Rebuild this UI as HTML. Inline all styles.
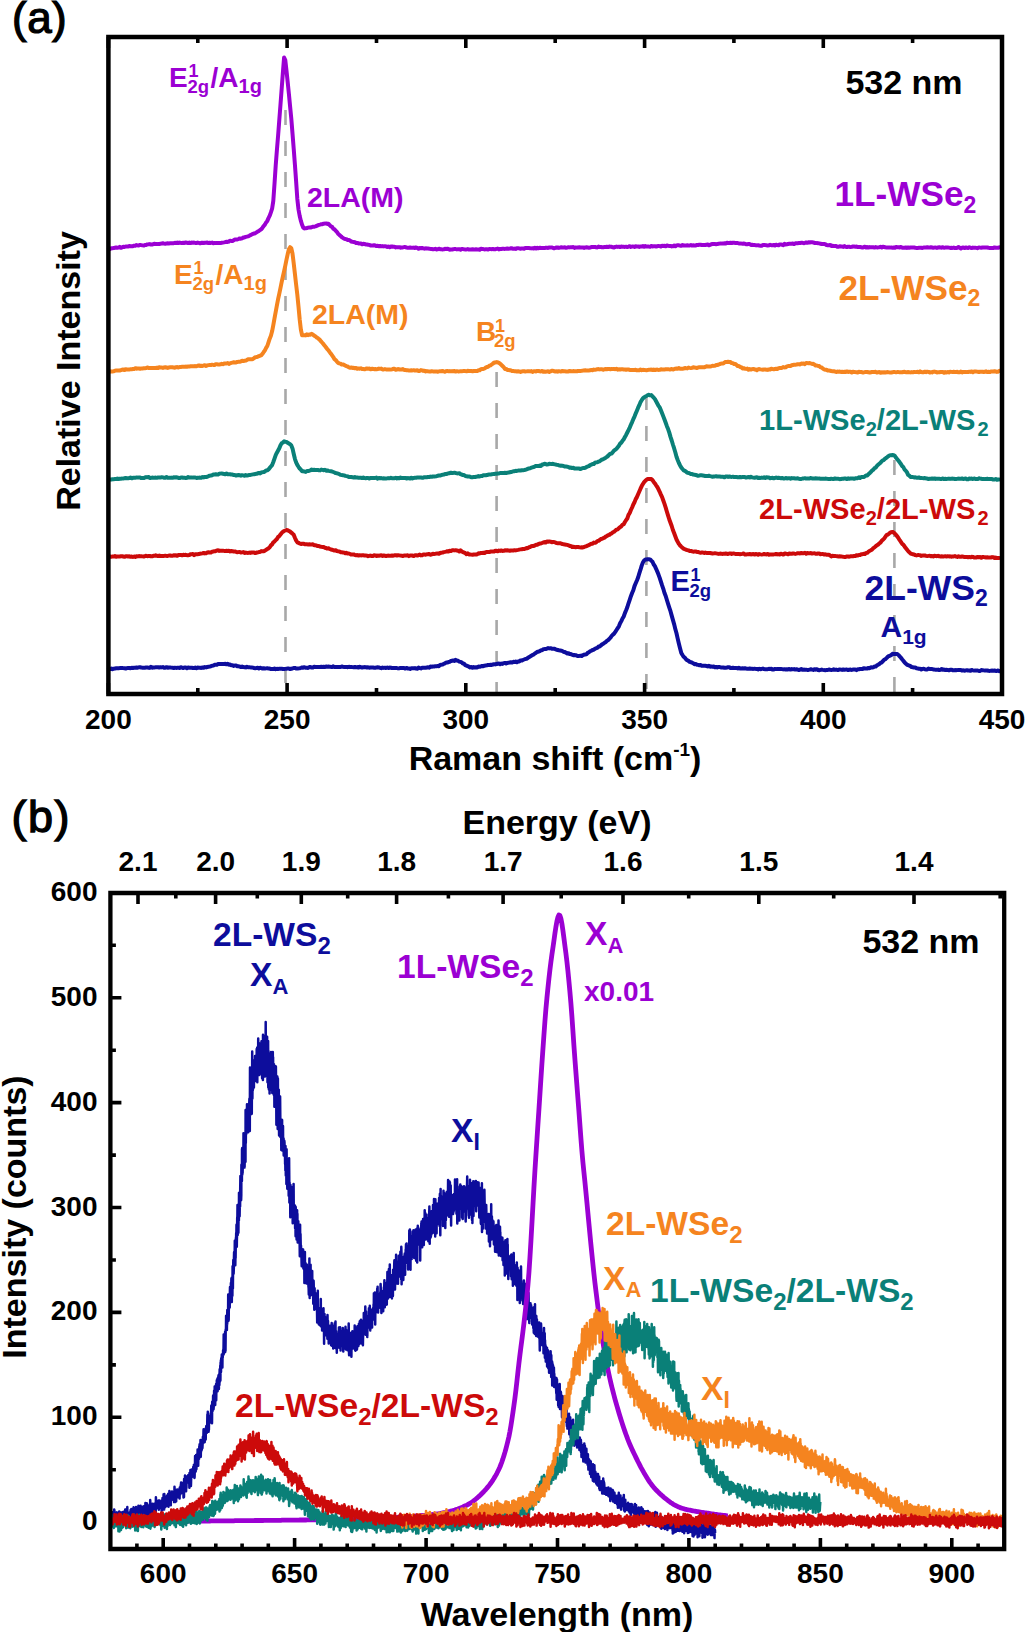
<!DOCTYPE html><html><head><meta charset="utf-8"><style>html,body{margin:0;padding:0;background:#fff;overflow:hidden}svg{display:block}</style></head><body><svg width="1025" height="1632" viewBox="0 0 1025 1632" font-family='"Liberation Sans", sans-serif'>
<rect width="100%" height="100%" fill="#fff"/>
<path d="M285.5,110.1 V692" stroke="#a8a8a8" stroke-width="2.6" stroke-dasharray="15 16" fill="none"/>
<path d="M496.6,372 V692" stroke="#a8a8a8" stroke-width="2.6" stroke-dasharray="15 16" fill="none"/>
<path d="M646.4,395 V692" stroke="#a8a8a8" stroke-width="2.6" stroke-dasharray="15 16" fill="none"/>
<path d="M894.4,460 V692" stroke="#a8a8a8" stroke-width="2.6" stroke-dasharray="15 16" fill="none"/>
<path d="M108.9,248.4 110.1,248.9 111.3,248.3 112.5,248.2 113.7,248.1 114.9,247.8 116.1,247.5 117.3,247.8 118.5,247.6 119.7,246.9 120.9,247.8 122.1,247.3 123.3,246.7 124.5,247 125.7,246.5 126.9,246.5 128.1,246.6 129.3,245.9 130.5,246.2 131.7,246.3 132.9,246.2 134.1,245.7 135.3,245.8 136.5,245.1 137.7,245.4 138.9,245.4 140.1,244.9 141.3,245.1 142.5,245.4 143.7,245.6 144.9,245 146.1,245 147.3,244.4 148.5,244.3 149.7,244.1 150.9,244.5 152.1,244.5 153.3,244.1 154.5,243.8 155.7,244.1 156.9,244.1 158.1,243.9 159.3,244.1 160.5,243.7 161.7,243.6 162.9,243.3 164.1,243.6 165.3,243.8 166.5,243.4 167.7,243.3 168.9,243.4 170.1,243.3 171.3,243.3 172.5,243.2 173.7,243.2 174.9,242.8 176.1,243.1 177.3,242.6 178.5,243 179.7,242.6 180.9,242.9 182.1,243 183.3,242.8 184.5,242.9 185.7,242.5 186.9,242.7 188.1,243.1 189.3,242.6 190.5,243.1 191.7,242.6 192.9,242.7 194.1,242.6 195.3,242.9 196.5,243 197.7,242.6 198.9,242.9 200.1,243.3 201.3,242.8 202.5,242.7 203.7,243 204.9,242.8 206.1,242.7 207.3,242.5 208.5,243.1 209.7,242.8 210.9,242.9 212.1,242.6 213.3,243.2 214.5,243.1 215.7,243.1 216.9,242.9 218.1,243 219.3,243.1 220.5,243.1 221.7,242.8 222.9,242.6 224.1,242.4 225.3,242.1 226.5,241.8 227.7,241.9 228.9,241.5 230.1,240.7 231.3,240.9 232.5,240.9 233.7,240.2 234.9,239.5 236.1,239.6 237.3,239.5 238.5,239 239.7,238.4 240.9,238.7 242.1,238.3 243.3,237.5 244.5,237.4 245.7,236.9 246.9,236.6 248.1,236.4 249.3,235.8 250.5,235.1 251.7,234.5 252.9,233.9 254.1,233.5 255.3,233.2 256.5,232.4 257.7,231.6 258.9,230.9 260.1,230 261.3,229.3 262.5,227.7 263.7,226 264.9,224.6 266.1,222.4 267.3,220.9 268.5,218.1 269.7,215.7 270.9,212.4 272.1,208.7 273.3,200.9 274.5,183.9 275.7,165.7 276.9,150.2 278.1,135.7 279.3,119.9 280.5,104.3 281.7,88.3 282.9,72.3 284.1,57.5 285.3,60.1 286.5,70.8 287.7,82.2 288.9,93.9 290.1,106.5 291.3,118.6 292.5,133.5 293.7,148.7 294.9,164.4 296.1,181.2 297.3,198.7 298.5,209.5 299.7,216 300.9,220.9 302.1,224.8 303.3,227.8 304.5,228.4 305.7,228.2 306.9,228 308.1,227.6 309.3,227.4 310.5,227.6 311.7,227.1 312.9,226.8 314.1,226.7 315.3,226.4 316.5,226 317.7,225.4 318.9,224.9 320.1,224.6 321.3,224.2 322.5,224.2 323.7,223.7 324.9,223.6 326.1,223.4 327.3,223.9 328.5,223.7 329.7,225.2 330.9,226.4 332.1,226.9 333.3,228.8 334.5,229.4 335.7,230.8 336.9,231.9 338.1,233.8 339.3,234.9 340.5,235.8 341.7,237 342.9,237.8 344.1,238.6 345.3,239 346.5,239.2 347.7,239.9 348.9,239.9 350.1,240.7 351.3,241.5 352.5,241.8 353.7,242 354.9,242.2 356.1,243 357.3,242.9 358.5,243.4 359.7,243.5 360.9,243.5 362.1,244.3 363.3,243.8 364.5,244 365.7,244.4 366.9,244.5 368.1,244.7 369.3,244.9 370.5,245.5 371.7,245.4 372.9,245.6 374.1,245.2 375.3,245.5 376.5,246.1 377.7,245.7 378.9,246.3 380.1,245.9 381.3,246.3 382.5,246.1 383.7,246.4 384.9,246.2 386.1,246.4 387.3,247 388.5,246.5 389.7,247.2 390.9,246.6 392.1,246.5 393.3,246.8 394.5,246.8 395.7,247.4 396.9,247.2 398.1,247.3 399.3,247.2 400.5,247.7 401.7,247.4 402.9,247.4 404.1,247.1 405.3,247.1 406.5,247.5 407.7,247.7 408.9,247.8 410.1,247.4 411.3,247.8 412.5,247.8 413.7,247.6 414.9,248 416.1,247.4 417.3,248.1 418.5,248.8 419.7,248 420.9,248.3 422.1,247.9 423.3,248.3 424.5,248.7 425.7,248.3 426.9,248.6 428.1,248.6 429.3,248.7 430.5,248.9 431.7,249 432.9,249.2 434.1,249.2 435.3,248.8 436.5,249.4 437.7,249.3 438.9,248.7 440.1,249.2 441.3,249.3 442.5,249.4 443.7,249.3 444.9,248.8 446.1,249.1 447.3,248.7 448.5,249.2 449.7,249.7 450.9,249.4 452.1,249.5 453.3,249.2 454.5,249.1 455.7,249.1 456.9,249.4 458.1,249.2 459.3,249.2 460.5,249.7 461.7,249 462.9,249.1 464.1,249.3 465.3,249.4 466.5,249.4 467.7,249.1 468.9,249.5 470.1,249.4 471.3,249.6 472.5,249.2 473.7,249.5 474.9,249.5 476.1,249.3 477.3,249.4 478.5,249.4 479.7,249.8 480.9,248.7 482.1,249.1 483.3,249.1 484.5,249.4 485.7,249.3 486.9,249.3 488.1,249.6 489.3,248.9 490.5,249.1 491.7,249.2 492.9,248.9 494.1,249.3 495.3,249.2 496.5,248.9 497.7,248.6 498.9,249.4 500.1,249 501.3,249 502.5,248.8 503.7,248.8 504.9,248.9 506.1,248.7 507.3,248.5 508.5,248.8 509.7,248.6 510.9,248.3 512.1,248.3 513.3,248.8 514.5,248.6 515.7,248.9 516.9,248.3 518.1,248.2 519.3,248.4 520.5,248.7 521.7,248.4 522.9,248.4 524.1,248.7 525.3,248 526.5,247.9 527.7,248 528.9,248.1 530.1,248.2 531.3,248.4 532.5,248.2 533.7,248.5 534.9,247.8 536.1,248.5 537.3,247.8 538.5,248.3 539.7,247.7 540.9,248 542.1,247.9 543.3,248 544.5,248.1 545.7,247.8 546.9,247.8 548.1,247.9 549.3,247.5 550.5,247.6 551.7,247.4 552.9,247.8 554.1,248.3 555.3,247.9 556.5,247.5 557.7,247.5 558.9,247.9 560.1,247.6 561.3,247.3 562.5,247.4 563.7,247.4 564.9,247.3 566.1,247.8 567.3,247.6 568.5,247.2 569.7,247.4 570.9,247.2 572.1,247.2 573.3,247.1 574.5,247.9 575.7,247.4 576.9,247.6 578.1,247.6 579.3,247.3 580.5,247.5 581.7,247.5 582.9,247.4 584.1,247.9 585.3,247.4 586.5,247.3 587.7,247.5 588.9,247.7 590.1,247.5 591.3,247.1 592.5,247 593.7,247 594.9,247 596.1,247.3 597.3,247.4 598.5,246.6 599.7,247.1 600.9,246.9 602.1,247.3 603.3,247.3 604.5,246.9 605.7,247 606.9,246.8 608.1,247.1 609.3,246.6 610.5,246.7 611.7,246.8 612.9,247.3 614.1,247.5 615.3,246.9 616.5,246.6 617.7,246.9 618.9,246.7 620.1,247 621.3,246.6 622.5,246.7 623.7,246.8 624.9,246.9 626.1,246.7 627.3,247.1 628.5,246.7 629.7,246.2 630.9,246.9 632.1,246.6 633.3,246.5 634.5,247 635.7,246.3 636.9,246.6 638.1,246.4 639.3,246.9 640.5,246.4 641.7,246.5 642.9,246.1 644.1,246.8 645.3,246.1 646.5,246.6 647.7,246.6 648.9,246.6 650.1,246.8 651.3,246 652.5,246.4 653.7,246.3 654.9,246.3 656.1,246.5 657.3,246.2 658.5,245.9 659.7,246.1 660.9,246.5 662.1,245.8 663.3,246 664.5,245.8 665.7,246.3 666.9,245.5 668.1,245.8 669.3,245.9 670.5,245.9 671.7,246.4 672.9,246.2 674.1,245.5 675.3,246.3 676.5,245.4 677.7,245.2 678.9,245.3 680.1,245.7 681.3,245.7 682.5,245 683.7,245.6 684.9,245.4 686.1,245.6 687.3,245.3 688.5,245.6 689.7,245.5 690.9,245 692.1,245.6 693.3,245.3 694.5,245.4 695.7,245.5 696.9,244.9 698.1,245 699.3,244.8 700.5,244.7 701.7,245 702.9,245 704.1,245.1 705.3,245.1 706.5,244.6 707.7,244.4 708.9,245.3 710.1,244.9 711.3,244.3 712.5,244 713.7,244 714.9,244.1 716.1,244.2 717.3,244.1 718.5,243.8 719.7,243.6 720.9,243.6 722.1,243.4 723.3,243.4 724.5,243.3 725.7,243.4 726.9,242.7 728.1,243 729.3,243 730.5,242.8 731.7,243 732.9,242.7 734.1,242.8 735.3,242.9 736.5,243 737.7,243 738.9,243.5 740.1,243.4 741.3,243.6 742.5,243.7 743.7,243.6 744.9,243.7 746.1,244.3 747.3,244.2 748.5,244 749.7,244.1 750.9,244.9 752.1,244.8 753.3,245.1 754.5,245.1 755.7,245.2 756.9,245.4 758.1,245.2 759.3,245.5 760.5,245.7 761.7,245.7 762.9,245 764.1,245.1 765.3,245.1 766.5,245.3 767.7,245.6 768.9,245.4 770.1,244.8 771.3,245.2 772.5,245.3 773.7,244.9 774.9,245.5 776.1,244.7 777.3,245.1 778.5,245.3 779.7,244.4 780.9,244.5 782.1,244.7 783.3,245.2 784.5,243.9 785.7,244.4 786.9,244.3 788.1,244 789.3,243.8 790.5,243.8 791.7,243.8 792.9,243.5 794.1,244.1 795.3,243.3 796.5,243.3 797.7,243.2 798.9,243.1 800.1,243.1 801.3,242.8 802.5,242.8 803.7,243.2 804.9,242.9 806.1,242.5 807.3,242.8 808.5,242.3 809.7,242.6 810.9,242.2 812.1,242.3 813.3,242.4 814.5,243 815.7,242.9 816.9,243.1 818.1,243.2 819.3,243.4 820.5,243.7 821.7,244 822.9,244 824.1,244 825.3,244.2 826.5,245 827.7,245.2 828.9,245.3 830.1,244.9 831.3,245.9 832.5,245.8 833.7,245.9 834.9,246.1 836.1,246.1 837.3,246.8 838.5,246.8 839.7,246.2 840.9,246.5 842.1,246.6 843.3,246.9 844.5,246 845.7,246.9 846.9,247.1 848.1,246.7 849.3,246.8 850.5,247.1 851.7,246.9 852.9,246.5 854.1,246.6 855.3,246.7 856.5,246.6 857.7,247 858.9,246.9 860.1,247 861.3,247.2 862.5,247.5 863.7,247.2 864.9,246.7 866.1,247.5 867.3,247.1 868.5,247.5 869.7,247.1 870.9,247.3 872.1,247.2 873.3,247.3 874.5,247.6 875.7,247.1 876.9,247.4 878.1,247.4 879.3,247.2 880.5,246.8 881.7,247.5 882.9,246.7 884.1,247 885.3,247.3 886.5,247.5 887.7,247.6 888.9,247.6 890.1,247.6 891.3,247.4 892.5,247.8 893.7,247.4 894.9,247.8 896.1,246.9 897.3,247.2 898.5,247.3 899.7,247.5 900.9,246.9 902.1,247.7 903.3,247.8 904.5,247.7 905.7,247.4 906.9,247.9 908.1,247.4 909.3,247.8 910.5,247.5 911.7,247.5 912.9,247.5 914.1,247.5 915.3,247.8 916.5,247.9 917.7,247.9 918.9,247.8 920.1,247.7 921.3,247.7 922.5,248 923.7,247.5 924.9,247.4 926.1,247.6 927.3,247.2 928.5,247.5 929.7,247.6 930.9,247.3 932.1,247.5 933.3,247.8 934.5,247.6 935.7,247.6 936.9,247.9 938.1,247.5 939.3,247.3 940.5,247.6 941.7,247.7 942.9,247.2 944.1,247.8 945.3,247.6 946.5,247.5 947.7,247.4 948.9,247.6 950.1,247.9 951.3,247.8 952.5,247.9 953.7,247.6 954.9,248.1 956.1,248 957.3,247.7 958.5,247 959.7,247.7 960.9,248.4 962.1,247.7 963.3,247.4 964.5,248.1 965.7,247.5 966.9,247.8 968.1,247.9 969.3,247.3 970.5,247.7 971.7,248 972.9,247.6 974.1,247.8 975.3,247.7 976.5,247.9 977.7,248.2 978.9,247.4 980.1,247.6 981.3,247.8 982.5,247.5 983.7,247.5 984.9,247.6 986.1,247.6 987.3,247.5 988.5,247.8 989.7,247.9 990.9,247.9 992.1,247.9 993.3,248 994.5,247.4 995.7,247.7 996.9,247.7 998.1,247.8 999.3,247.3" fill="none" stroke="#9b00d3" stroke-width="4" stroke-linejoin="round" stroke-linecap="round"/>
<path d="M108.9,372.2 110.1,371.3 111.3,371.4 112.5,371.4 113.7,371.3 114.9,370.7 116.1,370.6 117.3,370.6 118.5,370.5 119.7,370.5 120.9,370.1 122.1,369.8 123.3,369.5 124.5,370.1 125.7,369.2 126.9,369.6 128.1,369.4 129.3,369.4 130.5,369.3 131.7,369.3 132.9,368.9 134.1,368.9 135.3,368.2 136.5,368.7 137.7,368.4 138.9,368.5 140.1,368.8 141.3,368.4 142.5,368.6 143.7,368.2 144.9,368.3 146.1,368.1 147.3,367.5 148.5,367.9 149.7,368 150.9,368 152.1,368 153.3,367.9 154.5,368.1 155.7,368 156.9,367.7 158.1,368 159.3,367.2 160.5,367.6 161.7,367.6 162.9,367.9 164.1,367.4 165.3,367.2 166.5,367.5 167.7,367.9 168.9,367.4 170.1,367.3 171.3,367.3 172.5,367.3 173.7,367.6 174.9,367.7 176.1,367.2 177.3,367.1 178.5,367.5 179.7,367 180.9,366.9 182.1,366.8 183.3,366.7 184.5,366.8 185.7,366.6 186.9,366.7 188.1,366.5 189.3,366.6 190.5,366.3 191.7,366.3 192.9,366.3 194.1,366.2 195.3,366.1 196.5,366.3 197.7,365.7 198.9,365.4 200.1,366 201.3,365.7 202.5,366 203.7,365.5 204.9,365.2 206.1,365.9 207.3,365.4 208.5,365.1 209.7,364.9 210.9,365.1 212.1,364.7 213.3,364.9 214.5,365 215.7,364.2 216.9,364.3 218.1,364.4 219.3,364.6 220.5,364.3 221.7,363.8 222.9,364.2 224.1,363.6 225.3,363.5 226.5,363.5 227.7,363 228.9,363.9 230.1,363.3 231.3,362.9 232.5,362.6 233.7,362.3 234.9,362.5 236.1,362.4 237.3,361.9 238.5,361.8 239.7,361.8 240.9,361.4 242.1,360.7 243.3,361.1 244.5,360.8 245.7,360.6 246.9,360 248.1,359.3 249.3,359.2 250.5,359.2 251.7,359.3 252.9,359 254.1,358.1 255.3,357.2 256.5,357 257.7,356.7 258.9,356.2 260.1,355.6 261.3,355.3 262.5,353.8 263.7,352 264.9,350.3 266.1,347.9 267.3,346 268.5,342.3 269.7,338.7 270.9,335.8 272.1,331.3 273.3,325.1 274.5,318.4 275.7,311.8 276.9,305.4 278.1,299.2 279.3,293.6 280.5,287.8 281.7,281.9 282.9,276.5 284.1,271.1 285.3,265.6 286.5,259.7 287.7,254.1 288.9,249.2 290.1,247.2 291.3,248.3 292.5,253.5 293.7,263.2 294.9,273.8 296.1,284.4 297.3,294.4 298.5,306.6 299.7,319.5 300.9,329.8 302.1,335.2 303.3,335.2 304.5,335.2 305.7,335.4 306.9,334.3 308.1,335.1 309.3,334.4 310.5,334.7 311.7,333.8 312.9,334.7 314.1,335.6 315.3,336.2 316.5,337.4 317.7,338 318.9,339.1 320.1,340.1 321.3,341.7 322.5,343 323.7,344.4 324.9,345.9 326.1,347.5 327.3,349.2 328.5,350.4 329.7,352.1 330.9,353.7 332.1,355.4 333.3,357.1 334.5,359.2 335.7,360.1 336.9,361.6 338.1,362.8 339.3,363.3 340.5,363.7 341.7,364.5 342.9,364.4 344.1,364.9 345.3,365.6 346.5,366.1 347.7,366.5 348.9,367.4 350.1,367.7 351.3,367.5 352.5,367.9 353.7,367.8 354.9,368.3 356.1,368 357.3,368.8 358.5,368.4 359.7,368.7 360.9,368.3 362.1,369 363.3,368.9 364.5,369.3 365.7,368.8 366.9,368.5 368.1,368.7 369.3,368.6 370.5,369.3 371.7,368.8 372.9,368.8 374.1,369.2 375.3,369.1 376.5,369.2 377.7,369 378.9,368.6 380.1,368.8 381.3,368.6 382.5,369.5 383.7,369.4 384.9,369.1 386.1,369.4 387.3,369.4 388.5,369.4 389.7,369.4 390.9,369.6 392.1,369.4 393.3,368.8 394.5,368.7 395.7,369.8 396.9,369.6 398.1,368.9 399.3,369.6 400.5,369.4 401.7,369.6 402.9,369.1 404.1,370 405.3,369.9 406.5,370.2 407.7,370.3 408.9,370.4 410.1,370.6 411.3,370.3 412.5,370.4 413.7,370.2 414.9,370.6 416.1,370.5 417.3,370.3 418.5,371 419.7,370.9 420.9,370.1 422.1,370.4 423.3,370.9 424.5,370.7 425.7,371.4 426.9,371.1 428.1,371.3 429.3,371.4 430.5,371.6 431.7,371.2 432.9,371.4 434.1,371.4 435.3,371.5 436.5,371.4 437.7,371.7 438.9,371.4 440.1,371.2 441.3,371.3 442.5,371 443.7,371.4 444.9,371.7 446.1,371.1 447.3,370.9 448.5,371.3 449.7,371.1 450.9,371.3 452.1,371.1 453.3,371.3 454.5,371 455.7,371.6 456.9,371.2 458.1,371.4 459.3,371.4 460.5,371.2 461.7,371.3 462.9,371.1 464.1,371.1 465.3,371.1 466.5,371.3 467.7,370.8 468.9,370.9 470.1,370.9 471.3,370.9 472.5,371.3 473.7,371 474.9,370.9 476.1,371 477.3,371 478.5,370.3 479.7,370.3 480.9,369.1 482.1,368.9 483.3,369 484.5,368.5 485.7,367.6 486.9,367 488.1,366.7 489.3,365.7 490.5,365.4 491.7,364.5 492.9,363.6 494.1,362.6 495.3,362.6 496.5,362.1 497.7,362.3 498.9,362.8 500.1,363.7 501.3,364.8 502.5,366 503.7,367.2 504.9,368.9 506.1,368.9 507.3,369.9 508.5,369.9 509.7,370.3 510.9,370.3 512.1,371.1 513.3,371.1 514.5,371.2 515.7,371.3 516.9,371.6 518.1,371.3 519.3,371.5 520.5,372 521.7,371.4 522.9,371.3 524.1,371.2 525.3,371.6 526.5,371.4 527.7,371.2 528.9,371.2 530.1,371.4 531.3,371.1 532.5,371.9 533.7,371.3 534.9,371.3 536.1,371.4 537.3,370.9 538.5,371 539.7,371.3 540.9,371.4 542.1,371 543.3,371.8 544.5,371.5 545.7,371.7 546.9,371.6 548.1,371.3 549.3,371.9 550.5,371.3 551.7,370.8 552.9,370.7 554.1,371.3 555.3,371.5 556.5,371.3 557.7,371.7 558.9,371.2 560.1,371.4 561.3,371.4 562.5,370.9 563.7,371.3 564.9,371.3 566.1,371.4 567.3,371.4 568.5,371.4 569.7,370.9 570.9,371.3 572.1,371.3 573.3,371.1 574.5,371.2 575.7,371.2 576.9,371.3 578.1,371 579.3,371.1 580.5,370.9 581.7,370.8 582.9,370.6 584.1,370.6 585.3,370.3 586.5,370.4 587.7,370.5 588.9,370.4 590.1,370.3 591.3,369.9 592.5,370.2 593.7,369.6 594.9,369.8 596.1,369.6 597.3,369.2 598.5,369.1 599.7,369.4 600.9,369.2 602.1,369.2 603.3,369.8 604.5,369.2 605.7,369 606.9,369.2 608.1,368.9 609.3,369 610.5,369.2 611.7,368.9 612.9,369.1 614.1,369.1 615.3,369.2 616.5,368.8 617.7,369.7 618.9,369.3 620.1,369.5 621.3,369.2 622.5,369.2 623.7,369.6 624.9,369.5 626.1,369.8 627.3,369.5 628.5,369.5 629.7,369.9 630.9,370 632.1,370.1 633.3,369.9 634.5,370 635.7,369.8 636.9,370.3 638.1,370.3 639.3,370.3 640.5,369.6 641.7,370.2 642.9,369.8 644.1,370.1 645.3,370.1 646.5,370.3 647.7,369.9 648.9,369.8 650.1,369.7 651.3,369.6 652.5,370 653.7,369.6 654.9,370 656.1,369.7 657.3,369.6 658.5,369.9 659.7,369.8 660.9,369.3 662.1,369.5 663.3,369.5 664.5,369.6 665.7,369.2 666.9,369.2 668.1,369.2 669.3,369.4 670.5,369.4 671.7,369 672.9,369.5 674.1,369.1 675.3,368.7 676.5,368.5 677.7,368.7 678.9,368.1 680.1,368.7 681.3,368.7 682.5,368.8 683.7,368.6 684.9,367.9 686.1,368.2 687.3,368.4 688.5,367.6 689.7,367.9 690.9,368.1 692.1,367.9 693.3,367.3 694.5,367.6 695.7,367.7 696.9,368.1 698.1,367.4 699.3,367.2 700.5,367.3 701.7,367.3 702.9,367.2 704.1,367.3 705.3,366.8 706.5,366.3 707.7,366.5 708.9,366.4 710.1,366.4 711.3,366.3 712.5,365.7 713.7,365.9 714.9,365.7 716.1,365.1 717.3,365.1 718.5,364.5 719.7,364.1 720.9,363.6 722.1,363.4 723.3,363.5 724.5,362.5 725.7,361.9 726.9,362 728.1,361.8 729.3,362 730.5,362.1 731.7,363.1 732.9,363.2 734.1,364 735.3,364 736.5,364.8 737.7,366.1 738.9,365.9 740.1,367 741.3,367.2 742.5,368.5 743.7,368.2 744.9,368.7 746.1,368.9 747.3,368.6 748.5,369.7 749.7,369.1 750.9,369.6 752.1,369.1 753.3,368.9 754.5,369.4 755.7,369.5 756.9,370.2 758.1,369.2 759.3,369.1 760.5,369.4 761.7,369.6 762.9,369.7 764.1,369.4 765.3,369.5 766.5,369.7 767.7,369.9 768.9,369.4 770.1,369.6 771.3,368.7 772.5,369.1 773.7,369.3 774.9,369 776.1,368.8 777.3,369 778.5,368.3 779.7,367.9 780.9,368 782.1,367.7 783.3,367.1 784.5,367.4 785.7,367.3 786.9,366.4 788.1,366.1 789.3,366 790.5,366 791.7,365.3 792.9,365 794.1,364.8 795.3,364.7 796.5,364.5 797.7,364.2 798.9,364.3 800.1,364.4 801.3,363.5 802.5,363.8 803.7,363.5 804.9,364.1 806.1,363 807.3,363.1 808.5,363.3 809.7,363 810.9,363.5 812.1,364 813.3,363.8 814.5,364.7 815.7,365.6 816.9,365.5 818.1,366 819.3,366.1 820.5,367.3 821.7,367.5 822.9,368.6 824.1,369.4 825.3,369.7 826.5,369.8 827.7,370.5 828.9,370.6 830.1,370.7 831.3,371 832.5,371.2 833.7,371.2 834.9,371.5 836.1,372 837.3,371.6 838.5,371.7 839.7,371.5 840.9,372 842.1,371.8 843.3,372.1 844.5,371.7 845.7,372 846.9,371.4 848.1,371.9 849.3,371.8 850.5,371.8 851.7,372.5 852.9,371.7 854.1,372.1 855.3,372.1 856.5,372.3 857.7,372.5 858.9,371.8 860.1,372.1 861.3,372 862.5,372.4 863.7,372.4 864.9,372.1 866.1,372.1 867.3,372 868.5,372.3 869.7,372.6 870.9,372.3 872.1,372 873.3,372 874.5,372 875.7,371.8 876.9,372.6 878.1,372.2 879.3,372.1 880.5,372.8 881.7,372.3 882.9,372.6 884.1,372.3 885.3,372.5 886.5,372.2 887.7,372.1 888.9,372.3 890.1,372.4 891.3,372.5 892.5,372.2 893.7,372.1 894.9,372.1 896.1,372.3 897.3,372.1 898.5,372.1 899.7,372.3 900.9,372.3 902.1,372.3 903.3,372 904.5,371.8 905.7,372.2 906.9,372.2 908.1,372.1 909.3,372.2 910.5,372.4 911.7,372.1 912.9,372.3 914.1,371.9 915.3,372.1 916.5,371.9 917.7,371.8 918.9,372.3 920.1,371.4 921.3,372.1 922.5,372.3 923.7,372.2 924.9,371.7 926.1,372.2 927.3,371.7 928.5,371.9 929.7,372.5 930.9,372.2 932.1,372.4 933.3,371.8 934.5,371.6 935.7,371.9 936.9,372.4 938.1,372.3 939.3,372.3 940.5,372 941.7,372 942.9,372 944.1,372.8 945.3,372.1 946.5,372.5 947.7,372 948.9,372.4 950.1,371.7 951.3,371.9 952.5,372.1 953.7,371.8 954.9,371.9 956.1,371.9 957.3,371.8 958.5,372.3 959.7,372.2 960.9,371.6 962.1,372.4 963.3,371.9 964.5,371.9 965.7,371.9 966.9,372.1 968.1,372.1 969.3,371.7 970.5,371.9 971.7,371.5 972.9,372.3 974.1,371.6 975.3,371.6 976.5,371.6 977.7,371.8 978.9,372 980.1,371.7 981.3,371.8 982.5,371.7 983.7,372 984.9,371.8 986.1,371.3 987.3,372.1 988.5,371.8 989.7,372.1 990.9,371.5 992.1,371.5 993.3,371.6 994.5,371.2 995.7,371.5 996.9,371.9 998.1,371.7 999.3,370.9" fill="none" stroke="#f5841f" stroke-width="4" stroke-linejoin="round" stroke-linecap="round"/>
<path d="M108.9,479.8 110.1,479.5 111.3,479.5 112.5,479.2 113.7,479.2 114.9,479.1 116.1,479 117.3,478.6 118.5,479 119.7,478.7 120.9,478.7 122.1,478.6 123.3,478.4 124.5,478.3 125.7,477.9 126.9,478.3 128.1,478.2 129.3,478 130.5,477.6 131.7,478.3 132.9,477.8 134.1,477.8 135.3,477.7 136.5,477.6 137.7,477.6 138.9,477.4 140.1,477.5 141.3,478.1 142.5,477.9 143.7,478.1 144.9,477.5 146.1,477.1 147.3,477.3 148.5,476.9 149.7,477.9 150.9,477.9 152.1,477.6 153.3,477.7 154.5,477.7 155.7,477.6 156.9,477.8 158.1,477.4 159.3,477.5 160.5,477.6 161.7,477.2 162.9,477.4 164.1,477.7 165.3,477.7 166.5,477 167.7,477.8 168.9,477.7 170.1,477.8 171.3,477.6 172.5,477.8 173.7,477.3 174.9,477.6 176.1,477.3 177.3,477.5 178.5,477.9 179.7,478 180.9,477.6 182.1,477.5 183.3,477.8 184.5,477.7 185.7,478.1 186.9,477.8 188.1,477 189.3,477.6 190.5,477.5 191.7,477.4 192.9,477.6 194.1,477.6 195.3,477.5 196.5,478 197.7,477.7 198.9,477.7 200.1,477.6 201.3,477.8 202.5,477.1 203.7,477.4 204.9,476.9 206.1,477.1 207.3,476.8 208.5,476.2 209.7,475.7 210.9,475.6 212.1,475.3 213.3,474.6 214.5,474.6 215.7,474.2 216.9,474.5 218.1,474.4 219.3,473.7 220.5,473.6 221.7,473.4 222.9,473.8 224.1,474 225.3,474.3 226.5,473.6 227.7,474.3 228.9,474.2 230.1,474.2 231.3,474.5 232.5,474.6 233.7,475 234.9,475.1 236.1,475.5 237.3,475.2 238.5,475 239.7,475.3 240.9,475.7 242.1,475.2 243.3,475.4 244.5,475.7 245.7,475.1 246.9,475.6 248.1,475.3 249.3,474.9 250.5,474.9 251.7,474.6 252.9,474.4 254.1,474.2 255.3,474 256.5,473.8 257.7,473.3 258.9,473 260.1,473.4 261.3,472.4 262.5,472.2 263.7,472.1 264.9,471.5 266.1,470.4 267.3,470.3 268.5,469.4 269.7,467.9 270.9,466.5 272.1,465.1 273.3,462 274.5,458.6 275.7,455.2 276.9,452.7 278.1,450.5 279.3,448.3 280.5,445.2 281.7,443.2 282.9,442.5 284.1,441.3 285.3,441.7 286.5,441.9 287.7,442.8 288.9,443.5 290.1,444.2 291.3,445.4 292.5,448.4 293.7,453.7 294.9,458.8 296.1,462.4 297.3,464.9 298.5,466.8 299.7,468.5 300.9,469.7 302.1,471.2 303.3,471.2 304.5,471.6 305.7,471.9 306.9,471 308.1,471 309.3,470.7 310.5,470.3 311.7,469.6 312.9,470.1 314.1,469.8 315.3,469.9 316.5,469.9 317.7,469.9 318.9,470.2 320.1,470.4 321.3,469.6 322.5,469.9 323.7,470.2 324.9,469.8 326.1,470.8 327.3,470.4 328.5,470.9 329.7,471.1 330.9,471.3 332.1,471.5 333.3,472 334.5,472.5 335.7,473.1 336.9,473.3 338.1,473.7 339.3,474.1 340.5,474.9 341.7,475.1 342.9,475.2 344.1,475.4 345.3,475.9 346.5,476.1 347.7,476.4 348.9,477 350.1,477 351.3,477 352.5,477.2 353.7,477.6 354.9,477 356.1,477.6 357.3,477.5 358.5,477.7 359.7,477.8 360.9,477.8 362.1,478.1 363.3,477.5 364.5,478.1 365.7,478.2 366.9,477.9 368.1,477.9 369.3,478.6 370.5,477.9 371.7,478 372.9,477.9 374.1,478 375.3,477.9 376.5,477.6 377.7,478.7 378.9,477.9 380.1,478.2 381.3,478.1 382.5,478.4 383.7,478.3 384.9,478.4 386.1,478.4 387.3,478.3 388.5,478.1 389.7,478.3 390.9,477.7 392.1,478.3 393.3,478.3 394.5,478.2 395.7,477.8 396.9,478.4 398.1,477.9 399.3,478.3 400.5,477.6 401.7,478.1 402.9,477.9 404.1,477.9 405.3,477.9 406.5,478.5 407.7,478.1 408.9,478.2 410.1,478.6 411.3,477.7 412.5,478.4 413.7,477.9 414.9,477.8 416.1,477.8 417.3,477.4 418.5,477.4 419.7,477.4 420.9,477.4 422.1,477.7 423.3,477.7 424.5,477.2 425.7,477.3 426.9,477.2 428.1,476.9 429.3,477 430.5,476.6 431.7,476.8 432.9,476.5 434.1,476.4 435.3,476.4 436.5,476.2 437.7,475.8 438.9,475.5 440.1,475.5 441.3,475.1 442.5,474.8 443.7,474.6 444.9,474.1 446.1,474.1 447.3,473.8 448.5,473.2 449.7,473.2 450.9,472.7 452.1,473 453.3,472.9 454.5,472.7 455.7,473.1 456.9,473.3 458.1,473.4 459.3,473.2 460.5,474.1 461.7,474.5 462.9,475.1 464.1,475.1 465.3,476 466.5,476.2 467.7,476.6 468.9,476.4 470.1,476.7 471.3,477.3 472.5,477.2 473.7,476.9 474.9,477.1 476.1,476.8 477.3,476.5 478.5,476.1 479.7,476.5 480.9,476 482.1,475.9 483.3,475.2 484.5,475.3 485.7,475.3 486.9,475 488.1,474.7 489.3,474.4 490.5,474.6 491.7,474.3 492.9,474.1 494.1,474 495.3,473.8 496.5,473.7 497.7,473.5 498.9,473.5 500.1,473 501.3,473 502.5,473.1 503.7,472.9 504.9,472.8 506.1,473.1 507.3,472.7 508.5,472.6 509.7,472.3 510.9,472 512.1,471.7 513.3,471.3 514.5,471.2 515.7,470.8 516.9,470.9 518.1,470.6 519.3,470.6 520.5,470.6 521.7,470.3 522.9,470.3 524.1,470.1 525.3,469.8 526.5,469.4 527.7,468.9 528.9,468.4 530.1,468.3 531.3,467.7 532.5,467.3 533.7,467.1 534.9,466.4 536.1,465.9 537.3,466 538.5,466.1 539.7,465.6 540.9,466 542.1,464.4 543.3,464.4 544.5,463.8 545.7,464 546.9,464.6 548.1,464.4 549.3,463.7 550.5,463.9 551.7,463.9 552.9,463.8 554.1,464.2 555.3,464.4 556.5,464.7 557.7,464.9 558.9,465.3 560.1,465.7 561.3,465.6 562.5,465.8 563.7,466.1 564.9,466.5 566.1,466.6 567.3,466.7 568.5,467.1 569.7,467.7 570.9,467.5 572.1,468.1 573.3,467.8 574.5,468.5 575.7,468.6 576.9,468.5 578.1,468.6 579.3,468.6 580.5,469.1 581.7,468.4 582.9,468.1 584.1,468 585.3,467.8 586.5,467.1 587.7,466.4 588.9,466.1 590.1,465.1 591.3,464.6 592.5,464 593.7,464.1 594.9,462.7 596.1,462.4 597.3,462.2 598.5,461.6 599.7,461.3 600.9,460.3 602.1,459.4 603.3,459.2 604.5,458.4 605.7,457.7 606.9,456.9 608.1,455.9 609.3,454.5 610.5,453.7 611.7,453.5 612.9,452 614.1,450.5 615.3,449.8 616.5,448.8 617.7,447.3 618.9,445.8 620.1,443.6 621.3,442.6 622.5,440.8 623.7,439.4 624.9,437 626.1,434.9 627.3,432.5 628.5,430.1 629.7,427.6 630.9,424.8 632.1,422.1 633.3,419.2 634.5,416.6 635.7,413.6 636.9,410.7 638.1,407.7 639.3,405.2 640.5,402.1 641.7,400.2 642.9,398.4 644.1,397.4 645.3,396.5 646.5,396 647.7,395.1 648.9,394.8 650.1,395.3 651.3,395.1 652.5,396.4 653.7,397.7 654.9,399 656.1,401.2 657.3,403.5 658.5,405.8 659.7,407.4 660.9,410.2 662.1,413.2 663.3,416.4 664.5,419.5 665.7,422.8 666.9,426.2 668.1,429.1 669.3,432.6 670.5,436.9 671.7,440.5 672.9,444.5 674.1,448.2 675.3,452.2 676.5,456.7 677.7,460 678.9,463 680.1,465.4 681.3,467.5 682.5,469 683.7,470.3 684.9,470.8 686.1,471.7 687.3,472.8 688.5,472.9 689.7,473.3 690.9,474.1 692.1,474 693.3,474.6 694.5,474.8 695.7,475 696.9,475.3 698.1,475.8 699.3,475.6 700.5,475.2 701.7,475.3 702.9,475.6 704.1,475.7 705.3,476 706.5,475.9 707.7,476.1 708.9,475.7 710.1,476.1 711.3,476.4 712.5,476.7 713.7,476.5 714.9,476.4 716.1,476.2 717.3,476.5 718.5,476.5 719.7,476.5 720.9,476.7 722.1,476.8 723.3,476.8 724.5,477.3 725.7,476.5 726.9,476.4 728.1,476.9 729.3,476.5 730.5,476.8 731.7,476.9 732.9,476.7 734.1,477.1 735.3,477.1 736.5,477 737.7,477.2 738.9,477.3 740.1,477 741.3,477.2 742.5,477.1 743.7,477.1 744.9,477.1 746.1,477.6 747.3,477.3 748.5,476.9 749.7,477.4 750.9,476.7 752.1,477.4 753.3,477.6 754.5,477.8 755.7,477.5 756.9,477.3 758.1,478 759.3,477.8 760.5,477.9 761.7,477.6 762.9,477.8 764.1,477.3 765.3,477.9 766.5,477.2 767.7,477.6 768.9,477.5 770.1,478.2 771.3,478.1 772.5,477.8 773.7,478.3 774.9,478 776.1,477.5 777.3,478 778.5,477.7 779.7,478.1 780.9,478.2 782.1,478 783.3,478.4 784.5,478.5 785.7,478 786.9,478.4 788.1,478.3 789.3,478.2 790.5,478.7 791.7,478.1 792.9,478.3 794.1,478.3 795.3,478.5 796.5,478.6 797.7,478.2 798.9,478.8 800.1,478.9 801.3,479 802.5,478.5 803.7,478.4 804.9,478.2 806.1,478.6 807.3,478.5 808.5,478.5 809.7,478.4 810.9,478 812.1,478.5 813.3,478.6 814.5,478.5 815.7,478.3 816.9,478.6 818.1,478.6 819.3,478.4 820.5,478.8 821.7,478.7 822.9,478.7 824.1,478.8 825.3,478.6 826.5,478.7 827.7,478.9 828.9,478.9 830.1,479 831.3,478.7 832.5,478.9 833.7,479 834.9,478.4 836.1,478.7 837.3,478.8 838.5,478.8 839.7,479.2 840.9,479.1 842.1,478.8 843.3,478.8 844.5,478.4 845.7,478.5 846.9,479.1 848.1,478.3 849.3,478.8 850.5,478.4 851.7,478.5 852.9,478.4 854.1,478.8 855.3,478.3 856.5,478.2 857.7,478.2 858.9,477.2 860.1,478 861.3,477 862.5,477 863.7,477.1 864.9,476.3 866.1,475.6 867.3,475.5 868.5,474.1 869.7,473.2 870.9,471.9 872.1,470.4 873.3,469.7 874.5,468.1 875.7,467.7 876.9,465.9 878.1,464.8 879.3,463.8 880.5,462.8 881.7,461.3 882.9,460.3 884.1,459.8 885.3,458.4 886.5,457.7 887.7,456.7 888.9,455.8 890.1,455.2 891.3,455.2 892.5,455 893.7,455.2 894.9,456 896.1,457.8 897.3,459.2 898.5,460.7 899.7,462.3 900.9,464 902.1,466.1 903.3,467 904.5,469.5 905.7,470.6 906.9,472.2 908.1,474.8 909.3,475.6 910.5,476.9 911.7,477 912.9,477 914.1,477.5 915.3,477.3 916.5,477.7 917.7,477.7 918.9,477.4 920.1,478 921.3,477.9 922.5,478.1 923.7,478.3 924.9,478 926.1,478.5 927.3,478.6 928.5,479 929.7,478.8 930.9,478.7 932.1,478.5 933.3,478.7 934.5,478.4 935.7,478.9 936.9,478.7 938.1,478.7 939.3,478.8 940.5,478.9 941.7,478.9 942.9,478.5 944.1,479.1 945.3,478.8 946.5,478.9 947.7,478.8 948.9,478.6 950.1,478.9 951.3,478.7 952.5,478.6 953.7,478.8 954.9,479 956.1,478.9 957.3,478.8 958.5,478.6 959.7,478.7 960.9,478.8 962.1,478.4 963.3,479 964.5,478.8 965.7,478.5 966.9,479.2 968.1,479.3 969.3,478.5 970.5,478.7 971.7,478.6 972.9,479 974.1,478.5 975.3,478.9 976.5,478.9 977.7,479.1 978.9,478.3 980.1,478.6 981.3,478.8 982.5,479.1 983.7,478.9 984.9,479.1 986.1,479.1 987.3,478.8 988.5,479.1 989.7,479.1 990.9,479.1 992.1,479.1 993.3,479.6 994.5,479.5 995.7,479 996.9,479.8 998.1,479.5 999.3,479.4" fill="none" stroke="#0a8078" stroke-width="4" stroke-linejoin="round" stroke-linecap="round"/>
<path d="M108.9,556.9 110.1,556.6 111.3,556.7 112.5,556.6 113.7,556.6 114.9,556.1 116.1,556.8 117.3,556.4 118.5,556.6 119.7,556.5 120.9,556.3 122.1,556.2 123.3,556.5 124.5,556.8 125.7,556.3 126.9,556.3 128.1,556.5 129.3,556.3 130.5,556.8 131.7,556.5 132.9,557 134.1,556.5 135.3,556.9 136.5,556.2 137.7,556.4 138.9,556.1 140.1,556.2 141.3,556.2 142.5,556.4 143.7,556.6 144.9,556.1 146.1,555.8 147.3,556.2 148.5,556.1 149.7,556 150.9,556.3 152.1,556.3 153.3,555.8 154.5,555.8 155.7,555.3 156.9,555.8 158.1,556.1 159.3,555.6 160.5,556 161.7,556 162.9,555.9 164.1,555.9 165.3,555.7 166.5,555.9 167.7,555.9 168.9,555.6 170.1,555.5 171.3,555.8 172.5,555.8 173.7,555.2 174.9,555.6 176.1,555.3 177.3,555.8 178.5,555.1 179.7,555 180.9,554.9 182.1,555.3 183.3,554.8 184.5,555.1 185.7,554.8 186.9,555.2 188.1,555.2 189.3,555.1 190.5,554.2 191.7,554.3 192.9,553.9 194.1,555.2 195.3,554.3 196.5,554.2 197.7,554.2 198.9,554.1 200.1,553.7 201.3,553.6 202.5,553.4 203.7,552.9 204.9,553.4 206.1,553.2 207.3,552.5 208.5,552.3 209.7,552.5 210.9,552.5 212.1,551.7 213.3,551.6 214.5,551.2 215.7,551.2 216.9,550.4 218.1,550.3 219.3,550.9 220.5,550.7 221.7,550.8 222.9,550.7 224.1,550.9 225.3,550.9 226.5,550.8 227.7,551 228.9,550.8 230.1,551.4 231.3,551 232.5,551.2 233.7,551.6 234.9,551.4 236.1,551.9 237.3,552.2 238.5,552.1 239.7,551.9 240.9,552.6 242.1,552.4 243.3,552.1 244.5,553 245.7,552.6 246.9,552.8 248.1,552.9 249.3,552.6 250.5,552.9 251.7,552.4 252.9,552.4 254.1,552.5 255.3,553.1 256.5,552.6 257.7,552.5 258.9,552 260.1,552 261.3,551.1 262.5,551.3 263.7,551.2 264.9,550.6 266.1,549.8 267.3,549 268.5,548.4 269.7,547.3 270.9,545.4 272.1,544.4 273.3,542.3 274.5,541.5 275.7,540.2 276.9,539 278.1,536.9 279.3,536.1 280.5,534.4 281.7,532.9 282.9,531.8 284.1,531 285.3,530.5 286.5,530 287.7,530.2 288.9,530.9 290.1,531.6 291.3,532.6 292.5,533.6 293.7,534.7 294.9,537.7 296.1,540.4 297.3,542.3 298.5,542.8 299.7,543.5 300.9,544 302.1,543.7 303.3,543.7 304.5,544.2 305.7,544.2 306.9,544.3 308.1,544.4 309.3,544.3 310.5,544.5 311.7,544.5 312.9,544.3 314.1,545.3 315.3,545.3 316.5,545.5 317.7,546.1 318.9,546 320.1,546.6 321.3,546.8 322.5,546.9 323.7,547 324.9,547.7 326.1,548 327.3,548.6 328.5,548.3 329.7,549 330.9,549.5 332.1,549.8 333.3,550.1 334.5,550.6 335.7,550.2 336.9,551.1 338.1,551.3 339.3,551.4 340.5,552.2 341.7,552.3 342.9,552.4 344.1,552.6 345.3,553.3 346.5,552.8 347.7,553.6 348.9,553.5 350.1,554 351.3,554.6 352.5,554.5 353.7,554.4 354.9,555 356.1,555.2 357.3,555.1 358.5,555.5 359.7,555.2 360.9,555.4 362.1,555.3 363.3,555.3 364.5,555.5 365.7,555.4 366.9,555.6 368.1,556.2 369.3,555.8 370.5,555.6 371.7,556 372.9,556 374.1,555.3 375.3,555.4 376.5,556 377.7,555.6 378.9,555.7 380.1,555.5 381.3,555.3 382.5,555.9 383.7,555.4 384.9,555.7 386.1,556.1 387.3,555.7 388.5,555.6 389.7,555.8 390.9,555.7 392.1,555.5 393.3,555.7 394.5,555.3 395.7,555.2 396.9,555.5 398.1,555.2 399.3,555.4 400.5,555.6 401.7,555.7 402.9,556.1 404.1,555.4 405.3,555.5 406.5,555.5 407.7,555.3 408.9,556.1 410.1,555.4 411.3,555.5 412.5,555.5 413.7,556.1 414.9,555.3 416.1,555.2 417.3,555.6 418.5,555.1 419.7,554.6 420.9,555.4 422.1,555.2 423.3,554.5 424.5,554.5 425.7,554.7 426.9,554.3 428.1,554.1 429.3,554.1 430.5,554.7 431.7,554.4 432.9,553.8 434.1,553.9 435.3,553.8 436.5,553.6 437.7,553.5 438.9,553.8 440.1,553 441.3,552.7 442.5,552.6 443.7,552.1 444.9,551.9 446.1,551.6 447.3,551.2 448.5,551.5 449.7,550.8 450.9,551.1 452.1,550.3 453.3,550.2 454.5,550.4 455.7,550.2 456.9,550.6 458.1,550.7 459.3,551.4 460.5,550.4 461.7,551.4 462.9,552.1 464.1,552.5 465.3,553.1 466.5,554.2 467.7,553.4 468.9,554.4 470.1,554.4 471.3,554.6 472.5,554.8 473.7,554.5 474.9,554.6 476.1,554.6 477.3,554.3 478.5,553.3 479.7,553.4 480.9,553 482.1,552.9 483.3,552.8 484.5,553.1 485.7,552.2 486.9,552 488.1,551.9 489.3,552.1 490.5,551.5 491.7,551.6 492.9,551.6 494.1,551.5 495.3,550.7 496.5,550.8 497.7,551.3 498.9,550.6 500.1,550.9 501.3,550.5 502.5,550.9 503.7,550.8 504.9,550.3 506.1,550.6 507.3,550.3 508.5,550.4 509.7,550.8 510.9,550.5 512.1,550.4 513.3,550.6 514.5,550.2 515.7,550.4 516.9,550.1 518.1,549.9 519.3,549.6 520.5,549.4 521.7,549.2 522.9,549 524.1,549.1 525.3,548.7 526.5,548.1 527.7,548.2 528.9,547.3 530.1,547 531.3,546.3 532.5,546 533.7,546 534.9,545.4 536.1,544.7 537.3,544.7 538.5,544 539.7,543.6 540.9,543.5 542.1,543 543.3,542.5 544.5,542.1 545.7,542.5 546.9,541.4 548.1,541.7 549.3,541.4 550.5,541.7 551.7,542.2 552.9,542 554.1,542.1 555.3,542.4 556.5,543.1 557.7,543.2 558.9,543.2 560.1,543.2 561.3,543.6 562.5,544.1 563.7,544.3 564.9,544.6 566.1,544.7 567.3,544.9 568.5,545.3 569.7,545.9 570.9,545.9 572.1,547 573.3,546.8 574.5,547 575.7,547.2 576.9,546.9 578.1,546.9 579.3,547.2 580.5,547.4 581.7,547.3 582.9,547.4 584.1,547 585.3,546.5 586.5,546.1 587.7,545.5 588.9,545.1 590.1,544.4 591.3,543.8 592.5,543.7 593.7,542.6 594.9,542.8 596.1,542.3 597.3,541.1 598.5,540.8 599.7,540 600.9,539 602.1,538.7 603.3,538.1 604.5,537.6 605.7,536.6 606.9,536 608.1,535.2 609.3,534.9 610.5,533.9 611.7,533.4 612.9,532.3 614.1,531.7 615.3,530.6 616.5,529.7 617.7,529.3 618.9,528.1 620.1,527.2 621.3,526.3 622.5,524.8 623.7,524.2 624.9,522 626.1,520.2 627.3,518.5 628.5,514.9 629.7,513 630.9,510 632.1,507.5 633.3,504.5 634.5,502.2 635.7,499.1 636.9,497.1 638.1,494.2 639.3,491.5 640.5,488.7 641.7,486.1 642.9,484 644.1,482.1 645.3,480.8 646.5,479.8 647.7,479.1 648.9,479.1 650.1,479 651.3,479.1 652.5,480.1 653.7,481.9 654.9,483.4 656.1,485.3 657.3,487 658.5,489.3 659.7,491.8 660.9,494.6 662.1,497.1 663.3,500.5 664.5,503.9 665.7,507.6 666.9,511.8 668.1,515.7 669.3,519.5 670.5,522.8 671.7,526 672.9,530 674.1,533 675.3,536.3 676.5,539.5 677.7,541.8 678.9,543.9 680.1,545.5 681.3,546.7 682.5,547.7 683.7,548.8 684.9,549.2 686.1,549.8 687.3,550.1 688.5,550.4 689.7,551 690.9,551 692.1,551.3 693.3,551.7 694.5,551.6 695.7,551.5 696.9,551.9 698.1,552 699.3,552.4 700.5,552.7 701.7,552.5 702.9,552.5 704.1,553 705.3,552.6 706.5,552.9 707.7,553 708.9,553 710.1,553 711.3,553.2 712.5,553.6 713.7,553.4 714.9,553.2 716.1,553.4 717.3,553.6 718.5,553.9 719.7,553.7 720.9,553.6 722.1,553.9 723.3,553.8 724.5,553.7 725.7,553.5 726.9,553.7 728.1,554 729.3,553.5 730.5,553.4 731.7,554 732.9,553.5 734.1,553.6 735.3,553.9 736.5,553.9 737.7,554 738.9,554.1 740.1,554.2 741.3,554.1 742.5,553.9 743.7,553.4 744.9,554.5 746.1,554.4 747.3,554.3 748.5,554.2 749.7,554 750.9,554.4 752.1,554.3 753.3,553.9 754.5,554.6 755.7,554 756.9,554.2 758.1,554.8 759.3,554.1 760.5,554.4 761.7,554.6 762.9,554.4 764.1,554 765.3,554.3 766.5,554.4 767.7,554 768.9,554.7 770.1,554.4 771.3,554.5 772.5,554.4 773.7,554.4 774.9,554.2 776.1,553.9 777.3,554.4 778.5,554.2 779.7,554.5 780.9,553.8 782.1,554.1 783.3,554.6 784.5,553.6 785.7,553.6 786.9,553.9 788.1,554.3 789.3,553.5 790.5,553.8 791.7,553.7 792.9,553.5 794.1,553.6 795.3,553.9 796.5,553.6 797.7,553.2 798.9,553.3 800.1,553.4 801.3,553 802.5,553.2 803.7,553.2 804.9,552.8 806.1,553.8 807.3,552.9 808.5,553.3 809.7,553.2 810.9,553.1 812.1,553.6 813.3,553.4 814.5,553.2 815.7,553.8 816.9,553.8 818.1,553.5 819.3,553.5 820.5,554.2 821.7,554.1 822.9,553.9 824.1,554.6 825.3,554.3 826.5,554.7 827.7,554.8 828.9,554.7 830.1,555.5 831.3,556.4 832.5,555.8 833.7,555.9 834.9,555.9 836.1,556.1 837.3,556.3 838.5,556.5 839.7,556.3 840.9,556.6 842.1,556.6 843.3,556.8 844.5,556.9 845.7,556.9 846.9,556.5 848.1,556.5 849.3,556.7 850.5,556.3 851.7,556.2 852.9,556.2 854.1,556 855.3,556.1 856.5,555.2 857.7,555.6 858.9,554.9 860.1,555 861.3,554.2 862.5,554.2 863.7,553.8 864.9,554.1 866.1,552.9 867.3,552.8 868.5,551.6 869.7,550.8 870.9,550.2 872.1,549.5 873.3,548.2 874.5,547.4 875.7,546.3 876.9,545.2 878.1,544.6 879.3,543.3 880.5,542.5 881.7,540.8 882.9,539.7 884.1,538.6 885.3,536.9 886.5,535.2 887.7,534.7 888.9,533.7 890.1,532.6 891.3,532.2 892.5,531.9 893.7,532.5 894.9,533.6 896.1,534.8 897.3,536.5 898.5,538.2 899.7,540.2 900.9,541.9 902.1,543.8 903.3,544.7 904.5,546.3 905.7,548.1 906.9,549.6 908.1,551.1 909.3,552.2 910.5,553.5 911.7,553.9 912.9,554.3 914.1,554.5 915.3,555.1 916.5,555.4 917.7,555.1 918.9,555.1 920.1,555.3 921.3,555.9 922.5,555.6 923.7,555.6 924.9,555.5 926.1,555.9 927.3,556.1 928.5,555.9 929.7,555.7 930.9,556.3 932.1,556 933.3,556.5 934.5,555.8 935.7,556.1 936.9,556.2 938.1,555.8 939.3,556.3 940.5,556.4 941.7,556.3 942.9,556.4 944.1,556.4 945.3,556.2 946.5,556.6 947.7,556.2 948.9,556.4 950.1,556.3 951.3,556.7 952.5,556.4 953.7,556.4 954.9,556.1 956.1,556.6 957.3,556.9 958.5,556.2 959.7,556.8 960.9,556.8 962.1,556.4 963.3,556.7 964.5,557.1 965.7,556.9 966.9,557 968.1,557.2 969.3,556.9 970.5,557.3 971.7,556.8 972.9,556.9 974.1,557.5 975.3,557.5 976.5,557.4 977.7,556.9 978.9,557.2 980.1,557.1 981.3,557.8 982.5,557 983.7,557.1 984.9,557.3 986.1,557.5 987.3,557.3 988.5,557.4 989.7,557.6 990.9,557.5 992.1,557.1 993.3,557.3 994.5,558 995.7,557.6 996.9,558.1 998.1,558 999.3,558" fill="none" stroke="#cc0a0a" stroke-width="4" stroke-linejoin="round" stroke-linecap="round"/>
<path d="M108.9,668.8 110.1,669.1 111.3,668.6 112.5,669.2 113.7,668.7 114.9,668.6 116.1,668.3 117.3,668.2 118.5,668.3 119.7,668.1 120.9,668 122.1,667.9 123.3,668.1 124.5,668.3 125.7,668.5 126.9,668.1 128.1,667.9 129.3,668 130.5,668.2 131.7,667.8 132.9,668 134.1,667.8 135.3,667.7 136.5,667.5 137.7,667.7 138.9,667.3 140.1,667.3 141.3,667.6 142.5,667.7 143.7,667.7 144.9,667.7 146.1,667.4 147.3,667.4 148.5,667.7 149.7,667.9 150.9,666.8 152.1,667.7 153.3,667.5 154.5,667.4 155.7,667.3 156.9,667.3 158.1,667.2 159.3,667.5 160.5,667.2 161.7,667.4 162.9,667.1 164.1,667.8 165.3,667.7 166.5,667.2 167.7,667.7 168.9,667.5 170.1,667.4 171.3,667.6 172.5,667.8 173.7,668 174.9,667.7 176.1,667.9 177.3,667.8 178.5,667.8 179.7,667.9 180.9,667.3 182.1,667.6 183.3,668.1 184.5,667.4 185.7,667.5 186.9,668.2 188.1,667.5 189.3,667.8 190.5,667.8 191.7,667.7 192.9,668 194.1,668 195.3,667.6 196.5,668.2 197.7,667.6 198.9,667.7 200.1,667.8 201.3,667.9 202.5,667.5 203.7,667.8 204.9,667.1 206.1,667.4 207.3,667 208.5,666.8 209.7,666.6 210.9,666.3 212.1,665.7 213.3,665.6 214.5,664.8 215.7,664.8 216.9,664.8 218.1,664.1 219.3,664 220.5,664 221.7,664.1 222.9,664 224.1,663.9 225.3,663.8 226.5,664.3 227.7,663.7 228.9,664.7 230.1,664.6 231.3,665.2 232.5,665.3 233.7,665.9 234.9,665.6 236.1,665.5 237.3,666.2 238.5,666.3 239.7,666.6 240.9,667 242.1,666.6 243.3,667.1 244.5,667.2 245.7,667.4 246.9,666.7 248.1,667.3 249.3,667.2 250.5,667.4 251.7,667.4 252.9,667.6 254.1,668 255.3,668.2 256.5,668.1 257.7,667.7 258.9,668.4 260.1,667.8 261.3,668.1 262.5,668.5 263.7,668.2 264.9,668.6 266.1,668.4 267.3,668.2 268.5,668.6 269.7,668.5 270.9,669.1 272.1,669.1 273.3,669.1 274.5,668.5 275.7,669.2 276.9,668.8 278.1,668.9 279.3,668.8 280.5,668.7 281.7,668.8 282.9,669 284.1,669.1 285.3,668.9 286.5,668.7 287.7,668.6 288.9,668.6 290.1,669 291.3,668.7 292.5,668.5 293.7,668 294.9,667.9 296.1,668.5 297.3,668.4 298.5,668.4 299.7,668.2 300.9,667.9 302.1,667.5 303.3,667.7 304.5,667.2 305.7,667.8 306.9,667.8 308.1,667.9 309.3,667.1 310.5,667.1 311.7,667.5 312.9,667.4 314.1,666.7 315.3,667 316.5,667.1 317.7,667 318.9,667.1 320.1,667 321.3,666.8 322.5,667 323.7,666.8 324.9,667.1 326.1,666.4 327.3,666.7 328.5,666.6 329.7,666.7 330.9,666.9 332.1,667 333.3,666.3 334.5,667.1 335.7,667 336.9,667 338.1,666.9 339.3,667.1 340.5,667 341.7,666.5 342.9,666.8 344.1,666.9 345.3,666.9 346.5,666.9 347.7,667.2 348.9,666.8 350.1,666.9 351.3,666.9 352.5,667.1 353.7,667.3 354.9,667 356.1,667.3 357.3,667.1 358.5,667.6 359.7,666.7 360.9,667.3 362.1,667.6 363.3,667.3 364.5,667.1 365.7,667.2 366.9,667.6 368.1,667.3 369.3,667.7 370.5,667.5 371.7,667.4 372.9,667.4 374.1,667.7 375.3,667.8 376.5,667.4 377.7,667.3 378.9,667.4 380.1,667.8 381.3,668.2 382.5,667.6 383.7,667.9 384.9,667.7 386.1,668 387.3,667.5 388.5,668 389.7,667.6 390.9,667.7 392.1,668 393.3,667.9 394.5,668 395.7,668.1 396.9,668.1 398.1,668.4 399.3,668.2 400.5,667.9 401.7,668.1 402.9,668 404.1,668 405.3,668.6 406.5,667.9 407.7,668.5 408.9,668.5 410.1,668.9 411.3,668.2 412.5,668.3 413.7,668.3 414.9,668.1 416.1,668.6 417.3,668.7 418.5,667.6 419.7,668.1 420.9,668.4 422.1,667.7 423.3,667.7 424.5,667.8 425.7,667.7 426.9,667.5 428.1,667.3 429.3,667.7 430.5,666.5 431.7,666.8 432.9,666.4 434.1,666.6 435.3,666.2 436.5,666.3 437.7,665.9 438.9,666.2 440.1,664.9 441.3,664.7 442.5,664.6 443.7,663.8 444.9,663.4 446.1,662.5 447.3,662.6 448.5,662 449.7,661.7 450.9,661 452.1,660.7 453.3,660.4 454.5,660.9 455.7,659.9 456.9,660.6 458.1,660.8 459.3,661.6 460.5,661.9 461.7,662.3 462.9,663.5 464.1,663.7 465.3,665.2 466.5,665.7 467.7,666.2 468.9,666.7 470.1,667.4 471.3,667 472.5,667.8 473.7,667.1 474.9,667.6 476.1,667.2 477.3,667.5 478.5,666.5 479.7,666.8 480.9,666.4 482.1,666 483.3,666.2 484.5,665.7 485.7,665.4 486.9,665.3 488.1,665 489.3,664.9 490.5,664.8 491.7,664.9 492.9,664.5 494.1,664.2 495.3,664.4 496.5,664 497.7,663.7 498.9,663.5 500.1,664.2 501.3,663.6 502.5,663.9 503.7,663.1 504.9,662.9 506.1,663.5 507.3,662.9 508.5,662.7 509.7,662.6 510.9,662.2 512.1,662.6 513.3,661.8 514.5,662.1 515.7,661.5 516.9,662.2 518.1,661.5 519.3,661.4 520.5,660.4 521.7,660.6 522.9,660 524.1,659.5 525.3,659 526.5,658.8 527.7,658 528.9,657.2 530.1,656.5 531.3,655.8 532.5,655.1 533.7,654.4 534.9,653.5 536.1,652.8 537.3,651.8 538.5,651.7 539.7,651.2 540.9,650.3 542.1,650.3 543.3,649.3 544.5,649.1 545.7,649 546.9,648.6 548.1,648.1 549.3,648.4 550.5,648.2 551.7,648.7 552.9,648.8 554.1,648.7 555.3,649.2 556.5,649.8 557.7,650 558.9,650.3 560.1,650.4 561.3,650.7 562.5,651.1 563.7,652 564.9,652 566.1,652.8 567.3,653.5 568.5,653.2 569.7,654.1 570.9,654.1 572.1,654.7 573.3,655.2 574.5,655.1 575.7,655.2 576.9,655.7 578.1,656 579.3,655.9 580.5,655.7 581.7,656 582.9,655.2 584.1,654.6 585.3,654.4 586.5,654.3 587.7,652.9 588.9,652.3 590.1,651.3 591.3,650.7 592.5,650 593.7,649.7 594.9,648.8 596.1,648.2 597.3,647.9 598.5,646.6 599.7,646.5 600.9,645.4 602.1,644.4 603.3,643.8 604.5,642.8 605.7,642 606.9,640.8 608.1,640.2 609.3,638.9 610.5,637.7 611.7,635.8 612.9,634.6 614.1,633.6 615.3,631.9 616.5,630 617.7,628.1 618.9,626.3 620.1,623.3 621.3,621.1 622.5,618.5 623.7,616.5 624.9,613.1 626.1,610.3 627.3,607.3 628.5,603.3 629.7,599.8 630.9,596.2 632.1,593 633.3,590.2 634.5,586.1 635.7,583.3 636.9,580.5 638.1,577.5 639.3,573.3 640.5,569.7 641.7,565.6 642.9,562.5 644.1,560.5 645.3,559.6 646.5,559.5 647.7,559.2 648.9,559.3 650.1,559.4 651.3,560.7 652.5,561.7 653.7,564.5 654.9,566.2 656.1,568.8 657.3,571.6 658.5,574.6 659.7,577.9 660.9,581.7 662.1,585.4 663.3,588.8 664.5,593 665.7,596 666.9,600 668.1,603.9 669.3,607.6 670.5,611.2 671.7,615.6 672.9,619.9 674.1,624.1 675.3,628.9 676.5,633.3 677.7,638.6 678.9,643.7 680.1,648.4 681.3,653 682.5,655 683.7,656.8 684.9,657.8 686.1,659.4 687.3,660.3 688.5,660.9 689.7,661.9 690.9,662.2 692.1,662.7 693.3,663.3 694.5,664.3 695.7,663.9 696.9,664.7 698.1,664.9 699.3,665.2 700.5,665 701.7,665.7 702.9,665.8 704.1,665.7 705.3,665.8 706.5,666 707.7,666.4 708.9,665.8 710.1,666.7 711.3,666.4 712.5,666.8 713.7,666.5 714.9,667.3 716.1,666.9 717.3,667.4 718.5,666.9 719.7,667 720.9,667.5 722.1,667.5 723.3,667.5 724.5,667.8 725.7,667.7 726.9,667.5 728.1,667.2 729.3,667.2 730.5,668 731.7,668 732.9,667.7 734.1,668.1 735.3,668 736.5,668.1 737.7,668.4 738.9,667.8 740.1,668.4 741.3,668.5 742.5,668.3 743.7,668.5 744.9,668.2 746.1,668.5 747.3,668.7 748.5,668.8 749.7,668.4 750.9,668.8 752.1,668.8 753.3,668.9 754.5,668.7 755.7,668.9 756.9,668.9 758.1,669.4 759.3,668.8 760.5,669.2 761.7,668.9 762.9,668.6 764.1,669.1 765.3,669.3 766.5,669.2 767.7,669.2 768.9,668.8 770.1,669.1 771.3,668.7 772.5,669.6 773.7,669.5 774.9,668.9 776.1,669.1 777.3,668.9 778.5,669 779.7,669.1 780.9,668.9 782.1,669.1 783.3,669.4 784.5,669.2 785.7,669.5 786.9,669.3 788.1,669.4 789.3,669 790.5,669.6 791.7,669.1 792.9,669.3 794.1,669.1 795.3,669.6 796.5,669.2 797.7,669.6 798.9,670 800.1,669.6 801.3,669 802.5,669.8 803.7,669.6 804.9,669.7 806.1,669.7 807.3,669.9 808.5,669.9 809.7,669.6 810.9,669.3 812.1,669.6 813.3,669.9 814.5,669.2 815.7,669.7 816.9,669.2 818.1,670 819.3,670.2 820.5,669.9 821.7,669.6 822.9,669.9 824.1,670.1 825.3,670.2 826.5,670.1 827.7,670 828.9,669.5 830.1,669.8 831.3,669.9 832.5,669.8 833.7,669.3 834.9,669.8 836.1,669.6 837.3,669.9 838.5,669.9 839.7,669.4 840.9,669.6 842.1,669.9 843.3,669.5 844.5,669.8 845.7,669.6 846.9,669.6 848.1,670 849.3,669.7 850.5,669.5 851.7,670 852.9,669.5 854.1,669.5 855.3,669.4 856.5,670.1 857.7,669.3 858.9,669.3 860.1,668.9 861.3,669 862.5,669 863.7,668.2 864.9,668.5 866.1,668.6 867.3,668.5 868.5,667.9 869.7,668.2 870.9,667.3 872.1,667.5 873.3,667.2 874.5,666.5 875.7,666.6 876.9,665.4 878.1,664.8 879.3,664.1 880.5,662.9 881.7,662.5 882.9,661.1 884.1,659.8 885.3,659.2 886.5,658.1 887.7,656.8 888.9,656.1 890.1,655.6 891.3,655 892.5,653.8 893.7,654.1 894.9,653.9 896.1,654 897.3,654.1 898.5,655 899.7,656.4 900.9,657.7 902.1,659.3 903.3,660.7 904.5,662.3 905.7,663.5 906.9,664.6 908.1,665.2 909.3,665.6 910.5,666.1 911.7,667.1 912.9,667.3 914.1,667.6 915.3,667.6 916.5,668.3 917.7,668.4 918.9,668.8 920.1,668.8 921.3,669.5 922.5,668.9 923.7,668.7 924.9,669.3 926.1,669.4 927.3,669.5 928.5,668.5 929.7,669 930.9,669.1 932.1,669 933.3,669.5 934.5,669.6 935.7,669.8 936.9,669.8 938.1,669.6 939.3,670.1 940.5,669.8 941.7,669 942.9,669.7 944.1,669.6 945.3,670 946.5,669.8 947.7,669.9 948.9,670.3 950.1,669.8 951.3,669.7 952.5,670.2 953.7,670.3 954.9,670.1 956.1,670.2 957.3,670.1 958.5,669.9 959.7,670.1 960.9,670 962.1,670.6 963.3,670.3 964.5,670.7 965.7,670.4 966.9,670.2 968.1,670.5 969.3,670.5 970.5,670.8 971.7,670 972.9,670.4 974.1,670.6 975.3,670.4 976.5,670.6 977.7,670.5 978.9,671 980.1,670.9 981.3,670.1 982.5,670.2 983.7,670.4 984.9,670.6 986.1,670.6 987.3,670.5 988.5,670.8 989.7,670.9 990.9,670.7 992.1,670.6 993.3,670.7 994.5,670.5 995.7,670.9 996.9,670.9 998.1,670.5 999.3,671.1" fill="none" stroke="#0d0d9c" stroke-width="4" stroke-linejoin="round" stroke-linecap="round"/>
<rect x="108.4" y="37" width="893.6" height="657" fill="none" stroke="#000" stroke-width="4.5"/>
<path d="M108.4,694 v-11 M108.4,37 v11 M197.8,694 v-6 M197.8,37 v6 M287.1,694 v-11 M287.1,37 v11 M376.5,694 v-6 M376.5,37 v6 M465.8,694 v-11 M465.8,37 v11 M555.2,694 v-6 M555.2,37 v6 M644.6,694 v-11 M644.6,37 v11 M733.9,694 v-6 M733.9,37 v6 M823.3,694 v-11 M823.3,37 v11 M912.6,694 v-6 M912.6,37 v6 M1002,694 v-11 M1002,37 v11" stroke="#000" stroke-width="3.6" fill="none"/>
<text x="108.4" y="729" font-size="28" fill="#000" text-anchor="middle" font-weight="bold" >200</text>
<text x="287.1" y="729" font-size="28" fill="#000" text-anchor="middle" font-weight="bold" >250</text>
<text x="465.8" y="729" font-size="28" fill="#000" text-anchor="middle" font-weight="bold" >300</text>
<text x="644.6" y="729" font-size="28" fill="#000" text-anchor="middle" font-weight="bold" >350</text>
<text x="823.3" y="729" font-size="28" fill="#000" text-anchor="middle" font-weight="bold" >400</text>
<text x="1002" y="729" font-size="28" fill="#000" text-anchor="middle" font-weight="bold" >450</text>
<text x="555" y="769.5" font-size="34" fill="#000" text-anchor="middle" font-weight="bold" >Raman shift (cm<tspan font-size="19" dy="-14">-1</tspan><tspan dy="14">)</tspan></text>
<text transform="translate(79.5,371) rotate(-90)" font-size="34" font-weight="bold" text-anchor="middle">Relative Intensity</text>
<text x="12" y="33" font-size="44" font-weight="normal" stroke="#000" stroke-width="1.2" letter-spacing="0.5">(a)</text>
<text x="904" y="93.5" font-size="34" fill="#000" text-anchor="middle" font-weight="bold" >532 nm</text>
<text x="169" y="86.6" font-size="28" fill="#9b00d3" text-anchor="start" font-weight="bold" >E<tspan font-size="18" dy="-9.5" x="188.5">1</tspan><tspan font-size="18.5" dy="15.5" x="187.5">2g</tspan><tspan dy="-6" dx="1.5">/A</tspan><tspan font-size="20" dy="6">1g</tspan></text>
<text x="307" y="206.8" font-size="28.5" fill="#9b00d3" text-anchor="start" font-weight="bold" >2LA(M)</text>
<text x="834.5" y="206.4" font-size="35.2" fill="#9b00d3" text-anchor="start" font-weight="bold" >1L-WSe<tspan font-size="23" dy="6.4">2</tspan></text>
<text x="838.5" y="299.5" font-size="35.2" fill="#f5841f" text-anchor="start" font-weight="bold" >2L-WSe<tspan font-size="23" dy="6.4">2</tspan></text>
<text x="174" y="283.5" font-size="28" fill="#f5841f" text-anchor="start" font-weight="bold" >E<tspan font-size="18" dy="-9.5" x="193.5">1</tspan><tspan font-size="18.5" dy="15.5" x="192.5">2g</tspan><tspan dy="-6" dx="1.5">/A</tspan><tspan font-size="20" dy="6">1g</tspan></text>
<text x="312" y="323.5" font-size="28.5" fill="#f5841f" text-anchor="start" font-weight="bold" >2LA(M)</text>
<text x="476" y="341" font-size="28" fill="#f5841f" text-anchor="start" font-weight="bold" >B<tspan font-size="18" dy="-9.5" x="495">1</tspan><tspan font-size="18.5" dy="15.5" x="494">2g</tspan></text>
<text x="759" y="430" font-size="29.1" fill="#0a8078" text-anchor="start" font-weight="bold" >1L-WSe<tspan font-size="20" dy="6">2</tspan><tspan dy="-6">/2L-WS</tspan><tspan font-size="20" dy="6" dx="2">2</tspan></text>
<text x="759" y="518.5" font-size="29.1" fill="#cc0a0a" text-anchor="start" font-weight="bold" >2L-WSe<tspan font-size="20" dy="6">2</tspan><tspan dy="-6">/2L-WS</tspan><tspan font-size="20" dy="6" dx="2">2</tspan></text>
<text x="864.5" y="600" font-size="35.5" fill="#0d0d9c" text-anchor="start" font-weight="bold" >2L-WS<tspan font-size="23" dy="6.4">2</tspan></text>
<text x="670.5" y="590.5" font-size="29" fill="#0d0d9c" text-anchor="start" font-weight="bold" >E<tspan font-size="18" dy="-10" x="690.5">1</tspan><tspan font-size="18.5" dy="16.5" x="689.5">2g</tspan></text>
<text x="880.5" y="637" font-size="30" fill="#0d0d9c" text-anchor="start" font-weight="bold" >A<tspan font-size="21" dy="6.5">1g</tspan></text>
<path d="M136.9,1549 v-5.5 M163.2,1549 v-11 M189.5,1549 v-5.5 M215.8,1549 v-5.5 M242.1,1549 v-5.5 M268.3,1549 v-5.5 M294.6,1549 v-11 M320.9,1549 v-5.5 M347.2,1549 v-5.5 M373.5,1549 v-5.5 M399.8,1549 v-5.5 M426.1,1549 v-11 M452.4,1549 v-5.5 M478.6,1549 v-5.5 M504.9,1549 v-5.5 M531.2,1549 v-5.5 M557.5,1549 v-11 M583.8,1549 v-5.5 M610.1,1549 v-5.5 M636.4,1549 v-5.5 M662.7,1549 v-5.5 M688.9,1549 v-11 M715.2,1549 v-5.5 M741.5,1549 v-5.5 M767.8,1549 v-5.5 M794.1,1549 v-5.5 M820.4,1549 v-11 M846.7,1549 v-5.5 M872.9,1549 v-5.5 M899.2,1549 v-5.5 M925.5,1549 v-5.5 M951.8,1549 v-11 M978.1,1549 v-5.5 M110.4,1522.2 h11 M110.4,1469.8 h5.5 M110.4,1417.3 h11 M110.4,1364.9 h5.5 M110.4,1312.4 h11 M110.4,1260 h5.5 M110.4,1207.5 h11 M110.4,1155.1 h5.5 M110.4,1102.6 h11 M110.4,1050.2 h5.5 M110.4,997.7 h11 M110.4,945.3 h5.5 M1000.2,893 v5.5 M914,893 v11 M833.7,893 v5.5 M758.8,893 v11 M688.7,893 v5.5 M623,893 v11 M561.2,893 v5.5 M503.1,893 v11 M448.4,893 v5.5 M396.6,893 v11 M347.7,893 v5.5 M301.3,893 v11 M257.3,893 v5.5 M215.6,893 v11 M175.8,893 v5.5 M138,893 v11" stroke="#000" stroke-width="3.6" fill="none"/>
<path d="M110.6,1518.2 110.8,1515.3 110.9,1518 111.1,1518.6 111.2,1515.6 111.4,1521.2 111.5,1518.7 111.7,1521.8 111.8,1516.3 112,1518.6 112.1,1518.9 112.3,1519.6 112.4,1515.7 112.6,1516.9 112.7,1518.5 112.9,1519.3 113,1511.9 113.2,1512.8 113.3,1521.4 113.5,1513.7 113.6,1515.9 113.8,1516.6 113.9,1516.2 114.1,1522.1 114.2,1509.4 114.4,1510.7 114.5,1517.3 114.7,1517.4 114.8,1516.9 115,1519.6 115.1,1515.6 115.3,1517.5 115.4,1520.9 115.6,1519 115.7,1519.5 115.9,1519.3 116,1518.4 116.2,1515.2 116.3,1518.6 116.5,1522.6 116.6,1512.5 116.8,1519.1 116.9,1512.4 117.1,1516.3 117.2,1515.3 117.4,1519.9 117.5,1516.8 117.7,1518.3 117.8,1517.2 118,1515.4 118.1,1518.2 118.3,1514.2 118.4,1521.6 118.6,1520.4 118.7,1515.4 118.9,1515.1 119,1513.3 119.2,1511.4 119.3,1515.2 119.5,1514.2 119.6,1515.8 119.8,1516.1 119.9,1516.9 120.1,1516.2 120.2,1518.3 120.4,1517 120.5,1513.8 120.7,1514.8 120.8,1512.6 121,1517.9 121.1,1517.5 121.3,1514.9 121.4,1519.1 121.6,1519.2 121.7,1514.1 121.9,1517.2 122,1513.3 122.2,1515.8 122.3,1517.5 122.5,1519.5 122.6,1512.1 122.8,1516.3 122.9,1519 123.1,1521 123.2,1520.1 123.4,1517.3 123.5,1511.8 123.7,1518.9 123.8,1514.9 124,1515.1 124.1,1524.2 124.3,1520.1 124.4,1513.1 124.6,1522.6 124.7,1512 124.9,1515.7 125,1521.3 125.2,1509.5 125.3,1516.1 125.5,1510.4 125.6,1514.9 125.8,1518.1 125.9,1511.8 126.1,1509.5 126.2,1511.2 126.4,1519.4 126.5,1513.3 126.7,1519.3 126.8,1517.3 127,1510.8 127.1,1520.1 127.3,1506.9 127.4,1520.4 127.6,1519.5 127.7,1512.6 127.9,1515.8 128,1515.6 128.2,1518.2 128.3,1512.6 128.5,1514.2 128.6,1515.2 128.8,1517.6 128.9,1519.9 129.1,1514.9 129.2,1522.1 129.4,1517 129.5,1512.6 129.7,1512.4 129.8,1516 130,1522.9 130.1,1512.7 130.3,1511.6 130.4,1514.3 130.6,1510.1 130.7,1510.9 130.9,1520 131,1515.1 131.2,1515.9 131.3,1508.9 131.5,1510.6 131.6,1513.8 131.8,1512.2 131.9,1511.1 132.1,1516.4 132.2,1514.6 132.4,1514.3 132.5,1515.4 132.7,1515 132.8,1513.1 133,1518.2 133.1,1517.7 133.3,1511.1 133.4,1508.5 133.6,1507.3 133.7,1519.6 133.9,1512.3 134,1516.4 134.2,1515.3 134.3,1514.2 134.5,1512.1 134.6,1511.5 134.8,1521.6 134.9,1515.4 135.1,1509.6 135.2,1512.8 135.4,1518.7 135.5,1516.5 135.7,1515.9 135.8,1509.7 136,1507.1 136.1,1516.8 136.3,1511.2 136.4,1513.9 136.6,1510.9 136.7,1513.7 136.9,1516.7 137,1515 137.2,1515 137.3,1507.7 137.5,1515.3 137.6,1510.7 137.8,1515.5 137.9,1514.9 138.1,1511.7 138.2,1514.4 138.4,1505.7 138.5,1507.9 138.7,1516.2 138.8,1510.6 139,1507.1 139.1,1516.4 139.3,1513.6 139.4,1507.1 139.6,1514.9 139.7,1509.9 139.9,1512.3 140,1511.4 140.2,1515.5 140.3,1512.1 140.5,1513.3 140.6,1505.7 140.8,1509.5 140.9,1511.3 141.1,1511.7 141.2,1509.3 141.4,1517.1 141.5,1515 141.7,1514.7 141.8,1514.2 142,1517.1 142.1,1509.6 142.3,1513 142.4,1506.9 142.6,1511.6 142.7,1512.5 142.9,1509.6 143,1509.6 143.2,1512 143.3,1509 143.5,1506.6 143.6,1512.5 143.8,1506.4 143.9,1511.5 144.1,1507.8 144.2,1510.9 144.4,1512 144.5,1509.6 144.7,1514.4 144.8,1516.1 145,1510.6 145.1,1511.3 145.3,1514.2 145.4,1503 145.6,1508.8 145.7,1512.7 145.9,1508.4 146,1508.2 146.2,1511.4 146.3,1510.8 146.5,1516.4 146.6,1509.1 146.8,1503.3 146.9,1505.8 147.1,1506.1 147.2,1511.7 147.4,1513.4 147.5,1506.5 147.7,1508.5 147.8,1510.2 148,1510.5 148.1,1506.1 148.3,1507.1 148.4,1510.9 148.6,1509.6 148.7,1515 148.9,1513.2 149,1507.1 149.2,1510.6 149.3,1512 149.5,1507.9 149.6,1504.4 149.8,1511.7 149.9,1509.9 150.1,1509.6 150.2,1500.1 150.4,1505 150.5,1507.6 150.7,1513.4 150.8,1505.7 151,1506.3 151.1,1508.9 151.3,1510.8 151.4,1509.7 151.6,1513.9 151.7,1509.4 151.9,1509.6 152,1511.1 152.2,1509 152.3,1513.3 152.5,1503.8 152.6,1508.2 152.8,1511.8 152.9,1504.9 153.1,1505.6 153.2,1509.2 153.4,1512 153.5,1507.6 153.7,1505.6 153.8,1505 154,1503.9 154.1,1504.1 154.3,1512.2 154.4,1506.6 154.6,1513.5 154.7,1503.5 154.9,1505.4 155,1503.4 155.2,1506.5 155.3,1506.6 155.5,1508.5 155.6,1515 155.8,1507.1 155.9,1497.3 156.1,1501.8 156.2,1507 156.4,1505 156.5,1504.5 156.7,1508.1 156.8,1505.9 157,1504.7 157.1,1507.6 157.3,1504.1 157.4,1501.3 157.6,1502.6 157.7,1504.5 157.9,1506 158,1502.8 158.2,1507.2 158.3,1507.5 158.5,1500.6 158.6,1506.4 158.8,1509.8 158.9,1501.9 159.1,1502.3 159.2,1500.8 159.4,1505.1 159.5,1500.6 159.7,1505 159.8,1508.1 160,1505 160.1,1503.4 160.3,1508.1 160.4,1504.8 160.6,1503.2 160.7,1505.5 160.9,1503.7 161,1504 161.2,1506.7 161.3,1502.5 161.5,1501.6 161.6,1510.7 161.8,1505.9 161.9,1500.5 162.1,1501.7 162.2,1510 162.4,1502.3 162.5,1498.1 162.7,1499.9 162.8,1500.2 163,1503.2 163.1,1502.4 163.3,1506.7 163.4,1502.5 163.6,1494.2 163.7,1502.5 163.9,1505.6 164,1500.3 164.2,1509.4 164.3,1493.9 164.5,1499.7 164.6,1502.8 164.8,1503.1 164.9,1505 165.1,1501.2 165.2,1501.4 165.4,1507 165.5,1497.8 165.7,1502.6 165.8,1505.1 166,1497.7 166.1,1498.3 166.3,1503 166.4,1503.2 166.6,1496.8 166.7,1502.1 166.9,1499.9 167,1495.6 167.2,1504.8 167.3,1505.8 167.5,1503.3 167.6,1502.3 167.8,1500 167.9,1496.4 168.1,1501.4 168.2,1493.7 168.4,1498.9 168.5,1506.8 168.7,1499.6 168.8,1496.8 169,1495.3 169.1,1501.8 169.3,1499.5 169.4,1490.9 169.6,1498.4 169.7,1502.2 169.9,1504.3 170,1500.3 170.2,1497.2 170.3,1502.5 170.5,1493.4 170.6,1501 170.8,1505.2 170.9,1495.7 171.1,1497.9 171.2,1498.8 171.4,1493.1 171.5,1499.9 171.7,1495 171.8,1499.5 172,1491.4 172.1,1497.3 172.3,1497.1 172.4,1494.9 172.6,1497.3 172.7,1495.2 172.9,1497.7 173,1494.4 173.2,1496.4 173.3,1498.5 173.5,1494.3 173.6,1494.5 173.8,1500.1 173.9,1497.2 174.1,1502.1 174.2,1495.5 174.4,1492.6 174.5,1486.7 174.7,1494.5 174.8,1491.5 175,1489.8 175.1,1492.5 175.3,1502 175.4,1496.7 175.6,1493.6 175.7,1493.6 175.9,1494.1 176,1497.8 176.2,1501.3 176.3,1492.9 176.5,1489.8 176.6,1495.8 176.8,1491.8 176.9,1495.7 177.1,1494.2 177.2,1495.7 177.4,1490.3 177.5,1496.7 177.7,1492.6 177.8,1489.6 178,1493 178.1,1497.3 178.3,1491.2 178.4,1493.2 178.6,1497.2 178.7,1492.9 178.9,1493.2 179,1489.7 179.2,1493.6 179.3,1491.3 179.5,1489.3 179.6,1498.6 179.8,1487.6 179.9,1491.1 180.1,1494.8 180.2,1490.3 180.4,1486.8 180.5,1493.2 180.7,1492.5 180.8,1485.1 181,1484.2 181.1,1482.4 181.3,1489.6 181.4,1493.2 181.6,1493.1 181.7,1490.6 181.9,1493 182,1487.3 182.2,1484 182.3,1492.8 182.5,1482.9 182.6,1491.8 182.8,1490.9 182.9,1493.3 183.1,1485.1 183.2,1488 183.4,1487.4 183.5,1497.5 183.7,1489.5 183.8,1485.8 184,1497 184.1,1479 184.3,1485.2 184.4,1482 184.6,1487.2 184.7,1482.3 184.9,1480.6 185,1475.4 185.2,1489.2 185.3,1476.8 185.5,1488.9 185.6,1483.8 185.8,1485.7 185.9,1484.6 186.1,1491.3 186.2,1484.6 186.4,1488 186.5,1483.8 186.7,1481.7 186.8,1482.3 187,1482.7 187.1,1476.5 187.3,1480.4 187.4,1479.1 187.6,1475.9 187.7,1481.2 187.9,1480.3 188,1477.8 188.2,1481.3 188.3,1474.9 188.5,1482.2 188.6,1480.2 188.8,1479.7 188.9,1480.1 189.1,1478.6 189.2,1480.2 189.4,1487.7 189.5,1473.1 189.7,1479.2 189.8,1474.2 190,1481.3 190.1,1474.2 190.3,1481.6 190.4,1470.1 190.6,1476.3 190.7,1477.3 190.9,1486.1 191,1484.3 191.2,1476.7 191.3,1477 191.5,1476.6 191.6,1475.9 191.8,1469.5 191.9,1474.8 192.1,1474.5 192.2,1475.7 192.4,1476.7 192.5,1470.4 192.7,1473.4 192.8,1472.8 193,1469.7 193.1,1470.4 193.3,1466.9 193.4,1466.8 193.6,1475.1 193.7,1472.6 193.9,1464.8 194,1470.2 194.2,1465.5 194.3,1471.6 194.5,1477.9 194.6,1476.6 194.8,1469.8 194.9,1468.3 195.1,1456 195.2,1462.5 195.4,1462.3 195.5,1461 195.7,1471.6 195.8,1464 196,1464.3 196.1,1454.9 196.3,1466.2 196.4,1469.1 196.6,1462 196.7,1462.8 196.9,1461.2 197,1460.2 197.2,1460.1 197.3,1463.3 197.5,1462 197.6,1449.4 197.8,1462.1 197.9,1456.6 198.1,1463 198.2,1465.8 198.4,1453.7 198.5,1456.4 198.7,1450.8 198.8,1451.6 199,1454.7 199.1,1458.8 199.3,1446.2 199.4,1454.1 199.6,1444.2 199.7,1450.2 199.9,1448.7 200,1449.5 200.2,1449.7 200.3,1452.3 200.5,1440 200.6,1454.4 200.8,1456.8 200.9,1447.9 201.1,1451.8 201.2,1443.7 201.4,1448.6 201.5,1441.7 201.7,1446.3 201.8,1449.9 202,1447.2 202.1,1441.9 202.3,1447.5 202.4,1448.1 202.6,1444.5 202.7,1441.6 202.9,1436.7 203,1439.9 203.2,1437.3 203.3,1441.8 203.5,1431.5 203.6,1429.3 203.8,1442.4 203.9,1437.5 204.1,1438.8 204.2,1436 204.4,1438.5 204.5,1439.9 204.7,1442.3 204.8,1437.9 205,1434.8 205.1,1429.2 205.3,1430.9 205.4,1435.2 205.6,1435.9 205.7,1439.5 205.9,1428.1 206,1430.5 206.2,1427.4 206.3,1426.1 206.5,1426.6 206.6,1429.3 206.8,1429.7 206.9,1432.8 207.1,1430.4 207.2,1424.4 207.4,1414.5 207.5,1427.6 207.7,1423.8 207.8,1411.8 208,1423.4 208.1,1425.1 208.3,1422.7 208.4,1423.5 208.6,1431.8 208.7,1416.8 208.9,1429.9 209,1423.1 209.2,1421.9 209.3,1416.7 209.5,1419.7 209.6,1420.5 209.8,1422 209.9,1415.7 210.1,1418.2 210.2,1419.7 210.4,1422.5 210.5,1419.4 210.7,1413.4 210.8,1422.1 211,1412.3 211.1,1412 211.3,1405.6 211.4,1415 211.6,1416 211.7,1410.7 211.9,1411.7 212,1423.2 212.2,1401.8 212.3,1406.4 212.5,1406.3 212.6,1411 212.8,1403.8 212.9,1406.8 213.1,1395.7 213.2,1400 213.4,1395.2 213.5,1409.5 213.7,1406.8 213.8,1403.6 214,1404 214.1,1390.7 214.3,1397.1 214.4,1404.6 214.6,1399.3 214.7,1386.6 214.9,1398.2 215,1392.2 215.2,1405 215.3,1397.6 215.5,1394.5 215.6,1394.4 215.8,1392.2 215.9,1389.4 216.1,1384 216.2,1400.3 216.4,1389 216.5,1384.4 216.7,1386.5 216.8,1380.3 217,1387.2 217.1,1388.3 217.3,1389.9 217.4,1378.7 217.6,1391.2 217.7,1385.3 217.9,1382.2 218,1377.4 218.2,1382.2 218.3,1385.4 218.5,1375.3 218.6,1385.1 218.8,1381.8 218.9,1389 219.1,1374.7 219.2,1374.2 219.4,1385.1 219.5,1374.9 219.7,1369.2 219.8,1376.1 220,1381.6 220.1,1370.9 220.3,1365.6 220.4,1380.4 220.6,1362.4 220.7,1367.4 220.9,1360.2 221,1371.9 221.2,1358.4 221.3,1361.5 221.5,1357.6 221.6,1361.3 221.8,1354.5 221.9,1361.1 222.1,1361.9 222.2,1364.9 222.4,1367.5 222.5,1355.9 222.7,1357.7 222.8,1355.2 223,1355.4 223.1,1350.3 223.3,1351.4 223.4,1354.7 223.6,1344.6 223.7,1334.5 223.9,1353.6 224,1349.6 224.2,1341.9 224.3,1349.5 224.5,1336.5 224.6,1347.1 224.8,1349.6 224.9,1346.8 225.1,1331.8 225.2,1352.1 225.4,1336 225.5,1350.8 225.7,1329.4 225.8,1330.5 226,1327.5 226.1,1315.7 226.3,1330.2 226.4,1320.1 226.6,1322.9 226.7,1318.4 226.9,1330.1 227,1315.3 227.2,1324.4 227.3,1310 227.5,1312.6 227.6,1317.8 227.8,1312.6 227.9,1311.7 228.1,1312.7 228.2,1294.5 228.4,1318.1 228.5,1320.9 228.7,1319.3 228.8,1309.9 229,1307.1 229.1,1300.3 229.3,1296.7 229.4,1301 229.6,1300.5 229.7,1307.6 229.9,1291.2 230,1287 230.2,1297.3 230.3,1289.5 230.5,1298.8 230.6,1292.6 230.8,1290.3 230.9,1282.9 231.1,1300.1 231.2,1286.6 231.4,1278.6 231.5,1281.7 231.7,1277.7 231.8,1302 232,1287.5 232.1,1282.6 232.3,1284 232.4,1295.7 232.6,1266.2 232.7,1271.6 232.9,1288.5 233,1275 233.2,1269.2 233.3,1259.9 233.5,1260.9 233.6,1273.8 233.8,1269.3 233.9,1260.3 234.1,1252.2 234.2,1263 234.4,1263.1 234.5,1251 234.7,1253.2 234.8,1240.8 235,1246.9 235.1,1240.6 235.3,1265.3 235.4,1258.2 235.6,1258.1 235.7,1248.9 235.9,1237.8 236,1241.7 236.2,1232.9 236.3,1242.7 236.5,1225 236.6,1224.4 236.8,1246.7 236.9,1238.9 237.1,1233 237.2,1217.8 237.4,1216.5 237.5,1205.1 237.7,1234.9 237.8,1216.8 238,1217.5 238.1,1218.5 238.3,1215.6 238.4,1232.8 238.6,1208.3 238.7,1213.8 238.9,1220.5 239,1192.7 239.2,1212 239.3,1201.3 239.5,1209 239.6,1216.2 239.8,1203.8 239.9,1194.5 240.1,1206.4 240.2,1189.6 240.4,1175.9 240.5,1179.6 240.7,1193.4 240.8,1196.8 241,1177.8 241.1,1200.1 241.3,1195 241.4,1164.7 241.6,1177.1 241.7,1174.4 241.9,1181 242,1149.6 242.2,1148.1 242.3,1174.8 242.5,1162.8 242.6,1173 242.8,1163.4 242.9,1152.4 243.1,1151.3 243.2,1166.1 243.4,1157.5 243.5,1133.3 243.7,1148 243.8,1141.2 244,1148.9 244.1,1154.8 244.3,1164.2 244.4,1161.3 244.6,1167.4 244.7,1159.4 244.9,1155.5 245,1135.9 245.2,1161.3 245.3,1136.2 245.5,1161.8 245.6,1109.9 245.8,1142.9 245.9,1133.1 246.1,1113.1 246.2,1134.1 246.4,1129.2 246.5,1127.3 246.7,1121 246.8,1132 247,1104.2 247.1,1110 247.3,1120.3 247.4,1106.2 247.6,1120.5 247.7,1124.1 247.9,1117.7 248,1109.5 248.2,1132.2 248.3,1116.2 248.5,1105.5 248.6,1122.9 248.8,1104.2 248.9,1120.2 249.1,1103.1 249.2,1105.1 249.4,1098.7 249.5,1110.5 249.7,1124.5 249.8,1130.9 250,1067.4 250.1,1114.7 250.3,1106.1 250.4,1114.8 250.6,1075.7 250.7,1082.8 250.9,1080 251,1103.9 251.2,1075.7 251.3,1097.1 251.5,1070.9 251.6,1086.6 251.8,1113.8 251.9,1085.1 252.1,1094.1 252.2,1051.4 252.4,1098.4 252.5,1084.6 252.7,1083.7 252.8,1090.3 253,1088.3 253.1,1079 253.3,1073.2 253.4,1082.6 253.6,1080 253.7,1075.9 253.9,1087.6 254,1077.8 254.2,1073.7 254.3,1060.2 254.5,1064.1 254.6,1065.9 254.8,1059.8 254.9,1081.2 255.1,1055.9 255.2,1074.8 255.4,1071.3 255.5,1074.2 255.7,1059.7 255.8,1076.2 256,1059.6 256.1,1071.3 256.3,1072.8 256.4,1060.5 256.6,1076.4 256.7,1049.1 256.9,1073.6 257,1070 257.2,1047.6 257.3,1082.2 257.5,1050.6 257.6,1061.1 257.8,1060.3 257.9,1058.5 258.1,1072.6 258.2,1038.5 258.4,1052.7 258.5,1050.8 258.7,1048.3 258.8,1045.8 259,1054.1 259.1,1070.3 259.3,1074.5 259.4,1075.1 259.6,1062.9 259.7,1043.4 259.9,1073.5 260,1060.7 260.2,1047.9 260.3,1060 260.5,1058.8 260.6,1069.3 260.8,1052.7 260.9,1062.4 261.1,1063.8 261.2,1059.7 261.4,1049.3 261.5,1041.2 261.7,1069.2 261.8,1047.3 262,1068.3 262.1,1078.2 262.3,1062.3 262.4,1052.6 262.6,1054 262.7,1048.3 262.9,1080 263,1034.8 263.2,1042.3 263.3,1044.4 263.5,1074.3 263.6,1047.2 263.8,1060 263.9,1059.8 264.1,1053.3 264.2,1074.7 264.4,1039.4 264.5,1040.4 264.7,1043.4 264.8,1035.7 265,1076.6 265.1,1058.4 265.3,1059.2 265.4,1071.3 265.6,1044.5 265.7,1021.9 265.9,1069.5 266,1048.4 266.2,1055.2 266.3,1054.5 266.5,1055.5 266.6,1048.2 266.8,1065.7 266.9,1063.1 267.1,1036.7 267.2,1058.5 267.4,1059.1 267.5,1082.2 267.7,1053.8 267.8,1052.4 268,1057.2 268.1,1040.9 268.3,1087.4 268.4,1050.7 268.6,1083.8 268.7,1076.8 268.9,1089.5 269,1053.8 269.2,1066.6 269.3,1071.2 269.5,1065.6 269.6,1093.6 269.8,1075.2 269.9,1065.3 270.1,1076.1 270.2,1069.8 270.4,1089.8 270.5,1068 270.7,1074.6 270.8,1068.6 271,1052.1 271.1,1071.6 271.3,1080.8 271.4,1068.8 271.6,1088.4 271.7,1054.2 271.9,1075.4 272,1075.9 272.2,1070.4 272.3,1093.1 272.5,1078.1 272.6,1081.4 272.8,1052.1 272.9,1061.6 273.1,1057.3 273.2,1080.3 273.4,1079.5 273.5,1068.8 273.7,1091.1 273.8,1094.6 274,1064.2 274.1,1078.4 274.3,1079.1 274.4,1106.8 274.6,1091.6 274.7,1092.7 274.9,1096.3 275,1084.3 275.2,1100.4 275.3,1104.2 275.5,1066.3 275.6,1085.2 275.8,1104.5 275.9,1066.4 276.1,1086.3 276.2,1089.6 276.4,1124.8 276.5,1077.1 276.7,1094 276.8,1081.8 277,1076.6 277.1,1113.9 277.3,1076.4 277.4,1089.7 277.6,1099.2 277.7,1129.1 277.9,1078.6 278,1099.2 278.2,1096.5 278.3,1119.1 278.5,1098.5 278.6,1099.8 278.8,1089.7 278.9,1119.6 279.1,1135.4 279.2,1117.8 279.4,1123.3 279.5,1109.3 279.7,1115.3 279.8,1112 280,1100.4 280.1,1096.5 280.3,1116.7 280.4,1136.9 280.6,1119.5 280.7,1122.8 280.9,1122.5 281,1124.3 281.2,1123.9 281.3,1150.1 281.5,1119.4 281.6,1121 281.8,1124 281.9,1130.3 282.1,1119.9 282.2,1150.6 282.4,1133.7 282.5,1127.1 282.7,1140 282.8,1137 283,1126 283.1,1140.6 283.3,1149.8 283.4,1146.6 283.6,1138.4 283.7,1155.4 283.9,1145 284,1150.9 284.2,1147.1 284.3,1140.7 284.5,1142.3 284.6,1150.9 284.8,1150.5 284.9,1145.7 285.1,1163.9 285.2,1155.1 285.4,1170.4 285.5,1146 285.7,1159.5 285.8,1175.5 286,1168.1 286.1,1156.3 286.3,1162.4 286.4,1184 286.6,1149.2 286.7,1166.4 286.9,1165.9 287,1174.2 287.2,1180.4 287.3,1188.7 287.5,1172.4 287.6,1175.2 287.8,1178.6 287.9,1169.1 288.1,1174.6 288.2,1189.4 288.4,1184 288.5,1169.3 288.7,1195.8 288.8,1160.9 289,1189.1 289.1,1158.3 289.3,1180.8 289.4,1202.4 289.6,1182.6 289.7,1187.1 289.9,1193.2 290,1189.2 290.2,1190.1 290.3,1217.2 290.5,1185.1 290.6,1196.2 290.8,1193.9 290.9,1187.9 291.1,1195.9 291.2,1208.9 291.4,1189.5 291.5,1201.6 291.7,1196.9 291.8,1207.1 292,1202.4 292.1,1211.4 292.3,1187.1 292.4,1213.6 292.6,1194.7 292.7,1223.2 292.9,1203.2 293,1209.3 293.2,1197.7 293.3,1205.8 293.5,1186.9 293.6,1183.9 293.8,1215.6 293.9,1204.4 294.1,1220.9 294.2,1221.9 294.4,1213.9 294.5,1205.6 294.7,1208.6 294.8,1217.3 295,1205.6 295.1,1228.2 295.3,1226.3 295.4,1219.1 295.6,1236.3 295.7,1207.1 295.9,1221.7 296,1224.2 296.2,1217.5 296.3,1234.9 296.5,1223.9 296.6,1239.4 296.8,1225.5 296.9,1223.4 297.1,1210.2 297.2,1225.6 297.4,1213.7 297.5,1227 297.7,1242.5 297.8,1221 298,1227.9 298.1,1234.6 298.3,1221.2 298.4,1240.2 298.6,1234.7 298.7,1225.3 298.9,1224.6 299,1239.1 299.2,1231.1 299.3,1233.8 299.5,1229.6 299.6,1238.2 299.8,1256.2 299.9,1241.1 300.1,1224.8 300.2,1247 300.4,1242.3 300.5,1234.1 300.7,1244.8 300.8,1253.7 301,1245.6 301.1,1248.5 301.3,1255.9 301.4,1251 301.6,1263.3 301.7,1266.3 301.9,1263.8 302,1256.9 302.2,1256.6 302.3,1263 302.5,1249.6 302.6,1254.8 302.8,1260.5 302.9,1252 303.1,1249.6 303.2,1257 303.4,1268.4 303.5,1257 303.7,1254.7 303.8,1261.8 304,1266.8 304.1,1264 304.3,1264 304.4,1282.9 304.6,1254.5 304.7,1267.9 304.9,1252 305,1268.6 305.2,1276.4 305.3,1263 305.5,1269.7 305.6,1263.3 305.8,1274.8 305.9,1275.3 306.1,1277.6 306.2,1278 306.4,1269.1 306.5,1283.6 306.7,1271.9 306.8,1264.6 307,1282.1 307.1,1276.3 307.3,1281.2 307.4,1278.3 307.6,1274.3 307.7,1270.1 307.9,1268.9 308,1282.1 308.2,1271.3 308.3,1282.4 308.5,1287.1 308.6,1286 308.8,1294.4 308.9,1278.4 309.1,1294.3 309.2,1277.9 309.4,1258.4 309.5,1288 309.7,1297.9 309.8,1278.2 310,1290.2 310.1,1282.4 310.3,1282.6 310.4,1281.2 310.6,1264.8 310.7,1281.4 310.9,1282.3 311,1285.7 311.2,1291.3 311.3,1291 311.5,1294.9 311.6,1280 311.8,1288.7 311.9,1282.6 312.1,1285.9 312.2,1271.1 312.4,1290.3 312.5,1285.2 312.7,1295.5 312.8,1282 313,1293.3 313.1,1292 313.3,1303.7 313.4,1289 313.6,1280.8 313.7,1283.8 313.9,1303.7 314,1288.7 314.2,1301.8 314.3,1309.8 314.5,1307.2 314.6,1288.2 314.8,1301.1 314.9,1308.7 315.1,1297.1 315.2,1297.8 315.4,1303.4 315.5,1297.8 315.7,1305.1 315.8,1293.2 316,1297.4 316.1,1304.4 316.3,1301.8 316.4,1298.2 316.6,1306.5 316.7,1302.2 316.9,1307.7 317,1309.9 317.2,1322.5 317.3,1318 317.5,1316.8 317.6,1309.3 317.8,1290.7 317.9,1317.9 318.1,1314.7 318.2,1321.6 318.4,1315.3 318.5,1314.5 318.7,1308.1 318.8,1324.2 319,1310.4 319.1,1312.8 319.3,1317.3 319.4,1324.8 319.6,1323.8 319.7,1317.8 319.9,1312.3 320,1317.7 320.2,1322.9 320.3,1315.5 320.5,1325.7 320.6,1312.3 320.8,1299.1 320.9,1323.1 321.1,1311.3 321.2,1326.6 321.4,1319 321.5,1315.9 321.7,1311.2 321.8,1320.2 322,1310.7 322.1,1330.4 322.3,1322.9 322.4,1321.6 322.6,1321.2 322.7,1323.1 322.9,1308.8 323,1325.5 323.2,1315.5 323.3,1320.1 323.5,1308.3 323.6,1325.3 323.8,1318.7 323.9,1320 324.1,1343.7 324.2,1321.7 324.4,1317.3 324.5,1313.9 324.7,1333.2 324.8,1327.1 325,1316.9 325.1,1334.3 325.3,1332.2 325.4,1322.2 325.6,1321.8 325.7,1317.2 325.9,1319 326,1325.9 326.2,1335.3 326.3,1332.6 326.5,1328.1 326.6,1325.6 326.8,1328.1 326.9,1322.9 327.1,1334.4 327.2,1332.2 327.4,1338.7 327.5,1315 327.7,1330.9 327.8,1322.8 328,1320.9 328.1,1327.7 328.3,1331.7 328.4,1334.2 328.6,1332.7 328.7,1343.4 328.9,1335 329,1325.8 329.2,1329.4 329.3,1325.7 329.5,1326.1 329.6,1326.9 329.8,1331.3 329.9,1330.9 330.1,1325.8 330.2,1335.2 330.4,1342.5 330.5,1326.9 330.7,1332.8 330.8,1325.5 331,1338 331.1,1345.3 331.3,1334.9 331.4,1338.3 331.6,1340.8 331.7,1323 331.9,1332.1 332,1342.6 332.2,1345.8 332.3,1335.2 332.5,1330.4 332.6,1332.6 332.8,1326.4 332.9,1332.5 333.1,1331.5 333.2,1348.5 333.4,1325.9 333.5,1339 333.7,1328.5 333.8,1346.3 334,1341.7 334.1,1327 334.3,1344.2 334.4,1334.3 334.6,1338.3 334.7,1323.3 334.9,1333 335,1326.6 335.2,1336.1 335.3,1347.9 335.5,1321.5 335.6,1340.1 335.8,1335.7 335.9,1336.4 336.1,1347.4 336.2,1331.3 336.4,1339.1 336.5,1349 336.7,1347.1 336.8,1352.8 337,1342.3 337.1,1338.3 337.3,1343.8 337.4,1337.4 337.6,1339.7 337.7,1333.7 337.9,1337.4 338,1338.7 338.2,1343.3 338.3,1346 338.5,1344.1 338.6,1335.1 338.8,1341.3 338.9,1327.6 339.1,1332.2 339.2,1347.7 339.4,1335 339.5,1329.4 339.7,1342.8 339.8,1329.6 340,1343.5 340.1,1327.2 340.3,1334.6 340.4,1340.1 340.6,1350.4 340.7,1339.4 340.9,1344 341,1336.1 341.2,1345.1 341.3,1335.5 341.5,1342.3 341.6,1334.8 341.8,1333.2 341.9,1337.8 342.1,1335.6 342.2,1331.3 342.4,1345.9 342.5,1335 342.7,1337.5 342.8,1327.9 343,1340.6 343.1,1332.4 343.3,1351.4 343.4,1330.6 343.6,1336.5 343.7,1336.8 343.9,1333.2 344,1348.4 344.2,1341.2 344.3,1339.1 344.5,1341.9 344.6,1343.4 344.8,1333 344.9,1339.6 345.1,1341.5 345.2,1339.6 345.4,1330.6 345.5,1326.8 345.7,1332.3 345.8,1336.5 346,1349.5 346.1,1344 346.3,1346.6 346.4,1346.8 346.6,1331.7 346.7,1344.4 346.9,1330.5 347,1339.4 347.2,1341.2 347.3,1341.7 347.5,1350.3 347.6,1343.2 347.8,1334.3 347.9,1335.5 348.1,1339.2 348.2,1335.6 348.4,1339.3 348.5,1337.6 348.7,1323.5 348.8,1339.4 349,1352.5 349.1,1355.2 349.3,1345.6 349.4,1338.9 349.6,1333.5 349.7,1340.6 349.9,1339.5 350,1336.2 350.2,1347.3 350.3,1340.8 350.5,1338.1 350.6,1343.2 350.8,1346.3 350.9,1336.7 351.1,1332.7 351.2,1339.9 351.4,1356.8 351.5,1345.9 351.7,1343.3 351.8,1337.3 352,1343.6 352.1,1343.3 352.3,1333.4 352.4,1331.3 352.6,1339.6 352.7,1347.8 352.9,1348.6 353,1335.5 353.2,1345.4 353.3,1340 353.5,1341.1 353.6,1338.6 353.8,1337.2 353.9,1346.7 354.1,1343.9 354.2,1338 354.4,1339 354.5,1348.6 354.7,1325.5 354.8,1348.6 355,1331.4 355.1,1350.1 355.3,1331.7 355.4,1350.8 355.6,1331.8 355.7,1336.9 355.9,1332.3 356,1343.1 356.2,1335.8 356.3,1335.8 356.5,1336.2 356.6,1341.1 356.8,1327.4 356.9,1349.7 357.1,1347.6 357.2,1346.9 357.4,1326.2 357.5,1342.4 357.7,1341.2 357.8,1341 358,1337.9 358.1,1337.3 358.3,1338.7 358.4,1345.9 358.6,1331.9 358.7,1334.7 358.9,1323.7 359,1331.3 359.2,1334.6 359.3,1344.1 359.5,1333.1 359.6,1329.2 359.8,1321.3 359.9,1330.2 360.1,1327.1 360.2,1328.3 360.4,1320.7 360.5,1324 360.7,1331.6 360.8,1342.2 361,1319.8 361.1,1330.7 361.3,1336.9 361.4,1341.4 361.6,1343.6 361.7,1328.7 361.9,1331.6 362,1328 362.2,1321.2 362.3,1334.2 362.5,1327.5 362.6,1333.3 362.8,1335.5 362.9,1345.2 363.1,1334.5 363.2,1320.7 363.4,1332.2 363.5,1326 363.7,1327.1 363.8,1313 364,1316.9 364.1,1332.1 364.3,1330.3 364.4,1318.5 364.6,1324.9 364.7,1325.6 364.9,1317.5 365,1321.7 365.2,1324.5 365.3,1306.6 365.5,1322.1 365.6,1334.7 365.8,1322.1 365.9,1322.3 366.1,1311.6 366.2,1321.3 366.4,1328.2 366.5,1320.5 366.7,1332.1 366.8,1325.4 367,1319.8 367.1,1328.6 367.3,1336.9 367.4,1329.5 367.6,1327.5 367.7,1317 367.9,1324.5 368,1321.2 368.2,1327.5 368.3,1319.7 368.5,1324.6 368.6,1315.4 368.8,1317.6 368.9,1308.3 369.1,1314.5 369.2,1321 369.4,1324.8 369.5,1316.4 369.7,1312.2 369.8,1305.7 370,1321.3 370.1,1326.8 370.3,1330.4 370.4,1323.9 370.6,1317.5 370.7,1317.9 370.9,1317.9 371,1315.6 371.2,1312.4 371.3,1327.4 371.5,1314 371.6,1315.4 371.8,1315.2 371.9,1316.9 372.1,1327.5 372.2,1309.4 372.4,1316.4 372.5,1313.3 372.7,1309.8 372.8,1311.5 373,1308.4 373.1,1308 373.3,1318 373.4,1319.4 373.6,1304.2 373.7,1316 373.9,1293.3 374,1318 374.2,1308 374.3,1309.5 374.5,1306.7 374.6,1315.7 374.8,1305.7 374.9,1292.6 375.1,1311.9 375.2,1324.5 375.4,1302.3 375.5,1303.8 375.7,1301.6 375.8,1312.7 376,1303.1 376.1,1299.2 376.3,1309.5 376.4,1305.1 376.6,1301.3 376.7,1299.3 376.9,1306.6 377,1303.1 377.2,1288.9 377.3,1288.5 377.5,1312.1 377.6,1286.8 377.8,1306.4 377.9,1295 378.1,1312.6 378.2,1304.4 378.4,1307.7 378.5,1296.1 378.7,1300.6 378.8,1298.6 379,1298.7 379.1,1300.1 379.3,1294.3 379.4,1300.3 379.6,1301.7 379.7,1305.8 379.9,1307.7 380,1304.6 380.2,1297.4 380.3,1292.1 380.5,1300.8 380.6,1284 380.8,1289.7 380.9,1298.9 381.1,1296.3 381.2,1299 381.4,1313 381.5,1292 381.7,1296.6 381.8,1311.2 382,1290.9 382.1,1302.1 382.3,1299.4 382.4,1310.8 382.6,1297.4 382.7,1293.6 382.9,1300.1 383,1296.6 383.2,1311.3 383.3,1292 383.5,1296.4 383.6,1296.2 383.8,1290.3 383.9,1287.2 384.1,1295.9 384.2,1287.9 384.4,1280.3 384.5,1303.3 384.7,1293.7 384.8,1307.2 385,1291.3 385.1,1283 385.3,1294.8 385.4,1302.6 385.6,1297.6 385.7,1289.8 385.9,1304.9 386,1304 386.2,1288.8 386.3,1303.2 386.5,1291.5 386.6,1300.4 386.8,1304.5 386.9,1284.9 387.1,1282.1 387.2,1297.2 387.4,1272.1 387.5,1289.1 387.7,1285.9 387.8,1288.4 388,1298.4 388.1,1281 388.3,1287.9 388.4,1284.7 388.6,1287.4 388.7,1291.5 388.9,1269 389,1284.2 389.2,1289.4 389.3,1281.8 389.5,1296.9 389.6,1283.8 389.8,1264.4 389.9,1291.7 390.1,1282 390.2,1295.4 390.4,1285.2 390.5,1276.1 390.7,1293.3 390.8,1292.3 391,1274.9 391.1,1282 391.3,1278.4 391.4,1279.2 391.6,1294 391.7,1297.2 391.9,1298.4 392,1278.5 392.2,1294 392.3,1296.7 392.5,1286.4 392.6,1282.7 392.8,1279.1 392.9,1296.1 393.1,1269.7 393.2,1288.3 393.4,1279 393.5,1280.3 393.7,1287.9 393.8,1276 394,1276.2 394.1,1269.3 394.3,1262.4 394.4,1260.2 394.6,1269.8 394.7,1271.8 394.9,1280.2 395,1289.5 395.2,1273 395.3,1281.2 395.5,1278.3 395.6,1279.8 395.8,1271.9 395.9,1278.6 396.1,1254.7 396.2,1267.1 396.4,1278.6 396.5,1270.8 396.7,1261.7 396.8,1283.5 397,1271.2 397.1,1277.3 397.3,1272 397.4,1276.4 397.6,1270.4 397.7,1267.7 397.9,1266 398,1283.7 398.2,1264.7 398.3,1270.2 398.5,1275.6 398.6,1270.4 398.8,1255.8 398.9,1270.7 399.1,1276.6 399.2,1262.7 399.4,1270.2 399.5,1262.1 399.7,1265.6 399.8,1255.8 400,1272.6 400.1,1270.4 400.3,1257.4 400.4,1251.8 400.6,1264.4 400.7,1255.5 400.9,1261.6 401,1265.4 401.2,1279.6 401.3,1246.7 401.5,1254.6 401.6,1284.3 401.8,1257.4 401.9,1269.2 402.1,1272.7 402.2,1268.6 402.4,1257 402.5,1263.7 402.7,1264.8 402.8,1264.2 403,1265.9 403.1,1257.7 403.3,1280 403.4,1273.5 403.6,1263.1 403.7,1271.8 403.9,1259.8 404,1264.3 404.2,1257.4 404.3,1262.1 404.5,1255.1 404.6,1260.1 404.8,1253.4 404.9,1262.7 405.1,1274.8 405.2,1259 405.4,1258.6 405.5,1263 405.7,1249.5 405.8,1253.4 406,1244.2 406.1,1260.8 406.3,1260.8 406.4,1252.5 406.6,1243.6 406.7,1262.7 406.9,1252 407,1256.4 407.2,1258.6 407.3,1247.6 407.5,1247.6 407.6,1248.9 407.8,1260.7 407.9,1254.8 408.1,1269.4 408.2,1249.6 408.4,1265.6 408.5,1256.3 408.7,1246.2 408.8,1255.6 409,1251.9 409.1,1259 409.3,1230.4 409.4,1263.4 409.6,1257.5 409.7,1253.4 409.9,1229.6 410,1256.7 410.2,1250.8 410.3,1243.9 410.5,1269.8 410.6,1242.5 410.8,1247 410.9,1236.4 411.1,1236 411.2,1244.9 411.4,1239.2 411.5,1254.7 411.7,1258.9 411.8,1250.5 412,1246.4 412.1,1250.7 412.3,1243.8 412.4,1241.7 412.6,1231.4 412.7,1248.4 412.9,1250.9 413,1242.2 413.2,1244.1 413.3,1240.7 413.5,1230.3 413.6,1252.9 413.8,1238.5 413.9,1232.7 414.1,1233 414.2,1257.9 414.4,1247.1 414.5,1232.4 414.7,1243.8 414.8,1239.6 415,1244.4 415.1,1231.4 415.3,1240.7 415.4,1245.3 415.6,1241.6 415.7,1229.6 415.9,1238.4 416,1256.6 416.2,1260.7 416.3,1235.3 416.5,1256.7 416.6,1240.1 416.8,1247.7 416.9,1239.1 417.1,1247.6 417.2,1262.5 417.4,1227.9 417.5,1240.9 417.7,1241.9 417.8,1225.8 418,1233.6 418.1,1229.7 418.3,1241.4 418.4,1238.2 418.6,1234.9 418.7,1244.4 418.9,1231.1 419,1234.4 419.2,1241 419.3,1241.6 419.5,1229.7 419.6,1238.9 419.8,1233.5 419.9,1234.3 420.1,1238.5 420.2,1260.5 420.4,1233 420.5,1228.5 420.7,1241.5 420.8,1241.6 421,1227.1 421.1,1245.9 421.3,1223.3 421.4,1229.2 421.6,1221.4 421.7,1234.2 421.9,1232.6 422,1230.7 422.2,1247.3 422.3,1241 422.5,1222.3 422.6,1238.6 422.8,1240.9 422.9,1228.8 423.1,1218.9 423.2,1231.9 423.4,1233.6 423.5,1231.1 423.7,1226.7 423.8,1245 424,1226.8 424.1,1226.1 424.3,1219.9 424.4,1219.4 424.6,1223.1 424.7,1210.2 424.9,1228.5 425,1229.4 425.2,1212.9 425.3,1226.7 425.5,1233.1 425.6,1232.5 425.8,1227.3 425.9,1239.6 426.1,1217.5 426.2,1223.7 426.4,1214.4 426.5,1235.7 426.7,1229.1 426.8,1231.7 427,1220.5 427.1,1221.6 427.3,1218 427.4,1218.3 427.6,1234.8 427.7,1221.8 427.9,1223.4 428,1224.2 428.2,1219.1 428.3,1241.3 428.5,1229.9 428.6,1225.8 428.8,1231 428.9,1233.8 429.1,1214 429.2,1214.3 429.4,1206.4 429.5,1231 429.7,1243.8 429.8,1215.7 430,1225 430.1,1231.8 430.3,1216.7 430.4,1222.2 430.6,1237.5 430.7,1220.2 430.9,1236.4 431,1215.7 431.2,1232.4 431.3,1234.8 431.5,1213.5 431.6,1211.2 431.8,1222.3 431.9,1230.6 432.1,1213.8 432.2,1218.1 432.4,1216.9 432.5,1222.6 432.7,1232.9 432.8,1223.1 433,1204.9 433.1,1224.5 433.3,1219 433.4,1218.3 433.6,1208.7 433.7,1214.7 433.9,1221.2 434,1199.1 434.2,1215.2 434.3,1213.7 434.5,1222.7 434.6,1230.6 434.8,1211.8 434.9,1219.1 435.1,1212.6 435.2,1236.6 435.4,1199.3 435.5,1214.7 435.7,1207.2 435.8,1225 436,1213.6 436.1,1212.9 436.3,1203.6 436.4,1206.6 436.6,1233.3 436.7,1211.6 436.9,1212.3 437,1216.4 437.2,1211.1 437.3,1207.5 437.5,1203.7 437.6,1223.6 437.8,1220.7 437.9,1212 438.1,1205.9 438.2,1221.3 438.4,1211.9 438.5,1223.9 438.7,1211.3 438.8,1213.3 439,1206.6 439.1,1198.1 439.3,1218.6 439.4,1206.9 439.6,1226 439.7,1207.8 439.9,1193.7 440,1225.3 440.2,1215.3 440.3,1235.2 440.5,1206.1 440.6,1189 440.8,1218.9 440.9,1206.6 441.1,1196.3 441.2,1216.9 441.4,1207.4 441.5,1216.7 441.7,1213.7 441.8,1208.8 442,1200.5 442.1,1206.6 442.3,1209.1 442.4,1210.2 442.6,1198 442.7,1203.4 442.9,1204.2 443,1226 443.2,1210.1 443.3,1218.3 443.5,1190.8 443.6,1201.2 443.8,1193.5 443.9,1215.5 444.1,1222.2 444.2,1215 444.4,1200.9 444.5,1213.7 444.7,1199.9 444.8,1193.6 445,1209.9 445.1,1197 445.3,1227.9 445.4,1218.5 445.6,1212.3 445.7,1209.5 445.9,1220 446,1209.7 446.2,1195.8 446.3,1197.6 446.5,1201.6 446.6,1214.6 446.8,1191.8 446.9,1199.1 447.1,1215.3 447.2,1195.7 447.4,1208.6 447.5,1199.8 447.7,1201.3 447.8,1199.2 448,1190.2 448.1,1180.1 448.3,1200.7 448.4,1203.2 448.6,1204.7 448.7,1199.7 448.9,1198.2 449,1216.7 449.2,1202.9 449.3,1181.2 449.5,1196 449.6,1192.9 449.8,1203.9 449.9,1182.2 450.1,1197.5 450.2,1206.2 450.4,1210.4 450.5,1198.4 450.7,1185.6 450.8,1209.3 451,1212.5 451.1,1225.5 451.3,1195.8 451.4,1213.3 451.6,1209.9 451.7,1213.1 451.9,1211.4 452,1195 452.2,1210.2 452.3,1201 452.5,1209.8 452.6,1206.2 452.8,1196 452.9,1196.1 453.1,1213.9 453.2,1202.2 453.4,1211.6 453.5,1195.3 453.7,1208.4 453.8,1211.4 454,1194.1 454.1,1207.8 454.3,1200.9 454.4,1195.1 454.6,1207.3 454.7,1205.2 454.9,1196.1 455,1179.6 455.2,1196 455.3,1194.5 455.5,1201.5 455.6,1202.1 455.8,1186.9 455.9,1208.9 456.1,1208.5 456.2,1186.9 456.4,1209.2 456.5,1213.8 456.7,1196.6 456.8,1191.4 457,1183.9 457.1,1179.3 457.3,1223.5 457.4,1203 457.6,1204.2 457.7,1197.3 457.9,1209.4 458,1200.5 458.2,1198 458.3,1198.8 458.5,1209.2 458.6,1198.3 458.8,1209.3 458.9,1209 459.1,1203.1 459.2,1192.6 459.4,1220.4 459.5,1201 459.7,1186.6 459.8,1198.8 460,1205.6 460.1,1197.7 460.3,1184.5 460.4,1201.9 460.6,1207.2 460.7,1192.5 460.9,1202.7 461,1207 461.2,1191.8 461.3,1208.4 461.5,1203 461.6,1186.6 461.8,1198.4 461.9,1187.2 462.1,1217.7 462.2,1214.9 462.4,1207.6 462.5,1201.1 462.7,1218.9 462.8,1197.5 463,1205.1 463.1,1204.8 463.3,1199.3 463.4,1202.1 463.6,1211.6 463.7,1201.8 463.9,1211.5 464,1186.3 464.2,1204 464.3,1202 464.5,1205.9 464.6,1199 464.8,1196.9 464.9,1200.5 465.1,1209.6 465.2,1187.9 465.4,1199.3 465.5,1217.8 465.7,1221.5 465.8,1210.3 466,1210.7 466.1,1215.6 466.3,1208.6 466.4,1195.5 466.6,1186.2 466.7,1196.4 466.9,1195.2 467,1187.1 467.2,1176.6 467.3,1186.9 467.5,1192.3 467.6,1199.7 467.8,1208.4 467.9,1193.9 468.1,1186.1 468.2,1195 468.4,1203.5 468.5,1192.1 468.7,1198.8 468.8,1203.9 469,1217.7 469.1,1192.3 469.3,1204.4 469.4,1186 469.6,1204 469.7,1196.7 469.9,1203.2 470,1179.7 470.2,1183.8 470.3,1197.5 470.5,1182.9 470.6,1209.9 470.8,1190.7 470.9,1202.8 471.1,1198.6 471.2,1201.8 471.4,1191.1 471.5,1215.2 471.7,1201.8 471.8,1183.3 472,1220 472.1,1199.2 472.3,1210.6 472.4,1223 472.6,1193.1 472.7,1202 472.9,1184.4 473,1216.1 473.2,1193.5 473.3,1181.3 473.5,1216.1 473.6,1191 473.8,1190.6 473.9,1195.6 474.1,1183.7 474.2,1191.1 474.4,1205.1 474.5,1205.8 474.7,1199.6 474.8,1181.8 475,1199.8 475.1,1189.6 475.3,1200.2 475.4,1192.6 475.6,1193.6 475.7,1186.8 475.9,1181 476,1204.5 476.2,1211.2 476.3,1200.7 476.5,1200.4 476.6,1197.6 476.8,1190.4 476.9,1204.8 477.1,1200.7 477.2,1200.8 477.4,1190.1 477.5,1205.6 477.7,1189.5 477.8,1182.3 478,1204.1 478.1,1187.9 478.3,1196.8 478.4,1203.1 478.6,1182.5 478.7,1190.4 478.9,1206.1 479,1197.6 479.2,1210.1 479.3,1217.4 479.5,1193.3 479.6,1203.9 479.8,1187.7 479.9,1202.7 480.1,1201.8 480.2,1205.8 480.4,1203.3 480.5,1213 480.7,1207.7 480.8,1223 481,1223.9 481.1,1219.8 481.3,1212.7 481.4,1207.7 481.6,1208.8 481.7,1195.7 481.9,1183.2 482,1231.9 482.2,1193.9 482.3,1199.3 482.5,1214.6 482.6,1207.7 482.8,1228.7 482.9,1212.1 483.1,1194.6 483.2,1222.2 483.4,1216.7 483.5,1210.2 483.7,1204.9 483.8,1211.4 484,1217.3 484.1,1206.1 484.3,1218.5 484.4,1189.7 484.6,1201.3 484.7,1212.8 484.9,1222 485,1220 485.2,1222 485.3,1218.5 485.5,1211.4 485.6,1228.5 485.8,1214.7 485.9,1216.6 486.1,1226.2 486.2,1204.9 486.4,1213.1 486.5,1214.9 486.7,1223.9 486.8,1225.8 487,1218.7 487.1,1233.6 487.3,1216.4 487.4,1231.1 487.6,1220.7 487.7,1214.5 487.9,1223.8 488,1227.8 488.2,1229.1 488.3,1220.9 488.5,1233.3 488.6,1223.5 488.8,1214.1 488.9,1241.6 489.1,1231.6 489.2,1221.8 489.4,1235.2 489.5,1234.9 489.7,1237 489.8,1217.6 490,1246.3 490.1,1227.6 490.3,1228.6 490.4,1226.9 490.6,1234.8 490.7,1227 490.9,1232.9 491,1236.4 491.2,1204.3 491.3,1219.4 491.5,1239.4 491.6,1236.1 491.8,1225.7 491.9,1216.6 492.1,1232.1 492.2,1223.9 492.4,1229 492.5,1220.2 492.7,1236.4 492.8,1238.8 493,1229.3 493.1,1229.6 493.3,1232 493.4,1221.3 493.6,1226.5 493.7,1232.1 493.9,1244.3 494,1227.3 494.2,1226 494.3,1240.1 494.5,1235.2 494.6,1244.9 494.8,1233.8 494.9,1237.2 495.1,1251.8 495.2,1235.7 495.4,1239 495.5,1239.4 495.7,1226.9 495.8,1232.3 496,1229 496.1,1240.2 496.3,1225.1 496.4,1244.8 496.6,1231.2 496.7,1251.9 496.9,1236.5 497,1248.1 497.2,1252.3 497.3,1233.1 497.5,1237.8 497.6,1235.2 497.8,1239.7 497.9,1237.8 498.1,1240.9 498.2,1242.2 498.4,1239.9 498.5,1220.4 498.7,1250.7 498.8,1255.4 499,1250.4 499.1,1248.3 499.3,1237.6 499.4,1232.7 499.6,1232.6 499.7,1245.1 499.9,1236.9 500,1226.8 500.2,1238 500.3,1232.3 500.5,1253 500.6,1236.5 500.8,1237.5 500.9,1256 501.1,1244.9 501.2,1240 501.4,1253.8 501.5,1238 501.7,1237.6 501.8,1243.9 502,1247.9 502.1,1249 502.3,1244.1 502.4,1237.7 502.6,1260.2 502.7,1246.7 502.9,1246.5 503,1256.8 503.2,1260.8 503.3,1251.6 503.5,1264.9 503.6,1248.3 503.8,1253.1 503.9,1260.7 504.1,1251.1 504.2,1259.1 504.4,1258.2 504.5,1241.7 504.7,1259.3 504.8,1275.4 505,1250.4 505.1,1262.6 505.3,1261.6 505.4,1240.3 505.6,1254.9 505.7,1247.3 505.9,1267.1 506,1264.3 506.2,1262.8 506.3,1249.4 506.5,1262 506.6,1273.4 506.8,1250.1 506.9,1261.6 507.1,1256.5 507.2,1250.9 507.4,1238.9 507.5,1258.5 507.7,1244.6 507.8,1270.8 508,1257.6 508.1,1256.7 508.3,1279 508.4,1268.5 508.6,1266.6 508.7,1256.2 508.9,1265.1 509,1264.8 509.2,1267.3 509.3,1257.7 509.5,1262.5 509.6,1262.9 509.8,1264.6 509.9,1256.9 510.1,1269.2 510.2,1263.6 510.4,1263.5 510.5,1260.6 510.7,1255.5 510.8,1261.5 511,1276.2 511.1,1256.4 511.3,1254.8 511.4,1254.5 511.6,1258.3 511.7,1279.3 511.9,1267.3 512,1259.7 512.2,1259.7 512.3,1267.8 512.5,1266.2 512.6,1276.9 512.8,1264.5 512.9,1285.8 513.1,1270.3 513.2,1260.6 513.4,1279.2 513.5,1258.6 513.7,1253 513.8,1265.5 514,1274.6 514.1,1274.6 514.3,1281 514.4,1265 514.6,1280.8 514.7,1270.2 514.9,1281.3 515,1267.9 515.2,1284.3 515.3,1274.1 515.5,1279.4 515.6,1265.2 515.8,1277.4 515.9,1275.7 516.1,1265.3 516.2,1284.3 516.4,1285.8 516.5,1276.3 516.7,1284.7 516.8,1262.6 517,1275.7 517.1,1275.1 517.3,1280.4 517.4,1300 517.6,1267.8 517.7,1279.7 517.9,1295.8 518,1288.3 518.2,1280 518.3,1270 518.5,1277.7 518.6,1277.9 518.8,1278.5 518.9,1289 519.1,1287.4 519.2,1282.2 519.4,1293.7 519.5,1282.8 519.7,1278 519.8,1303.1 520,1286 520.1,1286.7 520.3,1284.1 520.4,1271 520.6,1296.9 520.7,1270.2 520.9,1280.8 521,1266.6 521.2,1290.1 521.3,1284.5 521.5,1288.8 521.6,1284.1 521.8,1295.8 521.9,1295.3 522.1,1290.7 522.2,1284.5 522.4,1300.6 522.5,1293.2 522.7,1295.9 522.8,1288.9 523,1285 523.1,1304 523.3,1300.5 523.4,1295.6 523.6,1301.3 523.7,1282.2 523.9,1280.4 524,1288.3 524.2,1290.6 524.3,1303.9 524.5,1303.1 524.6,1292.5 524.8,1284.5 524.9,1299.4 525.1,1294.7 525.2,1284.6 525.4,1284 525.5,1306.1 525.7,1296.4 525.8,1293 526,1312.3 526.1,1303.4 526.3,1298.6 526.4,1304.6 526.6,1296.7 526.7,1304.2 526.9,1315.1 527,1311.8 527.2,1319.1 527.3,1313.2 527.5,1298.7 527.6,1301.4 527.8,1300.1 527.9,1294.3 528.1,1313.7 528.2,1309 528.4,1304.5 528.5,1292.9 528.7,1304.1 528.8,1307.6 529,1304.6 529.1,1314.3 529.3,1322.9 529.4,1304.4 529.6,1311.7 529.7,1305.3 529.9,1318.3 530,1316.4 530.2,1304 530.3,1308.6 530.5,1303.3 530.6,1316.1 530.8,1310.7 530.9,1306.3 531.1,1305.1 531.2,1312.6 531.4,1310.4 531.5,1313.6 531.7,1314.4 531.8,1314.1 532,1310.6 532.1,1324.5 532.3,1315.1 532.4,1322.9 532.6,1315.4 532.7,1317.8 532.9,1315 533,1318.6 533.2,1318.2 533.3,1327.9 533.5,1307.4 533.6,1328.4 533.8,1332.7 533.9,1316.4 534.1,1315 534.2,1320.4 534.4,1322.5 534.5,1328.9 534.7,1307 534.8,1333.9 535,1304.3 535.1,1333.6 535.3,1329.8 535.4,1324.4 535.6,1326.3 535.7,1319.7 535.9,1330 536,1326.6 536.2,1336 536.3,1316 536.5,1327.3 536.6,1331 536.8,1325.6 536.9,1319.4 537.1,1323.7 537.2,1331.9 537.4,1325.9 537.5,1324.9 537.7,1324.6 537.8,1330.3 538,1323.4 538.1,1336.7 538.3,1328.1 538.4,1335.3 538.6,1329.3 538.7,1334.3 538.9,1325.6 539,1333.7 539.2,1322.6 539.3,1338.2 539.5,1324.5 539.6,1338.4 539.8,1350.4 539.9,1340.2 540.1,1327.2 540.2,1332.4 540.4,1330.8 540.5,1337.4 540.7,1332.6 540.8,1342.5 541,1323.6 541.1,1324.9 541.3,1333.4 541.4,1341.1 541.6,1342 541.7,1333.4 541.9,1335.6 542,1344.9 542.2,1333.7 542.3,1333.2 542.5,1335.8 542.6,1337.3 542.8,1338.8 542.9,1340.9 543.1,1343.4 543.2,1345.9 543.4,1333.6 543.5,1353.3 543.7,1342.2 543.8,1337.5 544,1328 544.1,1346.7 544.3,1335.3 544.4,1336.4 544.6,1339 544.7,1333.3 544.9,1357.7 545,1340 545.2,1347.8 545.3,1344.6 545.5,1348.9 545.6,1354.2 545.8,1361.6 545.9,1346.6 546.1,1351.5 546.2,1359.3 546.4,1351.7 546.5,1358.8 546.7,1357.7 546.8,1351.2 547,1347.7 547.1,1366.4 547.3,1354.5 547.4,1350.4 547.6,1363.3 547.7,1357.5 547.9,1353.8 548,1350.2 548.2,1364.5 548.3,1368.2 548.5,1362.1 548.6,1361.8 548.8,1359.2 548.9,1359.2 549.1,1372.7 549.2,1355.8 549.4,1371.9 549.5,1359.2 549.7,1358.7 549.8,1359.7 550,1361 550.1,1361.1 550.3,1369 550.4,1369.8 550.6,1351.2 550.7,1355.2 550.9,1357.1 551,1361 551.2,1377 551.3,1355.2 551.5,1369.2 551.6,1368.4 551.8,1363.8 551.9,1373.5 552.1,1361.4 552.2,1385.6 552.4,1362.9 552.5,1367.9 552.7,1377.1 552.8,1366.8 553,1365.3 553.1,1368.1 553.3,1367.7 553.4,1375.7 553.6,1368 553.7,1368.4 553.9,1367.5 554,1371.9 554.2,1387 554.3,1373.7 554.5,1385.7 554.6,1382.9 554.8,1379.4 554.9,1378.1 555.1,1381.5 555.2,1378.2 555.4,1377.6 555.5,1380.1 555.7,1381.3 555.8,1380.2 556,1378.6 556.1,1389.1 556.3,1393.1 556.4,1378 556.6,1384.2 556.7,1399.7 556.9,1379.3 557,1379.7 557.2,1398.3 557.3,1394.9 557.5,1391.4 557.6,1396.1 557.8,1393.1 557.9,1390.2 558.1,1384.4 558.2,1405.6 558.4,1390.9 558.5,1385.4 558.7,1406.9 558.8,1391 559,1393.8 559.1,1397.3 559.3,1389.9 559.4,1387.1 559.6,1388.9 559.7,1383.9 559.9,1400.7 560,1409 560.2,1400.6 560.3,1397 560.5,1391.6 560.6,1395.8 560.8,1403 560.9,1392.1 561.1,1397.9 561.2,1399.6 561.4,1402.7 561.5,1399.7 561.7,1399.2 561.8,1402.9 562,1417.2 562.1,1409.1 562.3,1402 562.4,1396 562.6,1398.8 562.7,1399.7 562.9,1396.6 563,1403.1 563.2,1399.9 563.3,1402.1 563.5,1406.9 563.6,1413.8 563.8,1418.4 563.9,1407.2 564.1,1417.1 564.2,1411.2 564.4,1407 564.5,1415.5 564.7,1407 564.8,1412.1 565,1417.9 565.1,1410.1 565.3,1409.8 565.4,1416.9 565.6,1411.9 565.7,1421.3 565.9,1414.9 566,1414.3 566.2,1422 566.3,1416.3 566.5,1409.3 566.6,1421.1 566.8,1424.2 566.9,1426.2 567.1,1423.1 567.2,1425.3 567.4,1428.6 567.5,1419.5 567.7,1418.7 567.8,1426.1 568,1420.8 568.1,1416.5 568.3,1420 568.4,1421.3 568.6,1419 568.7,1426.5 568.9,1418.6 569,1413.7 569.2,1427.5 569.3,1434.3 569.5,1428.6 569.6,1430.4 569.8,1424.2 569.9,1419.3 570.1,1423.1 570.2,1417.3 570.4,1424.3 570.5,1426.6 570.7,1437.5 570.8,1425.6 571,1431.3 571.1,1431.1 571.3,1430.1 571.4,1420.6 571.6,1424.8 571.7,1429.5 571.9,1437.3 572,1432.5 572.2,1431.9 572.3,1426.4 572.5,1428.4 572.6,1428.8 572.8,1436.7 572.9,1427.3 573.1,1419.8 573.2,1439.9 573.4,1438.4 573.5,1433.1 573.7,1428.8 573.8,1432.7 574,1433.8 574.1,1427.2 574.3,1440.4 574.4,1445.7 574.6,1443.3 574.7,1431.9 574.9,1431.5 575,1438.5 575.2,1444.2 575.3,1441.6 575.5,1435.7 575.6,1433 575.8,1441.3 575.9,1442.7 576.1,1443.4 576.2,1442.2 576.4,1436.1 576.5,1438.8 576.7,1438.3 576.8,1439.9 577,1439.7 577.1,1447.4 577.3,1446.5 577.4,1439.8 577.6,1439.9 577.7,1436.8 577.9,1442.8 578,1447 578.2,1444 578.3,1444.4 578.5,1440.9 578.6,1444.6 578.8,1441.5 578.9,1441.7 579.1,1442 579.2,1442 579.4,1449.9 579.5,1439.8 579.7,1437.6 579.8,1441.8 580,1438.3 580.1,1444.2 580.3,1449.1 580.4,1444.1 580.6,1447.2 580.7,1447.9 580.9,1439.9 581,1452.1 581.2,1442.8 581.3,1451.1 581.5,1456.9 581.6,1445.5 581.8,1448.7 581.9,1448.5 582.1,1448.6 582.2,1445 582.4,1448.6 582.5,1451.8 582.7,1451.3 582.8,1449 583,1454 583.1,1449.9 583.3,1461.5 583.4,1452.9 583.6,1452.7 583.7,1449.7 583.9,1458.3 584,1454.5 584.2,1451.8 584.3,1443.4 584.5,1453.7 584.6,1452 584.8,1457.6 584.9,1445.7 585.1,1456.8 585.2,1457.1 585.4,1455.7 585.5,1462.6 585.7,1461.6 585.8,1459 586,1461.4 586.1,1453.7 586.3,1460.6 586.4,1448.8 586.6,1457.8 586.7,1462.6 586.9,1459 587,1456.9 587.2,1460.3 587.3,1458.7 587.5,1462 587.6,1464.7 587.8,1462.1 587.9,1454.3 588.1,1464 588.2,1462.9 588.4,1469.6 588.5,1466.1 588.7,1462.1 588.8,1465.4 589,1459.2 589.1,1460.3 589.3,1466.7 589.4,1465.6 589.6,1462.6 589.7,1464.1 589.9,1467.3 590,1474.1 590.2,1460.7 590.3,1466.7 590.5,1466.4 590.6,1470.4 590.8,1461.4 590.9,1468.4 591.1,1467.5 591.2,1477 591.4,1470.8 591.5,1469.4 591.7,1467.8 591.8,1466.8 592,1470.8 592.1,1465.9 592.3,1471 592.4,1471.5 592.6,1471.1 592.7,1478.3 592.9,1480.8 593,1464.3 593.2,1479.4 593.3,1474.9 593.5,1470.3 593.6,1475.7 593.8,1468.6 593.9,1481.5 594.1,1473.2 594.2,1471.4 594.4,1465.2 594.5,1468.4 594.7,1477.7 594.8,1471.4 595,1474.1 595.1,1480.4 595.3,1477.8 595.4,1471.7 595.6,1477.4 595.7,1480.4 595.9,1479.3 596,1482.1 596.2,1483.6 596.3,1476 596.5,1475.9 596.6,1473.8 596.8,1484.5 596.9,1483 597.1,1477.1 597.2,1478.4 597.4,1479.9 597.5,1484.3 597.7,1481 597.8,1485.6 598,1474.1 598.1,1477.7 598.3,1484.6 598.4,1476 598.6,1485.2 598.7,1479.1 598.9,1481 599,1483.4 599.2,1476.8 599.3,1488.8 599.5,1483.9 599.6,1484.1 599.8,1490 599.9,1489.2 600.1,1483 600.2,1482.7 600.4,1487.8 600.5,1482 600.7,1482.5 600.8,1481.5 601,1485.7 601.1,1485.3 601.3,1482.8 601.4,1487.5 601.6,1488.8 601.7,1490.4 601.9,1484 602,1481.3 602.2,1493.4 602.3,1487.5 602.5,1483.8 602.6,1481.1 602.8,1485.9 602.9,1490.2 603.1,1484.5 603.2,1478.6 603.4,1486 603.5,1485 603.7,1481.2 603.8,1493.5 604,1485 604.1,1482.6 604.3,1484.6 604.4,1487.8 604.6,1490 604.7,1490.9 604.9,1493.8 605,1491 605.2,1493.7 605.3,1489.8 605.5,1490.4 605.6,1491.9 605.8,1491.5 605.9,1489.9 606.1,1494.8 606.2,1488.1 606.4,1489.9 606.5,1488.5 606.7,1492 606.8,1491.7 607,1490.6 607.1,1490.8 607.3,1492.8 607.4,1492.7 607.6,1493.6 607.7,1493.2 607.9,1494.7 608,1495 608.2,1495.8 608.3,1487.4 608.5,1494.9 608.6,1493 608.8,1496.3 608.9,1492.4 609.1,1488.6 609.2,1495.8 609.4,1492.7 609.5,1493.7 609.7,1490.4 609.8,1494 610,1494.2 610.1,1494.8 610.3,1501 610.4,1490.6 610.6,1488.4 610.7,1497.4 610.9,1491.5 611,1494.6 611.2,1489.6 611.3,1496.7 611.5,1493.4 611.6,1490.4 611.8,1493.2 611.9,1494.5 612.1,1495.5 612.2,1497.6 612.4,1495.1 612.5,1499.1 612.7,1490 612.8,1493.9 613,1496.5 613.1,1501.4 613.3,1492.5 613.4,1491.6 613.6,1494.8 613.7,1493.4 613.9,1493.5 614,1496.8 614.2,1497.7 614.3,1496.5 614.5,1492.7 614.6,1499.1 614.8,1502.7 614.9,1496.9 615.1,1497.1 615.2,1497.9 615.4,1497.1 615.5,1501.8 615.7,1500.9 615.8,1499.4 616,1498.4 616.1,1496.5 616.3,1495.9 616.4,1497.8 616.6,1499.1 616.7,1502.1 616.9,1500.5 617,1504.3 617.2,1501.6 617.3,1497.8 617.5,1497.4 617.6,1502.9 617.8,1495.6 617.9,1507.7 618.1,1498 618.2,1499.9 618.4,1500.6 618.5,1498.8 618.7,1501.7 618.8,1492.8 619,1502 619.1,1501.7 619.3,1499.6 619.4,1507.4 619.6,1501.3 619.7,1505.8 619.9,1496.5 620,1502.9 620.2,1501.8 620.3,1507.4 620.5,1495.4 620.6,1507.5 620.8,1506.7 620.9,1504.4 621.1,1509.6 621.2,1506.6 621.4,1503.6 621.5,1498.8 621.7,1498.7 621.8,1506.4 622,1504.5 622.1,1500.5 622.3,1498.9 622.4,1505.8 622.6,1503.9 622.7,1503.2 622.9,1502.8 623,1504.2 623.2,1497.4 623.3,1504.2 623.5,1499.6 623.6,1501.9 623.8,1494.9 623.9,1498.8 624.1,1510.3 624.2,1501.8 624.4,1510.9 624.5,1499.6 624.7,1505.2 624.8,1511.4 625,1507.8 625.1,1505.7 625.3,1499.8 625.4,1504.4 625.6,1503.2 625.7,1507.2 625.9,1506.7 626,1510.2 626.2,1506.6 626.3,1506.3 626.5,1505.8 626.6,1508.4 626.8,1506.5 626.9,1507.4 627.1,1505.2 627.2,1508.3 627.4,1508.3 627.5,1509.4 627.7,1508.8 627.8,1507.6 628,1510.1 628.1,1502.7 628.3,1503.5 628.4,1505.8 628.6,1504.6 628.7,1511.2 628.9,1509.4 629,1508.9 629.2,1506.7 629.3,1504.9 629.5,1504.8 629.6,1512.5 629.8,1508 629.9,1504.2 630.1,1508.8 630.2,1506.5 630.4,1513.7 630.5,1508.1 630.7,1509.2 630.8,1515 631,1505.8 631.1,1504 631.3,1505.9 631.4,1509.8 631.6,1509.2 631.7,1511 631.9,1507 632,1507.5 632.2,1504.4 632.3,1509.2 632.5,1506.2 632.6,1510.1 632.8,1511.8 632.9,1509.6 633.1,1512.4 633.2,1512.5 633.4,1507.4 633.5,1507.6 633.7,1512.5 633.8,1513 634,1510.8 634.1,1512.7 634.3,1508 634.4,1511.5 634.6,1514.8 634.7,1513.4 634.9,1509.4 635,1504.1 635.2,1509.2 635.3,1515.5 635.5,1514.1 635.6,1510.7 635.8,1511.8 635.9,1510.9 636.1,1504.9 636.2,1514.9 636.4,1514.8 636.5,1511.9 636.7,1511.7 636.8,1511.2 637,1509.3 637.1,1512.1 637.3,1508.7 637.4,1511.6 637.6,1511 637.7,1517.9 637.9,1515.2 638,1513.7 638.2,1510.5 638.3,1514.7 638.5,1515.8 638.6,1515.2 638.8,1507.4 638.9,1517.7 639.1,1512.3 639.2,1513 639.4,1508.6 639.5,1511 639.7,1514.4 639.8,1510.7 640,1509.3 640.1,1514.7 640.3,1518.9 640.4,1517.5 640.6,1513.6 640.7,1517.1 640.9,1513.5 641,1510.4 641.2,1513.4 641.3,1507.2 641.5,1514.7 641.6,1518.2 641.8,1513.8 641.9,1511.3 642.1,1518.9 642.2,1513.2 642.4,1509.4 642.5,1514.1 642.7,1509.1 642.8,1519.7 643,1513.2 643.1,1520.4 643.3,1520.7 643.4,1519.9 643.6,1512 643.7,1514.4 643.9,1511.1 644,1518.3 644.2,1521 644.3,1513 644.5,1518 644.6,1520.7 644.8,1513.5 644.9,1512.7 645.1,1518.5 645.2,1515.7 645.4,1514.5 645.5,1519.3 645.7,1519 645.8,1515.6 646,1511.3 646.1,1519.7 646.3,1514.1 646.4,1514.9 646.6,1516.1 646.7,1517.4 646.9,1519.5 647,1514.8 647.2,1517.4 647.3,1525 647.5,1516.1 647.6,1519.7 647.8,1517.7 647.9,1510.9 648.1,1516.3 648.2,1524.1 648.4,1518.9 648.5,1521.3 648.7,1514.5 648.8,1526.2 649,1516 649.1,1517.7 649.3,1519.1 649.4,1516.7 649.6,1512.4 649.7,1524.1 649.9,1519.8 650,1518.3 650.2,1518.2 650.3,1519.2 650.5,1516.9 650.6,1518 650.8,1519.9 650.9,1524.5 651.1,1516.5 651.2,1514 651.4,1515 651.5,1517.4 651.7,1515 651.8,1523.5 652,1516.3 652.1,1517.8 652.3,1519.2 652.4,1515.4 652.6,1519.6 652.7,1520.3 652.9,1522.4 653,1525.1 653.2,1520.8 653.3,1513.8 653.5,1513.5 653.6,1521.4 653.8,1519 653.9,1514.7 654.1,1522.9 654.2,1521.1 654.4,1524.2 654.5,1514.7 654.7,1521.9 654.8,1521.1 655,1520.1 655.1,1522.8 655.3,1512.1 655.4,1516.5 655.6,1513.5 655.7,1526.7 655.9,1517.8 656,1520.8 656.2,1523.9 656.3,1520.1 656.5,1515.3 656.6,1516.8 656.8,1522.1 656.9,1512.7 657.1,1516.9 657.2,1523.2 657.4,1523.3 657.5,1522.7 657.7,1521 657.8,1522.4 658,1522.8 658.1,1517.8 658.3,1522.9 658.4,1520.4 658.6,1522.9 658.7,1521.7 658.9,1517.2 659,1520.9 659.2,1518.6 659.3,1521.3 659.5,1517.6 659.6,1521.3 659.8,1517.6 659.9,1525.3 660.1,1517.8 660.2,1519.9 660.4,1524.3 660.5,1523.6 660.7,1527.8 660.8,1522.5 661,1521.1 661.1,1523.4 661.3,1518.5 661.4,1528.7 661.6,1522.6 661.7,1526 661.9,1523.7 662,1519.4 662.2,1522.3 662.3,1517.5 662.5,1523.5 662.6,1524.5 662.8,1523.3 662.9,1527.2 663.1,1525.3 663.2,1522.8 663.4,1519.7 663.5,1526 663.7,1525.7 663.8,1528 664,1527.5 664.1,1523.3 664.3,1523 664.4,1522.2 664.6,1524.2 664.7,1520 664.9,1529 665,1523.6 665.2,1521.5 665.3,1524.6 665.5,1522.2 665.6,1524.4 665.8,1524.9 665.9,1523.2 666.1,1525.8 666.2,1523.9 666.4,1521.9 666.5,1527.4 666.7,1521.7 666.8,1520.2 667,1518.7 667.1,1525 667.3,1520.4 667.4,1530 667.6,1528.5 667.7,1524 667.9,1527.8 668,1527.3 668.2,1527.6 668.3,1525.4 668.5,1526.5 668.6,1527.5 668.8,1524.7 668.9,1526.3 669.1,1524.6 669.2,1523.7 669.4,1523 669.5,1525.5 669.7,1526.2 669.8,1526.2 670,1528.3 670.1,1523.5 670.3,1525.1 670.4,1521.7 670.6,1524.1 670.7,1526.7 670.9,1522.4 671,1526.1 671.2,1525.4 671.3,1523.8 671.5,1524.5 671.6,1527.8 671.8,1523.1 671.9,1524.2 672.1,1525.5 672.2,1526.1 672.4,1524.8 672.5,1530.3 672.7,1521.4 672.8,1533.5 673,1528.9 673.1,1528.8 673.3,1524.5 673.4,1525.7 673.6,1524.7 673.7,1529.8 673.9,1522.1 674,1523.1 674.2,1532.6 674.3,1525.4 674.5,1532.2 674.6,1527.9 674.8,1524.4 674.9,1526.1 675.1,1530.4 675.2,1528.3 675.4,1522.9 675.5,1525.8 675.7,1524.1 675.8,1531.8 676,1524.8 676.1,1525.9 676.3,1529.5 676.4,1522.1 676.6,1526.7 676.7,1523.8 676.9,1528.2 677,1525.3 677.2,1525 677.3,1527 677.5,1526.3 677.6,1525.7 677.8,1527 677.9,1530.7 678.1,1525.7 678.2,1527.2 678.4,1526 678.5,1529.4 678.7,1522.1 678.8,1524 679,1522.5 679.1,1521 679.3,1523.8 679.4,1527.9 679.6,1530.9 679.7,1523.4 679.9,1526.1 680,1524.3 680.2,1522.8 680.3,1527.5 680.5,1530 680.6,1525.8 680.8,1528.5 680.9,1529.7 681.1,1525.9 681.2,1527.9 681.4,1525.6 681.5,1530.6 681.7,1527.6 681.8,1528 682,1527.3 682.1,1529.1 682.3,1525.2 682.4,1531.8 682.6,1525.9 682.7,1523.9 682.9,1527.4 683,1527.1 683.2,1529.8 683.3,1526.6 683.5,1526 683.6,1526.9 683.8,1526.3 683.9,1525.7 684.1,1526.8 684.2,1533.2 684.4,1531 684.5,1527.9 684.7,1520.8 684.8,1524.2 685,1527.6 685.1,1528.2 685.3,1529 685.4,1525.8 685.6,1528.6 685.7,1527.5 685.9,1530.4 686,1529 686.2,1530.8 686.3,1530.2 686.5,1528.8 686.6,1524.1 686.8,1526.7 686.9,1524.5 687.1,1529.2 687.2,1527 687.4,1529.7 687.5,1528.4 687.7,1528.4 687.8,1532.9 688,1527.8 688.1,1531.6 688.3,1526.4 688.4,1529.9 688.6,1532.8 688.7,1531.7 688.9,1530.8 689,1523.6 689.2,1532 689.3,1529.3 689.5,1527.6 689.6,1528.7 689.8,1528.3 689.9,1526 690.1,1530.4 690.2,1522.8 690.4,1524 690.5,1527.6 690.7,1524 690.8,1527.9 691,1529.6 691.1,1532 691.3,1530.4 691.4,1526.5 691.6,1527.3 691.7,1523.4 691.9,1523.5 692,1525.6 692.2,1528 692.3,1522.8 692.5,1528.5 692.6,1535.9 692.8,1529.3 692.9,1527 693.1,1526.7 693.2,1526.7 693.4,1526 693.5,1536.5 693.7,1521.4 693.8,1526.8 694,1528.3 694.1,1534.6 694.3,1526 694.4,1531.8 694.6,1534.8 694.7,1526.8 694.9,1527 695,1529.1 695.2,1531.5 695.3,1527.4 695.5,1528.5 695.6,1527.7 695.8,1527.5 695.9,1533.5 696.1,1527.4 696.2,1532.8 696.4,1527.4 696.5,1530.1 696.7,1530.5 696.8,1523.8 697,1528.3 697.1,1528.3 697.3,1526.5 697.4,1522.1 697.6,1537.3 697.7,1527.4 697.9,1528.8 698,1525.4 698.2,1528.9 698.3,1529.1 698.5,1527.1 698.6,1529.1 698.8,1531.7 698.9,1528.9 699.1,1523.1 699.2,1527.1 699.4,1536.3 699.5,1529.4 699.7,1532.1 699.8,1526 700,1532.6 700.1,1529.3 700.3,1527.4 700.4,1526.4 700.6,1531 700.7,1528.2 700.9,1521.9 701,1531.2 701.2,1529 701.3,1531.9 701.5,1529.7 701.6,1527.5 701.8,1528.9 701.9,1527 702.1,1533.2 702.2,1528.7 702.4,1530.1 702.5,1537.7 702.7,1525.6 702.8,1528.8 703,1531.1 703.1,1525.7 703.3,1527.5 703.4,1536.7 703.6,1527.7 703.7,1521.4 703.9,1528.2 704,1526.5 704.2,1534.6 704.3,1534.2 704.5,1533.8 704.6,1525.7 704.8,1526.2 704.9,1537.3 705.1,1526.4 705.2,1536 705.4,1533.9 705.5,1529.6 705.7,1531.6 705.8,1529.5 706,1528.7 706.1,1525.5 706.3,1530.9 706.4,1531.5 706.6,1531.7 706.7,1521.5 706.9,1525.5 707,1525.4 707.2,1527.5 707.3,1528.5 707.5,1524.6 707.6,1529.5 707.8,1534.3 707.9,1534.6 708.1,1521.1 708.2,1532.8 708.4,1531.6 708.5,1529.9 708.7,1525.9 708.8,1533.1 709,1530.1 709.1,1528.2 709.3,1533.6 709.4,1529.2 709.6,1525.8 709.7,1528.6 709.9,1529.1 710,1527.8 710.2,1529.7 710.3,1530.9 710.5,1531.2 710.6,1526.7 710.8,1534.9 710.9,1533.5 711.1,1526.9 711.2,1525.6 711.4,1529.2 711.5,1532.4 711.7,1534.9 711.8,1527.6 712,1529 712.1,1528.5 712.3,1528.3 712.4,1533.1 712.6,1532.2 712.7,1530.1 712.9,1530.4 713,1535.1 713.2,1533.9 713.3,1530.5 713.5,1525.2 713.6,1521.9 713.8,1529 713.9,1530.9 714.1,1528.8 714.2,1529.6 714.4,1532.7 714.5,1538.1 714.7,1529.2 714.8,1531.9 715,1530 715.1,1533.1" fill="none" stroke="#0d0d9c" stroke-width="2.5" stroke-linejoin="round"/>
<path d="M157.9,1521.2 158.9,1521.2 159.9,1521.2 160.9,1521.2 161.9,1521.1 162.9,1521.1 163.9,1521.1 164.9,1521.1 165.9,1521.1 166.9,1521.1 167.9,1521.1 168.9,1521.1 169.9,1521.1 170.9,1521.1 171.9,1521.1 172.9,1521.1 173.9,1521.1 174.9,1521.1 175.9,1521.1 176.9,1521.1 177.9,1521.1 178.9,1521.1 179.9,1521.1 180.9,1521.1 181.9,1521.1 182.9,1521.1 183.9,1521.1 184.9,1521.1 185.9,1521.1 186.9,1521.1 187.9,1521.1 188.9,1521.1 189.9,1521.1 190.9,1521.1 191.9,1521.1 192.9,1521.1 193.9,1521.1 194.9,1521 195.9,1521 196.9,1521 197.9,1521 198.9,1521 199.9,1521 200.9,1521 201.9,1521 202.9,1521 203.9,1521 204.9,1521 205.9,1521 206.9,1521 207.9,1521 208.9,1521 209.9,1521 210.9,1520.9 211.9,1520.9 212.9,1520.9 213.9,1520.9 214.9,1520.9 215.9,1520.9 216.9,1520.9 217.9,1520.9 218.9,1520.9 219.9,1520.9 220.9,1520.9 221.9,1520.9 222.9,1520.9 223.9,1520.8 224.9,1520.8 225.9,1520.8 226.9,1520.8 227.9,1520.8 228.9,1520.8 229.9,1520.8 230.9,1520.8 231.9,1520.8 232.9,1520.8 233.9,1520.8 234.9,1520.7 235.9,1520.7 236.9,1520.7 237.9,1520.7 238.9,1520.7 239.9,1520.7 240.9,1520.7 241.9,1520.7 242.9,1520.7 243.9,1520.7 244.9,1520.6 245.9,1520.6 246.9,1520.6 247.9,1520.6 248.9,1520.6 249.9,1520.6 250.9,1520.6 251.9,1520.6 252.9,1520.6 253.9,1520.6 254.9,1520.5 255.9,1520.5 256.9,1520.5 257.9,1520.5 258.9,1520.5 259.9,1520.5 260.9,1520.5 261.9,1520.5 262.9,1520.5 263.9,1520.4 264.9,1520.4 265.9,1520.4 266.9,1520.4 267.9,1520.4 268.9,1520.4 269.9,1520.4 270.9,1520.4 271.9,1520.4 272.9,1520.4 273.9,1520.3 274.9,1520.3 275.9,1520.3 276.9,1520.3 277.9,1520.3 278.9,1520.3 279.9,1520.3 280.9,1520.3 281.9,1520.2 282.9,1520.2 283.9,1520.2 284.9,1520.2 285.9,1520.2 286.9,1520.2 287.9,1520.2 288.9,1520.2 289.9,1520.2 290.9,1520.1 291.9,1520.1 292.9,1520.1 293.9,1520.1 294.9,1520.1 295.9,1520.1 296.9,1520.1 297.9,1520.1 298.9,1520.1 299.9,1520 300.9,1520 301.9,1520 302.9,1520 303.9,1520 304.9,1520 305.9,1520 306.9,1519.9 307.9,1519.9 308.9,1519.9 309.9,1519.9 310.9,1519.9 311.9,1519.9 312.9,1519.9 313.9,1519.9 314.9,1519.8 315.9,1519.8 316.9,1519.8 317.9,1519.8 318.9,1519.8 319.9,1519.8 320.9,1519.7 321.9,1519.7 322.9,1519.7 323.9,1519.7 324.9,1519.7 325.9,1519.7 326.9,1519.6 327.9,1519.6 328.9,1519.6 329.9,1519.6 330.9,1519.6 331.9,1519.6 332.9,1519.5 333.9,1519.5 334.9,1519.5 335.9,1519.5 336.9,1519.5 337.9,1519.4 338.9,1519.4 339.9,1519.4 340.9,1519.4 341.9,1519.4 342.9,1519.3 343.9,1519.3 344.9,1519.3 345.9,1519.3 346.9,1519.2 347.9,1519.2 348.9,1519.2 349.9,1519.2 350.9,1519.1 351.9,1519.1 352.9,1519.1 353.9,1519.1 354.9,1519.1 355.9,1519 356.9,1519 357.9,1519 358.9,1518.9 359.9,1518.9 360.9,1518.9 361.9,1518.9 362.9,1518.8 363.9,1518.8 364.9,1518.8 365.9,1518.8 366.9,1518.7 367.9,1518.7 368.9,1518.7 369.9,1518.6 370.9,1518.6 371.9,1518.6 372.9,1518.5 373.9,1518.5 374.9,1518.5 375.9,1518.4 376.9,1518.4 377.9,1518.4 378.9,1518.3 379.9,1518.3 380.9,1518.2 381.9,1518.2 382.9,1518.2 383.9,1518.1 384.9,1518.1 385.9,1518 386.9,1518 387.9,1517.9 388.9,1517.9 389.9,1517.8 390.9,1517.7 391.9,1517.7 392.9,1517.6 393.9,1517.6 394.9,1517.5 395.9,1517.4 396.9,1517.4 397.9,1517.3 398.9,1517.2 399.9,1517.2 400.9,1517.1 401.9,1517 402.9,1517 403.9,1516.9 404.9,1516.8 405.9,1516.8 406.9,1516.7 407.9,1516.6 408.9,1516.5 409.9,1516.5 410.9,1516.4 411.9,1516.3 412.9,1516.2 413.9,1516.2 414.9,1516.1 415.9,1516 416.9,1515.9 417.9,1515.9 418.9,1515.8 419.9,1515.7 420.9,1515.6 421.9,1515.5 422.9,1515.5 423.9,1515.4 424.9,1515.3 425.9,1515.2 426.9,1515.1 427.9,1515 428.9,1514.9 429.9,1514.8 430.9,1514.7 431.9,1514.6 432.9,1514.5 433.9,1514.4 434.9,1514.2 435.9,1514.1 436.9,1514 437.9,1513.8 438.9,1513.7 439.9,1513.5 440.9,1513.3 441.9,1513.1 442.9,1512.9 443.9,1512.7 444.9,1512.5 445.9,1512.3 446.9,1512.1 447.9,1511.9 448.9,1511.6 449.9,1511.4 450.9,1511.1 451.9,1510.8 452.9,1510.6 453.9,1510.3 454.9,1510 455.9,1509.6 456.9,1509.3 457.9,1509 458.9,1508.6 459.9,1508.2 460.9,1507.8 461.9,1507.4 462.9,1507 463.9,1506.5 464.9,1506 465.9,1505.6 466.9,1505.1 467.9,1504.5 468.9,1504 469.9,1503.4 470.9,1502.8 471.9,1502.1 472.9,1501.4 473.9,1500.6 474.9,1499.8 475.9,1499 476.9,1498.2 477.9,1497.3 478.9,1496.4 479.9,1495.5 480.9,1494.5 481.9,1493.5 482.9,1492.5 483.9,1491.5 484.9,1490.4 485.9,1489.3 486.9,1488.1 487.9,1486.9 488.9,1485.7 489.9,1484.4 490.9,1483 491.9,1481.6 492.9,1480.1 493.9,1478.5 494.9,1476.8 495.9,1475.1 496.9,1473.3 497.9,1471.3 498.9,1469.2 499.9,1467 500.9,1464.5 501.9,1461.8 502.9,1458.9 503.9,1455.7 504.9,1452.4 505.9,1448.8 506.9,1445 507.9,1441 508.9,1436.7 509.9,1431.6 510.9,1425.8 511.9,1419.4 512.9,1412.7 513.9,1405.6 514.9,1398.3 515.9,1390.3 516.9,1381.5 517.9,1372.3 518.9,1363.4 519.9,1355.1 520.9,1347.2 521.9,1339.6 522.9,1331.8 523.9,1323.6 524.9,1314.8 525.9,1305.8 526.9,1296.2 527.9,1285.4 528.9,1273 529.9,1258.2 530.9,1241.6 531.9,1223.9 532.9,1205.9 533.9,1188 534.9,1171.1 535.9,1155.4 536.9,1140.1 537.9,1124.9 538.9,1109.8 539.9,1094.5 540.9,1079 541.9,1063.9 542.9,1049.5 543.9,1035.3 544.9,1021.6 545.9,1009.1 546.9,998.2 547.9,988.2 548.9,978.8 549.9,970 550.9,962 551.9,954.7 552.9,947.9 553.9,940.8 554.9,933.6 555.9,927 556.9,921.4 557.9,917.2 558.9,915 559.9,915.4 560.9,918.4 561.9,923.6 562.9,930.3 563.9,937.9 564.9,945.7 565.9,953.3 566.9,961.5 567.9,970.8 568.9,981 569.9,991.8 570.9,1003.3 571.9,1016.2 572.9,1030.6 573.9,1045.3 574.9,1059.1 575.9,1072.2 576.9,1085.2 577.9,1098.1 578.9,1111.1 579.9,1124.7 580.9,1138.2 581.9,1150.9 582.9,1162.1 583.9,1171.9 584.9,1181.8 585.9,1191.9 586.9,1202.3 587.9,1212.9 588.9,1223.4 589.9,1233.9 590.9,1244.2 591.9,1254.3 592.9,1264.1 593.9,1273.6 594.9,1282.5 595.9,1290.8 596.9,1298.8 597.9,1306.7 598.9,1314.3 599.9,1321.7 600.9,1328.8 601.9,1335.6 602.9,1342.2 603.9,1348.4 604.9,1354.2 605.9,1359.6 606.9,1364.7 607.9,1369.6 608.9,1374.3 609.9,1378.8 610.9,1383.1 611.9,1387.2 612.9,1391.2 613.9,1395 614.9,1398.8 615.9,1402.4 616.9,1405.9 617.9,1409.3 618.9,1412.7 619.9,1416 620.9,1419.2 621.9,1422.4 622.9,1425.5 623.9,1428.5 624.9,1431.4 625.9,1434.2 626.9,1436.9 627.9,1439.6 628.9,1442.1 629.9,1444.5 630.9,1446.8 631.9,1449 632.9,1451.1 633.9,1453.2 634.9,1455.3 635.9,1457.4 636.9,1459.4 637.9,1461.5 638.9,1463.4 639.9,1465.4 640.9,1467.3 641.9,1469.1 642.9,1470.9 643.9,1472.7 644.9,1474.4 645.9,1476.1 646.9,1477.7 647.9,1479.3 648.9,1480.8 649.9,1482.3 650.9,1483.7 651.9,1485.1 652.9,1486.3 653.9,1487.6 654.9,1488.7 655.9,1489.8 656.9,1490.8 657.9,1491.8 658.9,1492.7 659.9,1493.7 660.9,1494.6 661.9,1495.5 662.9,1496.4 663.9,1497.3 664.9,1498.1 665.9,1498.9 666.9,1499.7 667.9,1500.5 668.9,1501.2 669.9,1502 670.9,1502.7 671.9,1503.3 672.9,1504 673.9,1504.6 674.9,1505.1 675.9,1505.7 676.9,1506.2 677.9,1506.7 678.9,1507.1 679.9,1507.5 680.9,1507.9 681.9,1508.2 682.9,1508.5 683.9,1508.8 684.9,1509.1 685.9,1509.3 686.9,1509.6 687.9,1509.8 688.9,1510 689.9,1510.2 690.9,1510.4 691.9,1510.6 692.9,1510.8 693.9,1511 694.9,1511.2 695.9,1511.4 696.9,1511.5 697.9,1511.7 698.9,1511.9 699.9,1512 700.9,1512.2 701.9,1512.3 702.9,1512.5 703.9,1512.6 704.9,1512.8 705.9,1512.9 706.9,1513.1 707.9,1513.2 708.9,1513.4 709.9,1513.5 710.9,1513.7 711.9,1513.8 712.9,1514 713.9,1514.1 714.9,1514.3 715.9,1514.4 716.9,1514.5 717.9,1514.7 718.9,1514.8 719.9,1514.9 720.9,1515.1 721.9,1515.2 722.9,1515.3 723.9,1515.4 724.9,1515.5 725.9,1515.6 726.9,1515.8 727.9,1515.9" fill="none" stroke="#9b00d3" stroke-width="4.8" stroke-linejoin="round"/>
<path d="M110.6,1520.9 110.8,1525.6 110.9,1524.3 111.1,1523.1 111.2,1518.4 111.4,1515 111.5,1519.2 111.7,1524.7 111.8,1520.1 112,1519 112.1,1525.9 112.3,1522.6 112.4,1525.3 112.6,1525.1 112.7,1522.8 112.9,1522.6 113,1525.5 113.2,1523 113.3,1527 113.5,1523.6 113.6,1522.6 113.8,1524.6 113.9,1528 114.1,1525.6 114.2,1521.8 114.4,1520 114.5,1520 114.7,1519.8 114.8,1517.5 115,1524.5 115.1,1519.4 115.3,1525.7 115.4,1517.5 115.6,1520 115.7,1526.3 115.9,1520.9 116,1519.9 116.2,1525.7 116.3,1522 116.5,1520.3 116.6,1517.2 116.8,1524.9 116.9,1518.1 117.1,1526.3 117.2,1525.7 117.4,1518.8 117.5,1520.7 117.7,1525.5 117.8,1518.2 118,1521.4 118.1,1522.4 118.3,1524 118.4,1531.3 118.6,1523 118.7,1520 118.9,1523.2 119,1520.7 119.2,1523.4 119.3,1518.6 119.5,1531.5 119.6,1521.5 119.8,1526 119.9,1522.4 120.1,1521 120.2,1519.4 120.4,1520.5 120.5,1519.2 120.7,1526.3 120.8,1522.6 121,1530 121.1,1522 121.3,1528.4 121.4,1519.7 121.6,1522.4 121.7,1524 121.9,1525.2 122,1522.5 122.2,1525 122.3,1527.7 122.5,1521.8 122.6,1525.9 122.8,1521.6 122.9,1526.2 123.1,1527 123.2,1516 123.4,1521.2 123.5,1519.2 123.7,1524 123.8,1523.2 124,1523.2 124.1,1516.8 124.3,1521 124.4,1522.8 124.6,1523.2 124.7,1522.9 124.9,1519.7 125,1522.9 125.2,1522.9 125.3,1518.7 125.5,1519.9 125.6,1520.5 125.8,1516.7 125.9,1523.3 126.1,1526.6 126.2,1528.2 126.4,1523.2 126.5,1522.2 126.7,1519.9 126.8,1527.5 127,1527.3 127.1,1523.7 127.3,1523.9 127.4,1527.5 127.6,1523.6 127.7,1520.8 127.9,1523.8 128,1515.6 128.2,1520.7 128.3,1525.6 128.5,1523.8 128.6,1527.6 128.8,1516.2 128.9,1524 129.1,1524.1 129.2,1520.8 129.4,1524.1 129.5,1525.2 129.7,1523.3 129.8,1519.9 130,1519.8 130.1,1527.5 130.3,1528.3 130.4,1521.7 130.6,1524.1 130.7,1524.6 130.9,1519.7 131,1521.7 131.2,1524.7 131.3,1521.1 131.5,1525.5 131.6,1524.7 131.8,1517.1 131.9,1523.8 132.1,1521.3 132.2,1523.9 132.4,1524 132.5,1526.6 132.7,1526.7 132.8,1519 133,1515.9 133.1,1520.8 133.3,1521.1 133.4,1524.7 133.6,1523.1 133.7,1518.1 133.9,1514.6 134,1520.6 134.2,1521.6 134.3,1519.3 134.5,1522.4 134.6,1525.2 134.8,1525.6 134.9,1523.7 135.1,1524.1 135.2,1530.4 135.4,1528.6 135.5,1520.2 135.7,1519.7 135.8,1520.1 136,1523.5 136.1,1524.9 136.3,1522.9 136.4,1521.7 136.6,1524.3 136.7,1519.2 136.9,1524.9 137,1530.3 137.2,1520.5 137.3,1519.8 137.5,1523.3 137.6,1519.4 137.8,1518.9 137.9,1530.9 138.1,1521.3 138.2,1526.5 138.4,1520.4 138.5,1521.8 138.7,1519.9 138.8,1523.5 139,1524.5 139.1,1521.7 139.3,1514.8 139.4,1521.2 139.6,1525.9 139.7,1522.7 139.9,1523.4 140,1518.4 140.2,1522.1 140.3,1523.5 140.5,1521.9 140.6,1524.8 140.8,1521 140.9,1526 141.1,1523.9 141.2,1521.8 141.4,1526.9 141.5,1526.7 141.7,1524.9 141.8,1517.7 142,1519.7 142.1,1522.2 142.3,1519.2 142.4,1519.6 142.6,1524.3 142.7,1525.9 142.9,1518.5 143,1524.4 143.2,1520.2 143.3,1527.3 143.5,1522.6 143.6,1526.3 143.8,1520.1 143.9,1519.8 144.1,1521 144.2,1519.7 144.4,1524 144.5,1520.9 144.7,1520.3 144.8,1525 145,1520.2 145.1,1521.3 145.3,1520.7 145.4,1523 145.6,1522.4 145.7,1520.6 145.9,1521.8 146,1520.3 146.2,1526.5 146.3,1519.1 146.5,1524.7 146.6,1518.8 146.8,1526.7 146.9,1524.1 147.1,1521.3 147.2,1520.8 147.4,1523.6 147.5,1525 147.7,1520.1 147.8,1518.8 148,1524.9 148.1,1525.9 148.3,1524 148.4,1522.5 148.6,1527.7 148.7,1525.3 148.9,1519.9 149,1524.6 149.2,1524.6 149.3,1517.2 149.5,1518.5 149.6,1516.7 149.8,1522 149.9,1522.4 150.1,1523.3 150.2,1526.6 150.4,1528.7 150.5,1522.2 150.7,1524.4 150.8,1519.9 151,1518.8 151.1,1526.8 151.3,1526.3 151.4,1521.1 151.6,1517.3 151.7,1516.8 151.9,1524 152,1521.6 152.2,1517.1 152.3,1524.1 152.5,1524.9 152.6,1517.4 152.8,1524 152.9,1525.5 153.1,1516.6 153.2,1523 153.4,1522.9 153.5,1519.7 153.7,1516.8 153.8,1519 154,1520.7 154.1,1520.1 154.3,1520.1 154.4,1520.5 154.6,1527 154.7,1520.5 154.9,1525.8 155,1523.8 155.2,1521 155.3,1521.8 155.5,1520.2 155.6,1521.5 155.8,1519.8 155.9,1515.5 156.1,1524.9 156.2,1517.8 156.4,1515.4 156.5,1522.7 156.7,1522.5 156.8,1521.6 157,1519.8 157.1,1523.5 157.3,1522.4 157.4,1521.4 157.6,1521 157.7,1516.7 157.9,1522.8 158,1518.5 158.2,1518.6 158.3,1520.6 158.5,1520.7 158.6,1523.7 158.8,1523.4 158.9,1519.9 159.1,1520.3 159.2,1521.9 159.4,1517.3 159.5,1520.6 159.7,1520.8 159.8,1521.5 160,1517.6 160.1,1519.2 160.3,1520 160.4,1525 160.6,1515.5 160.7,1525.4 160.9,1519.7 161,1524.7 161.2,1525.9 161.3,1529.5 161.5,1520.6 161.6,1520.1 161.8,1522.3 161.9,1522.6 162.1,1525.5 162.2,1521.3 162.4,1522.1 162.5,1526 162.7,1522.7 162.8,1522.2 163,1524.8 163.1,1517.6 163.3,1525.4 163.4,1514.9 163.6,1517.5 163.7,1522.6 163.9,1515.9 164,1517.5 164.2,1517.1 164.3,1520.5 164.5,1524.2 164.6,1527.8 164.8,1520.1 164.9,1521.4 165.1,1522.9 165.2,1514.3 165.4,1519.3 165.5,1525.7 165.7,1521.3 165.8,1519.2 166,1524.9 166.1,1520.2 166.3,1521.9 166.4,1525.6 166.6,1519.5 166.7,1518.6 166.9,1529.1 167,1519.3 167.2,1522.6 167.3,1521.8 167.5,1526.1 167.6,1523.9 167.8,1515 167.9,1518.4 168.1,1521.2 168.2,1520.4 168.4,1523.3 168.5,1521 168.7,1523.3 168.8,1519.8 169,1524.2 169.1,1519.9 169.3,1518 169.4,1521.6 169.6,1519.9 169.7,1519.6 169.9,1522.2 170,1525 170.2,1517 170.3,1520.1 170.5,1521.4 170.6,1516.4 170.8,1523 170.9,1522 171.1,1522.6 171.2,1523.6 171.4,1520.8 171.5,1522.3 171.7,1515.8 171.8,1522.4 172,1516.3 172.1,1523.1 172.3,1521.3 172.4,1520.1 172.6,1523 172.7,1518 172.9,1522 173,1522.2 173.2,1517.9 173.3,1522.5 173.5,1518.1 173.6,1516.6 173.8,1517.5 173.9,1515.5 174.1,1521.3 174.2,1516 174.4,1521.7 174.5,1525.2 174.7,1520.5 174.8,1513.7 175,1523.1 175.1,1514.2 175.3,1524.5 175.4,1517 175.6,1518.3 175.7,1521.3 175.9,1527.1 176,1517.7 176.2,1517.7 176.3,1518.2 176.5,1516.6 176.6,1522.4 176.8,1513.3 176.9,1516.8 177.1,1522.2 177.2,1512.7 177.4,1519.6 177.5,1518.2 177.7,1516.9 177.8,1522.4 178,1522.5 178.1,1520.1 178.3,1523.2 178.4,1520.2 178.6,1515.1 178.7,1523.2 178.9,1519.2 179,1521.3 179.2,1516.8 179.3,1523.2 179.5,1523 179.6,1520 179.8,1513 179.9,1522.6 180.1,1525 180.2,1522.7 180.4,1517.2 180.5,1516.5 180.7,1519.6 180.8,1518.6 181,1524 181.1,1518.1 181.3,1519.9 181.4,1521.4 181.6,1516.1 181.7,1516 181.9,1520.9 182,1518.6 182.2,1525.6 182.3,1522.7 182.5,1515.1 182.6,1523 182.8,1522.3 182.9,1515.6 183.1,1526.7 183.2,1521.5 183.4,1516.8 183.5,1520.7 183.7,1522 183.8,1522.6 184,1518.5 184.1,1522.2 184.3,1518.1 184.4,1519.6 184.6,1519.1 184.7,1515.4 184.9,1520.6 185,1522.1 185.2,1519 185.3,1518.1 185.5,1519.5 185.6,1524.4 185.8,1516.7 185.9,1524.5 186.1,1525.3 186.2,1515.7 186.4,1513.9 186.5,1519.7 186.7,1521.4 186.8,1514.2 187,1523 187.1,1518.7 187.3,1520.5 187.4,1516.6 187.6,1517.5 187.7,1521.1 187.9,1514.9 188,1516.1 188.2,1518.4 188.3,1519.4 188.5,1518.6 188.6,1522.5 188.8,1519.1 188.9,1519.1 189.1,1516.5 189.2,1518.9 189.4,1519.6 189.5,1517.4 189.7,1515 189.8,1516.3 190,1518.5 190.1,1519.5 190.3,1513.7 190.4,1518 190.6,1522 190.7,1517.3 190.9,1523.8 191,1519.7 191.2,1515.8 191.3,1518.5 191.5,1519 191.6,1515.5 191.8,1514 191.9,1521 192.1,1521.5 192.2,1520.1 192.4,1521.5 192.5,1516.2 192.7,1515.3 192.8,1518.1 193,1521.2 193.1,1522.9 193.3,1518.2 193.4,1520.2 193.6,1516.2 193.7,1521.8 193.9,1519.4 194,1518.9 194.2,1514.2 194.3,1515 194.5,1515.9 194.6,1516.8 194.8,1515.2 194.9,1523.3 195.1,1514.5 195.2,1518.2 195.4,1512.5 195.5,1514.3 195.7,1513.3 195.8,1519.5 196,1508.7 196.1,1515.3 196.3,1516.2 196.4,1519 196.6,1515.9 196.7,1524 196.9,1512.6 197,1515.3 197.2,1517.1 197.3,1512.4 197.5,1515.1 197.6,1515.3 197.8,1518.5 197.9,1515.7 198.1,1520.6 198.2,1520.4 198.4,1516.2 198.5,1518.7 198.7,1521 198.8,1517.2 199,1522.6 199.1,1511.3 199.3,1519.4 199.4,1519.4 199.6,1511.3 199.7,1521.3 199.9,1523.6 200,1516.3 200.2,1517.1 200.3,1512.8 200.5,1516.3 200.6,1521.4 200.8,1515.6 200.9,1516.8 201.1,1511.7 201.2,1514.8 201.4,1518.8 201.5,1517.9 201.7,1515.5 201.8,1516.9 202,1514.7 202.1,1514.5 202.3,1519.2 202.4,1514.4 202.6,1512.4 202.7,1519 202.9,1519.8 203,1512.3 203.2,1512.9 203.3,1511.5 203.5,1508.6 203.6,1514.9 203.8,1517.9 203.9,1513.5 204.1,1516.4 204.2,1512.8 204.4,1511.5 204.5,1513.5 204.7,1511.9 204.8,1513.6 205,1512.7 205.1,1517.4 205.3,1507.7 205.4,1515.6 205.6,1514.6 205.7,1515.5 205.9,1513.9 206,1514.4 206.2,1519.6 206.3,1507.4 206.5,1511.3 206.6,1513.5 206.8,1512.5 206.9,1508.8 207.1,1509.3 207.2,1511 207.4,1508.9 207.5,1520.7 207.7,1508.8 207.8,1512.5 208,1514.2 208.1,1515.1 208.3,1511.1 208.4,1517.3 208.6,1510.1 208.7,1513.8 208.9,1508.5 209,1517.1 209.2,1509.4 209.3,1512.3 209.5,1514.7 209.6,1506.2 209.8,1506.6 209.9,1513.6 210.1,1511.3 210.2,1505 210.4,1509.7 210.5,1512.1 210.7,1513.2 210.8,1512.5 211,1507.6 211.1,1506.3 211.3,1510.8 211.4,1513.1 211.6,1512.1 211.7,1515.6 211.9,1507.5 212,1509.1 212.2,1505.1 212.3,1500.9 212.5,1504 212.6,1510.2 212.8,1509.8 212.9,1513.2 213.1,1515.9 213.2,1501.6 213.4,1507.3 213.5,1513.7 213.7,1505.6 213.8,1515.5 214,1508.7 214.1,1507.4 214.3,1510 214.4,1509.5 214.6,1504.7 214.7,1509.3 214.9,1503.1 215,1513.7 215.2,1508.5 215.3,1500.7 215.5,1510.5 215.6,1510.4 215.8,1506.5 215.9,1508.1 216.1,1505.5 216.2,1502.5 216.4,1504 216.5,1505.2 216.7,1507.3 216.8,1504.9 217,1502.2 217.1,1508.7 217.3,1506.9 217.4,1509.4 217.6,1505.1 217.7,1504.3 217.9,1506.8 218,1508.7 218.2,1507.3 218.3,1501.9 218.5,1506.3 218.6,1501 218.8,1506.2 218.9,1506.6 219.1,1500.7 219.2,1506.5 219.4,1499.1 219.5,1511.5 219.7,1503.1 219.8,1505 220,1504.4 220.1,1501.7 220.3,1510.1 220.4,1494.4 220.6,1504 220.7,1492.8 220.9,1498.9 221,1501.1 221.2,1507.7 221.3,1495 221.5,1499 221.6,1496.8 221.8,1507.2 221.9,1507.9 222.1,1502.5 222.2,1498.8 222.4,1497.7 222.5,1495.9 222.7,1503.9 222.8,1505.6 223,1497.4 223.1,1504.1 223.3,1500.3 223.4,1491.9 223.6,1501.5 223.7,1498.2 223.9,1498.5 224,1499.4 224.2,1497.8 224.3,1497.2 224.5,1498.8 224.6,1493 224.8,1495.1 224.9,1502.7 225.1,1492.9 225.2,1498 225.4,1499.1 225.5,1501.4 225.7,1495.2 225.8,1498.3 226,1501.1 226.1,1501.2 226.3,1493.3 226.4,1499 226.6,1499.2 226.7,1487.6 226.9,1496.1 227,1494.8 227.2,1496.7 227.3,1497.3 227.5,1500.9 227.6,1494.2 227.8,1495.8 227.9,1500.1 228.1,1497.1 228.2,1489.7 228.4,1495.5 228.5,1496.3 228.7,1498.9 228.8,1498.6 229,1494.1 229.1,1492.8 229.3,1495.3 229.4,1492.4 229.6,1499.3 229.7,1497.5 229.9,1494.4 230,1491.2 230.2,1497.6 230.3,1491.8 230.5,1499.8 230.6,1491.1 230.8,1490.3 230.9,1496.6 231.1,1493.9 231.2,1492.2 231.4,1497.8 231.5,1496.6 231.7,1496.7 231.8,1492.7 232,1491.2 232.1,1498.4 232.3,1497.6 232.4,1492.1 232.6,1497.1 232.7,1495.3 232.9,1491.2 233,1494.1 233.2,1490.1 233.3,1493.8 233.5,1494.6 233.6,1497 233.8,1502.9 233.9,1495.5 234.1,1501.2 234.2,1490.6 234.4,1490.7 234.5,1491.9 234.7,1489.1 234.8,1485.1 235,1500.5 235.1,1494 235.3,1490.1 235.4,1494.3 235.6,1493.8 235.7,1488.8 235.9,1491.1 236,1498.7 236.2,1487.2 236.3,1496.3 236.5,1492 236.6,1490.6 236.8,1499.6 236.9,1485.9 237.1,1490 237.2,1491.1 237.4,1489.4 237.5,1493.5 237.7,1489.6 237.8,1489.8 238,1501.2 238.1,1497.2 238.3,1488.4 238.4,1496.4 238.6,1489.9 238.7,1492.8 238.9,1489.1 239,1499.2 239.2,1491.4 239.3,1491.8 239.5,1490.6 239.6,1490.8 239.8,1491.3 239.9,1490.1 240.1,1489.6 240.2,1493.8 240.4,1485.6 240.5,1491.3 240.7,1493.8 240.8,1488.5 241,1497.1 241.1,1486.8 241.3,1492.5 241.4,1490.8 241.6,1490.9 241.7,1489 241.9,1493.6 242,1492.8 242.2,1489.4 242.3,1493.3 242.5,1491 242.6,1491.3 242.8,1492.2 242.9,1493.5 243.1,1494 243.2,1492.3 243.4,1495.5 243.5,1495.1 243.7,1479.3 243.8,1490.1 244,1486.4 244.1,1488.9 244.3,1487 244.4,1489.3 244.6,1485.7 244.7,1488.8 244.9,1488.4 245,1494.5 245.2,1485.4 245.3,1490.2 245.5,1489.3 245.6,1487.5 245.8,1488 245.9,1489 246.1,1483.7 246.2,1492.3 246.4,1497 246.5,1489.9 246.7,1497.7 246.8,1489.2 247,1483.2 247.1,1482 247.3,1492.7 247.4,1486.5 247.6,1493 247.7,1486.6 247.9,1482.2 248,1490.3 248.2,1481.3 248.3,1486.4 248.5,1476.6 248.6,1489.8 248.8,1490.9 248.9,1481.7 249.1,1483.3 249.2,1484.5 249.4,1490 249.5,1486.1 249.7,1488.8 249.8,1480.1 250,1483.8 250.1,1489.1 250.3,1489.7 250.4,1492.3 250.6,1488.6 250.7,1486.1 250.9,1484.2 251,1481.4 251.2,1487.8 251.3,1480.5 251.5,1494.1 251.6,1486 251.8,1482.8 251.9,1487.6 252.1,1484.4 252.2,1481.9 252.4,1487.6 252.5,1484.3 252.7,1480.5 252.8,1490.1 253,1480.3 253.1,1485.5 253.3,1491.1 253.4,1483.3 253.6,1482 253.7,1485.5 253.9,1483.3 254,1482.6 254.2,1484.4 254.3,1484 254.5,1481 254.6,1481.3 254.8,1484.5 254.9,1492.2 255.1,1489.9 255.2,1486 255.4,1479.6 255.5,1482.3 255.7,1476.9 255.8,1482.4 256,1482.6 256.1,1485.7 256.3,1479.2 256.4,1490 256.6,1482.9 256.7,1484.9 256.9,1486.6 257,1480.3 257.2,1481.5 257.3,1482.7 257.5,1485.7 257.6,1490.5 257.8,1490 257.9,1495.1 258.1,1490.1 258.2,1483.1 258.4,1478.6 258.5,1489.2 258.7,1479.3 258.8,1476.5 259,1479.8 259.1,1477.3 259.3,1484.6 259.4,1486.6 259.6,1483.4 259.7,1480.4 259.9,1482.6 260,1483.7 260.2,1481.2 260.3,1488.3 260.5,1481.2 260.6,1493 260.8,1478.5 260.9,1478.7 261.1,1474.7 261.2,1488.5 261.4,1487.1 261.5,1489.1 261.7,1490.9 261.8,1494.6 262,1481.5 262.1,1485.8 262.3,1485.5 262.4,1492.5 262.6,1484.3 262.7,1476.4 262.9,1484.3 263,1481.5 263.2,1490 263.3,1480.5 263.5,1485.3 263.6,1484.7 263.8,1483.7 263.9,1486.3 264.1,1482.4 264.2,1485.8 264.4,1487.2 264.5,1489.9 264.7,1490.3 264.8,1481.8 265,1480.9 265.1,1485.9 265.3,1486.3 265.4,1488 265.6,1484.8 265.7,1479.7 265.9,1484.6 266,1488 266.2,1481.3 266.3,1482.6 266.5,1493.4 266.6,1487.8 266.8,1480.6 266.9,1484.2 267.1,1486.2 267.2,1484.2 267.4,1491 267.5,1491 267.7,1486.6 267.8,1485.6 268,1479.3 268.1,1486.7 268.3,1484.9 268.4,1479.7 268.6,1488.8 268.7,1487.5 268.9,1486.2 269,1485.3 269.2,1485.8 269.3,1483.6 269.5,1491.6 269.6,1492.2 269.8,1487 269.9,1493.6 270.1,1480.1 270.2,1490.2 270.4,1489.3 270.5,1484.5 270.7,1485.7 270.8,1484.7 271,1487.2 271.1,1492.7 271.3,1487.9 271.4,1490.1 271.6,1494.4 271.7,1488.7 271.9,1483.5 272,1491.4 272.2,1490.7 272.3,1490.8 272.5,1484.6 272.6,1496.3 272.8,1485.9 272.9,1487.5 273.1,1488.4 273.2,1491.9 273.4,1489.2 273.5,1480.1 273.7,1487.3 273.8,1489.9 274,1484.9 274.1,1493.6 274.3,1483.8 274.4,1488.9 274.6,1478.2 274.7,1479.3 274.9,1486.2 275,1486.9 275.2,1490.4 275.3,1486.4 275.5,1485.8 275.6,1494.6 275.8,1495.3 275.9,1486.8 276.1,1491.5 276.2,1488.5 276.4,1488.8 276.5,1488.7 276.7,1490.4 276.8,1486.9 277,1483.6 277.1,1482.9 277.3,1491.2 277.4,1489.3 277.6,1489.5 277.7,1496.1 277.9,1496.4 278,1490.6 278.2,1488.2 278.3,1487 278.5,1493 278.6,1487.7 278.8,1490.9 278.9,1492.3 279.1,1486.5 279.2,1497.6 279.4,1500.2 279.5,1482.9 279.7,1491 279.8,1487.7 280,1491.4 280.1,1493.9 280.3,1495.9 280.4,1498.6 280.6,1490.5 280.7,1495.6 280.9,1491.9 281,1490.4 281.2,1491.9 281.3,1491.3 281.5,1485.7 281.6,1490.6 281.8,1490.9 281.9,1492.6 282.1,1486.2 282.2,1486.9 282.4,1494.5 282.5,1490.6 282.7,1492.8 282.8,1494.1 283,1496.1 283.1,1485.2 283.3,1490.3 283.4,1501.2 283.6,1488.4 283.7,1485.6 283.9,1492.3 284,1493.1 284.2,1492.3 284.3,1489.3 284.5,1495.3 284.6,1491.6 284.8,1499.3 284.9,1488.6 285.1,1497.9 285.2,1495 285.4,1491.9 285.5,1489.6 285.7,1496.6 285.8,1496.5 286,1487.8 286.1,1496.5 286.3,1497.3 286.4,1496.2 286.6,1491.5 286.7,1491.5 286.9,1490.3 287,1492.7 287.2,1496.1 287.3,1492.8 287.5,1491.6 287.6,1499.3 287.8,1497.2 287.9,1495 288.1,1488.4 288.2,1496.3 288.4,1494.8 288.5,1495 288.7,1493.8 288.8,1492.8 289,1499.4 289.1,1505.9 289.3,1492.5 289.4,1503.9 289.6,1494.5 289.7,1494.2 289.9,1493.1 290,1500.1 290.2,1494.7 290.3,1493.5 290.5,1493.5 290.6,1491.4 290.8,1500.3 290.9,1498.5 291.1,1497.6 291.2,1496.8 291.4,1492.7 291.5,1493.5 291.7,1496.4 291.8,1490.1 292,1494.6 292.1,1501.6 292.3,1492.1 292.4,1502.3 292.6,1502.3 292.7,1499.1 292.9,1499.4 293,1498.1 293.2,1497.7 293.3,1500.9 293.5,1500.8 293.6,1495.4 293.8,1497 293.9,1499.1 294.1,1501.5 294.2,1498.3 294.4,1502.3 294.5,1503.6 294.7,1494.8 294.8,1496.1 295,1500.2 295.1,1492.7 295.3,1499.4 295.4,1496.6 295.6,1497.3 295.7,1498.8 295.9,1498.8 296,1493.5 296.2,1496 296.3,1506.7 296.5,1497.4 296.6,1508.2 296.8,1503.8 296.9,1498.2 297.1,1504.2 297.2,1495.4 297.4,1501.6 297.5,1498 297.7,1499.2 297.8,1497.4 298,1495.5 298.1,1506.2 298.3,1500.9 298.4,1500.1 298.6,1497 298.7,1498.9 298.9,1502.2 299,1506.4 299.2,1507.4 299.3,1504.9 299.5,1500.9 299.6,1501 299.8,1496.3 299.9,1500.7 300.1,1499 300.2,1507.3 300.4,1501.2 300.5,1504.1 300.7,1504.6 300.8,1497.8 301,1502.6 301.1,1503 301.3,1502.8 301.4,1508 301.6,1509.1 301.7,1496.1 301.9,1503 302,1503.4 302.2,1502.7 302.3,1505.3 302.5,1504.8 302.6,1507.1 302.8,1502.7 302.9,1504.7 303.1,1500.4 303.2,1498.6 303.4,1508.4 303.5,1502.1 303.7,1506.3 303.8,1496.9 304,1504.2 304.1,1501.5 304.3,1507 304.4,1500.8 304.6,1508.2 304.7,1510.2 304.9,1514.7 305,1506.1 305.2,1507.6 305.3,1505.6 305.5,1509.7 305.6,1506.6 305.8,1506.8 305.9,1510.7 306.1,1500 306.2,1499 306.4,1506.1 306.5,1505.3 306.7,1505 306.8,1504.9 307,1510.5 307.1,1506.7 307.3,1501.5 307.4,1508.6 307.6,1509.1 307.7,1511.5 307.9,1509.9 308,1516.3 308.2,1508.8 308.3,1505 308.5,1507.7 308.6,1508.4 308.8,1508.9 308.9,1509.1 309.1,1513.1 309.2,1516.2 309.4,1503.1 309.5,1508 309.7,1517.6 309.8,1504.3 310,1511.6 310.1,1506.9 310.3,1510.8 310.4,1512.8 310.6,1507.7 310.7,1512 310.9,1519.5 311,1509 311.2,1511.4 311.3,1511.5 311.5,1512.5 311.6,1510 311.8,1506.3 311.9,1508.2 312.1,1510.7 312.2,1511.5 312.4,1514.5 312.5,1505.9 312.7,1518.9 312.8,1515.7 313,1512.9 313.1,1512 313.3,1511.6 313.4,1514.1 313.6,1506.2 313.7,1508.5 313.9,1519.4 314,1516.3 314.2,1517.8 314.3,1508.3 314.5,1514.7 314.6,1518.7 314.8,1514.4 314.9,1517.9 315.1,1513.4 315.2,1511.2 315.4,1517.6 315.5,1512.9 315.7,1512.7 315.8,1516.3 316,1512.3 316.1,1516.3 316.3,1511.8 316.4,1514.6 316.6,1515.7 316.7,1509.5 316.9,1511 317,1515.5 317.2,1523.7 317.3,1513.7 317.5,1516.4 317.6,1513.4 317.8,1514.8 317.9,1515.9 318.1,1516.2 318.2,1510.3 318.4,1510.1 318.5,1510.8 318.7,1519.2 318.8,1516.7 319,1514.9 319.1,1522.1 319.3,1512.1 319.4,1519.5 319.6,1512.5 319.7,1517.8 319.9,1514.6 320,1521.9 320.2,1524.7 320.3,1518.8 320.5,1521 320.6,1521 320.8,1518.2 320.9,1515.7 321.1,1514 321.2,1520 321.4,1522 321.5,1517.4 321.7,1520.8 321.8,1521.4 322,1518.9 322.1,1513.7 322.3,1516.6 322.4,1524.6 322.6,1511.1 322.7,1522.2 322.9,1517.3 323,1520.5 323.2,1514.7 323.3,1516.6 323.5,1514 323.6,1517.3 323.8,1518.6 323.9,1514.1 324.1,1524.6 324.2,1522.6 324.4,1523.2 324.5,1519 324.7,1520.1 324.8,1521.4 325,1516.2 325.1,1516.9 325.3,1520.3 325.4,1523.5 325.6,1511.7 325.7,1517.8 325.9,1520.8 326,1518.4 326.2,1517.8 326.3,1521.2 326.5,1516.6 326.6,1518.7 326.8,1520.7 326.9,1515.4 327.1,1520.6 327.2,1515 327.4,1518.8 327.5,1520.1 327.7,1515.5 327.8,1520.6 328,1517.6 328.1,1515.1 328.3,1520.8 328.4,1521.6 328.6,1517.1 328.7,1516.4 328.9,1526.9 329,1518.1 329.2,1516.1 329.3,1521.7 329.5,1516.6 329.6,1521 329.8,1522.1 329.9,1521.1 330.1,1517.7 330.2,1521.4 330.4,1522 330.5,1520.1 330.7,1517.7 330.8,1527 331,1516.8 331.1,1515.9 331.3,1523.9 331.4,1520.8 331.6,1519.2 331.7,1520.3 331.9,1514.6 332,1520.3 332.2,1522.6 332.3,1522.2 332.5,1519.8 332.6,1523.4 332.8,1523 332.9,1522.8 333.1,1515.6 333.2,1519.1 333.4,1525 333.5,1519.6 333.7,1529.6 333.8,1521.3 334,1519.3 334.1,1520.2 334.3,1519.6 334.4,1520.7 334.6,1523.6 334.7,1522.1 334.9,1522.2 335,1526.2 335.2,1521.3 335.3,1524.7 335.5,1519.5 335.6,1514.3 335.8,1514.7 335.9,1513.7 336.1,1522.9 336.2,1523.1 336.4,1519.6 336.5,1524.6 336.7,1519.7 336.8,1523.6 337,1520.8 337.1,1523.1 337.3,1516.8 337.4,1518.2 337.6,1519.3 337.7,1525.9 337.9,1518 338,1523.3 338.2,1526.3 338.3,1521 338.5,1518.7 338.6,1526.9 338.8,1519.6 338.9,1522.8 339.1,1522.8 339.2,1520.6 339.4,1523.3 339.5,1524.4 339.7,1518.7 339.8,1530.2 340,1519 340.1,1526.4 340.3,1518.4 340.4,1526.1 340.6,1517.9 340.7,1527.9 340.9,1516.6 341,1521.9 341.2,1523.1 341.3,1523.4 341.5,1519.1 341.6,1523 341.8,1520.5 341.9,1522 342.1,1526 342.2,1517 342.4,1523 342.5,1521.6 342.7,1521.7 342.8,1522.5 343,1517.1 343.1,1521.3 343.3,1523.5 343.4,1522.4 343.6,1523.6 343.7,1526.2 343.9,1519 344,1525.8 344.2,1518.7 344.3,1522.4 344.5,1520 344.6,1522.8 344.8,1523.7 344.9,1515.3 345.1,1524 345.2,1525.8 345.4,1521.4 345.5,1518.2 345.7,1526.9 345.8,1524.5 346,1520 346.1,1519.8 346.3,1521 346.4,1524.2 346.6,1522.1 346.7,1525.1 346.9,1521.4 347,1522.8 347.2,1521.9 347.3,1523.6 347.5,1520.6 347.6,1522.7 347.8,1525.3 347.9,1518.4 348.1,1522.2 348.2,1523.8 348.4,1523.5 348.5,1518.2 348.7,1522.7 348.8,1522.1 349,1525.7 349.1,1524.2 349.3,1525 349.4,1525.8 349.6,1526.5 349.7,1524.3 349.9,1527.4 350,1521.2 350.2,1520.8 350.3,1526.2 350.5,1522 350.6,1525.7 350.8,1522.4 350.9,1522.1 351.1,1528.9 351.2,1531.4 351.4,1522 351.5,1522 351.7,1523.7 351.8,1525.4 352,1526 352.1,1532 352.3,1519.3 352.4,1531 352.6,1523.1 352.7,1524.6 352.9,1522.9 353,1527.9 353.2,1526.6 353.3,1522.6 353.5,1527.6 353.6,1523.8 353.8,1528.2 353.9,1523.5 354.1,1522.6 354.2,1524 354.4,1522.4 354.5,1527.8 354.7,1525.8 354.8,1525.3 355,1519.7 355.1,1526 355.3,1524.2 355.4,1520.4 355.6,1523.7 355.7,1521.4 355.9,1527.7 356,1521.2 356.2,1524.4 356.3,1522.8 356.5,1522.2 356.6,1530.5 356.8,1520.8 356.9,1525.8 357.1,1520.8 357.2,1525.3 357.4,1523.8 357.5,1529.5 357.7,1528.2 357.8,1521.2 358,1527.2 358.1,1523.8 358.3,1524.8 358.4,1528.2 358.6,1525.3 358.7,1525.1 358.9,1522.7 359,1525.9 359.2,1526.6 359.3,1520.2 359.5,1520 359.6,1524.4 359.8,1527.8 359.9,1523.3 360.1,1526.2 360.2,1520.1 360.4,1524.7 360.5,1526.7 360.7,1525.6 360.8,1527.6 361,1524.8 361.1,1528.7 361.3,1524 361.4,1522 361.6,1523.1 361.7,1527.6 361.9,1523.5 362,1526 362.2,1529.3 362.3,1525.1 362.5,1522 362.6,1524.1 362.8,1525.9 362.9,1526.9 363.1,1525 363.2,1523.4 363.4,1524.3 363.5,1521.2 363.7,1522.3 363.8,1521.7 364,1525.8 364.1,1523.4 364.3,1524.7 364.4,1523.6 364.6,1523.9 364.7,1517.1 364.9,1528.4 365,1523.6 365.2,1526.3 365.3,1523.5 365.5,1524 365.6,1519.9 365.8,1525.2 365.9,1526.9 366.1,1523.7 366.2,1523.9 366.4,1531.5 366.5,1518.8 366.7,1527.6 366.8,1519.9 367,1520.9 367.1,1520.4 367.3,1524.1 367.4,1527.3 367.6,1527.1 367.7,1520.8 367.9,1526.2 368,1523.4 368.2,1525.9 368.3,1526.5 368.5,1521.7 368.6,1527.6 368.8,1525.4 368.9,1525.6 369.1,1524.3 369.2,1525.1 369.4,1528 369.5,1526 369.7,1525.8 369.8,1518.6 370,1522.3 370.1,1525.1 370.3,1524.2 370.4,1525.6 370.6,1519.5 370.7,1525.3 370.9,1527.8 371,1516.4 371.2,1527.3 371.3,1526.6 371.5,1527.9 371.6,1523.5 371.8,1527 371.9,1527.3 372.1,1521.7 372.2,1520.3 372.4,1523.8 372.5,1528.2 372.7,1523.3 372.8,1526.8 373,1523.9 373.1,1523.9 373.3,1528.6 373.4,1522.1 373.6,1524.9 373.7,1525 373.9,1528.3 374,1521.9 374.2,1527.1 374.3,1524.6 374.5,1528.1 374.6,1528.8 374.8,1528.9 374.9,1530.1 375.1,1526.2 375.2,1520.8 375.4,1521.6 375.5,1527.7 375.7,1527.5 375.8,1520.1 376,1522.5 376.1,1525 376.3,1526.2 376.4,1526.3 376.6,1532.5 376.7,1527.1 376.9,1518.5 377,1520 377.2,1526 377.3,1522.6 377.5,1523.2 377.6,1526.9 377.8,1527.9 377.9,1527 378.1,1524.6 378.2,1521 378.4,1524.4 378.5,1525.1 378.7,1526 378.8,1521.2 379,1519.9 379.1,1524.4 379.3,1525.9 379.4,1524.2 379.6,1523.3 379.7,1521.4 379.9,1522.1 380,1527.6 380.2,1525.5 380.3,1526.5 380.5,1523.1 380.6,1528.7 380.8,1530.9 380.9,1525 381.1,1526.7 381.2,1526.6 381.4,1525.6 381.5,1528.1 381.7,1525 381.8,1528.8 382,1529 382.1,1523.6 382.3,1526.3 382.4,1521.7 382.6,1524.4 382.7,1527.5 382.9,1527 383,1528.5 383.2,1525.3 383.3,1523.6 383.5,1525.3 383.6,1524.7 383.8,1528.3 383.9,1521.4 384.1,1523.5 384.2,1522.2 384.4,1528.9 384.5,1526 384.7,1527.7 384.8,1520.5 385,1526 385.1,1518.3 385.3,1524 385.4,1527.2 385.6,1521.5 385.7,1519.9 385.9,1525.9 386,1527.2 386.2,1525.6 386.3,1529.1 386.5,1528.7 386.6,1532.2 386.8,1527.2 386.9,1529.5 387.1,1524.9 387.2,1524.5 387.4,1522.2 387.5,1524.6 387.7,1526.2 387.8,1521.5 388,1527.6 388.1,1532.1 388.3,1529.7 388.4,1526.8 388.6,1523.8 388.7,1522.3 388.9,1528.6 389,1522.1 389.2,1524.3 389.3,1523.5 389.5,1528.6 389.6,1526.2 389.8,1532.2 389.9,1525.2 390.1,1526.7 390.2,1523.3 390.4,1522 390.5,1528.3 390.7,1522.7 390.8,1522.1 391,1526.4 391.1,1519.6 391.3,1527.9 391.4,1529.9 391.6,1525.4 391.7,1520.1 391.9,1523.8 392,1530.9 392.2,1527.1 392.3,1521.6 392.5,1527.7 392.6,1525.9 392.8,1528.7 392.9,1519.3 393.1,1520.1 393.2,1529.5 393.4,1531.1 393.5,1523.7 393.7,1524.1 393.8,1525.4 394,1525 394.1,1526.3 394.3,1522.5 394.4,1522.7 394.6,1521.3 394.7,1522.6 394.9,1527.1 395,1526.7 395.2,1526.2 395.3,1525 395.5,1527.5 395.6,1528 395.8,1526.1 395.9,1526.8 396.1,1525.8 396.2,1520.4 396.4,1521.2 396.5,1526.9 396.7,1525.1 396.8,1526.3 397,1528.1 397.1,1523.8 397.3,1531.6 397.4,1524.9 397.6,1526.5 397.7,1529.5 397.9,1524.1 398,1522.6 398.2,1524.9 398.3,1524.4 398.5,1528.5 398.6,1524.3 398.8,1521.1 398.9,1529.3 399.1,1518.8 399.2,1531.3 399.4,1522.9 399.5,1527.6 399.7,1525.1 399.8,1525.8 400,1525.7 400.1,1522.6 400.3,1526.7 400.4,1525.1 400.6,1522.1 400.7,1526.1 400.9,1532.5 401,1527.4 401.2,1527.5 401.3,1528.5 401.5,1523.8 401.6,1525.5 401.8,1528.2 401.9,1527.5 402.1,1530.3 402.2,1527.4 402.4,1519.8 402.5,1531.1 402.7,1519.8 402.8,1525.9 403,1526.4 403.1,1527.5 403.3,1529.7 403.4,1523.8 403.6,1526.8 403.7,1527.9 403.9,1526 404,1520.9 404.2,1527.3 404.3,1526.3 404.5,1521.5 404.6,1529 404.8,1523.1 404.9,1518.1 405.1,1525.8 405.2,1531 405.4,1522.8 405.5,1526.8 405.7,1521.6 405.8,1524.1 406,1524.8 406.1,1528.5 406.3,1522 406.4,1524.2 406.6,1524.2 406.7,1524.2 406.9,1524.2 407,1524.9 407.2,1525.8 407.3,1530.7 407.5,1527.4 407.6,1526.7 407.8,1522.1 407.9,1522.2 408.1,1528.6 408.2,1527.1 408.4,1527.4 408.5,1524.5 408.7,1524.6 408.8,1523.6 409,1527.5 409.1,1526.5 409.3,1518.9 409.4,1529 409.6,1520.8 409.7,1522.9 409.9,1522.4 410,1524.9 410.2,1525.3 410.3,1522.8 410.5,1525.8 410.6,1525.4 410.8,1526.1 410.9,1524 411.1,1525.5 411.2,1526.2 411.4,1523.4 411.5,1524.6 411.7,1529.3 411.8,1525.4 412,1520.9 412.1,1523.9 412.3,1520.4 412.4,1530.5 412.6,1524 412.7,1531.4 412.9,1523.3 413,1527.3 413.2,1525.8 413.3,1523.9 413.5,1527.9 413.6,1527.5 413.8,1526.5 413.9,1523 414.1,1521 414.2,1527.7 414.4,1528.2 414.5,1525.1 414.7,1529.1 414.8,1529.6 415,1523.7 415.1,1527 415.3,1520.5 415.4,1528.2 415.6,1520.6 415.7,1521.5 415.9,1526.3 416,1524.6 416.2,1533.6 416.3,1524.5 416.5,1525.1 416.6,1527.8 416.8,1521 416.9,1532.7 417.1,1523.1 417.2,1525.1 417.4,1524.6 417.5,1530 417.7,1523.3 417.8,1526.9 418,1524.7 418.1,1522.4 418.3,1527.9 418.4,1533.5 418.6,1524.2 418.7,1524.5 418.9,1526 419,1527.2 419.2,1528 419.3,1524.8 419.5,1523.3 419.6,1526.5 419.8,1521 419.9,1525.7 420.1,1522.9 420.2,1525.5 420.4,1524.9 420.5,1521.8 420.7,1522.7 420.8,1521.1 421,1521.2 421.1,1524.6 421.3,1522.4 421.4,1523.1 421.6,1523.2 421.7,1522.1 421.9,1524.3 422,1524.1 422.2,1523 422.3,1527.5 422.5,1522 422.6,1521.5 422.8,1531 422.9,1522.2 423.1,1526.8 423.2,1527.1 423.4,1522.5 423.5,1527.4 423.7,1523.9 423.8,1526.7 424,1528.4 424.1,1519.1 424.3,1527.1 424.4,1528.4 424.6,1525.8 424.7,1519 424.9,1529.7 425,1521.1 425.2,1526.9 425.3,1524 425.5,1524.8 425.6,1521.4 425.8,1527 425.9,1518.7 426.1,1525.8 426.2,1529 426.4,1524 426.5,1522 426.7,1522.4 426.8,1521.6 427,1525.2 427.1,1520 427.3,1521.8 427.4,1527.4 427.6,1525.7 427.7,1526.7 427.9,1525.3 428,1523.7 428.2,1525.8 428.3,1524.9 428.5,1522.1 428.6,1521.7 428.8,1519.8 428.9,1533.1 429.1,1526.4 429.2,1526.6 429.4,1526 429.5,1527.1 429.7,1527.2 429.8,1522.1 430,1520.3 430.1,1527.7 430.3,1522 430.4,1531.1 430.6,1522.6 430.7,1519 430.9,1521.3 431,1526.8 431.2,1527 431.3,1525.2 431.5,1520.2 431.6,1523.1 431.8,1523.6 431.9,1522.6 432.1,1527.6 432.2,1531 432.4,1526.1 432.5,1525.8 432.7,1523.3 432.8,1524.1 433,1516.2 433.1,1525.6 433.3,1526 433.4,1519.8 433.6,1524 433.7,1518 433.9,1518.1 434,1521.4 434.2,1521.7 434.3,1529 434.5,1519.9 434.6,1523.4 434.8,1522 434.9,1520.9 435.1,1523.5 435.2,1527 435.4,1525.5 435.5,1527.1 435.7,1521 435.8,1524 436,1523.7 436.1,1525.4 436.3,1524.3 436.4,1527.6 436.6,1523.5 436.7,1527.3 436.9,1523 437,1524.7 437.2,1522.5 437.3,1520.5 437.5,1522.4 437.6,1523.4 437.8,1521.2 437.9,1525.6 438.1,1524 438.2,1522.5 438.4,1528.2 438.5,1525.9 438.7,1517.3 438.8,1523 439,1523.1 439.1,1521.9 439.3,1524.2 439.4,1525 439.6,1524.6 439.7,1520.4 439.9,1518.6 440,1525.4 440.2,1524 440.3,1522.2 440.5,1527.2 440.6,1523.4 440.8,1520.3 440.9,1520 441.1,1516 441.2,1524.5 441.4,1523.4 441.5,1520.7 441.7,1522.4 441.8,1519.8 442,1523.3 442.1,1528.8 442.3,1525.9 442.4,1528.7 442.6,1522.9 442.7,1519.4 442.9,1521.6 443,1524.9 443.2,1529.7 443.3,1523.5 443.5,1525.6 443.6,1525.5 443.8,1523.4 443.9,1516.1 444.1,1524.8 444.2,1525.8 444.4,1528 444.5,1520.6 444.7,1526.5 444.8,1529.4 445,1525.1 445.1,1522.6 445.3,1527.4 445.4,1523.8 445.6,1528.8 445.7,1519.7 445.9,1527.3 446,1523.8 446.2,1526.6 446.3,1525.3 446.5,1522.6 446.6,1525.4 446.8,1523.9 446.9,1519.8 447.1,1515.4 447.2,1520.8 447.4,1523.3 447.5,1522.7 447.7,1527.3 447.8,1526.8 448,1526.9 448.1,1522.1 448.3,1523.8 448.4,1524.5 448.6,1516 448.7,1523.4 448.9,1520.7 449,1521.9 449.2,1523.2 449.3,1521.8 449.5,1528.1 449.6,1523 449.8,1520.1 449.9,1518 450.1,1523.9 450.2,1518.8 450.4,1520.6 450.5,1524.4 450.7,1528.2 450.8,1522.2 451,1525.2 451.1,1519.5 451.3,1521.9 451.4,1527.7 451.6,1524.6 451.7,1521.9 451.9,1519.1 452,1531.1 452.2,1521.5 452.3,1527.2 452.5,1523.8 452.6,1525.8 452.8,1520.2 452.9,1522 453.1,1517.5 453.2,1519 453.4,1525.3 453.5,1530 453.7,1523.8 453.8,1524.7 454,1522.7 454.1,1525.3 454.3,1525 454.4,1520.6 454.6,1522.2 454.7,1525.1 454.9,1521.7 455,1525.7 455.2,1522.9 455.3,1519.9 455.5,1524.5 455.6,1527.1 455.8,1522.4 455.9,1524.1 456.1,1517.3 456.2,1523.3 456.4,1524.9 456.5,1526.6 456.7,1530 456.8,1525.5 457,1522.7 457.1,1525.8 457.3,1521.3 457.4,1520 457.6,1520.7 457.7,1524.9 457.9,1525.3 458,1520.2 458.2,1524.9 458.3,1524.8 458.5,1524.5 458.6,1518.6 458.8,1528.7 458.9,1519.2 459.1,1519.9 459.2,1517.7 459.4,1521.2 459.5,1515.6 459.7,1520.3 459.8,1525.4 460,1527.1 460.1,1522.5 460.3,1521.2 460.4,1521.7 460.6,1519.4 460.7,1519 460.9,1530.3 461,1522.7 461.2,1522.6 461.3,1520.7 461.5,1525.1 461.6,1518.9 461.8,1522.3 461.9,1518.4 462.1,1524.5 462.2,1522.9 462.4,1526.6 462.5,1525.4 462.7,1523.5 462.8,1524.2 463,1521.5 463.1,1521.1 463.3,1522.4 463.4,1522.4 463.6,1525.9 463.7,1523.8 463.9,1523.1 464,1524.7 464.2,1520 464.3,1520.6 464.5,1524.9 464.6,1523.8 464.8,1522.6 464.9,1522.1 465.1,1517.7 465.2,1523 465.4,1524.3 465.5,1521.3 465.7,1520.4 465.8,1518.6 466,1525.4 466.1,1523.2 466.3,1521.7 466.4,1521.8 466.6,1527.2 466.7,1521.1 466.9,1517.9 467,1520.4 467.2,1522.8 467.3,1525.6 467.5,1525.4 467.6,1522.4 467.8,1524.7 467.9,1524.6 468.1,1527.4 468.2,1520.9 468.4,1519.7 468.5,1522.5 468.7,1520.4 468.8,1521.9 469,1517.1 469.1,1522.5 469.3,1522.3 469.4,1525.9 469.6,1522.4 469.7,1523.4 469.9,1523.7 470,1517.5 470.2,1519.8 470.3,1519 470.5,1521.1 470.6,1524.9 470.8,1522 470.9,1518.9 471.1,1524.7 471.2,1522.6 471.4,1522.1 471.5,1518.8 471.7,1521.9 471.8,1519.6 472,1519.9 472.1,1522.7 472.3,1521.2 472.4,1525.8 472.6,1523.3 472.7,1520.1 472.9,1520.5 473,1520.6 473.2,1521.6 473.3,1519 473.5,1519.6 473.6,1521.3 473.8,1526.5 473.9,1513.4 474.1,1514.3 474.2,1524 474.4,1516.7 474.5,1522.2 474.7,1517.6 474.8,1524 475,1521.4 475.1,1522.8 475.3,1519 475.4,1518.4 475.6,1520.9 475.7,1528.4 475.9,1521 476,1524.6 476.2,1516.3 476.3,1522.8 476.5,1527.9 476.6,1521.6 476.8,1525.3 476.9,1519.7 477.1,1525.1 477.2,1519.9 477.4,1526.3 477.5,1517.5 477.7,1521.3 477.8,1518.9 478,1521.8 478.1,1514.7 478.3,1521.8 478.4,1519.1 478.6,1521.5 478.7,1517.3 478.9,1525.7 479,1526.1 479.2,1519.5 479.3,1523.5 479.5,1524.3 479.6,1519.6 479.8,1521.2 479.9,1529 480.1,1520.8 480.2,1522.9 480.4,1524.5 480.5,1518.7 480.7,1519.3 480.8,1516.7 481,1522.8 481.1,1524 481.3,1512.9 481.4,1518.3 481.6,1518.8 481.7,1523.8 481.9,1522.4 482,1518.5 482.2,1529.1 482.3,1525.2 482.5,1520.1 482.6,1527.1 482.8,1518.8 482.9,1521.7 483.1,1526.5 483.2,1521.1 483.4,1520.9 483.5,1521.3 483.7,1519.2 483.8,1526.1 484,1522.7 484.1,1519.4 484.3,1520.2 484.4,1520.3 484.6,1512.2 484.7,1522.3 484.9,1522.8 485,1518.9 485.2,1521.5 485.3,1517.9 485.5,1521.4 485.6,1515.2 485.8,1522.9 485.9,1521.6 486.1,1517.9 486.2,1520.4 486.4,1517.7 486.5,1518.1 486.7,1517.7 486.8,1524.5 487,1517.6 487.1,1520.2 487.3,1519.3 487.4,1523 487.6,1518.6 487.7,1517.6 487.9,1519 488,1518.5 488.2,1519.5 488.3,1520.7 488.5,1518.4 488.6,1520.6 488.8,1520.4 488.9,1518.4 489.1,1516.7 489.2,1514.3 489.4,1516.2 489.5,1519.5 489.7,1522.3 489.8,1518.7 490,1522.9 490.1,1522.9 490.3,1525.8 490.4,1515.7 490.6,1516 490.7,1523.1 490.9,1519.2 491,1518.4 491.2,1514.6 491.3,1514.9 491.5,1522.3 491.6,1518.4 491.8,1524.5 491.9,1519.8 492.1,1519.2 492.2,1520.3 492.4,1523 492.5,1520.5 492.7,1512.4 492.8,1521.3 493,1519.2 493.1,1516.2 493.3,1516.5 493.4,1520.4 493.6,1514.5 493.7,1514.5 493.9,1518.4 494,1518.1 494.2,1519.4 494.3,1517.2 494.5,1518 494.6,1515.2 494.8,1524.3 494.9,1515.8 495.1,1519.2 495.2,1514.1 495.4,1514.9 495.5,1519.3 495.7,1518.8 495.8,1520.2 496,1522 496.1,1519.3 496.3,1516.1 496.4,1519.4 496.6,1522.9 496.7,1518.7 496.9,1522.1 497,1518.5 497.2,1516.4 497.3,1515.6 497.5,1514.9 497.6,1521.2 497.8,1526.9 497.9,1518.6 498.1,1519.3 498.2,1516.1 498.4,1516.3 498.5,1519.4 498.7,1518.2 498.8,1515.6 499,1520.6 499.1,1525.4 499.3,1517.2 499.4,1517.8 499.6,1520 499.7,1514.1 499.9,1518.7 500,1520.6 500.2,1517.4 500.3,1512.5 500.5,1521.7 500.6,1515.4 500.8,1522.3 500.9,1515.8 501.1,1519.6 501.2,1519.4 501.4,1515.7 501.5,1509.7 501.7,1523.7 501.8,1518.6 502,1520.5 502.1,1514 502.3,1517.6 502.4,1520.7 502.6,1514.9 502.7,1515.6 502.9,1518.1 503,1515 503.2,1516.5 503.3,1514.5 503.5,1521.1 503.6,1515.4 503.8,1514.4 503.9,1520.3 504.1,1508.8 504.2,1512.3 504.4,1516.4 504.5,1519.1 504.7,1518 504.8,1517.3 505,1515.6 505.1,1521.5 505.3,1520.8 505.4,1512.7 505.6,1521.4 505.7,1510.3 505.9,1517.4 506,1521.7 506.2,1519.8 506.3,1511.2 506.5,1516 506.6,1520.2 506.8,1512.5 506.9,1515 507.1,1518.7 507.2,1520.3 507.4,1521.7 507.5,1516.4 507.7,1514.8 507.8,1511.4 508,1511.2 508.1,1513 508.3,1521.1 508.4,1518.2 508.6,1514.4 508.7,1517 508.9,1515.7 509,1517.5 509.2,1516 509.3,1512.6 509.5,1514.2 509.6,1520.6 509.8,1517.3 509.9,1519.6 510.1,1521.2 510.2,1512.4 510.4,1515.7 510.5,1507.4 510.7,1513.3 510.8,1513.8 511,1517.1 511.1,1517.8 511.3,1512.7 511.4,1517 511.6,1510 511.7,1511.9 511.9,1511.8 512,1514.4 512.2,1518.1 512.3,1510.8 512.5,1516.8 512.6,1514.8 512.8,1512.1 512.9,1515.9 513.1,1516.1 513.2,1519.1 513.4,1510.9 513.5,1508.6 513.7,1517.3 513.8,1510.4 514,1507.7 514.1,1508.1 514.3,1510.5 514.4,1516.3 514.6,1518.9 514.7,1516.2 514.9,1512.1 515,1508.9 515.2,1509.2 515.3,1514 515.5,1512 515.6,1514.9 515.8,1519.5 515.9,1515.6 516.1,1509.6 516.2,1510.5 516.4,1512.7 516.5,1513 516.7,1505 516.8,1511.3 517,1513.9 517.1,1517.7 517.3,1515 517.4,1511.4 517.6,1514.5 517.7,1511 517.9,1514.3 518,1504.3 518.2,1513.9 518.3,1509.3 518.5,1515 518.6,1511.3 518.8,1509.2 518.9,1511.5 519.1,1518.1 519.2,1507.1 519.4,1509.7 519.5,1515.3 519.7,1513.7 519.8,1509.9 520,1514.9 520.1,1509.9 520.3,1516.4 520.4,1511.6 520.6,1509.1 520.7,1513.4 520.9,1511.4 521,1510.5 521.2,1506.7 521.3,1507.5 521.5,1510.9 521.6,1510.6 521.8,1512.8 521.9,1512.9 522.1,1513.1 522.2,1513.4 522.4,1508.4 522.5,1512.3 522.7,1514.4 522.8,1514.2 523,1511.7 523.1,1509.6 523.3,1513.2 523.4,1514.7 523.6,1510.4 523.7,1507.7 523.9,1514.6 524,1512.4 524.2,1517.5 524.3,1502.2 524.5,1514.4 524.6,1514.8 524.8,1509.6 524.9,1511.6 525.1,1507.5 525.2,1513.2 525.4,1509.6 525.5,1509.2 525.7,1507.9 525.8,1503 526,1509.6 526.1,1512.3 526.3,1507.6 526.4,1511.6 526.6,1505.6 526.7,1507.7 526.9,1508.1 527,1514 527.2,1513.8 527.3,1510.2 527.5,1508.1 527.6,1515.2 527.8,1509.4 527.9,1506.6 528.1,1509.5 528.2,1503.7 528.4,1505.9 528.5,1500.9 528.7,1509 528.8,1504.6 529,1515.3 529.1,1508.8 529.3,1502.1 529.4,1507 529.6,1507.1 529.7,1509.5 529.9,1498.6 530,1499.9 530.2,1504.5 530.3,1502.9 530.5,1504 530.6,1508.9 530.8,1502.3 530.9,1505.3 531.1,1506 531.2,1498.7 531.4,1502.5 531.5,1506.2 531.7,1500 531.8,1502 532,1500.3 532.1,1501.9 532.3,1500 532.4,1499.8 532.6,1504.1 532.7,1492.3 532.9,1499.2 533,1509.5 533.2,1495.8 533.3,1505.2 533.5,1497.7 533.6,1492.9 533.8,1499.9 533.9,1498.9 534.1,1493.6 534.2,1495.5 534.4,1495.6 534.5,1498.1 534.7,1497 534.8,1504.5 535,1498.4 535.1,1497.1 535.3,1493.8 535.4,1494.1 535.6,1501 535.7,1498.7 535.9,1504.3 536,1495.8 536.2,1489 536.3,1494.1 536.5,1497.7 536.6,1493.9 536.8,1494.9 536.9,1499 537.1,1497.4 537.2,1494.4 537.4,1490 537.5,1495.5 537.7,1495.7 537.8,1498.4 538,1492.7 538.1,1496.8 538.3,1484.7 538.4,1491.5 538.6,1501.7 538.7,1485.8 538.9,1490.2 539,1491.4 539.2,1490.3 539.3,1493.3 539.5,1494.4 539.6,1493.5 539.8,1490.9 539.9,1488.4 540.1,1481.7 540.2,1488 540.4,1486 540.5,1485.1 540.7,1492.3 540.8,1492.9 541,1492.2 541.1,1481.9 541.3,1494 541.4,1485.6 541.6,1491.3 541.7,1476.7 541.9,1493.2 542,1492.5 542.2,1489.2 542.3,1491.7 542.5,1483.4 542.6,1482.5 542.8,1482.1 542.9,1477.1 543.1,1489.9 543.2,1485 543.4,1487.1 543.5,1488.4 543.7,1483.6 543.8,1475.5 544,1488.6 544.1,1475 544.3,1482.9 544.4,1486.1 544.6,1489 544.7,1480 544.9,1482.9 545,1484.1 545.2,1485.9 545.3,1483.7 545.5,1484.5 545.6,1482.1 545.8,1490.6 545.9,1481.3 546.1,1477.8 546.2,1478.5 546.4,1487.8 546.5,1481.2 546.7,1480.2 546.8,1476.2 547,1477.2 547.1,1476.4 547.3,1481.4 547.4,1477.6 547.6,1481 547.7,1481.6 547.9,1487.1 548,1478.5 548.2,1480.7 548.3,1486.6 548.5,1473.5 548.6,1481 548.8,1477.3 548.9,1477.4 549.1,1479.6 549.2,1477.6 549.4,1474.3 549.5,1481.8 549.7,1484.1 549.8,1473.2 550,1475.3 550.1,1480.9 550.3,1472.5 550.4,1482.6 550.6,1476.5 550.7,1475.2 550.9,1476.5 551,1474.3 551.2,1478.5 551.3,1483.5 551.5,1478.6 551.6,1473 551.8,1475.3 551.9,1475.5 552.1,1476.6 552.2,1469.9 552.4,1477.1 552.5,1473.3 552.7,1473.1 552.8,1478.5 553,1470.3 553.1,1471.8 553.3,1470.9 553.4,1479.8 553.6,1467.8 553.7,1474.9 553.9,1473.1 554,1470.9 554.2,1468.5 554.3,1475 554.5,1470.8 554.6,1472 554.8,1472.1 554.9,1471.8 555.1,1476 555.2,1471.6 555.4,1465.6 555.5,1475.7 555.7,1478.4 555.8,1464 556,1476.9 556.1,1471.8 556.3,1473 556.4,1468.8 556.6,1471.5 556.7,1467.4 556.9,1471.6 557,1474.4 557.2,1457.6 557.3,1468.2 557.5,1466.1 557.6,1474.3 557.8,1471.5 557.9,1470.2 558.1,1463 558.2,1471.4 558.4,1464.9 558.5,1468.5 558.7,1470 558.8,1463 559,1464.9 559.1,1471.1 559.3,1462.7 559.4,1471.8 559.6,1463 559.7,1465.6 559.9,1454 560,1462.2 560.2,1454.1 560.3,1461.4 560.5,1465.9 560.6,1460.2 560.8,1470.8 560.9,1469.3 561.1,1463.6 561.2,1455.3 561.4,1458.1 561.5,1469.1 561.7,1472.3 561.8,1460.5 562,1469.5 562.1,1467.1 562.3,1464.5 562.4,1466 562.6,1465.1 562.7,1461.7 562.9,1455.5 563,1463.4 563.2,1459.7 563.3,1457.4 563.5,1456.8 563.6,1459.6 563.8,1462.6 563.9,1458.9 564.1,1465.7 564.2,1458.4 564.4,1451.4 564.5,1454.5 564.7,1470.2 564.8,1454.1 565,1453.7 565.1,1458.1 565.3,1452.5 565.4,1452.3 565.6,1456.2 565.7,1456.4 565.9,1460.8 566,1449.2 566.2,1465.7 566.3,1452 566.5,1455.5 566.6,1453 566.8,1455.1 566.9,1453 567.1,1456.9 567.2,1456.9 567.4,1442.9 567.5,1453.1 567.7,1443.9 567.8,1446.6 568,1449.3 568.1,1448.4 568.3,1449.9 568.4,1444.2 568.6,1449.5 568.7,1450.7 568.9,1444.7 569,1448 569.2,1444.8 569.3,1450.6 569.5,1447.2 569.6,1441.4 569.8,1441.1 569.9,1451.7 570.1,1446.1 570.2,1451 570.4,1440.6 570.5,1449.6 570.7,1453.9 570.8,1450.1 571,1449.9 571.1,1430.1 571.3,1445.9 571.4,1438.2 571.6,1446 571.7,1439.5 571.9,1434.4 572,1435.7 572.2,1433 572.3,1434.8 572.5,1440.9 572.6,1436.5 572.8,1438.1 572.9,1441.3 573.1,1426.2 573.2,1443.2 573.4,1444.6 573.5,1440 573.7,1430.4 573.8,1438.5 574,1434.4 574.1,1439.5 574.3,1428.1 574.4,1432.7 574.6,1433.7 574.7,1425.7 574.9,1438.2 575,1424.6 575.2,1427.7 575.3,1439.1 575.5,1432.8 575.6,1428.5 575.8,1437.2 575.9,1435.5 576.1,1421.9 576.2,1414.3 576.4,1419.9 576.5,1425.4 576.7,1427.8 576.8,1433.9 577,1423.2 577.1,1430.3 577.3,1426.6 577.4,1425.7 577.6,1421 577.7,1422.3 577.9,1438.2 578,1428.4 578.2,1418.6 578.3,1416.3 578.5,1419 578.6,1417.2 578.8,1429.4 578.9,1422.7 579.1,1421.4 579.2,1415.9 579.4,1420.5 579.5,1423.9 579.7,1414.5 579.8,1419.6 580,1415.8 580.1,1429.2 580.3,1418 580.4,1414.9 580.6,1409 580.7,1417 580.9,1427 581,1424.7 581.2,1409.4 581.3,1409.7 581.5,1416.8 581.6,1420.5 581.8,1408.1 581.9,1417.7 582.1,1414.4 582.2,1423 582.4,1429.8 582.5,1411.6 582.7,1401 582.8,1414.1 583,1419.7 583.1,1402.9 583.3,1417.4 583.4,1424.2 583.6,1413.6 583.7,1407.9 583.9,1414.9 584,1409.2 584.2,1408.7 584.3,1408 584.5,1398.2 584.6,1406.3 584.8,1403.4 584.9,1397.9 585.1,1408.3 585.2,1400 585.4,1409.2 585.5,1404.5 585.7,1405 585.8,1397.5 586,1397.7 586.1,1407.8 586.3,1409.3 586.4,1409.8 586.6,1408.3 586.7,1405.8 586.9,1401.4 587,1406.2 587.2,1387.8 587.3,1391.3 587.5,1385.1 587.6,1395.3 587.8,1393.5 587.9,1399.1 588.1,1389.1 588.2,1392.9 588.4,1396.9 588.5,1393 588.7,1382.5 588.8,1383.6 589,1394.2 589.1,1407.3 589.3,1411.9 589.4,1393.5 589.6,1393.1 589.7,1392.5 589.9,1389 590,1387.6 590.2,1396.3 590.3,1394.5 590.5,1378.7 590.6,1373.8 590.8,1387.7 590.9,1387.2 591.1,1381.8 591.2,1384.8 591.4,1386.4 591.5,1386.5 591.7,1375.5 591.8,1390.5 592,1381.2 592.1,1392.8 592.3,1380.2 592.4,1381.4 592.6,1384 592.7,1380.3 592.9,1394.9 593,1387.8 593.2,1384.9 593.3,1380.6 593.5,1381.2 593.6,1385.7 593.8,1379.6 593.9,1377.1 594.1,1361.1 594.2,1377.6 594.4,1376.1 594.5,1375.9 594.7,1380 594.8,1380.5 595,1371.4 595.1,1378.6 595.3,1379.9 595.4,1376.1 595.6,1363.8 595.7,1383.8 595.9,1377.7 596,1372.4 596.2,1369.8 596.3,1361.5 596.5,1358.7 596.6,1377.8 596.8,1367.2 596.9,1358.1 597.1,1363.5 597.2,1378.1 597.4,1375.9 597.5,1370.4 597.7,1364.5 597.8,1378.1 598,1363.8 598.1,1374.7 598.3,1364.8 598.4,1363.8 598.6,1365.5 598.7,1360.9 598.9,1368.4 599,1366.6 599.2,1357.9 599.3,1371.8 599.5,1371.9 599.6,1377.6 599.8,1353.7 599.9,1372.2 600.1,1359 600.2,1365.2 600.4,1362.1 600.5,1368.3 600.7,1366.1 600.8,1357.3 601,1363.7 601.1,1372.1 601.3,1365.4 601.4,1374.5 601.6,1359.7 601.7,1356.7 601.9,1361.5 602,1351.3 602.2,1350.7 602.3,1363.8 602.5,1354 602.6,1364.1 602.8,1360.5 602.9,1363.4 603.1,1360.6 603.2,1370.4 603.4,1362.2 603.5,1370.4 603.7,1348.1 603.8,1364 604,1360.3 604.1,1371.7 604.3,1364.8 604.4,1354.9 604.6,1375.1 604.7,1355.9 604.9,1362 605,1341.1 605.2,1352.2 605.3,1350.2 605.5,1354.5 605.6,1348.5 605.8,1365.6 605.9,1342.7 606.1,1349.6 606.2,1368.2 606.4,1352.3 606.5,1354.8 606.7,1342.9 606.8,1356.7 607,1353.9 607.1,1350.5 607.3,1355.3 607.4,1340 607.6,1349.6 607.7,1358.3 607.9,1351.1 608,1354.4 608.2,1339 608.3,1361 608.5,1366.6 608.6,1334.7 608.8,1351.6 608.9,1341.9 609.1,1350.8 609.2,1354.6 609.4,1346.1 609.5,1349.6 609.7,1355.2 609.8,1365.4 610,1347.2 610.1,1338.3 610.3,1339.8 610.4,1360.3 610.6,1337.5 610.7,1359.9 610.9,1352.5 611,1347.6 611.2,1347.5 611.3,1354.5 611.5,1350.2 611.6,1346.4 611.8,1346.2 611.9,1341.2 612.1,1339.1 612.2,1345.4 612.4,1352.1 612.5,1339.9 612.7,1346 612.8,1352.2 613,1365.3 613.1,1343.9 613.3,1339.7 613.4,1336.3 613.6,1353 613.7,1345.4 613.9,1359.1 614,1343 614.2,1342.2 614.3,1351.2 614.5,1339.7 614.6,1335.5 614.8,1335 614.9,1350.9 615.1,1342.9 615.2,1334.2 615.4,1344.2 615.5,1345.7 615.7,1344.5 615.8,1334.8 616,1343.9 616.1,1357.6 616.3,1336.1 616.4,1321.6 616.6,1337.4 616.7,1329.5 616.9,1338.1 617,1342.6 617.2,1349.1 617.3,1336.1 617.5,1340.3 617.6,1332.4 617.8,1338.6 617.9,1334.2 618.1,1356.8 618.2,1336.7 618.4,1334.2 618.5,1336.6 618.7,1327.8 618.8,1339.8 619,1333.4 619.1,1355.5 619.3,1332.3 619.4,1332.5 619.6,1346.2 619.7,1357.3 619.9,1347 620,1339.1 620.2,1324.9 620.3,1348.6 620.5,1334.8 620.6,1333.3 620.8,1333.8 620.9,1344.2 621.1,1332.7 621.2,1350 621.4,1354.8 621.5,1339 621.7,1345.6 621.8,1357.5 622,1326.8 622.1,1331.3 622.3,1332.8 622.4,1345.8 622.6,1343.7 622.7,1351.2 622.9,1337.8 623,1339.9 623.2,1337.8 623.3,1324.9 623.5,1341.7 623.6,1338.8 623.8,1349.9 623.9,1323.7 624.1,1326.4 624.2,1356.8 624.4,1356 624.5,1322.2 624.7,1319.8 624.8,1330.4 625,1324 625.1,1347.7 625.3,1335.6 625.4,1328.8 625.6,1337.6 625.7,1344.4 625.9,1337.3 626,1343.5 626.2,1319.2 626.3,1339.1 626.5,1341.8 626.6,1352.2 626.8,1322.8 626.9,1337.1 627.1,1330.6 627.2,1336.4 627.4,1333 627.5,1335.1 627.7,1340.6 627.8,1331.1 628,1342.3 628.1,1332.7 628.3,1331.8 628.4,1327.9 628.6,1342.8 628.7,1314.2 628.9,1333 629,1345.2 629.2,1349.5 629.3,1334.1 629.5,1335.7 629.6,1329.3 629.8,1348.6 629.9,1335.4 630.1,1331.1 630.2,1326.3 630.4,1350.3 630.5,1340.3 630.7,1341.8 630.8,1335.9 631,1337.4 631.1,1334 631.3,1342.9 631.4,1331.1 631.6,1348.4 631.7,1335.2 631.9,1315.9 632,1343.8 632.2,1318.8 632.3,1322.9 632.5,1338.8 632.6,1330.2 632.8,1329.2 632.9,1343.2 633.1,1353.2 633.2,1336.9 633.4,1346.2 633.5,1329.5 633.7,1349.6 633.8,1315.8 634,1313 634.1,1341.1 634.3,1352.5 634.4,1331.4 634.6,1339 634.7,1335.3 634.9,1348.5 635,1347.3 635.2,1329.6 635.3,1346.2 635.5,1352.3 635.6,1329.7 635.8,1329 635.9,1337.2 636.1,1343.8 636.2,1319.6 636.4,1337.5 636.5,1328.3 636.7,1346.3 636.8,1346.6 637,1332.3 637.1,1320.5 637.3,1343.5 637.4,1339.4 637.6,1337.8 637.7,1321.6 637.9,1334.4 638,1330.6 638.2,1325.9 638.3,1327.7 638.5,1319.3 638.6,1345.9 638.8,1331.5 638.9,1330.9 639.1,1345.2 639.2,1333 639.4,1332 639.5,1337.7 639.7,1340.4 639.8,1323.1 640,1332 640.1,1335.1 640.3,1332.1 640.4,1339 640.6,1332.5 640.7,1330.3 640.9,1342.4 641,1335.6 641.2,1335.6 641.3,1333.6 641.5,1338.7 641.6,1335.3 641.8,1339.6 641.9,1343.4 642.1,1340.3 642.2,1350 642.4,1330.4 642.5,1332.8 642.7,1343.9 642.8,1344.6 643,1344.2 643.1,1347.2 643.3,1346.7 643.4,1332.1 643.6,1339.6 643.7,1329.1 643.9,1332.7 644,1333.5 644.2,1349 644.3,1321.9 644.5,1339.3 644.6,1358.2 644.8,1340.2 644.9,1341.4 645.1,1333.3 645.2,1347.6 645.4,1337.4 645.5,1342.1 645.7,1328.3 645.8,1341.7 646,1334.9 646.1,1330.6 646.3,1346.7 646.4,1337 646.6,1339.7 646.7,1325.9 646.9,1334.8 647,1346.7 647.2,1324.1 647.3,1345.3 647.5,1341.1 647.6,1339.8 647.8,1335.9 647.9,1347.1 648.1,1343.4 648.2,1344.8 648.4,1340 648.5,1349 648.7,1345.8 648.8,1354.4 649,1327.3 649.1,1338 649.3,1331.8 649.4,1349.1 649.6,1358.4 649.7,1357.4 649.9,1354.4 650,1339.1 650.2,1347.2 650.3,1348.7 650.5,1355.1 650.6,1329.8 650.8,1356.3 650.9,1346.6 651.1,1347.3 651.2,1346.2 651.4,1346.6 651.5,1342.1 651.7,1324 651.8,1335.8 652,1343 652.1,1355 652.3,1332.9 652.4,1332.5 652.6,1351.2 652.7,1341.7 652.9,1366.7 653,1355.6 653.2,1337.2 653.3,1361.9 653.5,1341.5 653.6,1337.7 653.8,1359.9 653.9,1348.7 654.1,1334.9 654.2,1327.2 654.4,1347.4 654.5,1335.1 654.7,1355.4 654.8,1354.2 655,1344.8 655.1,1342.2 655.3,1347.2 655.4,1339.1 655.6,1341.8 655.7,1337.6 655.9,1342.4 656,1348.6 656.2,1347.9 656.3,1350.1 656.5,1348.1 656.6,1340 656.8,1341 656.9,1338.3 657.1,1342.1 657.2,1342.5 657.4,1357.3 657.5,1353.7 657.7,1354.8 657.8,1357.5 658,1372.3 658.1,1345.9 658.3,1361.2 658.4,1358.8 658.6,1358.9 658.7,1339.8 658.9,1349.7 659,1341 659.2,1354 659.3,1347.4 659.5,1347.5 659.6,1355.7 659.8,1353.5 659.9,1369.3 660.1,1364.2 660.2,1354.8 660.4,1375.2 660.5,1354.2 660.7,1355 660.8,1362.3 661,1350.6 661.1,1353.2 661.3,1348.1 661.4,1356.1 661.6,1352.9 661.7,1355.6 661.9,1369.7 662,1359 662.2,1360.2 662.3,1358.5 662.5,1359.3 662.6,1353.2 662.8,1360.6 662.9,1366.3 663.1,1356.1 663.2,1378 663.4,1372.9 663.5,1351.7 663.7,1373.7 663.8,1359.8 664,1371 664.1,1357.2 664.3,1360 664.4,1354.7 664.6,1358.8 664.7,1353.9 664.9,1371.1 665,1351.7 665.2,1367.7 665.3,1357.8 665.5,1366.1 665.6,1355.8 665.8,1361.6 665.9,1363.5 666.1,1360.6 666.2,1365.9 666.4,1365.8 666.5,1354.8 666.7,1361.7 666.8,1365.7 667,1369.9 667.1,1357.5 667.3,1373.5 667.4,1368 667.6,1376.9 667.7,1372.8 667.9,1369.5 668,1365.7 668.2,1369.1 668.3,1361.6 668.5,1383.5 668.6,1353.1 668.8,1365.1 668.9,1366 669.1,1376.5 669.2,1362.7 669.4,1376.4 669.5,1371.2 669.7,1369.4 669.8,1367 670,1367.5 670.1,1378.4 670.3,1381.7 670.4,1361.8 670.6,1366.3 670.7,1368.1 670.9,1369.4 671,1369 671.2,1387.5 671.3,1373.2 671.5,1366.3 671.6,1373.1 671.8,1368.4 671.9,1371 672.1,1377.7 672.2,1380.5 672.4,1375.9 672.5,1367.5 672.7,1387.5 672.8,1369 673,1390.4 673.1,1361.5 673.3,1377.8 673.4,1375.7 673.6,1380.5 673.7,1370.2 673.9,1383 674,1367.6 674.2,1362 674.3,1378.2 674.5,1384.9 674.6,1373 674.8,1384.6 674.9,1381.9 675.1,1378.2 675.2,1372.2 675.4,1388.4 675.5,1375.5 675.7,1377.2 675.8,1382 676,1376.5 676.1,1381.2 676.3,1384.9 676.4,1396.9 676.6,1400.7 676.7,1382.8 676.9,1378.5 677,1391.2 677.2,1386.4 677.3,1373.2 677.5,1378.8 677.6,1397.8 677.8,1380.9 677.9,1388 678.1,1382.7 678.2,1386.2 678.4,1394 678.5,1373 678.7,1406.4 678.8,1396.1 679,1380.8 679.1,1390.3 679.3,1387.9 679.4,1397.5 679.6,1385.4 679.7,1396.7 679.9,1400.3 680,1400.8 680.2,1385 680.3,1393.8 680.5,1388.7 680.6,1391.3 680.8,1395.7 680.9,1403.1 681.1,1393.2 681.2,1391.2 681.4,1404 681.5,1400.6 681.7,1402.8 681.8,1411.6 682,1395.5 682.1,1393.9 682.3,1398.9 682.4,1397.1 682.6,1397.9 682.7,1391.2 682.9,1394.3 683,1393.8 683.2,1405.9 683.3,1397.8 683.5,1401.6 683.6,1409.3 683.8,1399.2 683.9,1414 684.1,1410.7 684.2,1396.4 684.4,1399.5 684.5,1416.9 684.7,1402.2 684.8,1404.4 685,1407.4 685.1,1413.6 685.3,1408.4 685.4,1402 685.6,1395.2 685.7,1401.9 685.9,1413.7 686,1403.8 686.2,1395 686.3,1410.4 686.5,1417.8 686.6,1402.9 686.8,1414.3 686.9,1410.4 687.1,1408.9 687.2,1412.8 687.4,1412 687.5,1408.1 687.7,1407.9 687.8,1411 688,1408.5 688.1,1411.8 688.3,1418.4 688.4,1403.2 688.6,1412.9 688.7,1412.1 688.9,1409.1 689,1416.9 689.2,1425.2 689.3,1427.8 689.5,1420 689.6,1411.4 689.8,1415.9 689.9,1415.1 690.1,1422.2 690.2,1428.6 690.4,1421.7 690.5,1432 690.7,1426.5 690.8,1418.4 691,1426.2 691.1,1431.4 691.3,1420 691.4,1420.7 691.6,1423.2 691.7,1435.6 691.9,1420.7 692,1427.1 692.2,1422.7 692.3,1419.8 692.5,1423.9 692.6,1419.3 692.8,1423.2 692.9,1430.5 693.1,1431.6 693.2,1417 693.4,1415.7 693.5,1430.8 693.7,1427.7 693.8,1427 694,1425.4 694.1,1439.5 694.3,1426 694.4,1429.9 694.6,1430.1 694.7,1433.8 694.9,1423.7 695,1434.3 695.2,1422.1 695.3,1423.8 695.5,1436.3 695.6,1428.1 695.8,1428.3 695.9,1436.1 696.1,1447.4 696.2,1436.8 696.4,1433.6 696.5,1423 696.7,1428.8 696.8,1431.1 697,1435.4 697.1,1432.1 697.3,1442.5 697.4,1442.8 697.6,1446 697.7,1445.4 697.9,1440.3 698,1428.6 698.2,1448.1 698.3,1439.1 698.5,1440.9 698.6,1451.8 698.8,1442.9 698.9,1454.3 699.1,1436.8 699.2,1438.7 699.4,1448.1 699.5,1446.6 699.7,1447.7 699.8,1448.9 700,1441.7 700.1,1452.3 700.3,1448.6 700.4,1453.6 700.6,1441.3 700.7,1447.2 700.9,1442.7 701,1453.3 701.2,1463.2 701.3,1446.6 701.5,1448.3 701.6,1446 701.8,1451.3 701.9,1448 702.1,1447.3 702.2,1455.2 702.4,1464.2 702.5,1449.8 702.7,1452.7 702.8,1456.4 703,1461 703.1,1446 703.3,1454.5 703.4,1455 703.6,1460.8 703.7,1460.3 703.9,1455.7 704,1463.8 704.2,1451.4 704.3,1460.3 704.5,1451.8 704.6,1458 704.8,1463 704.9,1449.2 705.1,1460 705.2,1462.6 705.4,1455.6 705.5,1458.7 705.7,1460.9 705.8,1471.2 706,1470.2 706.1,1457.4 706.3,1464.8 706.4,1460.1 706.6,1467.1 706.7,1461.7 706.9,1472.1 707,1464.7 707.2,1456.7 707.3,1462.9 707.5,1466.1 707.6,1465 707.8,1464.7 707.9,1455.7 708.1,1464.3 708.2,1463.2 708.4,1467.9 708.5,1463 708.7,1463.7 708.8,1469.6 709,1474.5 709.1,1467.7 709.3,1461.1 709.4,1469.8 709.6,1469 709.7,1461.8 709.9,1468.2 710,1477 710.2,1460.1 710.3,1467.8 710.5,1470.9 710.6,1469.8 710.8,1466.3 710.9,1471.4 711.1,1460.7 711.2,1467.2 711.4,1466.5 711.5,1468.2 711.7,1472.5 711.8,1469.1 712,1461.8 712.1,1472.6 712.3,1471.2 712.4,1469 712.6,1474.4 712.7,1467 712.9,1477 713,1469.5 713.2,1476.3 713.3,1473.2 713.5,1473.4 713.6,1460 713.8,1474.9 713.9,1467.7 714.1,1470.7 714.2,1476.2 714.4,1468.7 714.5,1473.3 714.7,1480.7 714.8,1481.5 715,1472.9 715.1,1473 715.3,1481.2 715.4,1473.8 715.6,1475.7 715.7,1472.2 715.9,1477.9 716,1474.5 716.2,1475.5 716.3,1472.5 716.5,1470.5 716.6,1466.2 716.8,1482.4 716.9,1474.6 717.1,1480 717.2,1481.3 717.4,1484.3 717.5,1479.1 717.7,1476.5 717.8,1478 718,1476.1 718.1,1476.4 718.3,1475.3 718.4,1477.3 718.6,1476.3 718.7,1477.1 718.9,1480.1 719,1484.1 719.2,1484.9 719.3,1476.6 719.5,1483.2 719.6,1475.7 719.8,1481.2 719.9,1482.7 720.1,1480.5 720.2,1478.9 720.4,1472.1 720.5,1481.7 720.7,1482.2 720.8,1478.5 721,1475.9 721.1,1480.8 721.3,1482.7 721.4,1478.2 721.6,1479.2 721.7,1478.7 721.9,1486.7 722,1478 722.2,1480.6 722.3,1476.4 722.5,1482.1 722.6,1479.4 722.8,1482.4 722.9,1472.3 723.1,1487.9 723.2,1485.9 723.4,1485.3 723.5,1492.7 723.7,1484.4 723.8,1475.2 724,1479.1 724.1,1477.8 724.3,1483.1 724.4,1485.3 724.6,1483.4 724.7,1488.4 724.9,1490.3 725,1478.3 725.2,1483.2 725.3,1477.4 725.5,1489.2 725.6,1483 725.8,1489.9 725.9,1477 726.1,1483.3 726.2,1488.2 726.4,1488.2 726.5,1478.7 726.7,1488.7 726.8,1485.2 727,1484.4 727.1,1488.7 727.3,1478.2 727.4,1476.9 727.6,1487 727.7,1484 727.9,1481.8 728,1482.4 728.2,1482 728.3,1490 728.5,1485.1 728.6,1491.2 728.8,1485.9 728.9,1483.4 729.1,1482.1 729.2,1494.4 729.4,1484.7 729.5,1491.7 729.7,1483.9 729.8,1484.3 730,1485.3 730.1,1482.1 730.3,1485.1 730.4,1489.5 730.6,1487.8 730.7,1485 730.9,1493.4 731,1487.7 731.2,1485.2 731.3,1491.2 731.5,1481.9 731.6,1482.5 731.8,1484.9 731.9,1487.6 732.1,1488.7 732.2,1484.9 732.4,1485.5 732.5,1483.6 732.7,1490.5 732.8,1485.2 733,1483.2 733.1,1491.8 733.3,1487.4 733.4,1487.9 733.6,1488.9 733.7,1484.3 733.9,1489 734,1485.5 734.2,1486.8 734.3,1485.5 734.5,1489.6 734.6,1491.4 734.8,1486.2 734.9,1488.7 735.1,1485.7 735.2,1491.1 735.4,1491.4 735.5,1486.4 735.7,1488.8 735.8,1489.9 736,1486.8 736.1,1490.3 736.3,1488.9 736.4,1487.6 736.6,1494.1 736.7,1486 736.9,1489.9 737,1491.1 737.2,1490.3 737.3,1492.6 737.5,1497.4 737.6,1490.1 737.8,1492.1 737.9,1484.1 738.1,1484.7 738.2,1492.5 738.4,1489.4 738.5,1486.4 738.7,1489.3 738.8,1491.4 739,1492.2 739.1,1494.9 739.3,1487.7 739.4,1488.8 739.6,1490.6 739.7,1491.3 739.9,1484.7 740,1489.7 740.2,1486.3 740.3,1496.2 740.5,1495 740.6,1494.9 740.8,1489 740.9,1493.2 741.1,1486.9 741.2,1491.6 741.4,1488.3 741.5,1493.4 741.7,1488.8 741.8,1493.4 742,1492.6 742.1,1496.2 742.3,1499.3 742.4,1496.9 742.6,1491.5 742.7,1491.6 742.9,1498.9 743,1497.3 743.2,1498.2 743.3,1490.8 743.5,1496.4 743.6,1497 743.8,1491.5 743.9,1495.6 744.1,1491.4 744.2,1490.6 744.4,1495.7 744.5,1500 744.7,1494.7 744.8,1485.6 745,1497.9 745.1,1488.8 745.3,1496.4 745.4,1497.7 745.6,1488.6 745.7,1495.8 745.9,1502.3 746,1499.4 746.2,1497.6 746.3,1496.6 746.5,1489.8 746.6,1491 746.8,1494.7 746.9,1493 747.1,1496.6 747.2,1501.1 747.4,1494.8 747.5,1495.8 747.7,1491.6 747.8,1493.9 748,1490.8 748.1,1496.7 748.3,1496.6 748.4,1497 748.6,1498.5 748.7,1491.4 748.9,1494.9 749,1500 749.2,1497.9 749.3,1488.6 749.5,1487 749.6,1490.5 749.8,1495.3 749.9,1489.9 750.1,1496.1 750.2,1500.3 750.4,1495.8 750.5,1500.1 750.7,1496.9 750.8,1487.8 751,1494.3 751.1,1495.5 751.3,1493.3 751.4,1498 751.6,1495.5 751.7,1500.2 751.9,1501.6 752,1498.4 752.2,1501.1 752.3,1505.1 752.5,1498.7 752.6,1500.8 752.8,1500.3 752.9,1491.6 753.1,1494.7 753.2,1493.4 753.4,1497.9 753.5,1501 753.7,1500.6 753.8,1490.6 754,1507.3 754.1,1499.2 754.3,1496.6 754.4,1503 754.6,1493.6 754.7,1500.5 754.9,1497.6 755,1491.8 755.2,1494.4 755.3,1498.4 755.5,1498.1 755.6,1492.2 755.8,1490.6 755.9,1495.8 756.1,1504.6 756.2,1499.5 756.4,1493.8 756.5,1500.5 756.7,1498.9 756.8,1501.4 757,1499.4 757.1,1494.2 757.3,1495.3 757.4,1501.9 757.6,1493.2 757.7,1503.2 757.9,1494.4 758,1494.6 758.2,1502.8 758.3,1504.8 758.5,1494.2 758.6,1495.5 758.8,1497.2 758.9,1500.9 759.1,1496.6 759.2,1503.6 759.4,1495.2 759.5,1489.6 759.7,1498.8 759.8,1494.3 760,1501.3 760.1,1497 760.3,1498.9 760.4,1496.6 760.6,1499.4 760.7,1504.6 760.9,1494.4 761,1502.6 761.2,1494.3 761.3,1502.9 761.5,1495.5 761.6,1497 761.8,1500.4 761.9,1494.9 762.1,1497.6 762.2,1492.6 762.4,1496.1 762.5,1494 762.7,1506.1 762.8,1493.5 763,1499.5 763.1,1499.5 763.3,1503.5 763.4,1501.4 763.6,1499.8 763.7,1498.5 763.9,1498.5 764,1500.2 764.2,1498.2 764.3,1495.7 764.5,1500.7 764.6,1501.3 764.8,1495 764.9,1497.3 765.1,1502.4 765.2,1496.5 765.4,1497.4 765.5,1490.9 765.7,1495.7 765.8,1496 766,1499.3 766.1,1502.5 766.3,1499.4 766.4,1500 766.6,1500.1 766.7,1494.9 766.9,1502.9 767,1492.8 767.2,1502.8 767.3,1504.4 767.5,1495.7 767.6,1500.1 767.8,1501.8 767.9,1497.7 768.1,1501.1 768.2,1498.8 768.4,1500.7 768.5,1498.8 768.7,1502.4 768.8,1496.9 769,1501 769.1,1499.1 769.3,1507.5 769.4,1497.7 769.6,1501.7 769.7,1500.4 769.9,1500.9 770,1501.8 770.2,1503.4 770.3,1496.3 770.5,1501.6 770.6,1500.6 770.8,1501.1 770.9,1502.6 771.1,1495.9 771.2,1502.5 771.4,1498.7 771.5,1503 771.7,1505.4 771.8,1505.5 772,1498.3 772.1,1507.4 772.3,1506.5 772.4,1502.6 772.6,1498.1 772.7,1503 772.9,1496.4 773,1501 773.2,1501.2 773.3,1494.7 773.5,1498.5 773.6,1502 773.8,1502.4 773.9,1497.4 774.1,1495.4 774.2,1501.5 774.4,1501 774.5,1496.5 774.7,1503 774.8,1498.9 775,1499.5 775.1,1501 775.3,1503.8 775.4,1509.1 775.6,1501.1 775.7,1505 775.9,1499.6 776,1502.6 776.2,1502.1 776.3,1495.3 776.5,1498.1 776.6,1504.1 776.8,1497.5 776.9,1502 777.1,1505.4 777.2,1500.1 777.4,1500.6 777.5,1497.1 777.7,1496.9 777.8,1496.7 778,1503.2 778.1,1500.9 778.3,1507.1 778.4,1499.6 778.6,1501.5 778.7,1508.6 778.9,1498.5 779,1499.1 779.2,1506.5 779.3,1508.9 779.5,1502.1 779.6,1500 779.8,1501.3 779.9,1495.7 780.1,1492.4 780.2,1500.5 780.4,1501.7 780.5,1502.6 780.7,1493.4 780.8,1500.8 781,1498.4 781.1,1497.7 781.3,1497.2 781.4,1499.4 781.6,1494.1 781.7,1498.8 781.9,1500.2 782,1504.8 782.2,1502.2 782.3,1501.1 782.5,1497.1 782.6,1503 782.8,1500.1 782.9,1501.7 783.1,1510.4 783.2,1500 783.4,1494.8 783.5,1506.3 783.7,1496.8 783.8,1505.5 784,1502.6 784.1,1501.5 784.3,1497.6 784.4,1501.1 784.6,1500.9 784.7,1497.7 784.9,1497.5 785,1501.6 785.2,1499.2 785.3,1496 785.5,1499.2 785.6,1504.7 785.8,1500.8 785.9,1506.7 786.1,1493 786.2,1500.3 786.4,1507.2 786.5,1502.8 786.7,1499.6 786.8,1498.5 787,1501.7 787.1,1502.7 787.3,1504.7 787.4,1497.9 787.6,1496.6 787.7,1500 787.9,1500.5 788,1500.7 788.2,1503.3 788.3,1502.7 788.5,1499.2 788.6,1500.4 788.8,1499.7 788.9,1504.1 789.1,1498.5 789.2,1505.2 789.4,1496.8 789.5,1502.1 789.7,1500.3 789.8,1504 790,1501.8 790.1,1504.3 790.3,1500.9 790.4,1508.1 790.6,1497.3 790.7,1500.8 790.9,1499 791,1502 791.2,1499.7 791.3,1504.2 791.5,1504.9 791.6,1503.1 791.8,1507.1 791.9,1498.7 792.1,1503 792.2,1502.5 792.4,1504.8 792.5,1499.7 792.7,1497.8 792.8,1502.9 793,1497.7 793.1,1500.5 793.3,1500.9 793.4,1508 793.6,1505 793.7,1497.3 793.9,1497.8 794,1493.6 794.2,1504 794.3,1498.8 794.5,1507.2 794.6,1504.8 794.8,1505.7 794.9,1504.8 795.1,1500.5 795.2,1496.4 795.4,1500.9 795.5,1506.2 795.7,1496.7 795.8,1500.3 796,1507.4 796.1,1496.5 796.3,1501.5 796.4,1498.8 796.6,1503.9 796.7,1503.6 796.9,1500.1 797,1507.6 797.2,1501.5 797.3,1498.4 797.5,1500.1 797.6,1502 797.8,1503.3 797.9,1503.3 798.1,1496.3 798.2,1500.7 798.4,1501.1 798.5,1505.2 798.7,1500.3 798.8,1499 799,1510.3 799.1,1495.7 799.3,1498.8 799.4,1502.6 799.6,1508.6 799.7,1492.8 799.9,1499.4 800,1503.8 800.2,1507.4 800.3,1498.1 800.5,1508.8 800.6,1502.1 800.8,1503.2 800.9,1506.6 801.1,1504.8 801.2,1504.8 801.4,1498.8 801.5,1500.6 801.7,1497.8 801.8,1505.9 802,1497.3 802.1,1500.9 802.3,1497.5 802.4,1503.3 802.6,1500.4 802.7,1505.8 802.9,1497.9 803,1501.8 803.2,1504.5 803.3,1502.8 803.5,1502.1 803.6,1509.3 803.8,1502.1 803.9,1506.6 804.1,1503 804.2,1501.9 804.4,1493.8 804.5,1501.1 804.7,1507.6 804.8,1500.6 805,1507 805.1,1506.5 805.3,1505.5 805.4,1499.2 805.6,1496.4 805.7,1500.1 805.9,1507.6 806,1502.1 806.2,1499.7 806.3,1512.1 806.5,1504.1 806.6,1493.2 806.8,1508 806.9,1506.6 807.1,1507.2 807.2,1497.5 807.4,1499.2 807.5,1499.8 807.7,1498.2 807.8,1505.1 808,1509.8 808.1,1500.6 808.3,1508.8 808.4,1500.3 808.6,1500.7 808.7,1502 808.9,1497.7 809,1501.1 809.2,1507.2 809.3,1505.5 809.5,1500 809.6,1505 809.8,1500.2 809.9,1503.6 810.1,1501.6 810.2,1506.2 810.4,1503.2 810.5,1508.7 810.7,1505.3 810.8,1500.6 811,1505.1 811.1,1506.3 811.3,1499.4 811.4,1499.8 811.6,1507.1 811.7,1501.8 811.9,1500.9 812,1506.1 812.2,1505.6 812.3,1503.4 812.5,1497.2 812.6,1502.9 812.8,1503 812.9,1512.5 813.1,1501.5 813.2,1499.3 813.4,1507 813.5,1500 813.7,1501.5 813.8,1499.9 814,1502.9 814.1,1502.8 814.3,1493.6 814.4,1496.1 814.6,1506.4 814.7,1509.1 814.9,1501.5 815,1501.3 815.2,1502.5 815.3,1503.5 815.5,1497.6 815.6,1512.7 815.8,1506.7 815.9,1500.7 816.1,1501.2 816.2,1501.3 816.4,1505.9 816.5,1496.8 816.7,1499.5 816.8,1500 817,1501.5 817.1,1508.6 817.3,1505.4 817.4,1508 817.6,1503.4 817.7,1509 817.9,1503.7 818,1506.1 818.2,1503.8 818.3,1512 818.5,1507.9 818.6,1503.4 818.8,1501.3 818.9,1508.6 819.1,1501.5 819.2,1494.5 819.4,1504.5 819.5,1506.9 819.7,1510.9 819.8,1510.1 820,1506.1 820.1,1505.2 820.3,1502" fill="none" stroke="#0a8078" stroke-width="2.5" stroke-linejoin="round"/>
<path d="M399.8,1515 399.9,1523.5 400.1,1519.8 400.2,1515.8 400.4,1518.7 400.5,1519.8 400.7,1519.9 400.8,1524.6 401,1524.9 401.1,1517.9 401.3,1516 401.4,1516.9 401.6,1517 401.7,1515 401.9,1515.5 402,1521.4 402.2,1519.4 402.3,1527.5 402.5,1516.8 402.6,1519.7 402.8,1519.8 402.9,1517 403.1,1524.4 403.2,1519.7 403.4,1522.9 403.5,1515.2 403.7,1524.2 403.8,1522 404,1518.8 404.1,1514.8 404.3,1520.3 404.4,1524.7 404.6,1522.5 404.7,1519.1 404.9,1518.4 405,1524.1 405.2,1516.5 405.3,1523 405.5,1523.2 405.6,1520.8 405.8,1524.1 405.9,1524.1 406.1,1520.9 406.2,1527.9 406.4,1521.4 406.5,1524.1 406.7,1519.3 406.8,1523.3 407,1517.4 407.1,1519.1 407.3,1518.6 407.4,1519.5 407.6,1523 407.7,1519 407.9,1518.3 408,1519.9 408.2,1519.2 408.3,1519.1 408.5,1521 408.6,1521.9 408.8,1519.8 408.9,1519.7 409.1,1518.2 409.2,1516.3 409.4,1521.1 409.5,1521.6 409.7,1513.8 409.8,1520.3 410,1520.2 410.1,1522.7 410.3,1518.8 410.4,1527.1 410.6,1522.5 410.7,1520.9 410.9,1522.4 411,1519.4 411.2,1516.5 411.3,1519 411.5,1521.3 411.6,1527.8 411.8,1522.7 411.9,1516.2 412.1,1515.4 412.2,1518.3 412.4,1517.5 412.5,1517.6 412.7,1524.9 412.8,1521.5 413,1521.9 413.1,1518.3 413.3,1516.7 413.4,1520.1 413.6,1514.3 413.7,1520.7 413.9,1521.9 414,1522 414.2,1526.7 414.3,1518 414.5,1521.9 414.6,1518.2 414.8,1518.8 414.9,1518.5 415.1,1525.4 415.2,1521.4 415.4,1521.1 415.5,1519.2 415.7,1523.4 415.8,1523.6 416,1516.5 416.1,1524.7 416.3,1519.5 416.4,1523.7 416.6,1517.7 416.7,1521.7 416.9,1521.4 417,1523.2 417.2,1526.5 417.3,1514.6 417.5,1520.4 417.6,1515.5 417.8,1518 417.9,1523.2 418.1,1521.8 418.2,1518.3 418.4,1519.8 418.5,1522.2 418.7,1518.8 418.8,1517.3 419,1516.2 419.1,1514.6 419.3,1519.7 419.4,1521.1 419.6,1521 419.7,1528 419.9,1515.6 420,1514.6 420.2,1528 420.3,1519.4 420.5,1521.6 420.6,1520.7 420.8,1525.6 420.9,1520.4 421.1,1526.6 421.2,1518 421.4,1516.9 421.5,1516 421.7,1525.4 421.8,1523.8 422,1522 422.1,1515.6 422.3,1520.7 422.4,1514.9 422.6,1519.4 422.7,1517.8 422.9,1524.6 423,1525.4 423.2,1522.5 423.3,1523.9 423.5,1524.8 423.6,1518.2 423.8,1514.8 423.9,1522.3 424.1,1520.2 424.2,1515.5 424.4,1519.6 424.5,1517.3 424.7,1517.4 424.8,1515.8 425,1516 425.1,1518.7 425.3,1522.8 425.4,1516.1 425.6,1523.2 425.7,1519.1 425.9,1518 426,1510.9 426.2,1517.1 426.3,1517.9 426.5,1520.5 426.6,1519.9 426.8,1524.3 426.9,1526.6 427.1,1519.9 427.2,1518.8 427.4,1520.9 427.5,1520.2 427.7,1520.2 427.8,1513.5 428,1521.4 428.1,1513 428.3,1521.6 428.4,1520 428.6,1519.4 428.7,1517.3 428.9,1514.5 429,1515.9 429.2,1515.5 429.3,1518.1 429.5,1519 429.6,1519.4 429.8,1522.8 429.9,1511.9 430.1,1519.3 430.2,1521.4 430.4,1522.9 430.5,1520 430.7,1522.5 430.8,1515.7 431,1515.2 431.1,1521.2 431.3,1514.8 431.4,1516.3 431.6,1517.8 431.7,1518 431.9,1519.8 432,1515.9 432.2,1524.4 432.3,1516.5 432.5,1519.1 432.6,1526.4 432.8,1520 432.9,1518.4 433.1,1516.8 433.2,1518.5 433.4,1522 433.5,1518.1 433.7,1518.5 433.8,1527.2 434,1522.6 434.1,1520.1 434.3,1521.1 434.4,1518.3 434.6,1512.2 434.7,1518.8 434.9,1520.5 435,1519.2 435.2,1522 435.3,1520.9 435.5,1521.3 435.6,1517 435.8,1520.7 435.9,1518.5 436.1,1517.7 436.2,1522.3 436.4,1516.9 436.5,1513.5 436.7,1519.6 436.8,1517.9 437,1515.1 437.1,1514.4 437.3,1517.8 437.4,1519.4 437.6,1516.9 437.7,1522.2 437.9,1521.3 438,1520.5 438.2,1517.2 438.3,1522.3 438.5,1517.8 438.6,1524.1 438.8,1521.9 438.9,1521.5 439.1,1516.8 439.2,1512.7 439.4,1523.8 439.5,1517.7 439.7,1519 439.8,1517.2 440,1520.4 440.1,1515.7 440.3,1525.4 440.4,1515.3 440.6,1513.7 440.7,1521.2 440.9,1517.9 441,1522.2 441.2,1519.5 441.3,1519.3 441.5,1526.7 441.6,1515.6 441.8,1516.2 441.9,1512.3 442.1,1518.6 442.2,1517.9 442.4,1514.4 442.5,1524.4 442.7,1516.5 442.8,1519.4 443,1511.9 443.1,1518.8 443.3,1514.8 443.4,1519.6 443.6,1526.5 443.7,1513.5 443.9,1514.6 444,1514.7 444.2,1519.1 444.3,1514 444.5,1521.2 444.6,1520.6 444.8,1514.8 444.9,1515.3 445.1,1511.8 445.2,1520.3 445.4,1516.3 445.5,1516 445.7,1514.1 445.8,1521.4 446,1517.4 446.1,1519.1 446.3,1516 446.4,1509.2 446.6,1515.2 446.7,1512.3 446.9,1515.5 447,1518.7 447.2,1516.6 447.3,1517.5 447.5,1517.9 447.6,1514.7 447.8,1515.6 447.9,1520.3 448.1,1524.4 448.2,1519.2 448.4,1516 448.5,1512.7 448.7,1516.7 448.8,1515.6 449,1513.9 449.1,1513.4 449.3,1519.7 449.4,1517.9 449.6,1515 449.7,1519 449.9,1520.2 450,1518.1 450.2,1517.1 450.3,1513.6 450.5,1518.7 450.6,1519.8 450.8,1518.3 450.9,1514.2 451.1,1522.9 451.2,1515.8 451.4,1513.5 451.5,1518.2 451.7,1518.8 451.8,1520.7 452,1519.8 452.1,1517.3 452.3,1512.6 452.4,1514.9 452.6,1518.1 452.7,1521.6 452.9,1520.7 453,1513.1 453.2,1521.4 453.3,1513.4 453.5,1516.2 453.6,1513.3 453.8,1515.4 453.9,1518.5 454.1,1516.7 454.2,1518 454.4,1520.8 454.5,1517.4 454.7,1516.9 454.8,1520.3 455,1517.5 455.1,1514.2 455.3,1516.6 455.4,1520.3 455.6,1511.4 455.7,1518.9 455.9,1512.7 456,1515.3 456.2,1512.7 456.3,1515.5 456.5,1520.1 456.6,1512.2 456.8,1518.7 456.9,1521.1 457.1,1521.2 457.2,1514.9 457.4,1517.9 457.5,1517.8 457.7,1521.1 457.8,1509.8 458,1513.7 458.1,1512.5 458.3,1515.3 458.4,1511.9 458.6,1517.5 458.7,1511.2 458.9,1515.9 459,1517.2 459.2,1513 459.3,1514.2 459.5,1514.3 459.6,1520.8 459.8,1518.7 459.9,1519.8 460.1,1518.1 460.2,1515.1 460.4,1518.7 460.5,1515.3 460.7,1518.9 460.8,1516.4 461,1513.4 461.1,1511.4 461.3,1508.8 461.4,1514.4 461.6,1514 461.7,1510 461.9,1520.3 462,1518.5 462.2,1511.8 462.3,1511.3 462.5,1508.4 462.6,1508.8 462.8,1509.3 462.9,1511.8 463.1,1514.4 463.2,1510.5 463.4,1520.7 463.5,1515.1 463.7,1519.6 463.8,1515.2 464,1523.8 464.1,1513 464.3,1514.6 464.4,1510.7 464.6,1519.8 464.7,1515.6 464.9,1511.4 465,1520.3 465.2,1515 465.3,1521.8 465.5,1508 465.6,1517.6 465.8,1514.2 465.9,1513.3 466.1,1520.5 466.2,1516.4 466.4,1520 466.5,1512.5 466.7,1509.4 466.8,1522.1 467,1514.4 467.1,1519.1 467.3,1512.9 467.4,1512.2 467.6,1511 467.7,1511.9 467.9,1519.6 468,1518.5 468.2,1514.3 468.3,1511.7 468.5,1516.7 468.6,1515.3 468.8,1512.3 468.9,1513.4 469.1,1510.1 469.2,1517.5 469.4,1512 469.5,1513.3 469.7,1513.3 469.8,1514.1 470,1515.4 470.1,1508.9 470.3,1515.6 470.4,1512 470.6,1513 470.7,1515.6 470.9,1512.3 471,1512.2 471.2,1507.8 471.3,1515.8 471.5,1511.1 471.6,1511.2 471.8,1509.8 471.9,1515.4 472.1,1512 472.2,1517.2 472.4,1511.8 472.5,1509 472.7,1507.7 472.8,1520.4 473,1514.2 473.1,1511.5 473.3,1518.9 473.4,1504.1 473.6,1511.6 473.7,1518.5 473.9,1504 474,1511 474.2,1519.2 474.3,1515.6 474.5,1515 474.6,1512.8 474.8,1506.7 474.9,1514.7 475.1,1514.1 475.2,1512.2 475.4,1510.3 475.5,1511.3 475.7,1516.8 475.8,1509.2 476,1515.2 476.1,1515 476.3,1503.6 476.4,1518.2 476.6,1512.3 476.7,1515.7 476.9,1509.6 477,1510.6 477.2,1515.2 477.3,1513.6 477.5,1513.8 477.6,1510.1 477.8,1517.9 477.9,1510.7 478.1,1510.9 478.2,1511.8 478.4,1513.3 478.5,1509.4 478.7,1509.7 478.8,1510.9 479,1511.4 479.1,1509.3 479.3,1509.3 479.4,1515.5 479.6,1515.9 479.7,1513 479.9,1514.1 480,1513.6 480.2,1512.2 480.3,1506.7 480.5,1511.2 480.6,1510.8 480.8,1508.5 480.9,1513.7 481.1,1512.5 481.2,1517.9 481.4,1514.4 481.5,1509.2 481.7,1512.7 481.8,1512.5 482,1505.9 482.1,1505.3 482.3,1510.7 482.4,1514.2 482.6,1515.6 482.7,1511.3 482.9,1515.1 483,1511.4 483.2,1513.1 483.3,1511.8 483.5,1512.6 483.6,1507 483.8,1511.8 483.9,1505.5 484.1,1512.6 484.2,1505.6 484.4,1514.6 484.5,1510.2 484.7,1512.3 484.8,1514.8 485,1503.9 485.1,1510.6 485.3,1514.4 485.4,1516.4 485.6,1509.1 485.7,1508.7 485.9,1510.6 486,1513.3 486.2,1512.7 486.3,1515.5 486.5,1513 486.6,1512.4 486.8,1508.8 486.9,1508.3 487.1,1514.9 487.2,1518.1 487.4,1504.7 487.5,1510.7 487.7,1513.8 487.8,1510.3 488,1514 488.1,1512.8 488.3,1519.8 488.4,1512.6 488.6,1505.6 488.7,1508.4 488.9,1512.1 489,1510.9 489.2,1508.8 489.3,1507.5 489.5,1514 489.6,1512 489.8,1510.5 489.9,1508 490.1,1512.3 490.2,1509.4 490.4,1508.2 490.5,1510.8 490.7,1509.1 490.8,1506.6 491,1515 491.1,1510.1 491.3,1509.6 491.4,1503.2 491.6,1517.4 491.7,1513.4 491.9,1515.8 492,1514.2 492.2,1509.6 492.3,1514.1 492.5,1511.1 492.6,1510.6 492.8,1511.4 492.9,1507.6 493.1,1509.3 493.2,1513.3 493.4,1512 493.5,1509.4 493.7,1512.4 493.8,1508.7 494,1510.4 494.1,1512.1 494.3,1511.4 494.4,1514.1 494.6,1509.2 494.7,1512.2 494.9,1512.7 495,1511.2 495.2,1502.5 495.3,1506.1 495.5,1512.3 495.6,1513.6 495.8,1507.6 495.9,1513.5 496.1,1505.9 496.2,1512.3 496.4,1506.1 496.5,1502.6 496.7,1510.9 496.8,1507.4 497,1507 497.1,1501.3 497.3,1501 497.4,1512.5 497.6,1504.9 497.7,1505.7 497.9,1508.3 498,1507.5 498.2,1513 498.3,1512.3 498.5,1509.5 498.6,1513.8 498.8,1507.8 498.9,1508.4 499.1,1503.6 499.2,1512.8 499.4,1504.1 499.5,1507.5 499.7,1507.7 499.8,1508.7 500,1508.6 500.1,1511.1 500.3,1511.9 500.4,1504.1 500.6,1516.6 500.7,1505 500.9,1507.1 501,1507.5 501.2,1504.6 501.3,1508.2 501.5,1507.4 501.6,1505.8 501.8,1508.6 501.9,1504.7 502.1,1505 502.2,1508.5 502.4,1506.6 502.5,1511.3 502.7,1507.1 502.8,1507.6 503,1513.2 503.1,1508 503.3,1506.1 503.4,1511.4 503.6,1512.6 503.7,1508.1 503.9,1510 504,1511.4 504.2,1507.7 504.3,1511.3 504.5,1507.5 504.6,1504.1 504.8,1506.7 504.9,1507.2 505.1,1511.4 505.2,1503.1 505.4,1508.6 505.5,1501.6 505.7,1509.6 505.8,1507.5 506,1512.2 506.1,1506.4 506.3,1512.5 506.4,1507.4 506.6,1501.6 506.7,1505 506.9,1512.1 507,1504.2 507.2,1511.7 507.3,1508.6 507.5,1509.4 507.6,1508.9 507.8,1507.6 507.9,1516 508.1,1503.7 508.2,1507.8 508.4,1511.2 508.5,1506.3 508.7,1502.2 508.8,1511.1 509,1505 509.1,1507.6 509.3,1507 509.4,1509.2 509.6,1507 509.7,1505 509.9,1512.7 510,1510 510.2,1509 510.3,1509.2 510.5,1513.2 510.6,1509.2 510.8,1511.3 510.9,1505.8 511.1,1507.2 511.2,1506.5 511.4,1505.7 511.5,1508.7 511.7,1510.6 511.8,1504.4 512,1508.4 512.1,1509.1 512.3,1501 512.4,1512.1 512.6,1503.7 512.7,1501.8 512.9,1507.9 513,1508.8 513.2,1505.2 513.3,1509.5 513.5,1513.7 513.6,1502.5 513.8,1500.6 513.9,1511.2 514.1,1503.8 514.2,1505.6 514.4,1506.3 514.5,1503.5 514.7,1507.7 514.8,1507.2 515,1505.5 515.1,1504.8 515.3,1514.7 515.4,1501.5 515.6,1503.7 515.7,1501.8 515.9,1506.3 516,1509.4 516.2,1503.6 516.3,1503.6 516.5,1502 516.6,1503 516.8,1508.6 516.9,1509.4 517.1,1506.1 517.2,1503.9 517.4,1505.6 517.5,1507.2 517.7,1504.6 517.8,1511.9 518,1505.5 518.1,1513.1 518.3,1498.8 518.4,1511.6 518.6,1498.3 518.7,1501.6 518.9,1500.9 519,1501.7 519.2,1506 519.3,1504.3 519.5,1498.7 519.6,1508.4 519.8,1505.3 519.9,1500.9 520.1,1506.8 520.2,1497.9 520.4,1508.6 520.5,1506.9 520.7,1503.8 520.8,1506.9 521,1505 521.1,1504 521.3,1504.6 521.4,1502.6 521.6,1502.4 521.7,1502.5 521.9,1502.9 522,1503.3 522.2,1502.3 522.3,1502 522.5,1500.4 522.6,1497.2 522.8,1505.6 522.9,1496.5 523.1,1499.8 523.2,1499.2 523.4,1504.8 523.5,1501.8 523.7,1501.5 523.8,1503.7 524,1499.9 524.1,1506.9 524.3,1505.7 524.4,1499.4 524.6,1500.9 524.7,1508.4 524.9,1500.7 525,1501.8 525.2,1499.1 525.3,1502.5 525.5,1502.2 525.6,1506 525.8,1502.7 525.9,1503.7 526.1,1500.1 526.2,1509.7 526.4,1502.1 526.5,1497.8 526.7,1511.6 526.8,1499.3 527,1500.2 527.1,1501.3 527.3,1500.4 527.4,1504.2 527.6,1498.3 527.7,1500.5 527.9,1508.2 528,1498.9 528.2,1505.6 528.3,1505 528.5,1499.8 528.6,1502.7 528.8,1500.4 528.9,1500 529.1,1501.4 529.2,1499.3 529.4,1506.6 529.5,1494.2 529.7,1497.2 529.8,1502.9 530,1501.1 530.1,1494.7 530.3,1503.6 530.4,1506.4 530.6,1492 530.7,1494.8 530.9,1498.3 531,1493.2 531.2,1497.7 531.3,1496.6 531.5,1497 531.6,1496.2 531.8,1502.7 531.9,1498.7 532.1,1497.5 532.2,1502.8 532.4,1503.5 532.5,1498.8 532.7,1492.2 532.8,1498.8 533,1494 533.1,1493.2 533.3,1492.7 533.4,1495.3 533.6,1504.4 533.7,1505.9 533.9,1501.8 534,1498.5 534.2,1497.7 534.3,1499 534.5,1498.3 534.6,1494.5 534.8,1501.4 534.9,1494.3 535.1,1494.3 535.2,1503.3 535.4,1495.6 535.5,1496.2 535.7,1493.9 535.8,1494 536,1504.4 536.1,1488 536.3,1495 536.4,1491.4 536.6,1491.6 536.7,1498.9 536.9,1495.1 537,1495.5 537.2,1485.8 537.3,1499.8 537.5,1488.1 537.6,1490.5 537.8,1494.3 537.9,1497.9 538.1,1494.4 538.2,1490.7 538.4,1497.1 538.5,1492.2 538.7,1490.4 538.8,1490 539,1494 539.1,1489.8 539.3,1489.3 539.4,1500.3 539.6,1496.8 539.7,1497.6 539.9,1494.7 540,1488.3 540.2,1489.2 540.3,1489.5 540.5,1493.1 540.6,1486.6 540.8,1497.1 540.9,1496.2 541.1,1487.3 541.2,1491.1 541.4,1485.4 541.5,1486 541.7,1485.4 541.8,1492.5 542,1491.3 542.1,1495.8 542.3,1488.6 542.4,1488.5 542.6,1490.6 542.7,1489.1 542.9,1487 543,1483.7 543.2,1489.8 543.3,1489.8 543.5,1487.4 543.6,1484.3 543.8,1478.5 543.9,1482.2 544.1,1496.3 544.2,1493.1 544.4,1489 544.5,1496.3 544.7,1482.1 544.8,1488.8 545,1490.3 545.1,1485.3 545.3,1483 545.4,1485.6 545.6,1483.9 545.7,1479.5 545.9,1487.9 546,1483.1 546.2,1491.1 546.3,1487.9 546.5,1477.8 546.6,1485.4 546.8,1486.2 546.9,1478 547.1,1483.4 547.2,1476.9 547.4,1472.2 547.5,1470.6 547.7,1481.2 547.8,1478.4 548,1482.2 548.1,1471.6 548.3,1476.5 548.4,1466.8 548.6,1480.6 548.7,1478.4 548.9,1489.2 549,1480.8 549.2,1480.2 549.3,1474.9 549.5,1472.3 549.6,1480.1 549.8,1476.7 549.9,1473.1 550.1,1475.9 550.2,1472.1 550.4,1467.6 550.5,1477.4 550.7,1472.7 550.8,1468.4 551,1472.9 551.1,1465.6 551.3,1474 551.4,1466.7 551.6,1470.3 551.7,1468.2 551.9,1473.6 552,1464.8 552.2,1474.9 552.3,1463.8 552.5,1468.3 552.6,1466.5 552.8,1460.9 552.9,1473.3 553.1,1462.2 553.2,1463.6 553.4,1467.2 553.5,1460.1 553.7,1463.6 553.8,1453.5 554,1464.6 554.1,1453.6 554.3,1453.8 554.4,1458.3 554.6,1462.8 554.7,1458.9 554.9,1464.6 555,1460.9 555.2,1459.8 555.3,1454.1 555.5,1462.5 555.6,1452.2 555.8,1456.2 555.9,1448.1 556.1,1449.3 556.2,1454.8 556.4,1449.6 556.5,1449 556.7,1452.3 556.8,1450.1 557,1448.7 557.1,1452.7 557.3,1453.2 557.4,1444.7 557.6,1454.8 557.7,1441.8 557.9,1439.1 558,1445.2 558.2,1439.8 558.3,1445.7 558.5,1437.1 558.6,1425.3 558.8,1436.5 558.9,1438.9 559.1,1438.1 559.2,1445.1 559.4,1440.7 559.5,1437.5 559.7,1438.7 559.8,1434.1 560,1426.7 560.1,1441.4 560.3,1436.4 560.4,1431.2 560.6,1438.3 560.7,1436.2 560.9,1427.2 561,1426 561.2,1426.9 561.3,1434.1 561.5,1424.2 561.6,1421.9 561.8,1428.8 561.9,1425.1 562.1,1426.4 562.2,1425.6 562.4,1426.6 562.5,1420.2 562.7,1426.9 562.8,1410.7 563,1416.6 563.1,1421.4 563.3,1405.3 563.4,1417.4 563.6,1431.8 563.7,1410.1 563.9,1411.8 564,1415.7 564.2,1414.4 564.3,1417.8 564.5,1420.9 564.6,1419.6 564.8,1396 564.9,1415.3 565.1,1409.6 565.2,1398.2 565.4,1413.7 565.5,1409 565.7,1410.7 565.8,1416.7 566,1403 566.1,1401.6 566.3,1406.4 566.4,1405.6 566.6,1399.4 566.7,1398.2 566.9,1389 567,1396.7 567.2,1395.3 567.3,1404.3 567.5,1408.5 567.6,1389.9 567.8,1403.6 567.9,1392.6 568.1,1396 568.2,1401.5 568.4,1393.5 568.5,1382.7 568.7,1384.5 568.8,1396.5 569,1394.5 569.1,1406.2 569.3,1399.8 569.4,1394.7 569.6,1390.2 569.7,1386.4 569.9,1392 570,1379.6 570.2,1394.1 570.3,1382.1 570.5,1393.6 570.6,1388.4 570.8,1383.9 570.9,1379.1 571.1,1389.1 571.2,1386.4 571.4,1384.6 571.5,1380.4 571.7,1371.3 571.8,1376.1 572,1382.9 572.1,1382.1 572.3,1370.3 572.4,1368.8 572.6,1370.6 572.7,1377.6 572.9,1383.7 573,1382 573.2,1375 573.3,1383.1 573.5,1376 573.6,1358.2 573.8,1370.9 573.9,1366.7 574.1,1379.8 574.2,1361.3 574.4,1374 574.5,1370.1 574.7,1368.5 574.8,1369 575,1372.9 575.1,1363.6 575.3,1352.1 575.4,1369.8 575.6,1360.2 575.7,1374.4 575.9,1363.1 576,1369.7 576.2,1353.4 576.3,1367.1 576.5,1358.4 576.6,1362 576.8,1371.5 576.9,1361.3 577.1,1361.2 577.2,1354.4 577.4,1361.5 577.5,1373.6 577.7,1367.1 577.8,1362.7 578,1352.8 578.1,1360.6 578.3,1350 578.4,1359 578.6,1353.3 578.7,1347.9 578.9,1354.1 579,1368.4 579.2,1345.4 579.3,1355.8 579.5,1347.2 579.6,1375 579.8,1352.9 579.9,1352.8 580.1,1355.7 580.2,1352.6 580.4,1359.4 580.5,1358.4 580.7,1346.7 580.8,1351.9 581,1343.8 581.1,1346.2 581.3,1354.8 581.4,1348.5 581.6,1350.9 581.7,1343.6 581.9,1333.9 582,1346.8 582.2,1350.9 582.3,1328.9 582.5,1348.4 582.6,1351.8 582.8,1348.7 582.9,1363.1 583.1,1332.4 583.2,1335.6 583.4,1335.4 583.5,1339.5 583.7,1345.4 583.8,1347.9 584,1349.7 584.1,1336.9 584.3,1335 584.4,1336 584.6,1350.9 584.7,1325.9 584.9,1348.1 585,1341.3 585.2,1341.5 585.3,1344.9 585.5,1359.7 585.6,1350.8 585.8,1345 585.9,1331.6 586.1,1343.3 586.2,1336.7 586.4,1349.6 586.5,1342.2 586.7,1328.6 586.8,1323.1 587,1335.3 587.1,1333.3 587.3,1336.7 587.4,1338.8 587.6,1336.7 587.7,1328.8 587.9,1342.9 588,1346.4 588.2,1331.6 588.3,1341.6 588.5,1332.9 588.6,1345.1 588.8,1333.7 588.9,1339.4 589.1,1340.2 589.2,1329.4 589.4,1340.5 589.5,1355.6 589.7,1345.4 589.8,1336.7 590,1320.3 590.1,1337.4 590.3,1344.2 590.4,1338.7 590.6,1324.5 590.7,1330.2 590.9,1328.9 591,1328.1 591.2,1319.6 591.3,1343.6 591.5,1320.8 591.6,1326.7 591.8,1340 591.9,1325.3 592.1,1319.4 592.2,1333.1 592.4,1322 592.5,1349.2 592.7,1343.5 592.8,1326 593,1329.4 593.1,1324.1 593.3,1325.3 593.4,1322 593.6,1342 593.7,1341.7 593.9,1318.8 594,1325.6 594.2,1328 594.3,1329.7 594.5,1313.8 594.6,1334 594.8,1324.1 594.9,1314.6 595.1,1332.2 595.2,1332.1 595.4,1329.6 595.5,1344.2 595.7,1316.6 595.8,1317.6 596,1309.9 596.1,1325.9 596.3,1321.6 596.4,1319.1 596.6,1310.2 596.7,1321.7 596.9,1320.1 597,1330.1 597.2,1320.9 597.3,1323.8 597.5,1314.3 597.6,1316.9 597.8,1333.4 597.9,1332.6 598.1,1319.8 598.2,1326.5 598.4,1320 598.5,1312.5 598.7,1333.6 598.8,1318.8 599,1330.8 599.1,1322.4 599.3,1323.1 599.4,1331.6 599.6,1342.6 599.7,1325.4 599.9,1332.6 600,1320.3 600.2,1320.9 600.3,1313.4 600.5,1316.8 600.6,1338.7 600.8,1337 600.9,1329.5 601.1,1322.6 601.2,1319.2 601.4,1327.4 601.5,1318.4 601.7,1329.6 601.8,1311.5 602,1325.1 602.1,1325.7 602.3,1325.4 602.4,1320.9 602.6,1307.9 602.7,1319.3 602.9,1312.5 603,1327.7 603.2,1315.3 603.3,1314.5 603.5,1312.5 603.6,1329.9 603.8,1329.6 603.9,1321.5 604.1,1316.9 604.2,1329.8 604.4,1321 604.5,1308.9 604.7,1340.5 604.8,1334.7 605,1325.6 605.1,1320 605.3,1324.7 605.4,1320.2 605.6,1312.6 605.7,1329.5 605.9,1333.1 606,1313.8 606.2,1341.1 606.3,1319.2 606.5,1315.6 606.6,1324.9 606.8,1332.7 606.9,1326.8 607.1,1333.4 607.2,1311.8 607.4,1324.1 607.5,1329.3 607.7,1326.6 607.8,1326.2 608,1322.1 608.1,1328.7 608.3,1338.7 608.4,1334.8 608.6,1342 608.7,1345.1 608.9,1331.5 609,1338.8 609.2,1335.9 609.3,1329.5 609.5,1327.5 609.6,1334.8 609.8,1340.6 609.9,1330.8 610.1,1343.6 610.2,1324.4 610.4,1341.3 610.5,1328.2 610.7,1346.8 610.8,1331.7 611,1335.1 611.1,1340.4 611.3,1330.6 611.4,1335.4 611.6,1339.2 611.7,1341.1 611.9,1336.6 612,1339.7 612.2,1347.8 612.3,1347.4 612.5,1343.2 612.6,1352 612.8,1358.7 612.9,1335.9 613.1,1347.8 613.2,1324.7 613.4,1342 613.5,1337.4 613.7,1338 613.8,1344.2 614,1347.8 614.1,1358.2 614.3,1354.4 614.4,1356.8 614.6,1357.9 614.7,1358.9 614.9,1345.1 615,1363.2 615.2,1334.3 615.3,1354.3 615.5,1344.6 615.6,1345.8 615.8,1345 615.9,1349.5 616.1,1350.6 616.2,1348.4 616.4,1342.5 616.5,1344.2 616.7,1348.7 616.8,1362.3 617,1357.8 617.1,1350.4 617.3,1341.9 617.4,1339.9 617.6,1356.6 617.7,1349.5 617.9,1357 618,1360.4 618.2,1352.5 618.3,1348.9 618.5,1351.8 618.6,1372.7 618.8,1345.2 618.9,1371.4 619.1,1346.6 619.2,1344 619.4,1335.4 619.5,1367.4 619.7,1360.3 619.8,1355.5 620,1353.3 620.1,1360.8 620.3,1348.6 620.4,1361.1 620.6,1357.8 620.7,1358.6 620.9,1352.8 621,1355.1 621.2,1371.7 621.3,1353.2 621.5,1367.9 621.6,1367.6 621.8,1366.3 621.9,1362.7 622.1,1356.6 622.2,1357 622.4,1373.5 622.5,1363 622.7,1354.5 622.8,1355.9 623,1362 623.1,1369.5 623.3,1359.6 623.4,1366.5 623.6,1375.6 623.7,1384.6 623.9,1362 624,1357.1 624.2,1351.6 624.3,1356.9 624.5,1363.9 624.6,1368.7 624.8,1366.8 624.9,1363.6 625.1,1378 625.2,1368.5 625.4,1372.8 625.5,1365.2 625.7,1366.2 625.8,1387.4 626,1383.7 626.1,1372.5 626.3,1368.8 626.4,1379.5 626.6,1372.8 626.7,1374.2 626.9,1378.5 627,1379.6 627.2,1372.8 627.3,1367.2 627.5,1380.6 627.6,1372.6 627.8,1375.4 627.9,1381.4 628.1,1382 628.2,1385.2 628.4,1377.5 628.5,1374.8 628.7,1381.6 628.8,1392.9 629,1379.7 629.1,1381.7 629.3,1384 629.4,1373.5 629.6,1387.8 629.7,1384.5 629.9,1381.6 630,1372.3 630.2,1391 630.3,1382.1 630.5,1397.1 630.6,1389.1 630.8,1386.7 630.9,1394.3 631.1,1381.4 631.2,1383.8 631.4,1391.3 631.5,1385.4 631.7,1391.5 631.8,1388.7 632,1388.6 632.1,1377.7 632.3,1393.9 632.4,1383.9 632.6,1380 632.7,1387.6 632.9,1384.2 633,1374.5 633.2,1396.5 633.3,1397 633.5,1385.3 633.6,1389.4 633.8,1379.4 633.9,1394 634.1,1389.8 634.2,1386.2 634.4,1405.6 634.5,1381.3 634.7,1390.9 634.8,1397.7 635,1396 635.1,1395.5 635.3,1383.1 635.4,1398.5 635.6,1383.7 635.7,1397 635.9,1390.2 636,1396 636.2,1393.9 636.3,1387.3 636.5,1394.8 636.6,1398.5 636.8,1388 636.9,1381.1 637.1,1396.4 637.2,1397.1 637.4,1399.3 637.5,1405 637.7,1401.1 637.8,1393.8 638,1400.8 638.1,1394.7 638.3,1395.8 638.4,1393.1 638.6,1387.4 638.7,1398.2 638.9,1407.2 639,1396.7 639.2,1394.7 639.3,1386.8 639.5,1398.5 639.6,1403.6 639.8,1405.4 639.9,1395.6 640.1,1401.3 640.2,1393.3 640.4,1391.3 640.5,1400.3 640.7,1396.7 640.8,1400.4 641,1396.9 641.1,1410.1 641.3,1407 641.4,1390.8 641.6,1411.5 641.7,1408.7 641.9,1398.4 642,1408.6 642.2,1405.3 642.3,1408.6 642.5,1393.1 642.6,1403.7 642.8,1392.6 642.9,1401.8 643.1,1414.1 643.2,1402.7 643.4,1415.8 643.5,1397.7 643.7,1418.5 643.8,1397.4 644,1400.8 644.1,1394.8 644.3,1401.8 644.4,1403 644.6,1407.4 644.7,1409.2 644.9,1410.1 645,1407.6 645.2,1407.1 645.3,1390.5 645.5,1403.1 645.6,1411.8 645.8,1397.4 645.9,1405.7 646.1,1411 646.2,1405.8 646.4,1411.1 646.5,1403.4 646.7,1409 646.8,1400.3 647,1415.2 647.1,1406 647.3,1416 647.4,1395.8 647.6,1415.3 647.7,1395.1 647.9,1409.6 648,1401.5 648.2,1413.5 648.3,1410.4 648.5,1399.5 648.6,1417.2 648.8,1404.9 648.9,1419.2 649.1,1395.4 649.2,1402.2 649.4,1421 649.5,1411.6 649.7,1402.5 649.8,1394.9 650,1410.1 650.1,1421.7 650.3,1401.8 650.4,1415.1 650.6,1410.2 650.7,1413.4 650.9,1419.6 651,1425.2 651.2,1400.7 651.3,1410 651.5,1410.9 651.6,1415.1 651.8,1409 651.9,1418.5 652.1,1419.1 652.2,1420.8 652.4,1421.3 652.5,1410.3 652.7,1422 652.8,1400.3 653,1413.3 653.1,1415.6 653.3,1414.4 653.4,1402.8 653.6,1427.9 653.7,1412.9 653.9,1401.7 654,1406.2 654.2,1411.2 654.3,1415.9 654.5,1398.4 654.6,1416.4 654.8,1401.3 654.9,1419.8 655.1,1423.9 655.2,1413.8 655.4,1416.8 655.5,1429.7 655.7,1414.4 655.8,1398.5 656,1415.4 656.1,1411.7 656.3,1414.7 656.4,1414.8 656.6,1413.2 656.7,1413.8 656.9,1414.9 657,1412.7 657.2,1412.4 657.3,1414.2 657.5,1424.9 657.6,1420.9 657.8,1423 657.9,1417.2 658.1,1405.9 658.2,1414 658.4,1418.6 658.5,1403.1 658.7,1410.8 658.8,1420.4 659,1413.1 659.1,1409.7 659.3,1410.1 659.4,1420.1 659.6,1414.9 659.7,1420.7 659.9,1425.1 660,1413.3 660.2,1429.2 660.3,1417.8 660.5,1410.4 660.6,1413 660.8,1417.2 660.9,1414.6 661.1,1416.1 661.2,1408.8 661.4,1413.8 661.5,1412.5 661.7,1421.5 661.8,1418.2 662,1420.6 662.1,1410.9 662.3,1412.1 662.4,1416.7 662.6,1412.1 662.7,1417 662.9,1418.6 663,1414 663.2,1415.9 663.3,1403.3 663.5,1425.7 663.6,1411.7 663.8,1423.6 663.9,1413 664.1,1424.1 664.2,1428.7 664.4,1408.4 664.5,1419.3 664.7,1408.2 664.8,1422.9 665,1423.6 665.1,1410.9 665.3,1422.5 665.4,1418.4 665.6,1424.4 665.7,1420.4 665.9,1432.6 666,1421.6 666.2,1420.2 666.3,1413.6 666.5,1413.4 666.6,1420.1 666.8,1419.1 666.9,1420 667.1,1406.5 667.2,1424.2 667.4,1414.7 667.5,1419.2 667.7,1427.8 667.8,1416.6 668,1412.9 668.1,1418.2 668.3,1427.3 668.4,1416.7 668.6,1416.5 668.7,1423.1 668.9,1415 669,1430.5 669.2,1428.2 669.3,1422.9 669.5,1420.9 669.6,1415.5 669.8,1415.2 669.9,1425.7 670.1,1414.9 670.2,1411.6 670.4,1416.2 670.5,1422.1 670.7,1423 670.8,1426.5 671,1433.5 671.1,1426.5 671.3,1430.6 671.4,1420.8 671.6,1421.3 671.7,1419.8 671.9,1420.2 672,1419.3 672.2,1425.5 672.3,1424.5 672.5,1419.9 672.6,1413.8 672.8,1433.4 672.9,1429.5 673.1,1424.6 673.2,1429.3 673.4,1426.5 673.5,1423.2 673.7,1428.2 673.8,1418.6 674,1419.3 674.1,1419 674.3,1420.8 674.4,1419 674.6,1439.8 674.7,1418.9 674.9,1429.4 675,1410.9 675.2,1428.1 675.3,1421.9 675.5,1432.9 675.6,1431.1 675.8,1422.8 675.9,1421.8 676.1,1414.9 676.2,1419.1 676.4,1416.6 676.5,1412.5 676.7,1433.5 676.8,1415.5 677,1429.3 677.1,1422.6 677.3,1425.1 677.4,1419.2 677.6,1419.6 677.7,1421.3 677.9,1427.4 678,1435.9 678.2,1424.4 678.3,1425.1 678.5,1424.6 678.6,1421.6 678.8,1413.4 678.9,1418.4 679.1,1422.4 679.2,1428.3 679.4,1432.6 679.5,1416.2 679.7,1421.1 679.8,1425.1 680,1434.6 680.1,1427.5 680.3,1421.7 680.4,1422.9 680.6,1428.2 680.7,1424.4 680.9,1427.1 681,1428.1 681.2,1417.5 681.3,1421.4 681.5,1423.9 681.6,1428.6 681.8,1417.8 681.9,1434.1 682.1,1424.6 682.2,1432.6 682.4,1438.8 682.5,1429.1 682.7,1438.8 682.8,1428.4 683,1435.1 683.1,1426.9 683.3,1429.9 683.4,1436.3 683.6,1429.7 683.7,1431.8 683.9,1418.4 684,1418.8 684.2,1422.6 684.3,1422 684.5,1413 684.6,1425.7 684.8,1426.2 684.9,1417.8 685.1,1423.5 685.2,1432.7 685.4,1417.9 685.5,1426.2 685.7,1418.8 685.8,1418 686,1429.6 686.1,1427.2 686.3,1424 686.4,1435 686.6,1433.3 686.7,1426.8 686.9,1427.8 687,1433.2 687.2,1428.3 687.3,1425.6 687.5,1432.1 687.6,1432.8 687.8,1429.1 687.9,1434.6 688.1,1433.5 688.2,1430.7 688.4,1440.1 688.5,1432 688.7,1427.3 688.8,1434.8 689,1422 689.1,1426.8 689.3,1420.9 689.4,1429.2 689.6,1425.1 689.7,1429.3 689.9,1435.3 690,1425.4 690.2,1433.2 690.3,1425.7 690.5,1435 690.6,1429 690.8,1430.8 690.9,1421.8 691.1,1431 691.2,1422.6 691.4,1426.1 691.5,1420.2 691.7,1431.6 691.8,1423.5 692,1423.8 692.1,1425.2 692.3,1427.7 692.4,1420.9 692.6,1437.4 692.7,1424.9 692.9,1432.7 693,1426.3 693.2,1424.4 693.3,1427.4 693.5,1431.1 693.6,1435.1 693.8,1438.2 693.9,1433.9 694.1,1427.1 694.2,1438.6 694.4,1414.8 694.5,1430.3 694.7,1434.5 694.8,1423.9 695,1423.6 695.1,1427.6 695.3,1434.5 695.4,1429.7 695.6,1423.3 695.7,1425.7 695.9,1441.9 696,1425.6 696.2,1420.1 696.3,1434.5 696.5,1441.5 696.6,1435 696.8,1429.8 696.9,1431.6 697.1,1431.7 697.2,1446.1 697.4,1434.8 697.5,1435 697.7,1431.3 697.8,1424.2 698,1435.6 698.1,1424.5 698.3,1423.1 698.4,1425.2 698.6,1434.2 698.7,1423.4 698.9,1433.7 699,1432.6 699.2,1440.3 699.3,1437.1 699.5,1436.7 699.6,1423.4 699.8,1429.4 699.9,1429.7 700.1,1433.6 700.2,1434 700.4,1437.3 700.5,1433.7 700.7,1423.6 700.8,1432.9 701,1419.7 701.1,1428.3 701.3,1433.7 701.4,1424.1 701.6,1431.8 701.7,1425.8 701.9,1434.7 702,1423.2 702.2,1429.3 702.3,1430.4 702.5,1426.1 702.6,1434.8 702.8,1444 702.9,1436.6 703.1,1426.4 703.2,1422.7 703.4,1439.7 703.5,1428.8 703.7,1428.4 703.8,1439.8 704,1442 704.1,1421.6 704.3,1429.6 704.4,1433.9 704.6,1428.9 704.7,1441.7 704.9,1429.9 705,1432.8 705.2,1434.1 705.3,1425.7 705.5,1432.2 705.6,1432.1 705.8,1435 705.9,1437.1 706.1,1433.1 706.2,1423.8 706.4,1444.1 706.5,1438.9 706.7,1436.2 706.8,1428.9 707,1436.7 707.1,1429.2 707.3,1445.3 707.4,1439.1 707.6,1428.7 707.7,1446.9 707.9,1431.2 708,1425 708.2,1428.8 708.3,1428.4 708.5,1437.9 708.6,1436.3 708.8,1426.9 708.9,1430.9 709.1,1422.4 709.2,1430.3 709.4,1431.8 709.5,1432.6 709.7,1424 709.8,1426.7 710,1435.5 710.1,1429.1 710.3,1437.6 710.4,1427.1 710.6,1434 710.7,1424 710.9,1423.6 711,1427.6 711.2,1441.7 711.3,1435.6 711.5,1430.6 711.6,1430.7 711.8,1430.1 711.9,1426.2 712.1,1436.4 712.2,1439.6 712.4,1440.5 712.5,1425.8 712.7,1427.1 712.8,1435.2 713,1432.8 713.1,1424.8 713.3,1434.5 713.4,1428.3 713.6,1427.7 713.7,1431 713.9,1427.6 714,1425.8 714.2,1434.8 714.3,1442.5 714.5,1433.4 714.6,1441.5 714.8,1442.7 714.9,1428.4 715.1,1438.6 715.2,1435.4 715.4,1431.7 715.5,1438.1 715.7,1429 715.8,1421.2 716,1437.7 716.1,1432.8 716.3,1447.2 716.4,1438 716.6,1422.5 716.7,1433.2 716.9,1435.4 717,1429.8 717.2,1434.5 717.3,1423.9 717.5,1433.4 717.6,1436.5 717.8,1434.4 717.9,1447.2 718.1,1430 718.2,1429.4 718.4,1443.8 718.5,1447.2 718.7,1436.3 718.8,1431.5 719,1423.6 719.1,1438 719.3,1437.6 719.4,1433.1 719.6,1425.1 719.7,1438.4 719.9,1435.1 720,1437.3 720.2,1427.3 720.3,1423.8 720.5,1420.2 720.6,1422.9 720.8,1427.2 720.9,1436 721.1,1429.6 721.2,1425 721.4,1427.6 721.5,1437.6 721.7,1434.1 721.8,1435 722,1426.6 722.1,1430.8 722.3,1434.9 722.4,1428.2 722.6,1429.9 722.7,1436.2 722.9,1425.9 723,1431.8 723.2,1433.1 723.3,1438.2 723.5,1431.6 723.6,1429.3 723.8,1445.8 723.9,1436.7 724.1,1434.4 724.2,1429.5 724.4,1440.2 724.5,1420.7 724.7,1434.2 724.8,1438 725,1433.6 725.1,1427.6 725.3,1432.8 725.4,1437.1 725.6,1431.3 725.7,1430.9 725.9,1431.9 726,1438.5 726.2,1430.7 726.3,1416.8 726.5,1433.8 726.6,1431.4 726.8,1445.2 726.9,1432.6 727.1,1430.7 727.2,1435.4 727.4,1433.7 727.5,1438.8 727.7,1427.9 727.8,1432.6 728,1440 728.1,1434.9 728.3,1431.1 728.4,1431.6 728.6,1417.7 728.7,1433.4 728.9,1432.2 729,1437.9 729.2,1429.3 729.3,1437.9 729.5,1429.9 729.6,1436.8 729.8,1437.8 729.9,1437.7 730.1,1420.7 730.2,1439.6 730.4,1426.5 730.5,1432.3 730.7,1440.2 730.8,1434.4 731,1437.1 731.1,1430.5 731.3,1425.7 731.4,1420.6 731.6,1435.7 731.7,1435.9 731.9,1436.5 732,1432.4 732.2,1437.1 732.3,1421.8 732.5,1432.9 732.6,1433.7 732.8,1447.2 732.9,1431.3 733.1,1438.4 733.2,1418.1 733.4,1428.5 733.5,1434.5 733.7,1429.1 733.8,1420.7 734,1430 734.1,1427.5 734.3,1443.4 734.4,1437 734.6,1439.8 734.7,1429.8 734.9,1441.3 735,1442.9 735.2,1435.1 735.3,1433.6 735.5,1429.1 735.6,1423 735.8,1424.9 735.9,1431.7 736.1,1431.3 736.2,1443.8 736.4,1425.4 736.5,1437.7 736.7,1435.1 736.8,1433 737,1438.7 737.1,1434.3 737.3,1427 737.4,1424.5 737.6,1421.2 737.7,1427.4 737.9,1435.8 738,1429.9 738.2,1439 738.3,1447.4 738.5,1429.8 738.6,1435.8 738.8,1435.8 738.9,1439.5 739.1,1421.6 739.2,1432.5 739.4,1425.2 739.5,1432.3 739.7,1431.4 739.8,1431.8 740,1424 740.1,1444.4 740.3,1434.8 740.4,1437.1 740.6,1430.5 740.7,1436.6 740.9,1433.1 741,1436.9 741.2,1438.7 741.3,1430.8 741.5,1427.2 741.6,1431.5 741.8,1441.7 741.9,1438.2 742.1,1428.9 742.2,1435.8 742.4,1428.7 742.5,1433.2 742.7,1424.6 742.8,1439.5 743,1432.2 743.1,1428.3 743.3,1430.5 743.4,1441.4 743.6,1438.6 743.7,1436.3 743.9,1440.6 744,1436.6 744.2,1436.9 744.3,1436.1 744.5,1436.1 744.6,1438.5 744.8,1429 744.9,1427.6 745.1,1434.6 745.2,1425.9 745.4,1426.3 745.5,1435.9 745.7,1423 745.8,1424.6 746,1428.2 746.1,1435.6 746.3,1431.4 746.4,1436.6 746.6,1428.9 746.7,1435.2 746.9,1440.4 747,1440.5 747.2,1437.1 747.3,1439.4 747.5,1430.8 747.6,1429.1 747.8,1432.8 747.9,1436 748.1,1435.4 748.2,1437.1 748.4,1439 748.5,1431.1 748.7,1437.5 748.8,1430.8 749,1440.2 749.1,1441.5 749.3,1432.3 749.4,1418.3 749.6,1433.9 749.7,1439.1 749.9,1425.5 750,1434 750.2,1436.3 750.3,1441.4 750.5,1429.9 750.6,1437.1 750.8,1439.6 750.9,1436.4 751.1,1427.9 751.2,1429.7 751.4,1441.3 751.5,1446.5 751.7,1425.3 751.8,1434.2 752,1422.4 752.1,1432.4 752.3,1431.6 752.4,1434.9 752.6,1434.5 752.7,1433.3 752.9,1434.5 753,1425.3 753.2,1436 753.3,1437 753.5,1427.9 753.6,1440.5 753.8,1436.7 753.9,1434.7 754.1,1444.2 754.2,1432.6 754.4,1435.9 754.5,1430.3 754.7,1433.8 754.8,1442.8 755,1444 755.1,1440.3 755.3,1437.3 755.4,1436.7 755.6,1437.2 755.7,1432.4 755.9,1443.1 756,1439.3 756.2,1426.9 756.3,1436 756.5,1435.8 756.6,1431.3 756.8,1443.2 756.9,1433.6 757.1,1436.3 757.2,1440.1 757.4,1434.4 757.5,1427 757.7,1433.9 757.8,1436.6 758,1426.2 758.1,1432.2 758.3,1423.9 758.4,1427.9 758.6,1434.7 758.7,1439.3 758.9,1437.5 759,1429.1 759.2,1443.2 759.3,1421.6 759.5,1450.4 759.6,1433.3 759.8,1429.6 759.9,1441.5 760.1,1449.5 760.2,1439.8 760.4,1439.3 760.5,1431.7 760.7,1437.2 760.8,1435.7 761,1438 761.1,1428.4 761.3,1440.1 761.4,1438.4 761.6,1435.9 761.7,1421.7 761.9,1451.5 762,1450.9 762.2,1441.6 762.3,1443.6 762.5,1438.6 762.6,1433.6 762.8,1434.2 762.9,1439.7 763.1,1442.5 763.2,1439.5 763.4,1442.9 763.5,1426.7 763.7,1431.2 763.8,1439.3 764,1434.4 764.1,1441.5 764.3,1438.9 764.4,1437.9 764.6,1445.7 764.7,1438.7 764.9,1442.7 765,1436.2 765.2,1445.4 765.3,1442.9 765.5,1436.1 765.6,1430.5 765.8,1436.3 765.9,1437.6 766.1,1448.1 766.2,1443.1 766.4,1438.9 766.5,1440.3 766.7,1439.5 766.8,1433.4 767,1432.2 767.1,1443.3 767.3,1445.1 767.4,1449.9 767.6,1439.9 767.7,1436.9 767.9,1433.2 768,1444.9 768.2,1443.4 768.3,1445.7 768.5,1427.9 768.6,1431.1 768.8,1443.5 768.9,1439.5 769.1,1445.5 769.2,1443.4 769.4,1428.4 769.5,1442.8 769.7,1442.5 769.8,1441.4 770,1449.4 770.1,1450.9 770.3,1453.6 770.4,1435.7 770.6,1446.2 770.7,1445.3 770.9,1436.5 771,1448.3 771.2,1444.6 771.3,1446.7 771.5,1439.8 771.6,1443.6 771.8,1452.2 771.9,1436.4 772.1,1434.7 772.2,1440.4 772.4,1444.1 772.5,1443.1 772.7,1449.3 772.8,1444.6 773,1436.5 773.1,1441 773.3,1450.7 773.4,1450.8 773.6,1444.6 773.7,1435.6 773.9,1440.4 774,1443.1 774.2,1438 774.3,1447.4 774.5,1441 774.6,1445 774.8,1449.8 774.9,1440 775.1,1450.7 775.2,1443.6 775.4,1437.4 775.5,1450.7 775.7,1436 775.8,1435.4 776,1438.8 776.1,1444.8 776.3,1444.9 776.4,1444.9 776.6,1443.4 776.7,1448.8 776.9,1441.8 777,1435.1 777.2,1451.6 777.3,1434.2 777.5,1449.9 777.6,1448.7 777.8,1446.3 777.9,1444.2 778.1,1442.8 778.2,1434.4 778.4,1440.7 778.5,1436.9 778.7,1446.6 778.8,1441.2 779,1454.1 779.1,1450.7 779.3,1430.4 779.4,1444.7 779.6,1440.6 779.7,1439.3 779.9,1440.3 780,1452.3 780.2,1443.4 780.3,1431.4 780.5,1438.5 780.6,1446.8 780.8,1444.4 780.9,1447.4 781.1,1443.6 781.2,1444.1 781.4,1444.7 781.5,1449 781.7,1454.9 781.8,1442.1 782,1443.6 782.1,1441.8 782.3,1438.4 782.4,1446.1 782.6,1438 782.7,1445.7 782.9,1439.2 783,1441 783.2,1449.3 783.3,1439.2 783.5,1442 783.6,1444.2 783.8,1445.4 783.9,1444.6 784.1,1449.1 784.2,1452 784.4,1445.2 784.5,1440.3 784.7,1445.9 784.8,1440.9 785,1453.8 785.1,1435.8 785.3,1443.8 785.4,1446.8 785.6,1445 785.7,1443.3 785.9,1444.9 786,1443.3 786.2,1452.7 786.3,1442.1 786.5,1446.5 786.6,1451.8 786.8,1440.9 786.9,1445.5 787.1,1436.8 787.2,1449 787.4,1438.1 787.5,1442.5 787.7,1450 787.8,1440.6 788,1442.7 788.1,1440.4 788.3,1449 788.4,1459.6 788.6,1448.4 788.7,1445.3 788.9,1440.9 789,1439.4 789.2,1439 789.3,1442.8 789.5,1445.2 789.6,1448.6 789.8,1443.4 789.9,1448.8 790.1,1444.9 790.2,1448.3 790.4,1442.3 790.5,1448.5 790.7,1450 790.8,1449.5 791,1443.4 791.1,1449.5 791.3,1439.7 791.4,1452.4 791.6,1445.2 791.7,1448.7 791.9,1453.6 792,1447.4 792.2,1444.6 792.3,1443.6 792.5,1448.8 792.6,1453.3 792.8,1451.3 792.9,1450.5 793.1,1437.2 793.2,1454.4 793.4,1448.2 793.5,1435.3 793.7,1453.9 793.8,1438.7 794,1439.9 794.1,1443.2 794.3,1445 794.4,1457.6 794.6,1448.7 794.7,1449.4 794.9,1441.4 795,1441.8 795.2,1454.9 795.3,1462 795.5,1452.9 795.6,1437.8 795.8,1448 795.9,1448.6 796.1,1444.9 796.2,1450.3 796.4,1447.1 796.5,1453.6 796.7,1453.4 796.8,1446.2 797,1448 797.1,1445.3 797.3,1448.9 797.4,1444 797.6,1447.1 797.7,1447.6 797.9,1443.6 798,1449.1 798.2,1456.1 798.3,1454.5 798.5,1451.3 798.6,1444.3 798.8,1453.2 798.9,1451.8 799.1,1443.4 799.2,1442.2 799.4,1458 799.5,1456.8 799.7,1451.5 799.8,1450.1 800,1453.9 800.1,1458.9 800.3,1439.2 800.4,1449.1 800.6,1443.2 800.7,1446.8 800.9,1448 801,1460.7 801.2,1449.5 801.3,1450.5 801.5,1450.7 801.6,1455.7 801.8,1458.4 801.9,1451.5 802.1,1448.4 802.2,1446.5 802.4,1451.1 802.5,1461.6 802.7,1454.3 802.8,1455.2 803,1456.4 803.1,1459.2 803.3,1449.6 803.4,1456.7 803.6,1452.6 803.7,1450.2 803.9,1457.6 804,1455 804.2,1457 804.3,1447.5 804.5,1457.7 804.6,1462.1 804.8,1448.9 804.9,1467 805.1,1446.4 805.2,1451.6 805.4,1452 805.5,1451.9 805.7,1453.8 805.8,1452 806,1467.9 806.1,1456.6 806.3,1461.3 806.4,1465.4 806.6,1462 806.7,1457.5 806.9,1454.5 807,1460.2 807.2,1461 807.3,1448.5 807.5,1452.8 807.6,1461 807.8,1461 807.9,1456 808.1,1452.3 808.2,1459.7 808.4,1457.7 808.5,1452.3 808.7,1465.3 808.8,1456.8 809,1458.8 809.1,1463 809.3,1456.7 809.4,1453.7 809.6,1459.7 809.7,1461 809.9,1451.4 810,1457.4 810.2,1462.9 810.3,1457 810.5,1454.9 810.6,1459.5 810.8,1468.2 810.9,1461.8 811.1,1464.6 811.2,1451 811.4,1463 811.5,1450.1 811.7,1459.1 811.8,1458.9 812,1458.1 812.1,1451.2 812.3,1465 812.4,1461.8 812.6,1461.3 812.7,1458.1 812.9,1463 813,1459.4 813.2,1455.7 813.3,1462.3 813.5,1453.7 813.6,1460.6 813.8,1461.3 813.9,1457.3 814.1,1462.3 814.2,1458.4 814.4,1463.9 814.5,1467 814.7,1459.4 814.8,1457.5 815,1461.6 815.1,1457 815.3,1463.6 815.4,1450.8 815.6,1462.9 815.7,1459.1 815.9,1462 816,1462.6 816.2,1466.3 816.3,1455.1 816.5,1462.9 816.6,1465.2 816.8,1456.6 816.9,1457.1 817.1,1465.7 817.2,1459 817.4,1456.7 817.5,1461.4 817.7,1468.8 817.8,1462.9 818,1466.3 818.1,1468.8 818.3,1461.7 818.4,1459.6 818.6,1474.2 818.7,1465 818.9,1467.4 819,1461.3 819.2,1466.2 819.3,1470.2 819.5,1456.6 819.6,1464.5 819.8,1457.1 819.9,1462.7 820.1,1468.3 820.2,1470.9 820.4,1471.3 820.5,1465.6 820.7,1463.5 820.8,1457.7 821,1470.3 821.1,1464.1 821.3,1460.8 821.4,1457.8 821.6,1459.9 821.7,1461.7 821.9,1461.4 822,1471.2 822.2,1464.4 822.3,1471 822.5,1454.6 822.6,1460.3 822.8,1465.9 822.9,1466.8 823.1,1466.7 823.2,1462.5 823.4,1467 823.5,1466.2 823.7,1469.9 823.8,1462.9 824,1462.5 824.1,1470.8 824.3,1462.7 824.4,1466.7 824.6,1461.7 824.7,1461.2 824.9,1468.6 825,1463.3 825.2,1461 825.3,1472.2 825.5,1466.3 825.6,1471.6 825.8,1463.7 825.9,1474.8 826.1,1462.5 826.2,1468.5 826.4,1463.7 826.5,1457.1 826.7,1467.2 826.8,1471.8 827,1472.7 827.1,1463.8 827.3,1473.7 827.4,1474.6 827.6,1465.9 827.7,1461.4 827.9,1466.2 828,1458.7 828.2,1461.9 828.3,1464.1 828.5,1465.8 828.6,1466.2 828.8,1466 828.9,1463.2 829.1,1467.6 829.2,1475.5 829.4,1476.7 829.5,1473.6 829.7,1468.6 829.8,1476.2 830,1470 830.1,1467.7 830.3,1463.6 830.4,1473.6 830.6,1473.7 830.7,1475.4 830.9,1475.2 831,1471.5 831.2,1462.6 831.3,1481.9 831.5,1469.9 831.6,1468.8 831.8,1463.6 831.9,1464.1 832.1,1468.7 832.2,1478.4 832.4,1474.4 832.5,1472.3 832.7,1474.4 832.8,1467.2 833,1473.3 833.1,1476.3 833.3,1471.2 833.4,1467.2 833.6,1473.8 833.7,1476.1 833.9,1475.1 834,1471 834.2,1470 834.3,1474.6 834.5,1475.1 834.6,1468 834.8,1461.2 834.9,1459.3 835.1,1460.5 835.2,1474.7 835.4,1470.9 835.5,1472.1 835.7,1474 835.8,1474.4 836,1472 836.1,1469.7 836.3,1465.8 836.4,1465.8 836.6,1473.4 836.7,1473.5 836.9,1467.9 837,1469.1 837.2,1474.6 837.3,1472.1 837.5,1480.9 837.6,1471.2 837.8,1478.2 837.9,1471.3 838.1,1485 838.2,1472.8 838.4,1478.7 838.5,1475.6 838.7,1472.7 838.8,1476.4 839,1465.8 839.1,1468.9 839.3,1475.3 839.4,1465.6 839.6,1473.8 839.7,1472.8 839.9,1465.6 840,1465 840.2,1473.7 840.3,1470.4 840.5,1474.4 840.6,1469.4 840.8,1475.3 840.9,1468.8 841.1,1481.9 841.2,1472.6 841.4,1469 841.5,1473.6 841.7,1482.3 841.8,1473.7 842,1479.8 842.1,1477.1 842.3,1474.6 842.4,1467 842.6,1476 842.7,1480.7 842.9,1467.3 843,1476.8 843.2,1478.6 843.3,1476.9 843.5,1477.1 843.6,1470 843.8,1485.8 843.9,1480.2 844.1,1472.9 844.2,1475.8 844.4,1477.1 844.5,1485.5 844.7,1472.8 844.8,1479.3 845,1470.6 845.1,1487.5 845.3,1475.6 845.4,1474.7 845.6,1469.9 845.7,1476.9 845.9,1480.3 846,1476.4 846.2,1479.1 846.3,1477 846.5,1486.8 846.6,1477.8 846.8,1477.1 846.9,1477 847.1,1477.8 847.2,1469.7 847.4,1469 847.5,1473.1 847.7,1477.5 847.8,1471.6 848,1477.3 848.1,1479.6 848.3,1480.5 848.4,1478.5 848.6,1471.4 848.7,1472.2 848.9,1472.7 849,1476.6 849.2,1480.9 849.3,1477 849.5,1478.6 849.6,1481.3 849.8,1473.9 849.9,1485.6 850.1,1484.8 850.2,1484.1 850.4,1481.3 850.5,1479.4 850.7,1475.5 850.8,1475.1 851,1481 851.1,1481.6 851.3,1478.7 851.4,1474.5 851.6,1477.3 851.7,1476.3 851.9,1475.2 852,1477.6 852.2,1479.2 852.3,1488.4 852.5,1481.7 852.6,1485.1 852.8,1483.1 852.9,1481.1 853.1,1476.8 853.2,1475.3 853.4,1483.6 853.5,1477.6 853.7,1477.2 853.8,1488.3 854,1478.5 854.1,1480.2 854.3,1488 854.4,1479.4 854.6,1477 854.7,1476.7 854.9,1482.2 855,1476.8 855.2,1475.6 855.3,1477.4 855.5,1486.6 855.6,1476.5 855.8,1482.8 855.9,1482.9 856.1,1475 856.2,1474.3 856.4,1474 856.5,1493.1 856.7,1474.8 856.8,1490.3 857,1478.6 857.1,1486.6 857.3,1480 857.4,1476.7 857.6,1477.3 857.7,1482.9 857.9,1493.3 858,1484.5 858.2,1484.4 858.3,1481.9 858.5,1478 858.6,1485.6 858.8,1478.9 858.9,1486.1 859.1,1485 859.2,1480.7 859.4,1479.1 859.5,1478.4 859.7,1485 859.8,1479.7 860,1487.4 860.1,1473.4 860.3,1479.8 860.4,1482.5 860.6,1486.7 860.7,1485.5 860.9,1482.3 861,1486.2 861.2,1482.9 861.3,1487.3 861.5,1486.5 861.6,1479 861.8,1487.6 861.9,1485.4 862.1,1487.7 862.2,1481.3 862.4,1488 862.5,1485.4 862.7,1483.8 862.8,1485.5 863,1481.7 863.1,1483.2 863.3,1483.6 863.4,1486.8 863.6,1485.6 863.7,1488.2 863.9,1487.9 864,1489 864.2,1478.6 864.3,1481.2 864.5,1489.8 864.6,1485.6 864.8,1481.6 864.9,1486 865.1,1478.3 865.2,1490.5 865.4,1485 865.5,1494.8 865.7,1480.5 865.8,1488.7 866,1485.1 866.1,1481.7 866.3,1486.6 866.4,1488.1 866.6,1489.1 866.7,1480.4 866.9,1479.7 867,1488.6 867.2,1480.7 867.3,1489.2 867.5,1496.4 867.6,1489.8 867.8,1490.5 867.9,1486 868.1,1485.7 868.2,1490.8 868.4,1490.9 868.5,1488.6 868.7,1498.2 868.8,1485.7 869,1484.1 869.1,1488.1 869.3,1494.4 869.4,1489.3 869.6,1492.2 869.7,1491.5 869.9,1482.1 870,1490.1 870.2,1492 870.3,1486.6 870.5,1495.3 870.6,1482.4 870.8,1487.9 870.9,1488.6 871.1,1488.3 871.2,1495.8 871.4,1487.6 871.5,1488 871.7,1489.9 871.8,1493.6 872,1490.7 872.1,1484.5 872.3,1493.6 872.4,1488.9 872.6,1487 872.7,1495.8 872.9,1492.7 873,1489.7 873.2,1485.8 873.3,1489.8 873.5,1493.7 873.6,1491.5 873.8,1498.6 873.9,1489.5 874.1,1492 874.2,1492.8 874.4,1491.6 874.5,1491.2 874.7,1496.2 874.8,1483.6 875,1496.6 875.1,1491.9 875.3,1492.3 875.4,1499.3 875.6,1493.8 875.7,1496.9 875.9,1498.6 876,1500.5 876.2,1493.6 876.3,1489.5 876.5,1490.3 876.6,1494 876.8,1492.1 876.9,1502.7 877.1,1492.6 877.2,1496.3 877.4,1491.5 877.5,1491.3 877.7,1494.1 877.8,1495.4 878,1495.5 878.1,1487.4 878.3,1496.1 878.4,1493.3 878.6,1491.3 878.7,1489.4 878.9,1500.7 879,1494.6 879.2,1499.9 879.3,1496.7 879.5,1492.5 879.6,1502.5 879.8,1494.9 879.9,1496.1 880.1,1492.4 880.2,1495.8 880.4,1495 880.5,1497.1 880.7,1491.7 880.8,1493.3 881,1495.1 881.1,1506.2 881.3,1493.8 881.4,1499.1 881.6,1494.1 881.7,1495.3 881.9,1494.5 882,1498.3 882.2,1496.1 882.3,1497.7 882.5,1503 882.6,1495.7 882.8,1500.4 882.9,1497.2 883.1,1493.7 883.2,1492.7 883.4,1495.7 883.5,1496.7 883.7,1497.9 883.8,1501.1 884,1496.2 884.1,1496.8 884.3,1500.4 884.4,1496.2 884.6,1502.8 884.7,1496.9 884.9,1501 885,1501.8 885.2,1501.8 885.3,1500.7 885.5,1502.5 885.6,1498.7 885.8,1498.5 885.9,1488.8 886.1,1505.6 886.2,1500.7 886.4,1496.3 886.5,1493.8 886.7,1499.4 886.8,1496 887,1501 887.1,1496.7 887.3,1501.8 887.4,1504.7 887.6,1499.4 887.7,1500.9 887.9,1500.2 888,1502 888.2,1506 888.3,1502 888.5,1502.8 888.6,1505.2 888.8,1504 888.9,1501.3 889.1,1501 889.2,1504.5 889.4,1505.3 889.5,1503.9 889.7,1504.4 889.8,1502.4 890,1495.4 890.1,1503.1 890.3,1508.8 890.4,1496.4 890.6,1502.2 890.7,1503.7 890.9,1500.4 891,1504.1 891.2,1496.2 891.3,1502.6 891.5,1502.6 891.6,1504.1 891.8,1501.3 891.9,1503.7 892.1,1504.4 892.2,1503.6 892.4,1506.2 892.5,1500.2 892.7,1498.4 892.8,1507.1 893,1505 893.1,1501.8 893.3,1508.3 893.4,1506.4 893.6,1501.9 893.7,1503.5 893.9,1502.8 894,1511 894.2,1499.9 894.3,1503.6 894.5,1504.6 894.6,1497.4 894.8,1500.8 894.9,1509.9 895.1,1497.6 895.2,1506.7 895.4,1505.2 895.5,1509 895.7,1499.2 895.8,1504.8 896,1502.8 896.1,1501.2 896.3,1504.7 896.4,1512.3 896.6,1499.1 896.7,1506.2 896.9,1510.6 897,1506.5 897.2,1506.4 897.3,1506.9 897.5,1505.7 897.6,1503.8 897.8,1498.8 897.9,1502.2 898.1,1505.1 898.2,1497.7 898.4,1505.5 898.5,1497.2 898.7,1505.7 898.8,1512.1 899,1501 899.1,1506.8 899.3,1507.3 899.4,1506.7 899.6,1506 899.7,1504.2 899.9,1506.8 900,1511.2 900.2,1505.3 900.3,1504.9 900.5,1508 900.6,1505.7 900.8,1504.7 900.9,1513.5 901.1,1514.3 901.2,1510.1 901.4,1504.1 901.5,1513 901.7,1503.3 901.8,1509.6 902,1506 902.1,1509.6 902.3,1509.9 902.4,1509.2 902.6,1510.9 902.7,1511.8 902.9,1511 903,1509.7 903.2,1509.8 903.3,1513.6 903.5,1510.3 903.6,1509.6 903.8,1506.4 903.9,1506.6 904.1,1508.3 904.2,1508.1 904.4,1513.2 904.5,1510.8 904.7,1506.3 904.8,1507.7 905,1503.8 905.1,1501.6 905.3,1502.7 905.4,1511.5 905.6,1511.6 905.7,1510.6 905.9,1504.8 906,1508.3 906.2,1510.6 906.3,1513.7 906.5,1510 906.6,1510.7 906.8,1505.4 906.9,1501.1 907.1,1514.9 907.2,1515.5 907.4,1507.1 907.5,1507.6 907.7,1512.3 907.8,1509 908,1508.9 908.1,1514.2 908.3,1507.8 908.4,1512.3 908.6,1509.7 908.7,1505.8 908.9,1514 909,1507.5 909.2,1507.9 909.3,1505 909.5,1513.6 909.6,1509.4 909.8,1516.2 909.9,1510.9 910.1,1506 910.2,1504.2 910.4,1508.6 910.5,1514.6 910.7,1516.8 910.8,1509.7 911,1513.4 911.1,1509.6 911.3,1511 911.4,1511.2 911.6,1505.5 911.7,1516.4 911.9,1512.1 912,1508.5 912.2,1505.9 912.3,1515.2 912.5,1516 912.6,1513.5 912.8,1518 912.9,1516.1 913.1,1506.8 913.2,1515 913.4,1516.7 913.5,1513.6 913.7,1511.6 913.8,1515 914,1512.2 914.1,1509 914.3,1509.7 914.4,1513.2 914.6,1508.1 914.7,1506.7 914.9,1510.5 915,1519.3 915.2,1509.2 915.3,1513.7 915.5,1509.2 915.6,1514.8 915.8,1515.2 915.9,1515 916.1,1514.5 916.2,1506.9 916.4,1514.9 916.5,1514.6 916.7,1512.4 916.8,1517 917,1515 917.1,1516.7 917.3,1509.9 917.4,1518.3 917.6,1513.7 917.7,1512.6 917.9,1509 918,1510.5 918.2,1512.4 918.3,1516.7 918.5,1505 918.6,1508.6 918.8,1511.8 918.9,1518.5 919.1,1515.3 919.2,1517.6 919.4,1517.9 919.5,1516.7 919.7,1519.3 919.8,1518.6 920,1516 920.1,1515.3 920.3,1521.2 920.4,1515.4 920.6,1508.9 920.7,1515.2 920.9,1516.4 921,1516.5 921.2,1506.9 921.3,1511.7 921.5,1511.6 921.6,1512.6 921.8,1514.4 921.9,1507.8 922.1,1515.3 922.2,1522 922.4,1512.7 922.5,1511.4 922.7,1513.7 922.8,1512.4 923,1512.9 923.1,1513.2 923.3,1507.3 923.4,1509.3 923.6,1512.4 923.7,1513.8 923.9,1516 924,1518.4 924.2,1518.9 924.3,1518.7 924.5,1515.5 924.6,1515.6 924.8,1512.3 924.9,1514.2 925.1,1521.7 925.2,1520.7 925.4,1517.2 925.5,1506.2 925.7,1516.4 925.8,1513 926,1514 926.1,1516.6 926.3,1512.5 926.4,1522.1 926.6,1518.6 926.7,1520.5 926.9,1513.8 927,1508 927.2,1516.8 927.3,1519.2 927.5,1519.1 927.6,1515.4 927.8,1516 927.9,1514.1 928.1,1517.7 928.2,1517.9 928.4,1511.5 928.5,1511.1 928.7,1513.1 928.8,1518.6 929,1511.1 929.1,1506.5 929.3,1518.7 929.4,1512.6 929.6,1516 929.7,1514 929.9,1514.5 930,1513.3 930.2,1517.6 930.3,1514.9 930.5,1517.6 930.6,1514.5 930.8,1515.4 930.9,1518.1 931.1,1516 931.2,1517.4 931.4,1514.7 931.5,1515 931.7,1514.8 931.8,1523.5 932,1516.5 932.1,1518.2 932.3,1517.9 932.4,1512.8 932.6,1513.4 932.7,1515.7 932.9,1511 933,1511.6 933.2,1514.8 933.3,1512.6 933.5,1509.9 933.6,1519.5 933.8,1520.1 933.9,1519.3 934.1,1517.3 934.2,1516.2 934.4,1511.8 934.5,1518.2 934.7,1511 934.8,1511.4 935,1511.4 935.1,1515.9 935.3,1518.7 935.4,1511.7 935.6,1514.4 935.7,1516.8 935.9,1513 936,1514.8 936.2,1518.6 936.3,1514.4 936.5,1515.5 936.6,1516.8 936.8,1514.7 936.9,1518.9 937.1,1516 937.2,1518.1 937.4,1513.7 937.5,1515.9 937.7,1517 937.8,1513.3 938,1518.3 938.1,1518.9 938.3,1512.7 938.4,1519.5 938.6,1511.6 938.7,1513 938.9,1517.5 939,1518.6 939.2,1509.4 939.3,1516.1 939.5,1517.5 939.6,1518.2 939.8,1519.6 939.9,1509.1 940.1,1514.2 940.2,1515.9 940.4,1518 940.5,1517.5 940.7,1513.2 940.8,1523.5 941,1518.6 941.1,1519.1 941.3,1521.1 941.4,1513.5 941.6,1518.2 941.7,1512.2 941.9,1512.4 942,1519.5 942.2,1512.6 942.3,1515.1 942.5,1516.9 942.6,1512 942.8,1515.3 942.9,1515.5 943.1,1520.9 943.2,1513 943.4,1516.9 943.5,1512 943.7,1516.9 943.8,1512.9 944,1515.7 944.1,1514 944.3,1523.2 944.4,1516.3 944.6,1517.1 944.7,1517.2 944.9,1520.2 945,1522.8 945.2,1514.3 945.3,1516.6 945.5,1516 945.6,1513.3 945.8,1518.6 945.9,1512.1 946.1,1514.4 946.2,1515.7 946.4,1516.3 946.5,1510.7 946.7,1515.1 946.8,1514.2 947,1519.9 947.1,1515.3 947.3,1520.2 947.4,1519 947.6,1515.5 947.7,1517.7 947.9,1523 948,1520.4 948.2,1518.9 948.3,1515 948.5,1518.8 948.6,1513.5 948.8,1516.6 948.9,1520.3 949.1,1511.6 949.2,1517.4 949.4,1518.6 949.5,1519.2 949.7,1517.3 949.8,1518.5 950,1516.2 950.1,1514.5 950.3,1516.6 950.4,1519.4 950.6,1513.7 950.7,1517.9 950.9,1515.7 951,1524.4 951.2,1513.5 951.3,1519.3 951.5,1514.3 951.6,1521.1 951.8,1517.8 951.9,1512.7 952.1,1513.3 952.2,1516.2 952.4,1514.8 952.5,1524.1 952.7,1519.5 952.8,1517.9 953,1524 953.1,1519.2 953.3,1516.7 953.4,1514.4 953.6,1518.1 953.7,1513.3 953.9,1509.2 954,1517.8 954.2,1515.2 954.3,1515.3 954.5,1512.9 954.6,1524.4 954.8,1516.2 954.9,1519.3 955.1,1521.8 955.2,1521.6 955.4,1519 955.5,1516.2 955.7,1519.7 955.8,1522.7 956,1518.5 956.1,1513.4 956.3,1521 956.4,1515.7 956.6,1513.8 956.7,1518.2 956.9,1520.2 957,1520.9 957.2,1513.5 957.3,1515.6 957.5,1518 957.6,1517.1 957.8,1520 957.9,1518.4 958.1,1512.7 958.2,1515.9 958.4,1516.2 958.5,1515.6 958.7,1519.7 958.8,1517 959,1521.7 959.1,1525.8 959.3,1518.4 959.4,1519.7 959.6,1520.2 959.7,1522.9 959.9,1519.3 960,1519.2 960.2,1521.3 960.3,1520.9 960.5,1522.5 960.6,1520.4 960.8,1516 960.9,1521.8 961.1,1516 961.2,1522.8 961.4,1520.9 961.5,1509.8 961.7,1523.3 961.8,1515.5 962,1521.4 962.1,1517.6 962.3,1516.8 962.4,1515.6 962.6,1518.9 962.7,1520.5 962.9,1510.6 963,1516.4 963.2,1516.4 963.3,1521.2 963.5,1522.1 963.6,1516.6 963.8,1513.7 963.9,1520.4 964.1,1522.3 964.2,1515.5 964.4,1520.5 964.5,1517.1 964.7,1522.1 964.8,1518.7 965,1521.2 965.1,1519.9 965.3,1521.2 965.4,1517.8 965.6,1519.7 965.7,1517.8 965.9,1520.3 966,1515 966.2,1520.9 966.3,1519.7 966.5,1515.2 966.6,1518.2 966.8,1521 966.9,1520.5 967.1,1521.3 967.2,1515.3 967.4,1518.6 967.5,1518.8 967.7,1523.8 967.8,1515.9 968,1515.8 968.1,1514.7 968.3,1522.4 968.4,1514.9 968.6,1520.7 968.7,1517.5 968.9,1518.3 969,1516 969.2,1523.3 969.3,1518.6 969.5,1516.4 969.6,1512.7 969.8,1519.4 969.9,1517.2 970.1,1514.2 970.2,1520 970.4,1519.7 970.5,1518.7 970.7,1514.4 970.8,1519.8 971,1517.9 971.1,1520 971.3,1518.1 971.4,1513 971.6,1516.4 971.7,1516.8 971.9,1520 972,1520.7 972.2,1515.7 972.3,1514.7 972.5,1521.1 972.6,1519.6 972.8,1520.1 972.9,1519.8 973.1,1516 973.2,1522.3 973.4,1515.2 973.5,1513.8 973.7,1523.1 973.8,1518.4 974,1519.5 974.1,1522 974.3,1512.5 974.4,1514 974.6,1520.5 974.7,1520.3 974.9,1518.1 975,1514.6 975.2,1515.2 975.3,1517.9 975.5,1522.3 975.6,1524 975.8,1519 975.9,1516.8 976.1,1515.9 976.2,1513.9 976.4,1518.8 976.5,1519.1 976.7,1514.9 976.8,1519.1 977,1516 977.1,1526.3 977.3,1514.7 977.4,1517.7 977.6,1517.6 977.7,1515.8 977.9,1518.5 978,1523.6 978.2,1520.2 978.3,1513.4 978.5,1519.3 978.6,1518.9 978.8,1520.5 978.9,1519.4 979.1,1520.9 979.2,1522.4 979.4,1518.9 979.5,1521.1 979.7,1522.6 979.8,1515.3 980,1519.6 980.1,1517.8 980.3,1513.8 980.4,1513.4 980.6,1520.6 980.7,1517.6 980.9,1519 981,1521.2 981.2,1518.1 981.3,1520.7 981.5,1521.3 981.6,1519 981.8,1518.1 981.9,1517 982.1,1519.4 982.2,1515.9 982.4,1520.3 982.5,1520.3 982.7,1516.7 982.8,1521.7 983,1517.4 983.1,1516.7 983.3,1520.7 983.4,1521 983.6,1518.9 983.7,1517.4 983.9,1520.6 984,1520.3 984.2,1524 984.3,1518.3 984.5,1516.7 984.6,1516.4 984.8,1519.5 984.9,1517.4 985.1,1514.4 985.2,1516.6 985.4,1518.5 985.5,1518.9 985.7,1517.5 985.8,1517.9 986,1519.7 986.1,1515.9 986.3,1519.1 986.4,1516.8 986.6,1520.3 986.7,1515.2 986.9,1518.5 987,1520.8 987.2,1521.2 987.3,1513.4 987.5,1517.4 987.6,1515.8 987.8,1520.4 987.9,1519.6 988.1,1520.3 988.2,1517.7 988.4,1519.6 988.5,1518.1 988.7,1522.3 988.8,1512.1 989,1522.6 989.1,1511.1 989.3,1517.9 989.4,1514.8 989.6,1518.9 989.7,1515.5 989.9,1517.7 990,1522.5 990.2,1521.9 990.3,1522.8 990.5,1516.3 990.6,1519.7 990.8,1519.2 990.9,1518.6 991.1,1519.4 991.2,1519.2 991.4,1521.6 991.5,1522.3 991.7,1517.8 991.8,1518.3 992,1519.2 992.1,1517.1 992.3,1517.6 992.4,1517.9 992.6,1515 992.7,1525.6 992.9,1517.9 993,1526.3 993.2,1516.6 993.3,1516.9 993.5,1519.7 993.6,1519.4 993.8,1517 993.9,1520.5 994.1,1519.7 994.2,1516.7 994.4,1526.6 994.5,1518.2 994.7,1517.9 994.8,1516.8 995,1517.9 995.1,1524.4 995.3,1515.4 995.4,1522.7 995.6,1527.5 995.7,1518.8 995.9,1519.3 996,1518.5 996.2,1517.5 996.3,1514.6 996.5,1516.4 996.6,1523.9 996.8,1518 996.9,1518.1 997.1,1519.9 997.2,1519.4 997.4,1519.9 997.5,1517.2 997.7,1522.3 997.8,1527 998,1520 998.1,1522.4 998.3,1520.6 998.4,1517.4 998.6,1523.2 998.7,1519.4 998.9,1523.2 999,1522.9 999.2,1521.8 999.3,1522.6 999.5,1518.3 999.6,1523.1 999.8,1520.2 999.9,1520.3 1000.1,1520.8 1000.2,1517.4 1000.4,1516.3 1000.5,1517.7 1000.7,1515.8 1000.8,1519.7 1001,1516 1001.1,1517 1001.3,1519.5 1001.4,1516 1001.6,1522.4 1001.7,1522.9 1001.9,1523.6 1002,1518.6 1002.2,1523.7 1002.3,1517.1 1002.5,1523.8 1002.6,1521 1002.8,1519.9 1002.9,1518.2 1003.1,1522.1 1003.2,1517.9 1003.4,1517.2 1003.5,1520 1003.7,1525.5 1003.8,1516.7 1004,1521.2 1004.1,1522.2 1004.3,1519.5" fill="none" stroke="#f5841f" stroke-width="2.5" stroke-linejoin="round"/>
<path d="M110.6,1525.3 110.8,1517.7 110.9,1523.1 111.1,1518.9 111.2,1519.8 111.4,1522.1 111.5,1519 111.7,1519 111.8,1520.4 112,1519.7 112.1,1519.2 112.3,1521.7 112.4,1522.5 112.6,1520.2 112.7,1524.4 112.9,1522.8 113,1518.4 113.2,1518.4 113.3,1520.5 113.5,1518.5 113.6,1520.5 113.8,1522 113.9,1518.6 114.1,1520.1 114.2,1520 114.4,1520.4 114.5,1514.2 114.7,1518.5 114.8,1517.6 115,1520.5 115.1,1518.6 115.3,1521.7 115.4,1520.9 115.6,1520.4 115.7,1520.1 115.9,1515.6 116,1521.9 116.2,1517.6 116.3,1519.3 116.5,1519.6 116.6,1514.6 116.8,1520.4 116.9,1524.4 117.1,1517 117.2,1518.2 117.4,1524 117.5,1518.4 117.7,1522.5 117.8,1520.2 118,1516.7 118.1,1522.4 118.3,1520.5 118.4,1516.6 118.6,1520.1 118.7,1521.1 118.9,1517.7 119,1517.4 119.2,1517.2 119.3,1513.8 119.5,1524.2 119.6,1524.1 119.8,1521.4 119.9,1524.2 120.1,1522.2 120.2,1523.4 120.4,1518.3 120.5,1517.3 120.7,1521.6 120.8,1514.2 121,1515.5 121.1,1521.9 121.3,1520.8 121.4,1520.5 121.6,1518.4 121.7,1518.3 121.9,1519.7 122,1519.2 122.2,1519.3 122.3,1518.2 122.5,1521.6 122.6,1519.7 122.8,1522.2 122.9,1519.8 123.1,1520.6 123.2,1519.6 123.4,1524.6 123.5,1523.5 123.7,1515.5 123.8,1519 124,1521.9 124.1,1518.5 124.3,1514.2 124.4,1516.7 124.6,1522.5 124.7,1521.7 124.9,1524.6 125,1522.5 125.2,1517.2 125.3,1515.8 125.5,1519.5 125.6,1523.6 125.8,1526 125.9,1519.3 126.1,1519.9 126.2,1520.1 126.4,1519.8 126.5,1514.8 126.7,1520.5 126.8,1519 127,1518.1 127.1,1515.7 127.3,1520.1 127.4,1520.2 127.6,1518.1 127.7,1519.8 127.9,1522.4 128,1519.9 128.2,1520.2 128.3,1521.9 128.5,1523.6 128.6,1521.9 128.8,1521.1 128.9,1517.7 129.1,1516.7 129.2,1526.7 129.4,1519.3 129.5,1520.2 129.7,1519.4 129.8,1518.1 130,1521.9 130.1,1526.7 130.3,1518.8 130.4,1520.1 130.6,1518 130.7,1518.5 130.9,1520.5 131,1518 131.2,1520.3 131.3,1518.7 131.5,1521.8 131.6,1518.9 131.8,1518.8 131.9,1521.3 132.1,1519.5 132.2,1515.2 132.4,1520.8 132.5,1522.8 132.7,1515.7 132.8,1514.2 133,1519 133.1,1518.3 133.3,1517.7 133.4,1520.4 133.6,1517.3 133.7,1520.2 133.9,1525.5 134,1520.5 134.2,1518.8 134.3,1514.7 134.5,1519.9 134.6,1521.3 134.8,1519.4 134.9,1519.8 135.1,1521 135.2,1516.3 135.4,1518.4 135.5,1521.6 135.7,1519.1 135.8,1517.2 136,1523.3 136.1,1523.7 136.3,1520.2 136.4,1520.9 136.6,1522.1 136.7,1520.8 136.9,1523.1 137,1514.5 137.2,1518.8 137.3,1517.8 137.5,1521.1 137.6,1518 137.8,1526.4 137.9,1521.3 138.1,1518.5 138.2,1521.1 138.4,1519.5 138.5,1525 138.7,1520.2 138.8,1518.5 139,1517.9 139.1,1519.6 139.3,1521.2 139.4,1515.9 139.6,1521.8 139.7,1520.9 139.9,1519.8 140,1518.8 140.2,1517.9 140.3,1521.4 140.5,1517.8 140.6,1518 140.8,1522.7 140.9,1518 141.1,1521.6 141.2,1515.6 141.4,1514.8 141.5,1522.6 141.7,1524.8 141.8,1521.5 142,1520.1 142.1,1519.5 142.3,1520.3 142.4,1515.6 142.6,1518.4 142.7,1517.6 142.9,1524.1 143,1518.1 143.2,1520.2 143.3,1518.9 143.5,1519.3 143.6,1515.9 143.8,1522.7 143.9,1517.6 144.1,1524.2 144.2,1518 144.4,1519.1 144.5,1515.2 144.7,1519.3 144.8,1517.9 145,1521.1 145.1,1518.4 145.3,1518.8 145.4,1519.4 145.6,1519.7 145.7,1518.4 145.9,1521.5 146,1519 146.2,1515.9 146.3,1516.7 146.5,1517.7 146.6,1523.5 146.8,1522 146.9,1522.8 147.1,1520.4 147.2,1519.5 147.4,1517.2 147.5,1520.2 147.7,1520.4 147.8,1516.3 148,1519.8 148.1,1523.5 148.3,1518.1 148.4,1521.5 148.6,1518.6 148.7,1516.1 148.9,1517.2 149,1520.6 149.2,1519.4 149.3,1521 149.5,1515.8 149.6,1516.8 149.8,1518.3 149.9,1517 150.1,1515.7 150.2,1519.8 150.4,1517.1 150.5,1514.5 150.7,1519.4 150.8,1515.3 151,1517.2 151.1,1521.2 151.3,1518.9 151.4,1522.2 151.6,1516.9 151.7,1520.8 151.9,1518.8 152,1519.1 152.2,1513.5 152.3,1516.7 152.5,1518 152.6,1513.9 152.8,1520.4 152.9,1516.3 153.1,1517.2 153.2,1517.6 153.4,1516 153.5,1520.3 153.7,1513.8 153.8,1516.9 154,1516.7 154.1,1517 154.3,1517.5 154.4,1511.2 154.6,1518.1 154.7,1520.4 154.9,1519.1 155,1525.3 155.2,1516.8 155.3,1519.3 155.5,1518.4 155.6,1519.9 155.8,1516.3 155.9,1512.6 156.1,1520.3 156.2,1515.3 156.4,1516.2 156.5,1516 156.7,1517.3 156.8,1515.4 157,1514.6 157.1,1518.9 157.3,1524.7 157.4,1516.5 157.6,1519.2 157.7,1514.1 157.9,1519.2 158,1517.1 158.2,1524.3 158.3,1516.9 158.5,1517.3 158.6,1514.1 158.8,1516.6 158.9,1516.3 159.1,1516.6 159.2,1522.8 159.4,1515 159.5,1517 159.7,1516.9 159.8,1516.2 160,1518.9 160.1,1518.1 160.3,1517.4 160.4,1516.4 160.6,1514.2 160.7,1516.6 160.9,1516 161,1519.6 161.2,1512.4 161.3,1513.8 161.5,1515.1 161.6,1520.6 161.8,1515.7 161.9,1520.6 162.1,1518.4 162.2,1519.1 162.4,1520.4 162.5,1516.6 162.7,1512.6 162.8,1519 163,1514.7 163.1,1517.3 163.3,1517.9 163.4,1516.5 163.6,1515.9 163.7,1519.2 163.9,1520.6 164,1519 164.2,1524.5 164.3,1524.5 164.5,1519.4 164.6,1516.8 164.8,1518 164.9,1518.6 165.1,1519.5 165.2,1519.6 165.4,1517.7 165.5,1517.4 165.7,1518 165.8,1516.9 166,1515.1 166.1,1520.7 166.3,1521.7 166.4,1513.6 166.6,1520.2 166.7,1519.1 166.9,1515.9 167,1517.8 167.2,1514.2 167.3,1517.1 167.5,1515 167.6,1516.4 167.8,1515.5 167.9,1518.1 168.1,1518.6 168.2,1516.3 168.4,1519.6 168.5,1513.4 168.7,1517.1 168.8,1517.7 169,1512.5 169.1,1518.4 169.3,1518.8 169.4,1515.2 169.6,1517.3 169.7,1516.7 169.9,1516.2 170,1514.7 170.2,1517.6 170.3,1513.3 170.5,1518.6 170.6,1516 170.8,1517.5 170.9,1512.8 171.1,1518.6 171.2,1509.6 171.4,1518.6 171.5,1515.2 171.7,1515.5 171.8,1514.6 172,1514.8 172.1,1519.7 172.3,1520 172.4,1516.6 172.6,1515.6 172.7,1518.7 172.9,1515.2 173,1512.3 173.2,1515.5 173.3,1514.2 173.5,1517.8 173.6,1509.6 173.8,1515.8 173.9,1515.4 174.1,1515.3 174.2,1516.6 174.4,1515.6 174.5,1515 174.7,1518.5 174.8,1513.6 175,1514.1 175.1,1516.5 175.3,1518.7 175.4,1516.4 175.6,1518.2 175.7,1510.2 175.9,1511.9 176,1514.7 176.2,1516 176.3,1512.4 176.5,1513.2 176.6,1509.9 176.8,1520.2 176.9,1513.4 177.1,1518.8 177.2,1509.3 177.4,1520.3 177.5,1517.8 177.7,1517.4 177.8,1515.8 178,1515.6 178.1,1511.9 178.3,1515 178.4,1514.3 178.6,1513.7 178.7,1518.7 178.9,1511.1 179,1517.8 179.2,1512.6 179.3,1512.5 179.5,1517.4 179.6,1511.2 179.8,1512.5 179.9,1512.9 180.1,1513.4 180.2,1513.2 180.4,1512.1 180.5,1510.6 180.7,1519.7 180.8,1508.4 181,1512.8 181.1,1512.3 181.3,1515 181.4,1514.6 181.6,1511.8 181.7,1515.8 181.9,1516.8 182,1511.2 182.2,1512.5 182.3,1514.3 182.5,1508.1 182.6,1512.2 182.8,1511.7 182.9,1513 183.1,1512.5 183.2,1514.8 183.4,1508.6 183.5,1516.9 183.7,1514.2 183.8,1517.8 184,1513.4 184.1,1511.8 184.3,1512.1 184.4,1510.4 184.6,1513.8 184.7,1510.8 184.9,1514.1 185,1514.4 185.2,1512.2 185.3,1509.3 185.5,1517.5 185.6,1514.3 185.8,1514.1 185.9,1510.5 186.1,1512.8 186.2,1510.7 186.4,1508 186.5,1510.5 186.7,1511.1 186.8,1513.5 187,1515.3 187.1,1512.1 187.3,1506.5 187.4,1514.1 187.6,1511.1 187.7,1513.7 187.9,1509.5 188,1507.7 188.2,1514.3 188.3,1510.5 188.5,1511.2 188.6,1511.8 188.8,1513.3 188.9,1509.4 189.1,1509.3 189.2,1505.7 189.4,1512.1 189.5,1509.9 189.7,1512.1 189.8,1511.4 190,1503.9 190.1,1506.3 190.3,1510.4 190.4,1510.1 190.6,1509.1 190.7,1504.9 190.9,1506.1 191,1509.3 191.2,1512.6 191.3,1510.1 191.5,1504.1 191.6,1511.5 191.8,1509.6 191.9,1514.3 192.1,1507.2 192.2,1508.3 192.4,1503.3 192.5,1514.2 192.7,1511.5 192.8,1511.4 193,1505.9 193.1,1508.1 193.3,1511.9 193.4,1506.3 193.6,1515.8 193.7,1504 193.9,1505 194,1512.3 194.2,1510.1 194.3,1512.1 194.5,1506.8 194.6,1506 194.8,1509.9 194.9,1502.6 195.1,1508.1 195.2,1505 195.4,1505.5 195.5,1505.8 195.7,1505.4 195.8,1507.2 196,1508.9 196.1,1509.7 196.3,1507.2 196.4,1504.2 196.6,1501 196.7,1505.2 196.9,1506.5 197,1506.5 197.2,1505.8 197.3,1509.4 197.5,1508.7 197.6,1504.4 197.8,1502.3 197.9,1501.1 198.1,1503.4 198.2,1506.8 198.4,1501.5 198.5,1503.6 198.7,1505.4 198.8,1498.8 199,1504.5 199.1,1500.4 199.3,1505 199.4,1504 199.6,1503.7 199.7,1503.6 199.9,1503.6 200,1502.6 200.2,1499.3 200.3,1502.8 200.5,1505.4 200.6,1509.3 200.8,1500.3 200.9,1497.2 201.1,1505.9 201.2,1501.1 201.4,1496.3 201.5,1503.6 201.7,1503 201.8,1498.7 202,1503.5 202.1,1505 202.3,1501.8 202.4,1509.4 202.6,1504.1 202.7,1498.4 202.9,1501.7 203,1501.4 203.2,1500.4 203.3,1501.5 203.5,1502.3 203.6,1500.4 203.8,1504 203.9,1498.3 204.1,1499.6 204.2,1497 204.4,1500.2 204.5,1493.1 204.7,1498.4 204.8,1499.8 205,1494.6 205.1,1500.9 205.3,1492.7 205.4,1490.2 205.6,1500.7 205.7,1501.5 205.9,1495.4 206,1494 206.2,1494.1 206.3,1499.3 206.5,1500.2 206.6,1502.8 206.8,1494.4 206.9,1498 207.1,1502.4 207.2,1493.9 207.4,1492.2 207.5,1493.4 207.7,1496.1 207.8,1491.7 208,1502.1 208.1,1493 208.3,1491.4 208.4,1494.1 208.6,1495.8 208.7,1494.6 208.9,1487.8 209,1494.9 209.2,1500 209.3,1491.5 209.5,1497 209.6,1492.2 209.8,1493.7 209.9,1491.5 210.1,1495.3 210.2,1488.6 210.4,1488.3 210.5,1489.3 210.7,1488.9 210.8,1488.6 211,1491.1 211.1,1489.7 211.3,1487.2 211.4,1490.2 211.6,1493.2 211.7,1497.4 211.9,1487.2 212,1483.8 212.2,1487.5 212.3,1488.1 212.5,1490.4 212.6,1488.3 212.8,1484.5 212.9,1480.1 213.1,1484.4 213.2,1485.9 213.4,1481.2 213.5,1481.3 213.7,1494.2 213.8,1488.1 214,1492.4 214.1,1493.8 214.3,1484.6 214.4,1485.6 214.6,1485.7 214.7,1482.1 214.9,1484.5 215,1483.2 215.2,1482.6 215.3,1486.8 215.5,1475.5 215.6,1479.9 215.8,1483.4 215.9,1481.2 216.1,1485 216.2,1481.3 216.4,1480.8 216.5,1484.6 216.7,1484.9 216.8,1472 217,1484.4 217.1,1476.3 217.3,1483.8 217.4,1482.7 217.6,1478 217.7,1485.4 217.9,1473.1 218,1477.1 218.2,1479.7 218.3,1472.2 218.5,1481.6 218.6,1473.5 218.8,1478.4 218.9,1476.1 219.1,1478.9 219.2,1480.5 219.4,1479.4 219.5,1473.9 219.7,1477.6 219.8,1478.8 220,1479.6 220.1,1484.3 220.3,1471.9 220.4,1475.7 220.6,1481.6 220.7,1477.3 220.9,1475.1 221,1478 221.2,1476.4 221.3,1475.9 221.5,1473.6 221.6,1474.9 221.8,1471.4 221.9,1470.9 222.1,1473.3 222.2,1472.9 222.4,1474.8 222.5,1470.1 222.7,1466.5 222.8,1471.3 223,1470.3 223.1,1468.1 223.3,1475.2 223.4,1472.5 223.6,1468.2 223.7,1470.8 223.9,1466.8 224,1470.8 224.2,1463.8 224.3,1467.8 224.5,1472.3 224.6,1475 224.8,1465.8 224.9,1471.5 225.1,1471.3 225.2,1473.1 225.4,1475.4 225.5,1465.3 225.7,1471.1 225.8,1468.9 226,1472.4 226.1,1472.2 226.3,1468.5 226.4,1469.3 226.6,1463.6 226.7,1464.8 226.9,1465.4 227,1460.4 227.2,1465.9 227.3,1469.8 227.5,1462.9 227.6,1459.5 227.8,1467.3 227.9,1460.2 228.1,1463.4 228.2,1465.9 228.4,1471.9 228.5,1467.8 228.7,1468.3 228.8,1460.9 229,1468.1 229.1,1460.8 229.3,1459.6 229.4,1464.9 229.6,1465.5 229.7,1466.9 229.9,1463 230,1464.3 230.2,1463.6 230.3,1464.4 230.5,1463 230.6,1455.5 230.8,1462.4 230.9,1465 231.1,1465.3 231.2,1459.8 231.4,1463.2 231.5,1460.5 231.7,1460.8 231.8,1463.6 232,1468.6 232.1,1461 232.3,1469.1 232.4,1456.6 232.6,1465.1 232.7,1461.9 232.9,1460.4 233,1463.3 233.2,1455 233.3,1462.2 233.5,1458.3 233.6,1457 233.8,1452.2 233.9,1454.4 234.1,1451.6 234.2,1454.3 234.4,1465.6 234.5,1455.3 234.7,1458.6 234.8,1456.1 235,1456.2 235.1,1451.4 235.3,1463.7 235.4,1454.3 235.6,1456.7 235.7,1461.4 235.9,1456.8 236,1454.1 236.2,1455.6 236.3,1455.1 236.5,1457.4 236.6,1453.5 236.8,1455 236.9,1459.1 237.1,1446.6 237.2,1460.1 237.4,1448.7 237.5,1456.8 237.7,1457.2 237.8,1450.9 238,1457 238.1,1458.9 238.3,1456 238.4,1448.2 238.6,1459.4 238.7,1444.8 238.9,1447.9 239,1447.7 239.2,1449.7 239.3,1455.6 239.5,1453.4 239.6,1449.2 239.8,1447.5 239.9,1447.7 240.1,1450.9 240.2,1452.7 240.4,1439.5 240.5,1455.7 240.7,1450.1 240.8,1455.5 241,1444.7 241.1,1452.2 241.3,1447 241.4,1443 241.6,1461.4 241.7,1454.6 241.9,1459.2 242,1456.2 242.2,1456.2 242.3,1453.7 242.5,1443.7 242.6,1449.9 242.8,1447.4 242.9,1442.2 243.1,1448.2 243.2,1449.7 243.4,1443.3 243.5,1447.3 243.7,1453.3 243.8,1458.4 244,1452 244.1,1448.4 244.3,1452 244.4,1445.5 244.6,1440.2 244.7,1443.9 244.9,1459.5 245,1449.8 245.2,1452.3 245.3,1443.4 245.5,1444.9 245.6,1447.4 245.8,1447.8 245.9,1449 246.1,1452.5 246.2,1447.1 246.4,1451.2 246.5,1448.4 246.7,1441.4 246.8,1447.6 247,1442.8 247.1,1445.1 247.3,1449.9 247.4,1442.9 247.6,1447.7 247.7,1443.7 247.9,1446 248,1440.5 248.2,1443 248.3,1445.8 248.5,1448.7 248.6,1435.6 248.8,1445.9 248.9,1444.2 249.1,1444.7 249.2,1446.4 249.4,1450.9 249.5,1446.8 249.7,1449.2 249.8,1440 250,1434.3 250.1,1447.5 250.3,1444 250.4,1440.8 250.6,1448.7 250.7,1447.3 250.9,1447.6 251,1437.5 251.2,1441.4 251.3,1448.2 251.5,1443.9 251.6,1443.9 251.8,1443.9 251.9,1452.9 252.1,1444.3 252.2,1442.9 252.4,1441.3 252.5,1443.1 252.7,1446.4 252.8,1445.5 253,1439.8 253.1,1431.8 253.3,1447.3 253.4,1438.6 253.6,1438.2 253.7,1444.2 253.9,1455.9 254,1441 254.2,1445.7 254.3,1446.4 254.5,1441.2 254.6,1447.6 254.8,1448.1 254.9,1438.9 255.1,1438.7 255.2,1438.1 255.4,1440.9 255.5,1442.6 255.7,1440.1 255.8,1437.5 256,1435.4 256.1,1439.9 256.3,1438.6 256.4,1444.4 256.6,1437.4 256.7,1433.8 256.9,1434.1 257,1442.1 257.2,1451 257.3,1446.7 257.5,1441.4 257.6,1447.9 257.8,1446.2 257.9,1434.3 258.1,1449.7 258.2,1449.8 258.4,1443.1 258.5,1443.3 258.7,1433 258.8,1441.4 259,1440.7 259.1,1441.6 259.3,1450.2 259.4,1452.1 259.6,1450.7 259.7,1444.6 259.9,1451.7 260,1440.2 260.2,1444.1 260.3,1441.6 260.5,1441.3 260.6,1444 260.8,1452.3 260.9,1448.6 261.1,1444 261.2,1451.9 261.4,1446.4 261.5,1451 261.7,1442.7 261.8,1443.5 262,1445.1 262.1,1443.4 262.3,1441.1 262.4,1445.7 262.6,1444.7 262.7,1441.8 262.9,1444.9 263,1445.8 263.2,1447.1 263.3,1448.4 263.5,1449.8 263.6,1444.1 263.8,1445.7 263.9,1448.7 264.1,1442.1 264.2,1441.6 264.4,1446.6 264.5,1451 264.7,1445.7 264.8,1447.3 265,1444.8 265.1,1447.4 265.3,1443.1 265.4,1453 265.6,1448.2 265.7,1449.5 265.9,1446.7 266,1451.6 266.2,1451.9 266.3,1454.9 266.5,1448.8 266.6,1441.1 266.8,1441.6 266.9,1451.2 267.1,1449.5 267.2,1447.9 267.4,1457 267.5,1446.8 267.7,1443.9 267.8,1450.7 268,1458.4 268.1,1456.9 268.3,1448.1 268.4,1452.2 268.6,1451.3 268.7,1448.1 268.9,1450.9 269,1452.7 269.2,1452.8 269.3,1459.6 269.5,1446.1 269.6,1445.9 269.8,1453.9 269.9,1450.3 270.1,1455.8 270.2,1449.3 270.4,1452.3 270.5,1454.5 270.7,1455.2 270.8,1447.9 271,1452.7 271.1,1450.6 271.3,1456.5 271.4,1441.9 271.6,1451.5 271.7,1458.9 271.9,1447.6 272,1458.5 272.2,1448.6 272.3,1449.4 272.5,1445.7 272.6,1455.2 272.8,1460.8 272.9,1452.2 273.1,1450.9 273.2,1453.4 273.4,1454.4 273.5,1447.5 273.7,1450.4 273.8,1458.9 274,1453.7 274.1,1460.8 274.3,1456.9 274.4,1463.5 274.6,1459.9 274.7,1461.1 274.9,1464.4 275,1457 275.2,1455.9 275.3,1459.5 275.5,1463.7 275.6,1450.9 275.8,1458.3 275.9,1459.8 276.1,1460.3 276.2,1454 276.4,1463.1 276.5,1458.5 276.7,1464.4 276.8,1454.7 277,1462.9 277.1,1463.6 277.3,1457.3 277.4,1457.9 277.6,1456.3 277.7,1457.5 277.9,1452.3 278,1464.1 278.2,1458.8 278.3,1457.8 278.5,1459.5 278.6,1455.3 278.8,1457.3 278.9,1459.7 279.1,1456.3 279.2,1464.1 279.4,1461.1 279.5,1464.6 279.7,1457.2 279.8,1465.8 280,1466.2 280.1,1461.3 280.3,1462.9 280.4,1468.1 280.6,1463.5 280.7,1458.8 280.9,1463.8 281,1469.5 281.2,1465.4 281.3,1469.2 281.5,1468.6 281.6,1461.6 281.8,1463.2 281.9,1460 282.1,1468.9 282.2,1466.7 282.4,1470.4 282.5,1462.5 282.7,1470.1 282.8,1470.5 283,1471.4 283.1,1464.6 283.3,1465.8 283.4,1466.7 283.6,1462.3 283.7,1467.1 283.9,1470.6 284,1459.3 284.2,1470.5 284.3,1470.4 284.5,1463.2 284.6,1468.2 284.8,1467.4 284.9,1474.8 285.1,1471.8 285.2,1472.5 285.4,1467.7 285.5,1470.5 285.7,1467.7 285.8,1472.6 286,1470.9 286.1,1468.6 286.3,1474.9 286.4,1474.1 286.6,1466.2 286.7,1472.8 286.9,1462.1 287,1468 287.2,1468.4 287.3,1471.8 287.5,1470 287.6,1471.2 287.8,1477.2 287.9,1473.9 288.1,1473.5 288.2,1469.1 288.4,1473.4 288.5,1482.2 288.7,1472 288.8,1473.9 289,1471 289.1,1472.3 289.3,1478.4 289.4,1479.5 289.6,1476.4 289.7,1477.7 289.9,1474.5 290,1476.6 290.2,1475.2 290.3,1472.6 290.5,1475.9 290.6,1476.8 290.8,1473 290.9,1471.6 291.1,1473.1 291.2,1481.4 291.4,1475.1 291.5,1476.7 291.7,1472.2 291.8,1485.5 292,1476.5 292.1,1476.2 292.3,1474.9 292.4,1478 292.6,1478.3 292.7,1476.6 292.9,1482.8 293,1476.9 293.2,1483.5 293.3,1480.8 293.5,1474.6 293.6,1476.4 293.8,1476.5 293.9,1473.9 294.1,1476.7 294.2,1477.2 294.4,1481.4 294.5,1481.2 294.7,1473.6 294.8,1481.8 295,1475.5 295.1,1477.7 295.3,1473.4 295.4,1482.2 295.6,1475.6 295.7,1481.9 295.9,1481.3 296,1473.7 296.2,1474.2 296.3,1479.6 296.5,1475.2 296.6,1478.7 296.8,1481.1 296.9,1477.3 297.1,1485.7 297.2,1485.8 297.4,1491.2 297.5,1480.7 297.7,1484.8 297.8,1483.4 298,1481.9 298.1,1482.3 298.3,1480.1 298.4,1482.6 298.6,1478.2 298.7,1489.1 298.9,1479.5 299,1479.4 299.2,1484.5 299.3,1478 299.5,1484.3 299.6,1475.7 299.8,1478.9 299.9,1482.3 300.1,1483.9 300.2,1482.2 300.4,1483.3 300.5,1484.4 300.7,1483.4 300.8,1480.2 301,1485.6 301.1,1488.1 301.3,1478 301.4,1484.7 301.6,1483.3 301.7,1486.1 301.9,1488 302,1482.6 302.2,1481.9 302.3,1488 302.5,1489 302.6,1486.1 302.8,1485.6 302.9,1488.6 303.1,1483.9 303.2,1486.5 303.4,1490.8 303.5,1488.2 303.7,1487.6 303.8,1487.6 304,1490 304.1,1486.1 304.3,1491.9 304.4,1487.2 304.6,1489.3 304.7,1492.5 304.9,1491.8 305,1494.9 305.2,1495.2 305.3,1495.3 305.5,1489.3 305.6,1490.8 305.8,1494.7 305.9,1493 306.1,1494.8 306.2,1488.2 306.4,1494.2 306.5,1491.2 306.7,1490.3 306.8,1489.8 307,1488.2 307.1,1493 307.3,1497.8 307.4,1490.6 307.6,1490.6 307.7,1498.7 307.9,1493.3 308,1492 308.2,1494.6 308.3,1493.5 308.5,1498.2 308.6,1496.9 308.8,1497.8 308.9,1488.8 309.1,1494.2 309.2,1495.6 309.4,1497.5 309.5,1494.3 309.7,1494.4 309.8,1495.7 310,1498.9 310.1,1498.3 310.3,1500.3 310.4,1501.3 310.6,1494.5 310.7,1497.7 310.9,1494.4 311,1496.6 311.2,1497.1 311.3,1497.4 311.5,1496.5 311.6,1490.6 311.8,1494.8 311.9,1499.2 312.1,1493.1 312.2,1498.5 312.4,1501.6 312.5,1503.7 312.7,1503.3 312.8,1495.7 313,1495.4 313.1,1501.2 313.3,1498.6 313.4,1502.5 313.6,1498.7 313.7,1495.4 313.9,1497.3 314,1499.8 314.2,1501.5 314.3,1498.3 314.5,1497.6 314.6,1500.3 314.8,1499.6 314.9,1496.4 315.1,1498.9 315.2,1503.4 315.4,1495.7 315.5,1499.9 315.7,1505.6 315.8,1496.1 316,1495.1 316.1,1498.7 316.3,1501.8 316.4,1503.5 316.6,1501.6 316.7,1506.6 316.9,1498.6 317,1498.7 317.2,1503.8 317.3,1495.2 317.5,1497.9 317.6,1495.9 317.8,1499 317.9,1496.9 318.1,1499.7 318.2,1504.3 318.4,1500.8 318.5,1505.3 318.7,1504.3 318.8,1501.7 319,1505 319.1,1505.9 319.3,1499.7 319.4,1502.3 319.6,1502.3 319.7,1501.3 319.9,1506.3 320,1501.7 320.2,1504.9 320.3,1501 320.5,1501.3 320.6,1502.2 320.8,1497.7 320.9,1502.1 321.1,1501 321.2,1502.2 321.4,1501.7 321.5,1499 321.7,1496.5 321.8,1502.2 322,1503.7 322.1,1503.9 322.3,1503.5 322.4,1499.3 322.6,1505 322.7,1507.4 322.9,1511.6 323,1504.4 323.2,1503.7 323.3,1504.8 323.5,1504.4 323.6,1503.9 323.8,1506.4 323.9,1504.1 324.1,1507.3 324.2,1505.1 324.4,1497.1 324.5,1502.9 324.7,1503.9 324.8,1504.9 325,1504.4 325.1,1500.6 325.3,1507.1 325.4,1504.7 325.6,1505.6 325.7,1501.5 325.9,1503.3 326,1507.1 326.2,1510.8 326.3,1503 326.5,1501.4 326.6,1507.1 326.8,1501.1 326.9,1509.9 327.1,1509.7 327.2,1511.1 327.4,1504 327.5,1507 327.7,1503.8 327.8,1513.7 328,1504.1 328.1,1505.8 328.3,1501.3 328.4,1504.6 328.6,1510.5 328.7,1501.3 328.9,1506 329,1502.6 329.2,1509.2 329.3,1505.3 329.5,1503.7 329.6,1503.4 329.8,1504.2 329.9,1510.3 330.1,1507.7 330.2,1509.9 330.4,1505.9 330.5,1512.2 330.7,1502.1 330.8,1509.6 331,1504.9 331.1,1510.2 331.3,1500.5 331.4,1501.9 331.6,1512.5 331.7,1512.4 331.9,1506.3 332,1512.3 332.2,1508.1 332.3,1504.7 332.5,1510.6 332.6,1509.3 332.8,1509.2 332.9,1507.6 333.1,1505.2 333.2,1506.1 333.4,1512 333.5,1511.6 333.7,1507.4 333.8,1504.3 334,1509.8 334.1,1510.8 334.3,1509.2 334.4,1509.1 334.6,1507.9 334.7,1509.1 334.9,1507.9 335,1510.6 335.2,1505.8 335.3,1506.4 335.5,1507.5 335.6,1508.5 335.8,1510.6 335.9,1512.3 336.1,1508.1 336.2,1509.5 336.4,1509.8 336.5,1504.6 336.7,1509.9 336.8,1505 337,1503.3 337.1,1505.6 337.3,1509.9 337.4,1507.8 337.6,1510 337.7,1508.6 337.9,1508.4 338,1513.2 338.2,1509.7 338.3,1508.7 338.5,1507.6 338.6,1508.6 338.8,1509.2 338.9,1510.4 339.1,1506.2 339.2,1511.2 339.4,1511.4 339.5,1509.7 339.7,1510.5 339.8,1513.6 340,1507.9 340.1,1506.8 340.3,1509.4 340.4,1509.9 340.6,1509.4 340.7,1507.4 340.9,1512.9 341,1509.8 341.2,1506.8 341.3,1512.6 341.5,1508.2 341.6,1515.9 341.8,1507.6 341.9,1505.4 342.1,1508 342.2,1509 342.4,1513.2 342.5,1513.2 342.7,1513.4 342.8,1509.1 343,1511.2 343.1,1507.5 343.3,1511.5 343.4,1508.7 343.6,1509.6 343.7,1511 343.9,1512.4 344,1508.8 344.2,1517.8 344.3,1504.2 344.5,1512.5 344.6,1509.7 344.8,1505.4 344.9,1515 345.1,1513.9 345.2,1508.3 345.4,1515.1 345.5,1511.7 345.7,1512 345.8,1510.6 346,1512.1 346.1,1509.6 346.3,1513.8 346.4,1511.8 346.6,1515.6 346.7,1510.2 346.9,1516.9 347,1510.6 347.2,1513.7 347.3,1507.7 347.5,1511 347.6,1510.8 347.8,1513.7 347.9,1511 348.1,1509.5 348.2,1510.6 348.4,1507.1 348.5,1512.1 348.7,1506.5 348.8,1516.2 349,1513.7 349.1,1512.7 349.3,1512.9 349.4,1510.9 349.6,1513.4 349.7,1516 349.9,1513.6 350,1516.1 350.2,1512.8 350.3,1512.1 350.5,1520.3 350.6,1510.3 350.8,1515.2 350.9,1513.3 351.1,1512.3 351.2,1513.2 351.4,1510.2 351.5,1509.4 351.7,1520.5 351.8,1506.2 352,1514 352.1,1512.7 352.3,1513.8 352.4,1515.9 352.6,1513.9 352.7,1513.3 352.9,1513 353,1510.6 353.2,1511.8 353.3,1515.5 353.5,1509.7 353.6,1511.7 353.8,1515.3 353.9,1512 354.1,1511.1 354.2,1514 354.4,1513.8 354.5,1520.6 354.7,1519.1 354.8,1515 355,1514.5 355.1,1511.5 355.3,1517.9 355.4,1516.4 355.6,1514.4 355.7,1517.2 355.9,1517.4 356,1511.1 356.2,1514.1 356.3,1510.2 356.5,1517.2 356.6,1511.9 356.8,1511.8 356.9,1508.8 357.1,1513.9 357.2,1510.6 357.4,1511.4 357.5,1514.4 357.7,1518.1 357.8,1516.7 358,1516.5 358.1,1515.4 358.3,1512.8 358.4,1511.9 358.6,1517.7 358.7,1513.5 358.9,1513.3 359,1512.8 359.2,1518 359.3,1518.5 359.5,1513 359.6,1515.5 359.8,1515.4 359.9,1510.9 360.1,1517.1 360.2,1519.2 360.4,1517.1 360.5,1511.1 360.7,1515.8 360.8,1513.6 361,1513.7 361.1,1509.5 361.3,1517.3 361.4,1514.1 361.6,1514.5 361.7,1515.9 361.9,1514.7 362,1520.1 362.2,1514.1 362.3,1519 362.5,1512.7 362.6,1515.7 362.8,1520.1 362.9,1516.9 363.1,1513.6 363.2,1518 363.4,1521.6 363.5,1516.4 363.7,1515.8 363.8,1516 364,1515.2 364.1,1512.4 364.3,1513 364.4,1512.6 364.6,1516.4 364.7,1510.9 364.9,1520.2 365,1519.8 365.2,1519.1 365.3,1516.7 365.5,1515.5 365.6,1518.9 365.8,1516.1 365.9,1513.7 366.1,1515 366.2,1515.2 366.4,1513.4 366.5,1512.4 366.7,1518.5 366.8,1516.9 367,1520.8 367.1,1518.7 367.3,1518.9 367.4,1517.7 367.6,1521.3 367.7,1517.2 367.9,1516.5 368,1519.9 368.2,1518.2 368.3,1514.6 368.5,1514.9 368.6,1519.2 368.8,1518.2 368.9,1517.3 369.1,1515.2 369.2,1514.3 369.4,1518.1 369.5,1518 369.7,1516.2 369.8,1518.5 370,1516 370.1,1520.8 370.3,1519.1 370.4,1512.4 370.6,1516.8 370.7,1519.9 370.9,1514.3 371,1516.8 371.2,1517.1 371.3,1516.7 371.5,1511.5 371.6,1518.3 371.8,1519.7 371.9,1515.5 372.1,1515.2 372.2,1519.7 372.4,1518.2 372.5,1512.7 372.7,1515.2 372.8,1513.2 373,1518 373.1,1517 373.3,1520.3 373.4,1523.3 373.6,1514.7 373.7,1520.5 373.9,1517.6 374,1519.8 374.2,1517.7 374.3,1519.2 374.5,1512.6 374.6,1517.4 374.8,1519.2 374.9,1517.7 375.1,1524.3 375.2,1516.1 375.4,1519.8 375.5,1514.7 375.7,1521 375.8,1514 376,1524.4 376.1,1519.8 376.3,1514.9 376.4,1516.2 376.6,1519.3 376.7,1515.4 376.9,1520.3 377,1515.2 377.2,1513.7 377.3,1513.4 377.5,1520.7 377.6,1513.9 377.8,1514.1 377.9,1517.2 378.1,1517.1 378.2,1516.7 378.4,1519.2 378.5,1518.7 378.7,1516.5 378.8,1515.5 379,1517.9 379.1,1522.8 379.3,1516.4 379.4,1523.6 379.6,1514.6 379.7,1516.1 379.9,1520.7 380,1515.6 380.2,1515.8 380.3,1519.4 380.5,1522.3 380.6,1515.2 380.8,1517.7 380.9,1519.5 381.1,1515.9 381.2,1520.1 381.4,1515.2 381.5,1513.7 381.7,1520.1 381.8,1519.9 382,1516.2 382.1,1518.1 382.3,1523.4 382.4,1515.3 382.6,1519.6 382.7,1515.1 382.9,1522.1 383,1517.4 383.2,1517.1 383.3,1516.9 383.5,1520.9 383.6,1522.6 383.8,1516.6 383.9,1515.6 384.1,1518.1 384.2,1517.1 384.4,1520.4 384.5,1521.4 384.7,1515.1 384.8,1514.3 385,1513.3 385.1,1517.4 385.3,1521 385.4,1525.5 385.6,1517.6 385.7,1515.4 385.9,1516.7 386,1516.7 386.2,1521.6 386.3,1515.3 386.5,1514.6 386.6,1511.5 386.8,1514.8 386.9,1514.1 387.1,1523.6 387.2,1522.5 387.4,1522.3 387.5,1516.2 387.7,1518.5 387.8,1521.4 388,1521.1 388.1,1517.1 388.3,1523.2 388.4,1517.5 388.6,1517.4 388.7,1512.9 388.9,1518.5 389,1523.7 389.2,1514.8 389.3,1518.1 389.5,1518.9 389.6,1520.6 389.8,1518.1 389.9,1520.7 390.1,1520 390.2,1520.2 390.4,1515.6 390.5,1516.8 390.7,1522.3 390.8,1518.8 391,1520.3 391.1,1518.3 391.3,1517.4 391.4,1519.6 391.6,1515.5 391.7,1515.6 391.9,1521.6 392,1518.9 392.2,1521.9 392.3,1523.3 392.5,1522.9 392.6,1522.3 392.8,1522 392.9,1517.8 393.1,1518.3 393.2,1521.1 393.4,1521.9 393.5,1518.6 393.7,1517.8 393.8,1515.5 394,1518.7 394.1,1518 394.3,1523.5 394.4,1520.3 394.6,1518 394.7,1521.3 394.9,1521.6 395,1513.2 395.2,1516.7 395.3,1519.4 395.5,1516.7 395.6,1518.6 395.8,1521.2 395.9,1519.8 396.1,1520.1 396.2,1516.8 396.4,1520.1 396.5,1519.7 396.7,1522.9 396.8,1522.7 397,1520.1 397.1,1520 397.3,1518.1 397.4,1518.1 397.6,1519 397.7,1522.4 397.9,1518.2 398,1523.7 398.2,1519.1 398.3,1518.1 398.5,1515.7 398.6,1520.8 398.8,1519.2 398.9,1519.7 399.1,1523.8 399.2,1517.2 399.4,1520.9 399.5,1517.8 399.7,1523 399.8,1518.3 400,1517.8 400.1,1519.6 400.3,1513.8 400.4,1518.9 400.6,1517.4 400.7,1525 400.9,1517.5 401,1524.1 401.2,1522.7 401.3,1522.1 401.5,1521 401.6,1514.9 401.8,1520.3 401.9,1519.5 402.1,1521.5 402.2,1520.1 402.4,1524.6 402.5,1519 402.7,1519 402.8,1524 403,1525.5 403.1,1522 403.3,1519.6 403.4,1522.6 403.6,1524.7 403.7,1518.8 403.9,1524.5 404,1518 404.2,1516.7 404.3,1525.3 404.5,1518.3 404.6,1518.2 404.8,1518.2 404.9,1515.8 405.1,1515.2 405.2,1518.7 405.4,1518.7 405.5,1519.6 405.7,1520.2 405.8,1516.2 406,1517 406.1,1518.9 406.3,1514.8 406.4,1515.1 406.6,1515.8 406.7,1518.7 406.9,1518.3 407,1513.9 407.2,1515.3 407.3,1517.1 407.5,1520.5 407.6,1519.8 407.8,1518.7 407.9,1519.1 408.1,1516.1 408.2,1516.8 408.4,1524 408.5,1518.4 408.7,1517.5 408.8,1522 409,1523.1 409.1,1519.4 409.3,1519.6 409.4,1515.2 409.6,1519.1 409.7,1516.4 409.9,1515.2 410,1515.8 410.2,1520.6 410.3,1518.9 410.5,1520.5 410.6,1521.7 410.8,1516.5 410.9,1522.9 411.1,1522.6 411.2,1522.4 411.4,1519.4 411.5,1519.8 411.7,1518.2 411.8,1518 412,1526.6 412.1,1522.5 412.3,1520 412.4,1517.9 412.6,1517.8 412.7,1523.1 412.9,1521.2 413,1524.3 413.2,1517.8 413.3,1520 413.5,1518.5 413.6,1520 413.8,1522.3 413.9,1524.3 414.1,1515.2 414.2,1524.5 414.4,1523.5 414.5,1516.5 414.7,1522.8 414.8,1518.4 415,1516.1 415.1,1516.2 415.3,1517.8 415.4,1518.8 415.6,1516.4 415.7,1518.7 415.9,1517.9 416,1520.2 416.2,1520.6 416.3,1523.3 416.5,1515.6 416.6,1519.1 416.8,1514.4 416.9,1524 417.1,1523.9 417.2,1520.7 417.4,1522.2 417.5,1520.3 417.7,1521.5 417.8,1521.1 418,1519.6 418.1,1515.7 418.3,1518 418.4,1522.1 418.6,1520 418.7,1520.3 418.9,1515.2 419,1525.4 419.2,1521.9 419.3,1518.7 419.5,1521.6 419.6,1516.8 419.8,1521.8 419.9,1519.8 420.1,1517.3 420.2,1514.7 420.4,1516.2 420.5,1520.7 420.7,1516.6 420.8,1522 421,1520.5 421.1,1516.5 421.3,1523.3 421.4,1516.2 421.6,1522.7 421.7,1517.6 421.9,1519.3 422,1518.1 422.2,1518.7 422.3,1523.4 422.5,1519.7 422.6,1517.7 422.8,1520.3 422.9,1517.6 423.1,1523.4 423.2,1521.6 423.4,1516 423.5,1519.1 423.7,1519.4 423.8,1518.9 424,1516.3 424.1,1521.5 424.3,1517.5 424.4,1519.6 424.6,1519.8 424.7,1522.3 424.9,1515.7 425,1518.7 425.2,1520.9 425.3,1520.3 425.5,1521.6 425.6,1517.2 425.8,1523.6 425.9,1521.2 426.1,1520.2 426.2,1519.4 426.4,1522 426.5,1522.1 426.7,1517.5 426.8,1515.4 427,1522.1 427.1,1520.8 427.3,1521 427.4,1521.9 427.6,1517.8 427.7,1526.3 427.9,1523.7 428,1521 428.2,1519.3 428.3,1518.9 428.5,1518.2 428.6,1518.2 428.8,1520.6 428.9,1520.4 429.1,1518.7 429.2,1516.8 429.4,1517 429.5,1520.6 429.7,1521 429.8,1516.2 430,1517.8 430.1,1515.7 430.3,1519.6 430.4,1520.5 430.6,1518.1 430.7,1523.9 430.9,1517.6 431,1521 431.2,1521.2 431.3,1519.7 431.5,1523 431.6,1521.3 431.8,1515.9 431.9,1523 432.1,1519.4 432.2,1522.4 432.4,1516.7 432.5,1514.8 432.7,1525.1 432.8,1518.7 433,1519 433.1,1517.5 433.3,1516.9 433.4,1518.5 433.6,1517.7 433.7,1521.4 433.9,1514.6 434,1517.8 434.2,1522.4 434.3,1520.2 434.5,1519.9 434.6,1522.8 434.8,1521.4 434.9,1522.1 435.1,1517.2 435.2,1515 435.4,1518.8 435.5,1515.8 435.7,1522.5 435.8,1519.4 436,1520.6 436.1,1517.6 436.3,1521.6 436.4,1520 436.6,1520 436.7,1520.9 436.9,1522.7 437,1517.8 437.2,1522.4 437.3,1519.3 437.5,1523.6 437.6,1523.8 437.8,1522.7 437.9,1522.3 438.1,1517.4 438.2,1522.1 438.4,1521.3 438.5,1521.6 438.7,1518.9 438.8,1517.4 439,1521.5 439.1,1520.6 439.3,1516.7 439.4,1516.2 439.6,1519.5 439.7,1520 439.9,1526 440,1521.5 440.2,1516.6 440.3,1521 440.5,1524.9 440.6,1520.6 440.8,1521.4 440.9,1518.1 441.1,1520 441.2,1519.3 441.4,1515.6 441.5,1520.8 441.7,1522 441.8,1519.5 442,1518.9 442.1,1522.8 442.3,1518.2 442.4,1524.1 442.6,1522.4 442.7,1518.5 442.9,1516.1 443,1520.5 443.2,1517.4 443.3,1520.3 443.5,1522.3 443.6,1520.8 443.8,1518.1 443.9,1518.3 444.1,1515.6 444.2,1518.7 444.4,1516.2 444.5,1515.9 444.7,1522.5 444.8,1522.7 445,1520.3 445.1,1516.8 445.3,1516.2 445.4,1521.5 445.6,1520.8 445.7,1522.3 445.9,1521.4 446,1513.4 446.2,1519.8 446.3,1522.7 446.5,1522.1 446.6,1524.3 446.8,1517.4 446.9,1519.8 447.1,1513.8 447.2,1515 447.4,1522.3 447.5,1523.3 447.7,1523.2 447.8,1517.1 448,1512.9 448.1,1520.6 448.3,1521 448.4,1520.3 448.6,1521.9 448.7,1524.4 448.9,1521.5 449,1523.3 449.2,1520.1 449.3,1520.7 449.5,1521 449.6,1518.6 449.8,1523.5 449.9,1517 450.1,1517.9 450.2,1517.5 450.4,1521.7 450.5,1519.8 450.7,1516.7 450.8,1518.8 451,1523.9 451.1,1518.7 451.3,1520.9 451.4,1520.6 451.6,1520.2 451.7,1523.9 451.9,1522 452,1522.9 452.2,1522.2 452.3,1518.8 452.5,1517.6 452.6,1518.7 452.8,1517.9 452.9,1520.2 453.1,1520.7 453.2,1522.1 453.4,1517.8 453.5,1520 453.7,1518.8 453.8,1519.3 454,1515.4 454.1,1522.1 454.3,1520.7 454.4,1522.9 454.6,1521.6 454.7,1518.2 454.9,1520.5 455,1526 455.2,1522.4 455.3,1519.4 455.5,1519.9 455.6,1521.2 455.8,1518.5 455.9,1520.4 456.1,1519.9 456.2,1518.1 456.4,1518.3 456.5,1524.3 456.7,1520.8 456.8,1516.6 457,1519.4 457.1,1516.9 457.3,1521.1 457.4,1518 457.6,1520.1 457.7,1520.4 457.9,1519.5 458,1517.2 458.2,1521.6 458.3,1520.2 458.5,1521.5 458.6,1520.8 458.8,1520.1 458.9,1520.5 459.1,1519.9 459.2,1516.8 459.4,1522.3 459.5,1525.6 459.7,1515.7 459.8,1515 460,1523.2 460.1,1521.2 460.3,1517.7 460.4,1520.3 460.6,1521.3 460.7,1522.4 460.9,1524.5 461,1516.7 461.2,1520.3 461.3,1524.6 461.5,1518.7 461.6,1517.4 461.8,1519.6 461.9,1519 462.1,1523.7 462.2,1518.6 462.4,1520.7 462.5,1521.2 462.7,1522.1 462.8,1519.4 463,1513 463.1,1520.6 463.3,1519.8 463.4,1520.2 463.6,1520.1 463.7,1515.5 463.9,1517.5 464,1514.4 464.2,1515.3 464.3,1524.1 464.5,1516.8 464.6,1519.9 464.8,1523.7 464.9,1523.3 465.1,1520.3 465.2,1516.3 465.4,1517.5 465.5,1519.2 465.7,1521.8 465.8,1520 466,1518.8 466.1,1518.3 466.3,1520.8 466.4,1524.6 466.6,1522.2 466.7,1518.4 466.9,1520 467,1518 467.2,1518.1 467.3,1521.8 467.5,1518.7 467.6,1517 467.8,1522.1 467.9,1521.8 468.1,1517.1 468.2,1520.9 468.4,1519.6 468.5,1520.3 468.7,1520 468.8,1520.2 469,1516.8 469.1,1519.1 469.3,1519.6 469.4,1518.6 469.6,1520.5 469.7,1522 469.9,1522.9 470,1514.9 470.2,1521.3 470.3,1522.2 470.5,1517.7 470.6,1517.6 470.8,1517.8 470.9,1517.7 471.1,1522.4 471.2,1514.1 471.4,1516.4 471.5,1520.1 471.7,1520.4 471.8,1525.8 472,1522 472.1,1517.2 472.3,1516.9 472.4,1520.6 472.6,1522 472.7,1519.7 472.9,1520.4 473,1519.9 473.2,1517.8 473.3,1526.5 473.5,1519.7 473.6,1524 473.8,1518.2 473.9,1522.1 474.1,1524.2 474.2,1518.5 474.4,1517.9 474.5,1521.7 474.7,1515.8 474.8,1521 475,1521.1 475.1,1519.7 475.3,1520.3 475.4,1521.6 475.6,1515.6 475.7,1520.6 475.9,1518.3 476,1521.2 476.2,1521.7 476.3,1521.4 476.5,1523.1 476.6,1517.1 476.8,1523.5 476.9,1519.9 477.1,1519 477.2,1525 477.4,1518.6 477.5,1522.5 477.7,1521.4 477.8,1523 478,1518.1 478.1,1524 478.3,1523 478.4,1519.4 478.6,1514.3 478.7,1517.2 478.9,1516.8 479,1522.7 479.2,1516.7 479.3,1520.6 479.5,1520.7 479.6,1513 479.8,1515.7 479.9,1519 480.1,1522.5 480.2,1519.1 480.4,1517.1 480.5,1518.9 480.7,1516 480.8,1520.8 481,1517.9 481.1,1516.8 481.3,1519.8 481.4,1520.8 481.6,1515.7 481.7,1519 481.9,1518.2 482,1521.5 482.2,1518.6 482.3,1518.4 482.5,1518.3 482.6,1519.1 482.8,1518.7 482.9,1520 483.1,1518.8 483.2,1520.4 483.4,1520.7 483.5,1515.2 483.7,1526.5 483.8,1524.1 484,1519.7 484.1,1520.9 484.3,1513 484.4,1517.2 484.6,1515.8 484.7,1521.5 484.9,1520.7 485,1523.5 485.2,1521.2 485.3,1517.6 485.5,1521.8 485.6,1517.4 485.8,1518.9 485.9,1523.3 486.1,1522.4 486.2,1520.7 486.4,1518 486.5,1521.9 486.7,1522 486.8,1520.3 487,1519.8 487.1,1519.5 487.3,1517.9 487.4,1524.4 487.6,1520.6 487.7,1518.4 487.9,1515.5 488,1518 488.2,1520 488.3,1519.1 488.5,1522 488.6,1518 488.8,1522.8 488.9,1522.4 489.1,1521.6 489.2,1519.5 489.4,1517 489.5,1520 489.7,1515.7 489.8,1516.7 490,1516.1 490.1,1517.7 490.3,1518.6 490.4,1519.6 490.6,1517.1 490.7,1519.2 490.9,1521 491,1517.6 491.2,1517 491.3,1520.1 491.5,1521.6 491.6,1519.9 491.8,1524.5 491.9,1516.9 492.1,1520.4 492.2,1517 492.4,1517.9 492.5,1520.3 492.7,1519.5 492.8,1525.1 493,1520 493.1,1522.9 493.3,1517.5 493.4,1520.4 493.6,1518.4 493.7,1521 493.9,1522.3 494,1522.1 494.2,1516.3 494.3,1518.5 494.5,1520 494.6,1519.2 494.8,1521.9 494.9,1519.4 495.1,1521 495.2,1514 495.4,1522.5 495.5,1519.5 495.7,1523.1 495.8,1523.4 496,1524.1 496.1,1515.8 496.3,1518 496.4,1516.5 496.6,1517.5 496.7,1520.5 496.9,1522.7 497,1522.1 497.2,1523.7 497.3,1520.7 497.5,1521.3 497.6,1521.3 497.8,1515.7 497.9,1523.6 498.1,1519.7 498.2,1522.2 498.4,1520.9 498.5,1520.8 498.7,1516.7 498.8,1521.6 499,1519.6 499.1,1514.9 499.3,1514.9 499.4,1518.3 499.6,1518.1 499.7,1514.7 499.9,1517.6 500,1520.3 500.2,1521.3 500.3,1521.5 500.5,1519 500.6,1519.9 500.8,1515.7 500.9,1520.9 501.1,1516.6 501.2,1518.6 501.4,1519 501.5,1516.9 501.7,1519.4 501.8,1519.7 502,1524.1 502.1,1520.3 502.3,1523 502.4,1519.5 502.6,1520 502.7,1520.4 502.9,1522.5 503,1521.4 503.2,1516.5 503.3,1517.5 503.5,1520.7 503.6,1516.5 503.8,1520.5 503.9,1524.3 504.1,1520.7 504.2,1520.5 504.4,1522.4 504.5,1521.7 504.7,1519.2 504.8,1522.3 505,1520.3 505.1,1519 505.3,1522.7 505.4,1521.3 505.6,1522.8 505.7,1518.7 505.9,1516.1 506,1518.3 506.2,1525 506.3,1517.6 506.5,1522.5 506.6,1519.7 506.8,1523.2 506.9,1515 507.1,1519.2 507.2,1521.4 507.4,1519.5 507.5,1516 507.7,1524.7 507.8,1517.7 508,1520 508.1,1525.1 508.3,1519.5 508.4,1518.5 508.6,1521.2 508.7,1523.3 508.9,1522.4 509,1520.1 509.2,1517.9 509.3,1519.7 509.5,1518 509.6,1523.1 509.8,1523.7 509.9,1516.7 510.1,1515.6 510.2,1521.2 510.4,1519.9 510.5,1520.1 510.7,1518.2 510.8,1518.7 511,1519.4 511.1,1520.4 511.3,1525.5 511.4,1516.3 511.6,1523.7 511.7,1522.8 511.9,1525.1 512,1522.1 512.2,1523.4 512.3,1521.9 512.5,1523.2 512.6,1519.3 512.8,1519.8 512.9,1524.2 513.1,1517.7 513.2,1522.9 513.4,1514.8 513.5,1520.3 513.7,1519.8 513.8,1520.8 514,1518.8 514.1,1513.1 514.3,1519.6 514.4,1519.8 514.6,1521.4 514.7,1522.1 514.9,1517.9 515,1517.3 515.2,1522.4 515.3,1520.9 515.5,1521.4 515.6,1522.1 515.8,1520.4 515.9,1522.5 516.1,1522.9 516.2,1513.4 516.4,1526.5 516.5,1521.5 516.7,1519.2 516.8,1522.6 517,1523.9 517.1,1519.8 517.3,1519.2 517.4,1517.8 517.6,1525.3 517.7,1520.9 517.9,1518.5 518,1515.5 518.2,1518 518.3,1523.3 518.5,1520 518.6,1520.8 518.8,1519.2 518.9,1518.3 519.1,1516.2 519.2,1522.2 519.4,1518 519.5,1521.1 519.7,1522.2 519.8,1522.2 520,1522 520.1,1518.6 520.3,1519 520.4,1527 520.6,1520.3 520.7,1518.5 520.9,1518.8 521,1518.1 521.2,1520.9 521.3,1518.9 521.5,1525.4 521.6,1520.8 521.8,1523 521.9,1524.9 522.1,1524.9 522.2,1521.6 522.4,1519.5 522.5,1526 522.7,1521.3 522.8,1519.1 523,1522.3 523.1,1518.2 523.3,1521.9 523.4,1518.9 523.6,1519.7 523.7,1516.7 523.9,1516.4 524,1523.5 524.2,1517.1 524.3,1515.9 524.5,1525.4 524.6,1516.3 524.8,1518.8 524.9,1522.7 525.1,1516.5 525.2,1518.9 525.4,1521.7 525.5,1521.2 525.7,1520.8 525.8,1520.1 526,1520.2 526.1,1520.8 526.3,1522.5 526.4,1520.1 526.6,1518.6 526.7,1517.4 526.9,1521.4 527,1522.1 527.2,1523.9 527.3,1516.3 527.5,1517.3 527.6,1523.7 527.8,1525.5 527.9,1520.4 528.1,1522.7 528.2,1518.8 528.4,1514.6 528.5,1520.5 528.7,1523.4 528.8,1517.7 529,1517.5 529.1,1518.6 529.3,1519.7 529.4,1520.7 529.6,1519.1 529.7,1524.7 529.9,1519.6 530,1520.2 530.2,1518.9 530.3,1526.4 530.5,1519.5 530.6,1519.3 530.8,1522.3 530.9,1519.5 531.1,1522.5 531.2,1519.8 531.4,1525.1 531.5,1521.9 531.7,1520.1 531.8,1521.3 532,1518.5 532.1,1519.3 532.3,1524.5 532.4,1521.9 532.6,1518 532.7,1519.4 532.9,1517.4 533,1521.3 533.2,1519.8 533.3,1518.6 533.5,1524 533.6,1520.1 533.8,1524.6 533.9,1520.3 534.1,1517.4 534.2,1519.3 534.4,1519.9 534.5,1520.6 534.7,1518.2 534.8,1522.6 535,1514.6 535.1,1518.5 535.3,1518.5 535.4,1518.1 535.6,1521.6 535.7,1517.3 535.9,1518.5 536,1521.2 536.2,1520.6 536.3,1520.9 536.5,1522.6 536.6,1525.6 536.8,1520.7 536.9,1519.3 537.1,1516.6 537.2,1519 537.4,1515.5 537.5,1520.3 537.7,1520 537.8,1519.7 538,1520.9 538.1,1517.1 538.3,1522.4 538.4,1519.6 538.6,1519.4 538.7,1520.4 538.9,1513.1 539,1518.6 539.2,1520.8 539.3,1516.6 539.5,1519.7 539.6,1518.5 539.8,1521.6 539.9,1524.7 540.1,1514.5 540.2,1518.7 540.4,1520.9 540.5,1522.8 540.7,1521.6 540.8,1521.1 541,1520.5 541.1,1525.7 541.3,1521.8 541.4,1516.3 541.6,1518.1 541.7,1515.5 541.9,1518.7 542,1521.5 542.2,1516.4 542.3,1521.2 542.5,1519.4 542.6,1519.2 542.8,1519.5 542.9,1524.4 543.1,1516.7 543.2,1522.1 543.4,1518.8 543.5,1521.9 543.7,1519.9 543.8,1517.9 544,1524.7 544.1,1524.2 544.3,1517.7 544.4,1522.4 544.6,1522.2 544.7,1516.8 544.9,1518.2 545,1519.7 545.2,1517.3 545.3,1521.1 545.5,1517.9 545.6,1517.9 545.8,1518 545.9,1520.3 546.1,1516.9 546.2,1516.1 546.4,1514.9 546.5,1520.9 546.7,1520.9 546.8,1517 547,1519.7 547.1,1514.2 547.3,1518.8 547.4,1519.6 547.6,1522.8 547.7,1518.1 547.9,1520.9 548,1516.2 548.2,1518 548.3,1517.9 548.5,1519.1 548.6,1522.3 548.8,1519.4 548.9,1521.2 549.1,1519.2 549.2,1520.7 549.4,1516.4 549.5,1516.6 549.7,1520 549.8,1518.9 550,1520.1 550.1,1518.5 550.3,1513.1 550.4,1519.7 550.6,1526.7 550.7,1517 550.9,1519.6 551,1521.4 551.2,1522.1 551.3,1517.8 551.5,1521.7 551.6,1516.8 551.8,1519 551.9,1522.3 552.1,1519.5 552.2,1517.6 552.4,1521.2 552.5,1523.6 552.7,1519.5 552.8,1513.4 553,1521.1 553.1,1521.1 553.3,1522.3 553.4,1516 553.6,1520.1 553.7,1519.5 553.9,1518.4 554,1518.6 554.2,1524 554.3,1517.7 554.5,1522.7 554.6,1523.9 554.8,1520.8 554.9,1519 555.1,1520.4 555.2,1522 555.4,1522.1 555.5,1519.3 555.7,1520.9 555.8,1523.4 556,1524.2 556.1,1521.1 556.3,1521.1 556.4,1525.9 556.6,1520.6 556.7,1518.5 556.9,1516.8 557,1517.9 557.2,1521.7 557.3,1522.3 557.5,1518.9 557.6,1522.9 557.8,1522.6 557.9,1514.2 558.1,1524.8 558.2,1520.3 558.4,1524.3 558.5,1518.9 558.7,1523 558.8,1519.4 559,1518.5 559.1,1518.9 559.3,1516.6 559.4,1515.5 559.6,1523.7 559.7,1522.4 559.9,1516.9 560,1519.6 560.2,1518.8 560.3,1519.7 560.5,1518 560.6,1521 560.8,1516.7 560.9,1518.8 561.1,1515.1 561.2,1523 561.4,1522.9 561.5,1520.7 561.7,1524 561.8,1523.7 562,1521.7 562.1,1522.3 562.3,1515 562.4,1522.7 562.6,1519.7 562.7,1521.7 562.9,1523.2 563,1519.6 563.2,1517.4 563.3,1516.8 563.5,1520.9 563.6,1517 563.8,1518.9 563.9,1520.9 564.1,1517.9 564.2,1521.8 564.4,1516.4 564.5,1523.6 564.7,1523.3 564.8,1526.4 565,1519.5 565.1,1522.5 565.3,1522 565.4,1519.1 565.6,1516.4 565.7,1520.4 565.9,1524.2 566,1515.9 566.2,1523.1 566.3,1519.6 566.5,1518.7 566.6,1517.2 566.8,1519.9 566.9,1517.2 567.1,1518.2 567.2,1519.2 567.4,1520.3 567.5,1519.4 567.7,1522.3 567.8,1522.3 568,1519.1 568.1,1514.6 568.3,1524.5 568.4,1519.9 568.6,1518.1 568.7,1522.3 568.9,1521 569,1517.7 569.2,1524.1 569.3,1518.5 569.5,1518.4 569.6,1519.7 569.8,1517.3 569.9,1518.5 570.1,1520.2 570.2,1519.6 570.4,1524 570.5,1523.1 570.7,1517.3 570.8,1519.3 571,1517.8 571.1,1516.7 571.3,1521.8 571.4,1513.1 571.6,1522.9 571.7,1516.4 571.9,1523.6 572,1518.1 572.2,1520.1 572.3,1523 572.5,1520.8 572.6,1520.7 572.8,1521.4 572.9,1520 573.1,1521.2 573.2,1519.1 573.4,1516.7 573.5,1521.6 573.7,1522.9 573.8,1513.5 574,1522.9 574.1,1524.1 574.3,1516.6 574.4,1522.7 574.6,1518.9 574.7,1520.8 574.9,1522.5 575,1518.5 575.2,1523.3 575.3,1518 575.5,1525.6 575.6,1519.1 575.8,1520.1 575.9,1522.4 576.1,1526.2 576.2,1521.8 576.4,1520.1 576.5,1520 576.7,1516.8 576.8,1517.3 577,1522.6 577.1,1522.1 577.3,1523.7 577.4,1520.8 577.6,1520 577.7,1519.3 577.9,1521.9 578,1518.3 578.2,1522.4 578.3,1519.9 578.5,1516 578.6,1522 578.8,1520.7 578.9,1526.2 579.1,1517.6 579.2,1517.4 579.4,1519.3 579.5,1518.5 579.7,1524.3 579.8,1517.7 580,1518 580.1,1515.3 580.3,1521.5 580.4,1520.4 580.6,1523.8 580.7,1524.6 580.9,1518.8 581,1520.1 581.2,1522.6 581.3,1518.7 581.5,1516.7 581.6,1521.9 581.8,1518.7 581.9,1519.8 582.1,1519.4 582.2,1517.1 582.4,1521.1 582.5,1518.7 582.7,1525.2 582.8,1519.2 583,1514.3 583.1,1515.3 583.3,1517.7 583.4,1522.8 583.6,1518.5 583.7,1520.2 583.9,1521.3 584,1519.6 584.2,1519.4 584.3,1517 584.5,1520.3 584.6,1525.5 584.8,1521 584.9,1516.4 585.1,1520.1 585.2,1517.9 585.4,1518.5 585.5,1520.3 585.7,1517.5 585.8,1516.8 586,1516.6 586.1,1522.6 586.3,1519.7 586.4,1519.5 586.6,1519 586.7,1523.6 586.9,1521.9 587,1518.4 587.2,1516.9 587.3,1520 587.5,1522.6 587.6,1515.1 587.8,1518.2 587.9,1517 588.1,1520.6 588.2,1520 588.4,1519.4 588.5,1518.8 588.7,1523.3 588.8,1520.6 589,1527 589.1,1519.1 589.3,1523.5 589.4,1515.3 589.6,1517.6 589.7,1517.1 589.9,1516.9 590,1517.9 590.2,1520.7 590.3,1520.2 590.5,1519.4 590.6,1521.7 590.8,1522.2 590.9,1518 591.1,1513.9 591.2,1519.2 591.4,1522.8 591.5,1525.7 591.7,1525.7 591.8,1522.8 592,1518.5 592.1,1520.9 592.3,1523.4 592.4,1520.3 592.6,1520.6 592.7,1518.2 592.9,1518.7 593,1520.1 593.2,1523.4 593.3,1523.5 593.5,1520.7 593.6,1521.8 593.8,1516.8 593.9,1516.9 594.1,1524.1 594.2,1516.4 594.4,1523.3 594.5,1520.1 594.7,1518.2 594.8,1523.4 595,1520 595.1,1520.9 595.3,1517.7 595.4,1521.1 595.6,1522.2 595.7,1518 595.9,1519 596,1517.8 596.2,1520.7 596.3,1523.5 596.5,1516.9 596.6,1519 596.8,1513.1 596.9,1520 597.1,1525 597.2,1521.1 597.4,1518.9 597.5,1524.9 597.7,1523 597.8,1520.1 598,1521.3 598.1,1518.8 598.3,1521.7 598.4,1514 598.6,1521.7 598.7,1519.7 598.9,1522.8 599,1520.1 599.2,1519.7 599.3,1522.1 599.5,1523.5 599.6,1514.4 599.8,1521 599.9,1520.7 600.1,1523.6 600.2,1514.7 600.4,1522.8 600.5,1520 600.7,1519.9 600.8,1516.7 601,1522.8 601.1,1518.9 601.3,1519.1 601.4,1521.1 601.6,1522.9 601.7,1523.6 601.9,1520.7 602,1521.7 602.2,1519.3 602.3,1517 602.5,1519.2 602.6,1518.3 602.8,1522.9 602.9,1525.6 603.1,1520.2 603.2,1518.2 603.4,1521.6 603.5,1523.7 603.7,1521.5 603.8,1520.5 604,1518.3 604.1,1521.6 604.3,1519.7 604.4,1521.4 604.6,1527.1 604.7,1517.7 604.9,1522.2 605,1515.5 605.2,1515.6 605.3,1521.5 605.5,1520.9 605.6,1518.4 605.8,1519.8 605.9,1516 606.1,1515.8 606.2,1524.2 606.4,1525.9 606.5,1517.6 606.7,1515.7 606.8,1520.7 607,1521.8 607.1,1519.5 607.3,1521.8 607.4,1527.1 607.6,1525.2 607.7,1522.3 607.9,1517.9 608,1522 608.2,1520.7 608.3,1524.5 608.5,1517.9 608.6,1526.1 608.8,1518.9 608.9,1520.1 609.1,1520.3 609.2,1520.6 609.4,1520.5 609.5,1521.7 609.7,1519.5 609.8,1514.3 610,1519.5 610.1,1525.6 610.3,1522.1 610.4,1518.6 610.6,1519.3 610.7,1519.5 610.9,1521.1 611,1521.7 611.2,1522.7 611.3,1524.7 611.5,1518.8 611.6,1518.6 611.8,1513.7 611.9,1518.2 612.1,1520.8 612.2,1517.4 612.4,1517.8 612.5,1524.3 612.7,1519.6 612.8,1518.4 613,1523 613.1,1521.8 613.3,1521.5 613.4,1517.7 613.6,1522 613.7,1518.9 613.9,1524.7 614,1517.4 614.2,1517.7 614.3,1516 614.5,1520.2 614.6,1521.4 614.8,1524.8 614.9,1517.9 615.1,1516.5 615.2,1520.1 615.4,1520.4 615.5,1522.7 615.7,1516.2 615.8,1521.5 616,1518.3 616.1,1525.8 616.3,1519.8 616.4,1519.7 616.6,1517.7 616.7,1516.4 616.9,1522.3 617,1522.4 617.2,1518.7 617.3,1517.3 617.5,1525.3 617.6,1522.8 617.8,1515.7 617.9,1521.9 618.1,1521.1 618.2,1521.1 618.4,1518.9 618.5,1519.2 618.7,1521.4 618.8,1515.1 619,1516.4 619.1,1519.6 619.3,1520.6 619.4,1522.7 619.6,1518.9 619.7,1524 619.9,1521.7 620,1520.8 620.2,1520.3 620.3,1521.4 620.5,1516 620.6,1520.9 620.8,1518.2 620.9,1519.1 621.1,1521.1 621.2,1519.1 621.4,1521 621.5,1522.8 621.7,1523.2 621.8,1519.4 622,1522.5 622.1,1519.7 622.3,1520.2 622.4,1519.2 622.6,1519.5 622.7,1521.3 622.9,1518.7 623,1520.2 623.2,1519.1 623.3,1520.3 623.5,1521.7 623.6,1521.8 623.8,1521.9 623.9,1520.8 624.1,1522.8 624.2,1519.6 624.4,1520.3 624.5,1520.7 624.7,1521.9 624.8,1517 625,1516.7 625.1,1517.6 625.3,1520.9 625.4,1519.9 625.6,1517.6 625.7,1517.7 625.9,1518.3 626,1517.9 626.2,1516.5 626.3,1519.9 626.5,1523.5 626.6,1519 626.8,1519.5 626.9,1515.3 627.1,1520.3 627.2,1519.9 627.4,1519 627.5,1522.5 627.7,1522.4 627.8,1523.6 628,1523.5 628.1,1518 628.3,1517.2 628.4,1525.6 628.6,1519.7 628.7,1519.2 628.9,1519.1 629,1517.3 629.2,1527.1 629.3,1516.5 629.5,1522.9 629.6,1527.1 629.8,1517.5 629.9,1519.3 630.1,1524.9 630.2,1526.7 630.4,1520.8 630.5,1516.7 630.7,1517.4 630.8,1522.2 631,1521.8 631.1,1517.9 631.3,1521 631.4,1522 631.6,1520.4 631.7,1522.5 631.9,1526.1 632,1520.6 632.2,1523 632.3,1517.6 632.5,1519.9 632.6,1522.4 632.8,1524.8 632.9,1522 633.1,1520.6 633.2,1522.5 633.4,1517 633.5,1515.6 633.7,1518.6 633.8,1524.2 634,1523.2 634.1,1526.8 634.3,1521.3 634.4,1521.9 634.6,1520.1 634.7,1522.7 634.9,1524.8 635,1519.2 635.2,1521.8 635.3,1519.3 635.5,1516 635.6,1521.9 635.8,1516.6 635.9,1521.4 636.1,1520.8 636.2,1518.4 636.4,1526.6 636.5,1519.5 636.7,1519.5 636.8,1518.6 637,1517.1 637.1,1519.5 637.3,1520.2 637.4,1518.1 637.6,1518.8 637.7,1515.5 637.9,1521.3 638,1517.7 638.2,1517.4 638.3,1516.8 638.5,1520.2 638.6,1520.4 638.8,1524.7 638.9,1520.3 639.1,1525.1 639.2,1521.3 639.4,1521.8 639.5,1521.4 639.7,1521.4 639.8,1519.6 640,1517 640.1,1518.6 640.3,1522 640.4,1522.1 640.6,1520.3 640.7,1518.4 640.9,1522.8 641,1518.7 641.2,1514.8 641.3,1520 641.5,1523 641.6,1516.2 641.8,1518.2 641.9,1520.3 642.1,1520.5 642.2,1518.9 642.4,1518.3 642.5,1522 642.7,1518.9 642.8,1524.4 643,1520.8 643.1,1522.3 643.3,1519.5 643.4,1518.2 643.6,1515.8 643.7,1517.5 643.9,1523.4 644,1519.7 644.2,1516.2 644.3,1523.1 644.5,1520.3 644.6,1516 644.8,1520 644.9,1522.9 645.1,1519 645.2,1521.6 645.4,1518.8 645.5,1522.3 645.7,1520.1 645.8,1521.6 646,1523.6 646.1,1521 646.3,1513.1 646.4,1517.4 646.6,1513.1 646.7,1522.7 646.9,1519.2 647,1518.8 647.2,1522.5 647.3,1520.9 647.5,1519 647.6,1514.7 647.8,1520.2 647.9,1523.9 648.1,1517.8 648.2,1513.8 648.4,1520.7 648.5,1520.2 648.7,1519.9 648.8,1523.5 649,1523.2 649.1,1520 649.3,1517.6 649.4,1518.5 649.6,1521.7 649.7,1520.3 649.9,1516.4 650,1519.1 650.2,1521 650.3,1516.7 650.5,1513.1 650.6,1521.4 650.8,1523 650.9,1521.2 651.1,1524.3 651.2,1523 651.4,1521.3 651.5,1521.4 651.7,1521.7 651.8,1521.6 652,1524.5 652.1,1518.8 652.3,1521 652.4,1521.3 652.6,1519 652.7,1521.4 652.9,1519.2 653,1513.1 653.2,1522.9 653.3,1523.3 653.5,1521.8 653.6,1519.2 653.8,1525.5 653.9,1519.7 654.1,1519.7 654.2,1519.7 654.4,1522.1 654.5,1520.4 654.7,1520 654.8,1519.9 655,1523.6 655.1,1519.1 655.3,1523.3 655.4,1518.1 655.6,1526.1 655.7,1520.6 655.9,1522.1 656,1519.2 656.2,1522.4 656.3,1514.7 656.5,1521.7 656.6,1517.1 656.8,1519.9 656.9,1520.1 657.1,1515.8 657.2,1518.9 657.4,1522.9 657.5,1520.2 657.7,1522.2 657.8,1518.9 658,1520.7 658.1,1526.1 658.3,1523.6 658.4,1521.1 658.6,1518.7 658.7,1518.5 658.9,1526 659,1520.1 659.2,1521.9 659.3,1521.5 659.5,1520.7 659.6,1522 659.8,1522.8 659.9,1527 660.1,1515.8 660.2,1521.3 660.4,1520 660.5,1513.8 660.7,1516.6 660.8,1517.9 661,1519.1 661.1,1522.5 661.3,1521.3 661.4,1520 661.6,1516.7 661.7,1518.3 661.9,1518.1 662,1518.5 662.2,1519.3 662.3,1518.6 662.5,1526.3 662.6,1525.4 662.8,1524.9 662.9,1520.6 663.1,1518.3 663.2,1519.2 663.4,1518 663.5,1520 663.7,1518.6 663.8,1524 664,1517.8 664.1,1522.6 664.3,1521 664.4,1521.2 664.6,1519.7 664.7,1523.4 664.9,1523.7 665,1516 665.2,1524 665.3,1516.7 665.5,1520 665.6,1521 665.8,1520.2 665.9,1516.4 666.1,1520.4 666.2,1520 666.4,1517.5 666.5,1522.9 666.7,1519.4 666.8,1519.2 667,1521.7 667.1,1516.1 667.3,1521.4 667.4,1520.2 667.6,1518 667.7,1520.1 667.9,1519.4 668,1522.9 668.2,1516.3 668.3,1513.7 668.5,1516.6 668.6,1519.1 668.8,1516 668.9,1517.4 669.1,1520.9 669.2,1520.2 669.4,1518 669.5,1519.4 669.7,1521.8 669.8,1519.8 670,1516.8 670.1,1520.1 670.3,1520.7 670.4,1519.1 670.6,1525.6 670.7,1518.6 670.9,1515.1 671,1520.2 671.2,1524.9 671.3,1519.2 671.5,1520.3 671.6,1524.6 671.8,1522.5 671.9,1518.3 672.1,1517.2 672.2,1519.8 672.4,1520.1 672.5,1518.2 672.7,1522.3 672.8,1521 673,1520.3 673.1,1520.3 673.3,1520.6 673.4,1519.7 673.6,1518.1 673.7,1521.7 673.9,1520.1 674,1520.4 674.2,1520.2 674.3,1516.5 674.5,1520.2 674.6,1515.3 674.8,1519.6 674.9,1523.7 675.1,1520.1 675.2,1521.7 675.4,1517.1 675.5,1523.8 675.7,1520.5 675.8,1526.9 676,1520.4 676.1,1524.5 676.3,1517.4 676.4,1518.6 676.6,1520.2 676.7,1518.3 676.9,1522.8 677,1520.8 677.2,1522.1 677.3,1519.4 677.5,1524.5 677.6,1516.4 677.8,1521.2 677.9,1522.7 678.1,1515 678.2,1514 678.4,1517.5 678.5,1527.1 678.7,1519.4 678.8,1521.9 679,1521.9 679.1,1523.8 679.3,1520.3 679.4,1521.9 679.6,1518 679.7,1523 679.9,1518.3 680,1519.1 680.2,1516.9 680.3,1524.1 680.5,1521.1 680.6,1520.9 680.8,1519.3 680.9,1520.2 681.1,1521.9 681.2,1521 681.4,1519 681.5,1521.2 681.7,1520 681.8,1524.5 682,1520.5 682.1,1517.1 682.3,1517.1 682.4,1521 682.6,1521.8 682.7,1519.7 682.9,1521.1 683,1523.8 683.2,1518.5 683.3,1519.7 683.5,1518.7 683.6,1513.9 683.8,1521.4 683.9,1517.2 684.1,1517.8 684.2,1515.5 684.4,1514.8 684.5,1519 684.7,1522.2 684.8,1521.3 685,1521 685.1,1513.9 685.3,1523.5 685.4,1518.3 685.6,1522.5 685.7,1523.7 685.9,1519.2 686,1521.5 686.2,1519 686.3,1522 686.5,1517.5 686.6,1516 686.8,1521.9 686.9,1519.1 687.1,1521.8 687.2,1524.3 687.4,1525.1 687.5,1514.4 687.7,1520.7 687.8,1524 688,1519.5 688.1,1520 688.3,1521.4 688.4,1520 688.6,1521.3 688.7,1522.1 688.9,1519.1 689,1514.9 689.2,1517.5 689.3,1518.5 689.5,1518.5 689.6,1518.5 689.8,1516.2 689.9,1515.6 690.1,1522.6 690.2,1523.9 690.4,1521.2 690.5,1516.2 690.7,1515.7 690.8,1519.4 691,1517.7 691.1,1521.3 691.3,1519.2 691.4,1522.3 691.6,1518.5 691.7,1524.5 691.9,1525.5 692,1524 692.2,1520.7 692.3,1519.7 692.5,1517.8 692.6,1520.6 692.8,1517.9 692.9,1521.1 693.1,1520.9 693.2,1518.5 693.4,1524.1 693.5,1522 693.7,1521 693.8,1522.4 694,1522 694.1,1521.5 694.3,1520.1 694.4,1524 694.6,1519.2 694.7,1520.9 694.9,1519.1 695,1520.6 695.2,1519.8 695.3,1522.4 695.5,1520.6 695.6,1523.7 695.8,1519.8 695.9,1517.2 696.1,1522.1 696.2,1520 696.4,1525.3 696.5,1522.9 696.7,1519.4 696.8,1522.6 697,1520.4 697.1,1518.6 697.3,1521.9 697.4,1517 697.6,1524.9 697.7,1522 697.9,1521.3 698,1520.1 698.2,1526.4 698.3,1516.6 698.5,1520.2 698.6,1520.6 698.8,1518.9 698.9,1521 699.1,1518.5 699.2,1520.3 699.4,1521.3 699.5,1522.7 699.7,1515.3 699.8,1525.1 700,1525.5 700.1,1520.7 700.3,1522.4 700.4,1513.5 700.6,1515.1 700.7,1519.5 700.9,1522.5 701,1518.5 701.2,1522.1 701.3,1515.7 701.5,1519.6 701.6,1516.8 701.8,1515.6 701.9,1520.2 702.1,1515.9 702.2,1522.8 702.4,1519 702.5,1519.6 702.7,1519.3 702.8,1520.6 703,1516.1 703.1,1521.1 703.3,1518.9 703.4,1521.8 703.6,1515.8 703.7,1517.9 703.9,1519.3 704,1520.4 704.2,1519.8 704.3,1521.1 704.5,1523.9 704.6,1524.2 704.8,1516.4 704.9,1523.4 705.1,1516.2 705.2,1522.2 705.4,1519.4 705.5,1517.7 705.7,1526 705.8,1524.7 706,1519.8 706.1,1513.5 706.3,1525.5 706.4,1519.8 706.6,1521.4 706.7,1520.2 706.9,1520.4 707,1521.7 707.2,1518.4 707.3,1516.7 707.5,1517.4 707.6,1527.1 707.8,1517.5 707.9,1521.4 708.1,1522.2 708.2,1517.5 708.4,1519.4 708.5,1515.7 708.7,1524.3 708.8,1517.3 709,1521.2 709.1,1518.9 709.3,1520.7 709.4,1520.9 709.6,1523.2 709.7,1523.8 709.9,1514.4 710,1520.3 710.2,1516 710.3,1521.3 710.5,1516.6 710.6,1519.6 710.8,1520.2 710.9,1521.6 711.1,1517.4 711.2,1523 711.4,1522.5 711.5,1515.6 711.7,1519.7 711.8,1520.1 712,1524.8 712.1,1522.3 712.3,1517.1 712.4,1521.8 712.6,1525.4 712.7,1518 712.9,1524.4 713,1518.9 713.2,1513.9 713.3,1516.3 713.5,1520.4 713.6,1522.2 713.8,1522.8 713.9,1519.6 714.1,1520.3 714.2,1516.2 714.4,1520.1 714.5,1516.9 714.7,1518.8 714.8,1515.2 715,1526.9 715.1,1519.4 715.3,1522.5 715.4,1521.4 715.6,1525.6 715.7,1519.6 715.9,1523.5 716,1517.3 716.2,1515.2 716.3,1516.3 716.5,1524.6 716.6,1520.6 716.8,1517.4 716.9,1523.7 717.1,1517.3 717.2,1517.1 717.4,1523.1 717.5,1518.9 717.7,1519.7 717.8,1519.6 718,1517.1 718.1,1520.3 718.3,1518.2 718.4,1520.5 718.6,1521.6 718.7,1523.3 718.9,1518 719,1521.7 719.2,1515.8 719.3,1520.2 719.5,1522.7 719.6,1522 719.8,1518.9 719.9,1518.1 720.1,1521.2 720.2,1522.9 720.4,1519.9 720.5,1520.2 720.7,1517.5 720.8,1523.4 721,1516.4 721.1,1523.1 721.3,1522.3 721.4,1517.7 721.6,1517 721.7,1520.7 721.9,1520.5 722,1519.7 722.2,1521.9 722.3,1520.4 722.5,1516.5 722.6,1516 722.8,1519.8 722.9,1519.5 723.1,1519.6 723.2,1516.1 723.4,1524.1 723.5,1519.3 723.7,1519.8 723.8,1520.6 724,1520.3 724.1,1523.1 724.3,1520 724.4,1519.5 724.6,1521.3 724.7,1518 724.9,1516.4 725,1517.8 725.2,1520.1 725.3,1520.7 725.5,1520.4 725.6,1523.7 725.8,1520 725.9,1517.5 726.1,1520.7 726.2,1519.3 726.4,1522.1 726.5,1519.9 726.7,1519.1 726.8,1519.8 727,1525.5 727.1,1521.8 727.3,1520.9 727.4,1521.3 727.6,1519 727.7,1520.7 727.9,1525.4 728,1521.4 728.2,1522.7 728.3,1517.8 728.5,1518.7 728.6,1519.4 728.8,1516.6 728.9,1519.6 729.1,1520.6 729.2,1522.8 729.4,1517.6 729.5,1520.7 729.7,1518.3 729.8,1525.7 730,1515.6 730.1,1518.9 730.3,1518.2 730.4,1520.9 730.6,1523.5 730.7,1519.9 730.9,1521.1 731,1522 731.2,1521.8 731.3,1518.8 731.5,1520.7 731.6,1523.6 731.8,1519.2 731.9,1519.1 732.1,1519.2 732.2,1522 732.4,1522.3 732.5,1520.4 732.7,1516.6 732.8,1522.8 733,1523 733.1,1521.3 733.3,1523.7 733.4,1515.8 733.6,1522.3 733.7,1518.3 733.9,1522.2 734,1514.8 734.2,1517.5 734.3,1518.8 734.5,1517.2 734.6,1517.7 734.8,1523.1 734.9,1518.8 735.1,1519.5 735.2,1516 735.4,1518.9 735.5,1522.2 735.7,1515.2 735.8,1519.6 736,1521.8 736.1,1522.9 736.3,1518.4 736.4,1523.4 736.6,1520.2 736.7,1519.3 736.9,1525.2 737,1523.6 737.2,1525.8 737.3,1519.6 737.5,1520.4 737.6,1520.2 737.8,1520.7 737.9,1518.2 738.1,1513.2 738.2,1518 738.4,1519.5 738.5,1519.7 738.7,1514.9 738.8,1523.9 739,1520 739.1,1516.4 739.3,1522.4 739.4,1516.6 739.6,1522.6 739.7,1520.3 739.9,1521.8 740,1519.9 740.2,1526.7 740.3,1520.8 740.5,1520.3 740.6,1521.2 740.8,1517.2 740.9,1518.5 741.1,1521.3 741.2,1518 741.4,1522.3 741.5,1520.5 741.7,1518.9 741.8,1519.9 742,1516.9 742.1,1520.3 742.3,1521.4 742.4,1517.4 742.6,1519 742.7,1518.1 742.9,1513.2 743,1517.5 743.2,1519.8 743.3,1519.8 743.5,1522.5 743.6,1519.6 743.8,1522.2 743.9,1517.5 744.1,1520.3 744.2,1523.5 744.4,1519.1 744.5,1516.8 744.7,1518.1 744.8,1518.7 745,1515.8 745.1,1521.7 745.3,1519.2 745.4,1520.4 745.6,1518.5 745.7,1523.1 745.9,1517.2 746,1521 746.2,1517.8 746.3,1516.7 746.5,1519.2 746.6,1514.4 746.8,1522.2 746.9,1521.7 747.1,1522 747.2,1520.8 747.4,1518 747.5,1516.5 747.7,1519.6 747.8,1521.3 748,1521.2 748.1,1524.5 748.3,1519.8 748.4,1524.2 748.6,1517.2 748.7,1523 748.9,1514.8 749,1526.1 749.2,1517.8 749.3,1524.7 749.5,1521 749.6,1521.6 749.8,1518.8 749.9,1515.9 750.1,1517 750.2,1524.2 750.4,1517 750.5,1524.5 750.7,1522.1 750.8,1516.2 751,1523.6 751.1,1522 751.3,1520.2 751.4,1523.7 751.6,1518.8 751.7,1524.8 751.9,1517.2 752,1519.5 752.2,1520.4 752.3,1516.9 752.5,1523.3 752.6,1518.9 752.8,1519.2 752.9,1520.4 753.1,1519.7 753.2,1521.5 753.4,1524.1 753.5,1525.5 753.7,1518.5 753.8,1517.8 754,1520.3 754.1,1520.9 754.3,1524 754.4,1515.8 754.6,1521.3 754.7,1518.2 754.9,1518.3 755,1522.4 755.2,1519.8 755.3,1518.3 755.5,1520.8 755.6,1519.8 755.8,1518.7 755.9,1526.8 756.1,1519.1 756.2,1520.7 756.4,1520.4 756.5,1524.4 756.7,1522.1 756.8,1521.1 757,1522 757.1,1520.2 757.3,1522.3 757.4,1521.2 757.6,1521.1 757.7,1515.4 757.9,1520.7 758,1525.1 758.2,1524.3 758.3,1519 758.5,1518.5 758.6,1521.7 758.8,1522.3 758.9,1519 759.1,1525.3 759.2,1519 759.4,1519.6 759.5,1519.4 759.7,1525.6 759.8,1519.4 760,1518 760.1,1521.1 760.3,1522.4 760.4,1523.3 760.6,1520.9 760.7,1518.5 760.9,1519.8 761,1519.2 761.2,1516.9 761.3,1521.8 761.5,1524.5 761.6,1524.1 761.8,1520.9 761.9,1520.4 762.1,1520.1 762.2,1516.3 762.4,1522.8 762.5,1520.8 762.7,1524.9 762.8,1524.5 763,1524 763.1,1521.7 763.3,1514.4 763.4,1520.1 763.6,1519.6 763.7,1524.2 763.9,1521.8 764,1523 764.2,1518.1 764.3,1521 764.5,1517.8 764.6,1523.4 764.8,1520.5 764.9,1519 765.1,1516.2 765.2,1515.4 765.4,1523 765.5,1517 765.7,1520.9 765.8,1520.7 766,1521.1 766.1,1519.9 766.3,1525.5 766.4,1519.2 766.6,1521.9 766.7,1519.9 766.9,1525.7 767,1520.8 767.2,1521.5 767.3,1521.1 767.5,1520.4 767.6,1518 767.8,1520.3 767.9,1519.1 768.1,1522.1 768.2,1523.1 768.4,1521.9 768.5,1522.1 768.7,1518.8 768.8,1518.9 769,1518.3 769.1,1519.4 769.3,1521.5 769.4,1523.1 769.6,1517.4 769.7,1517.5 769.9,1524.6 770,1513.9 770.2,1522 770.3,1516.9 770.5,1522.9 770.6,1519.1 770.8,1519.8 770.9,1517.7 771.1,1519.6 771.2,1522.2 771.4,1516.1 771.5,1524.7 771.7,1521.5 771.8,1524.8 772,1517.8 772.1,1519.9 772.3,1521.2 772.4,1516.1 772.6,1518.4 772.7,1521.2 772.9,1520.5 773,1519.8 773.2,1520.5 773.3,1517.5 773.5,1518.8 773.6,1519.7 773.8,1518.7 773.9,1521.2 774.1,1517.8 774.2,1516.6 774.4,1518.8 774.5,1521 774.7,1520 774.8,1521.5 775,1516.8 775.1,1516.9 775.3,1521.1 775.4,1519.3 775.6,1521.6 775.7,1519.7 775.9,1521.5 776,1516.4 776.2,1522 776.3,1516.9 776.5,1521.4 776.6,1518.8 776.8,1520.2 776.9,1521.6 777.1,1521.9 777.2,1519.4 777.4,1518.2 777.5,1518.7 777.7,1518.5 777.8,1520.6 778,1517 778.1,1520.7 778.3,1520.4 778.4,1520.4 778.6,1519.2 778.7,1524.3 778.9,1518.6 779,1519.3 779.2,1518.5 779.3,1513.3 779.5,1519.4 779.6,1523.3 779.8,1522.6 779.9,1518.3 780.1,1520.9 780.2,1518.7 780.4,1519 780.5,1520.8 780.7,1525.5 780.8,1522.8 781,1522 781.1,1519.6 781.3,1522.2 781.4,1519.7 781.6,1515.1 781.7,1522.4 781.9,1525.3 782,1525.3 782.2,1519.8 782.3,1521.2 782.5,1514.3 782.6,1523.5 782.8,1525.2 782.9,1520.9 783.1,1518.5 783.2,1515.9 783.4,1515.3 783.5,1517.3 783.7,1520.2 783.8,1521.2 784,1522.1 784.1,1518.8 784.3,1520 784.4,1523.3 784.6,1521 784.7,1523.1 784.9,1519.1 785,1519 785.2,1518.4 785.3,1522.7 785.5,1521.8 785.6,1520.9 785.8,1524.6 785.9,1521.7 786.1,1520.9 786.2,1519.8 786.4,1521.9 786.5,1516 786.7,1518.3 786.8,1521.6 787,1522 787.1,1520.9 787.3,1518.7 787.4,1518.1 787.6,1518.1 787.7,1518.7 787.9,1519 788,1522.8 788.2,1521.2 788.3,1519.8 788.5,1518.9 788.6,1523.3 788.8,1517.9 788.9,1517.1 789.1,1524.5 789.2,1524.8 789.4,1523.3 789.5,1522.6 789.7,1519.4 789.8,1517.2 790,1517 790.1,1521 790.3,1521.9 790.4,1516.1 790.6,1518.2 790.7,1519.1 790.9,1521.3 791,1521.7 791.2,1518.6 791.3,1520.2 791.5,1520.5 791.6,1520.8 791.8,1518.7 791.9,1517.7 792.1,1518.6 792.2,1519.9 792.4,1524.9 792.5,1519 792.7,1520.3 792.8,1525.7 793,1521.6 793.1,1522.9 793.3,1520.3 793.4,1520.2 793.6,1518.5 793.7,1515.3 793.9,1524.3 794,1517.5 794.2,1523.4 794.3,1517.7 794.5,1519.9 794.6,1520.3 794.8,1527.3 794.9,1519.5 795.1,1518.6 795.2,1520 795.4,1518.5 795.5,1516 795.7,1519.8 795.8,1519.2 796,1520.3 796.1,1523.3 796.3,1516.7 796.4,1517.6 796.6,1521.6 796.7,1521.4 796.9,1518.3 797,1519.8 797.2,1522.6 797.3,1522.1 797.5,1516.4 797.6,1521.6 797.8,1520.9 797.9,1518.9 798.1,1518.4 798.2,1518 798.4,1521.2 798.5,1520.9 798.7,1520 798.8,1522.4 799,1514.9 799.1,1520.7 799.3,1517.2 799.4,1522.2 799.6,1521.9 799.7,1521.8 799.9,1521.8 800,1524.1 800.2,1521.9 800.3,1518.8 800.5,1516.8 800.6,1517.4 800.8,1517.2 800.9,1515.5 801.1,1519.5 801.2,1517.3 801.4,1516.8 801.5,1521 801.7,1519.8 801.8,1517.5 802,1515.7 802.1,1522.7 802.3,1515.9 802.4,1521.2 802.6,1522.9 802.7,1522.4 802.9,1525.1 803,1520.8 803.2,1520.1 803.3,1516.5 803.5,1518.3 803.6,1516.4 803.8,1513.8 803.9,1515.5 804.1,1521.2 804.2,1521.9 804.4,1519.8 804.5,1520.4 804.7,1518.4 804.8,1521 805,1521.7 805.1,1517.1 805.3,1518.7 805.4,1516.6 805.6,1516.5 805.7,1521.6 805.9,1517.5 806,1518.4 806.2,1518.2 806.3,1518.1 806.5,1521.7 806.6,1521.3 806.8,1523 806.9,1523.7 807.1,1522.5 807.2,1524.4 807.4,1517.9 807.5,1519.2 807.7,1520.1 807.8,1518.2 808,1524.8 808.1,1514.6 808.3,1522.8 808.4,1519.6 808.6,1520.1 808.7,1521.8 808.9,1518.7 809,1520.9 809.2,1517.9 809.3,1517.7 809.5,1520.6 809.6,1515.2 809.8,1518 809.9,1521.5 810.1,1521.7 810.2,1518.2 810.4,1526.7 810.5,1522.8 810.7,1519.8 810.8,1518.6 811,1519.9 811.1,1520 811.3,1522.5 811.4,1522.9 811.6,1516 811.7,1521.1 811.9,1519.6 812,1520.6 812.2,1516.6 812.3,1525.4 812.5,1520.5 812.6,1522.4 812.8,1520.9 812.9,1519.3 813.1,1522.9 813.2,1516.8 813.4,1521.7 813.5,1518.1 813.7,1520.4 813.8,1520 814,1518.1 814.1,1520.2 814.3,1518.9 814.4,1520.2 814.6,1519 814.7,1523.4 814.9,1523.4 815,1519.5 815.2,1520.5 815.3,1520.8 815.5,1521.6 815.6,1524.6 815.8,1519 815.9,1518.6 816.1,1521.3 816.2,1524.6 816.4,1524.3 816.5,1518.7 816.7,1521.3 816.8,1520.3 817,1521.9 817.1,1518.4 817.3,1520.1 817.4,1523.4 817.6,1525.1 817.7,1522.3 817.9,1523.4 818,1523.5 818.2,1517.6 818.3,1517.8 818.5,1519.2 818.6,1520.3 818.8,1514.5 818.9,1522.6 819.1,1520.4 819.2,1521.8 819.4,1522.9 819.5,1517.5 819.7,1520.8 819.8,1522.5 820,1522.8 820.1,1521 820.3,1522 820.4,1523.8 820.6,1522.6 820.7,1519.7 820.9,1524.4 821,1522 821.2,1514.5 821.3,1519.5 821.5,1521.8 821.6,1520 821.8,1521.2 821.9,1521.2 822.1,1517.6 822.2,1519.8 822.4,1518.6 822.5,1521.5 822.7,1521.3 822.8,1518.6 823,1516.5 823.1,1519.2 823.3,1521.6 823.4,1518.1 823.6,1519.2 823.7,1521.2 823.9,1521.6 824,1520.2 824.2,1523.8 824.3,1521.2 824.5,1524.3 824.6,1517.1 824.8,1519.4 824.9,1518.6 825.1,1522.8 825.2,1518.2 825.4,1518.9 825.5,1522.2 825.7,1517.1 825.8,1520.6 826,1519.8 826.1,1519.3 826.3,1522.3 826.4,1521 826.6,1520.6 826.7,1520.1 826.9,1521.2 827,1518.6 827.2,1522 827.3,1523.7 827.5,1519.8 827.6,1521.2 827.8,1519.7 827.9,1515.8 828.1,1517.5 828.2,1517.4 828.4,1520 828.5,1519.8 828.7,1520.8 828.8,1520 829,1518.7 829.1,1518.2 829.3,1519.9 829.4,1522.1 829.6,1517.9 829.7,1524.9 829.9,1521.8 830,1519.7 830.2,1515.6 830.3,1518.2 830.5,1515.9 830.6,1519.1 830.8,1523.7 830.9,1520.8 831.1,1522.2 831.2,1520.2 831.4,1521.4 831.5,1521.2 831.7,1518.4 831.8,1518.4 832,1515.2 832.1,1520.6 832.3,1519.8 832.4,1518.1 832.6,1519.7 832.7,1521.3 832.9,1520.7 833,1524.5 833.2,1522.3 833.3,1519.7 833.5,1520 833.6,1522.1 833.8,1520.8 833.9,1513.6 834.1,1517 834.2,1519.6 834.4,1522.9 834.5,1517.5 834.7,1522.6 834.8,1526.2 835,1518.8 835.1,1515.3 835.3,1524.5 835.4,1525.3 835.6,1522.1 835.7,1518.7 835.9,1521.2 836,1521.3 836.2,1522 836.3,1518.9 836.5,1517.5 836.6,1520.8 836.8,1516.6 836.9,1520.8 837.1,1519 837.2,1520.2 837.4,1521.2 837.5,1520.7 837.7,1526.1 837.8,1520 838,1515.4 838.1,1516.3 838.3,1518.1 838.4,1519 838.6,1523.5 838.7,1518.7 838.9,1523.6 839,1519.1 839.2,1517.5 839.3,1524.7 839.5,1521.3 839.6,1517.9 839.8,1519.5 839.9,1520.4 840.1,1516.8 840.2,1516.4 840.4,1521.5 840.5,1524.8 840.7,1521.5 840.8,1519.8 841,1514.3 841.1,1517.3 841.3,1521.7 841.4,1517.1 841.6,1521.7 841.7,1522.2 841.9,1522.2 842,1520.4 842.2,1518.5 842.3,1519 842.5,1522.6 842.6,1520.2 842.8,1526.3 842.9,1522.4 843.1,1526.2 843.2,1521.2 843.4,1515.4 843.5,1518.4 843.7,1523.1 843.8,1518.9 844,1519.1 844.1,1522 844.3,1520.9 844.4,1523.8 844.6,1516.6 844.7,1520.7 844.9,1523.8 845,1525 845.2,1516.8 845.3,1524.7 845.5,1521.4 845.6,1522.7 845.8,1522.1 845.9,1520.1 846.1,1518.9 846.2,1522 846.4,1521.8 846.5,1519.1 846.7,1519.9 846.8,1518 847,1524.3 847.1,1517.7 847.3,1517.3 847.4,1523.7 847.6,1520.6 847.7,1519.4 847.9,1519.9 848,1517.8 848.2,1516.8 848.3,1517.1 848.5,1523.2 848.6,1516.4 848.8,1517.8 848.9,1522.5 849.1,1522.9 849.2,1518.7 849.4,1521.9 849.5,1521.9 849.7,1523.1 849.8,1517.5 850,1521.5 850.1,1517.5 850.3,1523.7 850.4,1522.3 850.6,1519.8 850.7,1518.2 850.9,1515.1 851,1519.9 851.2,1521.2 851.3,1523.5 851.5,1516.6 851.6,1519.9 851.8,1519.4 851.9,1519.6 852.1,1519.5 852.2,1520.5 852.4,1519.7 852.5,1519.5 852.7,1519.7 852.8,1517.9 853,1519.1 853.1,1524 853.3,1523.6 853.4,1522.3 853.6,1520 853.7,1518.5 853.9,1518 854,1519 854.2,1520.3 854.3,1523.3 854.5,1519.5 854.6,1519.1 854.8,1522.7 854.9,1518.9 855.1,1519.3 855.2,1522.3 855.4,1519.4 855.5,1519.4 855.7,1521.8 855.8,1520.6 856,1520.1 856.1,1521 856.3,1524.9 856.4,1519.8 856.6,1524.2 856.7,1518.4 856.9,1519.5 857,1517.6 857.2,1519.9 857.3,1521.5 857.5,1520.5 857.6,1523.3 857.8,1518.3 857.9,1519.2 858.1,1520.4 858.2,1517 858.4,1523.9 858.5,1519.9 858.7,1523 858.8,1524.9 859,1521.4 859.1,1522.7 859.3,1516.5 859.4,1521.8 859.6,1524.5 859.7,1516 859.9,1518.7 860,1518 860.2,1519.3 860.3,1519.1 860.5,1517.1 860.6,1517.1 860.8,1521.4 860.9,1517.2 861.1,1526.8 861.2,1521.1 861.4,1521.2 861.5,1520.8 861.7,1519.4 861.8,1520.1 862,1516.4 862.1,1525.5 862.3,1522.3 862.4,1519.1 862.6,1519.4 862.7,1523.4 862.9,1521.3 863,1521.7 863.2,1520.5 863.3,1520.8 863.5,1523.9 863.6,1522.6 863.8,1523.8 863.9,1520.7 864.1,1517.7 864.2,1516.8 864.4,1518.1 864.5,1520 864.7,1525.3 864.8,1520 865,1524.7 865.1,1523.4 865.3,1522.5 865.4,1520.4 865.6,1520.5 865.7,1524.2 865.9,1525.6 866,1519.9 866.2,1520.9 866.3,1524.9 866.5,1519.5 866.6,1523.7 866.8,1518.9 866.9,1518.1 867.1,1515.9 867.2,1520 867.4,1524 867.5,1515.4 867.7,1525.1 867.8,1521.2 868,1522.8 868.1,1520.4 868.3,1518.5 868.4,1517.9 868.6,1523.9 868.7,1527.6 868.9,1518.7 869,1518 869.2,1519.8 869.3,1517.9 869.5,1522.1 869.6,1521.8 869.8,1525.3 869.9,1519.6 870.1,1522.9 870.2,1519.4 870.4,1522.9 870.5,1523.8 870.7,1526.6 870.8,1521.7 871,1522.4 871.1,1520.1 871.3,1524.2 871.4,1520.5 871.6,1522.8 871.7,1521.9 871.9,1523.7 872,1522.4 872.2,1520.3 872.3,1517.9 872.5,1522.6 872.6,1520.8 872.8,1518.5 872.9,1522 873.1,1517.1 873.2,1521.9 873.4,1520.9 873.5,1519.1 873.7,1520.4 873.8,1518.6 874,1518 874.1,1518.9 874.3,1520.4 874.4,1524.2 874.6,1521.2 874.7,1519.8 874.9,1522.6 875,1519.3 875.2,1520.5 875.3,1520.6 875.5,1521.8 875.6,1520.7 875.8,1520.1 875.9,1521.6 876.1,1519.8 876.2,1524.1 876.4,1520.9 876.5,1519.7 876.7,1525.1 876.8,1521.6 877,1520.9 877.1,1522.7 877.3,1519.3 877.4,1516.4 877.6,1517.5 877.7,1520.2 877.9,1518.9 878,1516 878.2,1521.2 878.3,1520.2 878.5,1519.3 878.6,1518.2 878.8,1522.1 878.9,1519.3 879.1,1525.7 879.2,1519.6 879.4,1522 879.5,1521.1 879.7,1514.6 879.8,1521.1 880,1525.2 880.1,1520.1 880.3,1519.1 880.4,1521.6 880.6,1521.1 880.7,1519.7 880.9,1520.1 881,1524.1 881.2,1522.8 881.3,1519.9 881.5,1519.9 881.6,1520.7 881.8,1517.7 881.9,1518.8 882.1,1522.1 882.2,1519.3 882.4,1518.4 882.5,1524.1 882.7,1522 882.8,1520.9 883,1525.4 883.1,1517.7 883.3,1517.6 883.4,1527.5 883.6,1523.4 883.7,1517.7 883.9,1516.1 884,1519.6 884.2,1516.4 884.3,1519.5 884.5,1520.3 884.6,1516.7 884.8,1522.6 884.9,1522.3 885.1,1521.2 885.2,1521.6 885.4,1524 885.5,1523.6 885.7,1516.2 885.8,1520.9 886,1522.5 886.1,1524.5 886.3,1523.5 886.4,1521.6 886.6,1524.5 886.7,1518.3 886.9,1522.3 887,1519.6 887.2,1522.9 887.3,1521.3 887.5,1525.5 887.6,1523.4 887.8,1522.8 887.9,1519.4 888.1,1523.7 888.2,1518 888.4,1523.5 888.5,1521.3 888.7,1520.4 888.8,1521.8 889,1523.4 889.1,1523.5 889.3,1520.7 889.4,1523.4 889.6,1516.8 889.7,1519.6 889.9,1522.1 890,1524.7 890.2,1518.8 890.3,1516.1 890.5,1523.5 890.6,1525.5 890.8,1519.4 890.9,1516.5 891.1,1519.7 891.2,1523.9 891.4,1522.5 891.5,1519.4 891.7,1523.7 891.8,1520.4 892,1519.7 892.1,1518.4 892.3,1523.8 892.4,1520.9 892.6,1519.4 892.7,1521.5 892.9,1519.2 893,1521.9 893.2,1523.7 893.3,1524.8 893.5,1522.2 893.6,1521.6 893.8,1518.8 893.9,1520.7 894.1,1523.9 894.2,1520 894.4,1516.6 894.5,1523.2 894.7,1520.6 894.8,1526.1 895,1515.4 895.1,1519 895.3,1517.9 895.4,1520.8 895.6,1520.3 895.7,1521.6 895.9,1522.8 896,1516.4 896.2,1518.3 896.3,1522.5 896.5,1522 896.6,1520.8 896.8,1520.1 896.9,1516.7 897.1,1525.3 897.2,1523 897.4,1526.1 897.5,1522.8 897.7,1521 897.8,1516.7 898,1518.6 898.1,1518.7 898.3,1522 898.4,1515.9 898.6,1517.8 898.7,1521.7 898.9,1522.3 899,1519.1 899.2,1523.8 899.3,1523 899.5,1519.4 899.6,1520.7 899.8,1522 899.9,1521 900.1,1521.3 900.2,1521.5 900.4,1520.2 900.5,1525.2 900.7,1518.8 900.8,1521.5 901,1521.3 901.1,1520.8 901.3,1519.5 901.4,1514.7 901.6,1522.8 901.7,1523 901.9,1521.4 902,1522.1 902.2,1525.1 902.3,1521.9 902.5,1522.2 902.6,1517.1 902.8,1518.7 902.9,1525.8 903.1,1526.3 903.2,1516.4 903.4,1521.6 903.5,1525.8 903.7,1522.4 903.8,1517.5 904,1519.8 904.1,1515.6 904.3,1516.7 904.4,1521.6 904.6,1518.3 904.7,1524.3 904.9,1519.4 905,1519.6 905.2,1520.1 905.3,1519.5 905.5,1515.3 905.6,1523 905.8,1522.3 905.9,1520.5 906.1,1521.4 906.2,1518.5 906.4,1520.4 906.5,1524.2 906.7,1519.7 906.8,1521.8 907,1524.1 907.1,1518.5 907.3,1522.8 907.4,1521.8 907.6,1519 907.7,1522.6 907.9,1522.9 908,1522.1 908.2,1520.2 908.3,1521 908.5,1517.9 908.6,1522.9 908.8,1517.7 908.9,1519.3 909.1,1518.9 909.2,1520.8 909.4,1524.3 909.5,1521.5 909.7,1519 909.8,1517.9 910,1522.1 910.1,1520.9 910.3,1519.7 910.4,1518.6 910.6,1520.1 910.7,1523.7 910.9,1523.4 911,1520.4 911.2,1522 911.3,1514.5 911.5,1523.8 911.6,1520.4 911.8,1522.5 911.9,1519.5 912.1,1516 912.2,1525.9 912.4,1521.4 912.5,1522 912.7,1519.5 912.8,1522.3 913,1520.4 913.1,1523.4 913.3,1518.1 913.4,1518.2 913.6,1522.1 913.7,1526.5 913.9,1521.7 914,1521.1 914.2,1523.5 914.3,1517.2 914.5,1524.9 914.6,1515.7 914.8,1520.1 914.9,1518.9 915.1,1523.4 915.2,1524 915.4,1519.7 915.5,1515.8 915.7,1521.4 915.8,1517.2 916,1519.7 916.1,1522.8 916.3,1519.5 916.4,1518.4 916.6,1521 916.7,1518.9 916.9,1519.6 917,1517.1 917.2,1521.6 917.3,1521.6 917.5,1518.7 917.6,1524.8 917.8,1520.8 917.9,1521.9 918.1,1521.8 918.2,1518.2 918.4,1520.1 918.5,1520.8 918.7,1518.4 918.8,1523.9 919,1518.8 919.1,1522.3 919.3,1519.6 919.4,1516.5 919.6,1520.5 919.7,1522.9 919.9,1524.5 920,1522.4 920.2,1522.6 920.3,1523.5 920.5,1523.6 920.6,1522.5 920.8,1522.7 920.9,1521.4 921.1,1521.8 921.2,1517.3 921.4,1521.8 921.5,1521.7 921.7,1520.3 921.8,1520.3 922,1522.7 922.1,1523.2 922.3,1522.1 922.4,1522.6 922.6,1518.2 922.7,1523.6 922.9,1522.1 923,1520.8 923.2,1519.7 923.3,1517.2 923.5,1521.8 923.6,1521.5 923.8,1517.3 923.9,1517.6 924.1,1521.2 924.2,1523.7 924.4,1519.7 924.5,1524.4 924.7,1517.4 924.8,1519 925,1524 925.1,1518.6 925.3,1523.3 925.4,1522 925.6,1517.8 925.7,1524.1 925.9,1526 926,1524 926.2,1520.2 926.3,1520.6 926.5,1523.1 926.6,1526.1 926.8,1522.1 926.9,1523.7 927.1,1519.2 927.2,1525.9 927.4,1519.3 927.5,1521.7 927.7,1520.5 927.8,1520 928,1519.9 928.1,1523.9 928.3,1519.2 928.4,1524.3 928.6,1519.2 928.7,1521 928.9,1522.3 929,1521.1 929.2,1520.4 929.3,1520.7 929.5,1518.7 929.6,1520.4 929.8,1521.5 929.9,1514.9 930.1,1522.8 930.2,1523.7 930.4,1519.6 930.5,1517.9 930.7,1518 930.8,1518 931,1517.3 931.1,1522.5 931.3,1518.5 931.4,1523.6 931.6,1519.9 931.7,1523 931.9,1520 932,1519.5 932.2,1519.6 932.3,1521.4 932.5,1522.4 932.6,1517.9 932.8,1517.1 932.9,1521.6 933.1,1525.5 933.2,1520.7 933.4,1518.3 933.5,1521.4 933.7,1521.8 933.8,1518.7 934,1517.5 934.1,1523 934.3,1523.5 934.4,1521.7 934.6,1524.4 934.7,1519.6 934.9,1524.3 935,1517.4 935.2,1521.9 935.3,1521.6 935.5,1518.7 935.6,1519.2 935.8,1519.9 935.9,1519.3 936.1,1522.5 936.2,1515.8 936.4,1524.3 936.5,1522.2 936.7,1523.3 936.8,1523.4 937,1518 937.1,1517.4 937.3,1517.5 937.4,1519.9 937.6,1525.2 937.7,1524.9 937.9,1523.6 938,1523 938.2,1520 938.3,1519.9 938.5,1521.2 938.6,1525 938.8,1519.3 938.9,1521 939.1,1525.4 939.2,1520 939.4,1523.1 939.5,1516 939.7,1524.5 939.8,1519.4 940,1521.9 940.1,1526.4 940.3,1524.7 940.4,1524.6 940.6,1521.9 940.7,1518.1 940.9,1520 941,1517.1 941.2,1519.2 941.3,1517.8 941.5,1520.6 941.6,1519.5 941.8,1519.3 941.9,1521.9 942.1,1520.6 942.2,1522.8 942.4,1521.7 942.5,1523.3 942.7,1521.8 942.8,1522.1 943,1518.5 943.1,1522.8 943.3,1523.2 943.4,1520.5 943.6,1522.3 943.7,1522.4 943.9,1520.8 944,1520.3 944.2,1520.9 944.3,1518.3 944.5,1516.7 944.6,1518.3 944.8,1521.8 944.9,1524.3 945.1,1524 945.2,1520.9 945.4,1524.9 945.5,1520.4 945.7,1522.5 945.8,1521.4 946,1519.8 946.1,1520.8 946.3,1526.4 946.4,1525.5 946.6,1517.6 946.7,1521.7 946.9,1517.7 947,1521.7 947.2,1520.5 947.3,1522.8 947.5,1520 947.6,1519.1 947.8,1520.7 947.9,1519 948.1,1520.7 948.2,1526.5 948.4,1519.7 948.5,1519.1 948.7,1523.3 948.8,1518.9 949,1524.3 949.1,1521.8 949.3,1520.2 949.4,1527.5 949.6,1519.9 949.7,1521.3 949.9,1519.1 950,1522.6 950.2,1521.5 950.3,1521.4 950.5,1521.3 950.6,1523.8 950.8,1518 950.9,1524.7 951.1,1522.3 951.2,1520.5 951.4,1523.3 951.5,1518.9 951.7,1522.6 951.8,1523 952,1520.1 952.1,1516.5 952.3,1521.7 952.4,1518.5 952.6,1522.8 952.7,1521.4 952.9,1521.1 953,1519.4 953.2,1520.1 953.3,1523.3 953.5,1522.8 953.6,1521.7 953.8,1520 953.9,1514.8 954.1,1521.3 954.2,1516.7 954.4,1516 954.5,1522.3 954.7,1523.5 954.8,1518.5 955,1524.9 955.1,1517.6 955.3,1521.5 955.4,1519.3 955.6,1520.3 955.7,1525.6 955.9,1518.7 956,1520.3 956.2,1527.3 956.3,1525.9 956.5,1520.8 956.6,1521 956.8,1521.5 956.9,1521.1 957.1,1523.9 957.2,1522.6 957.4,1518.1 957.5,1527.3 957.7,1528.2 957.8,1518 958,1520 958.1,1517.1 958.3,1519.2 958.4,1518.5 958.6,1520.5 958.7,1524.8 958.9,1523.8 959,1518.9 959.2,1520.7 959.3,1519.2 959.5,1517.2 959.6,1521.4 959.8,1515.8 959.9,1522.6 960.1,1521.3 960.2,1519.4 960.4,1519.1 960.5,1521.9 960.7,1518.9 960.8,1525.4 961,1520.3 961.1,1518.7 961.3,1520.8 961.4,1521.2 961.6,1520.8 961.7,1523.5 961.9,1516.2 962,1520.6 962.2,1521.6 962.3,1521.1 962.5,1520.1 962.6,1522.5 962.8,1524.4 962.9,1518.6 963.1,1522.7 963.2,1522.3 963.4,1525.9 963.5,1520 963.7,1518.9 963.8,1519.6 964,1520.1 964.1,1525.9 964.3,1516.8 964.4,1519.6 964.6,1522.3 964.7,1519.1 964.9,1520.4 965,1520.2 965.2,1522.5 965.3,1520.9 965.5,1522 965.6,1519.7 965.8,1521.7 965.9,1520.2 966.1,1521.2 966.2,1519.5 966.4,1518.9 966.5,1520.6 966.7,1518.3 966.8,1520.9 967,1514.5 967.1,1517.9 967.3,1517.8 967.4,1524.7 967.6,1522.1 967.7,1520.8 967.9,1519.7 968,1520 968.2,1519.7 968.3,1523.8 968.5,1515.8 968.6,1520.2 968.8,1519.4 968.9,1520.8 969.1,1520.8 969.2,1521 969.4,1516.7 969.5,1522.1 969.7,1519.7 969.8,1517.8 970,1524.5 970.1,1523.3 970.3,1523.9 970.4,1519.9 970.6,1525.4 970.7,1522.1 970.9,1521.3 971,1522.2 971.2,1525.8 971.3,1516.9 971.5,1523.3 971.6,1523.1 971.8,1518.5 971.9,1522.7 972.1,1522.8 972.2,1523.8 972.4,1522.4 972.5,1520.9 972.7,1518.4 972.8,1521.7 973,1520.9 973.1,1526.4 973.3,1520.9 973.4,1519.3 973.6,1518.8 973.7,1525.9 973.9,1523.9 974,1525.9 974.2,1521.9 974.3,1518.3 974.5,1525.6 974.6,1520.5 974.8,1523.3 974.9,1518.8 975.1,1523.2 975.2,1526.4 975.4,1523.2 975.5,1522.3 975.7,1523.1 975.8,1523.9 976,1520.3 976.1,1520.6 976.3,1522.6 976.4,1520.2 976.6,1521 976.7,1518.2 976.9,1517 977,1516.7 977.2,1522.7 977.3,1519.9 977.5,1522 977.6,1520.3 977.8,1520 977.9,1521.7 978.1,1521.9 978.2,1519.3 978.4,1522.6 978.5,1523.2 978.7,1524.3 978.8,1524.8 979,1519.6 979.1,1518.8 979.3,1522.1 979.4,1523.3 979.6,1517.8 979.7,1522.3 979.9,1523.2 980,1522.6 980.2,1519.7 980.3,1521.3 980.5,1517.6 980.6,1519.2 980.8,1521 980.9,1526.1 981.1,1523.9 981.2,1517.6 981.4,1518.3 981.5,1519.7 981.7,1519.6 981.8,1521.1 982,1521.5 982.1,1524 982.3,1519.6 982.4,1520.2 982.6,1524.4 982.7,1524.7 982.9,1520.6 983,1523.3 983.2,1517.4 983.3,1521.3 983.5,1524.4 983.6,1522.8 983.8,1523.5 983.9,1523.5 984.1,1519.8 984.2,1523.5 984.4,1524.4 984.5,1527.6 984.7,1520.1 984.8,1520.9 985,1527.1 985.1,1518.6 985.3,1522.7 985.4,1517 985.6,1521.2 985.7,1523.2 985.9,1519.9 986,1518.7 986.2,1524.8 986.3,1520.9 986.5,1520.1 986.6,1522.4 986.8,1524.4 986.9,1523.2 987.1,1519 987.2,1519.1 987.4,1520.8 987.5,1516.8 987.7,1519.7 987.8,1518.9 988,1519.5 988.1,1520.7 988.3,1521.5 988.4,1519.6 988.6,1522.5 988.7,1521.5 988.9,1528.2 989,1524.6 989.2,1525.1 989.3,1516.8 989.5,1526.7 989.6,1521 989.8,1519.1 989.9,1522.5 990.1,1522.1 990.2,1521 990.4,1526.8 990.5,1521.9 990.7,1518.3 990.8,1519.5 991,1521.6 991.1,1521.7 991.3,1518.9 991.4,1523.8 991.6,1520.9 991.7,1518.7 991.9,1524.7 992,1522.1 992.2,1519.5 992.3,1516.2 992.5,1524.3 992.6,1519.1 992.8,1516.8 992.9,1519.8 993.1,1521.4 993.2,1521.6 993.4,1524.8 993.5,1518 993.7,1525.3 993.8,1521.9 994,1522.8 994.1,1520.6 994.3,1522.8 994.4,1518.3 994.6,1526.4 994.7,1527 994.9,1521.9 995,1525.4 995.2,1520 995.3,1520 995.5,1519.7 995.6,1524.6 995.8,1523.7 995.9,1523 996.1,1521.3 996.2,1521.7 996.4,1519.9 996.5,1523.1 996.7,1516.6 996.8,1521 997,1520.5 997.1,1527.9 997.3,1524.1 997.4,1519.3 997.6,1523.2 997.7,1523.3 997.9,1524.8 998,1522.3 998.2,1519.8 998.3,1521.7 998.5,1518.7 998.6,1524.1 998.8,1520.2 998.9,1521.3 999.1,1521.3 999.2,1525.5 999.4,1521.8 999.5,1521.1 999.7,1525.8 999.8,1517.2 1000,1521.8 1000.1,1525.1 1000.3,1518.7 1000.4,1524.6 1000.6,1520.8 1000.7,1526 1000.9,1518.8 1001,1520.8 1001.2,1522 1001.3,1523.9 1001.5,1524.7 1001.6,1518 1001.8,1522.4 1001.9,1518.7 1002.1,1524.4 1002.2,1521.7 1002.4,1524.7 1002.5,1520.7 1002.7,1526.9 1002.8,1519.8 1003,1525.2 1003.1,1520.7 1003.3,1521.5 1003.4,1522 1003.6,1522 1003.7,1517.4 1003.9,1524.6 1004,1523.7 1004.2,1518.9 1004.3,1520.1" fill="none" stroke="#cc0a0a" stroke-width="2.5" stroke-linejoin="round"/>
<path d="M110.4,1549 H1004.2 V893 M110.4,1549 V893 H1004.2" fill="none" stroke="#000" stroke-width="4.3" stroke-linejoin="miter" stroke-linecap="square"/>
<text x="163.2" y="1583" font-size="28" fill="#000" text-anchor="middle" font-weight="bold" >600</text>
<text x="294.6" y="1583" font-size="28" fill="#000" text-anchor="middle" font-weight="bold" >650</text>
<text x="426.1" y="1583" font-size="28" fill="#000" text-anchor="middle" font-weight="bold" >700</text>
<text x="557.5" y="1583" font-size="28" fill="#000" text-anchor="middle" font-weight="bold" >750</text>
<text x="688.9" y="1583" font-size="28" fill="#000" text-anchor="middle" font-weight="bold" >800</text>
<text x="820.4" y="1583" font-size="28" fill="#000" text-anchor="middle" font-weight="bold" >850</text>
<text x="951.8" y="1583" font-size="28" fill="#000" text-anchor="middle" font-weight="bold" >900</text>
<text x="97.5" y="1530.2" font-size="28" fill="#000" text-anchor="end" font-weight="bold" >0</text>
<text x="97.5" y="1425.3" font-size="28" fill="#000" text-anchor="end" font-weight="bold" >100</text>
<text x="97.5" y="1320.4" font-size="28" fill="#000" text-anchor="end" font-weight="bold" >200</text>
<text x="97.5" y="1215.5" font-size="28" fill="#000" text-anchor="end" font-weight="bold" >300</text>
<text x="97.5" y="1110.6" font-size="28" fill="#000" text-anchor="end" font-weight="bold" >400</text>
<text x="97.5" y="1005.7" font-size="28" fill="#000" text-anchor="end" font-weight="bold" >500</text>
<text x="97.5" y="900.8" font-size="28" fill="#000" text-anchor="end" font-weight="bold" >600</text>
<text x="138" y="871" font-size="28" fill="#000" text-anchor="middle" font-weight="bold" >2.1</text>
<text x="215.6" y="871" font-size="28" fill="#000" text-anchor="middle" font-weight="bold" >2.0</text>
<text x="301.3" y="871" font-size="28" fill="#000" text-anchor="middle" font-weight="bold" >1.9</text>
<text x="396.6" y="871" font-size="28" fill="#000" text-anchor="middle" font-weight="bold" >1.8</text>
<text x="503.1" y="871" font-size="28" fill="#000" text-anchor="middle" font-weight="bold" >1.7</text>
<text x="623" y="871" font-size="28" fill="#000" text-anchor="middle" font-weight="bold" >1.6</text>
<text x="758.8" y="871" font-size="28" fill="#000" text-anchor="middle" font-weight="bold" >1.5</text>
<text x="914" y="871" font-size="28" fill="#000" text-anchor="middle" font-weight="bold" >1.4</text>
<text x="557" y="834" font-size="34" fill="#000" text-anchor="middle" font-weight="bold" >Energy (eV)</text>
<text x="557" y="1626" font-size="34" fill="#000" text-anchor="middle" font-weight="bold" >Wavelength (nm)</text>
<text transform="translate(26.3,1217) rotate(-90)" font-size="34" font-weight="bold" text-anchor="middle">Intensity (counts)</text>
<text x="11.5" y="832.4" font-size="45" font-weight="normal" stroke="#000" stroke-width="1.3" letter-spacing="1.5">(b)</text>
<text x="921" y="953" font-size="34" fill="#000" text-anchor="middle" font-weight="bold" >532 nm</text>
<text x="213" y="945.5" font-size="33.6" fill="#0d0d9c" text-anchor="start" font-weight="bold" >2L-WS<tspan font-size="24" dy="8">2</tspan></text>
<text x="250" y="986" font-size="33.6" fill="#0d0d9c" text-anchor="start" font-weight="bold" >X<tspan font-size="22" dy="7.5">A</tspan></text>
<text x="451" y="1142.4" font-size="33.6" fill="#0d0d9c" text-anchor="start" font-weight="bold" >X<tspan font-size="23" dy="8">I</tspan></text>
<text x="397" y="977.5" font-size="33.6" fill="#9b00d3" text-anchor="start" font-weight="bold" >1L-WSe<tspan font-size="24" dy="8">2</tspan></text>
<text x="585" y="945.4" font-size="33.6" fill="#9b00d3" text-anchor="start" font-weight="bold" >X<tspan font-size="22" dy="7.5">A</tspan></text>
<text x="584" y="1001.3" font-size="28" fill="#9b00d3" text-anchor="start" font-weight="bold" >x0.01</text>
<text x="606" y="1235.2" font-size="33.6" fill="#f5841f" text-anchor="start" font-weight="bold" >2L-WSe<tspan font-size="24" dy="8">2</tspan></text>
<text x="603" y="1289.7" font-size="33.6" fill="#f5841f" text-anchor="start" font-weight="bold" >X<tspan font-size="22" dy="7.5">A</tspan></text>
<text x="701" y="1400.3" font-size="33.6" fill="#f5841f" text-anchor="start" font-weight="bold" >X<tspan font-size="23" dy="8">I</tspan></text>
<text x="650" y="1302" font-size="33.6" fill="#0a8078" text-anchor="start" font-weight="bold" >1L-WSe<tspan font-size="24" dy="8">2</tspan><tspan dy="-8">/2L-WS</tspan><tspan font-size="24" dy="8">2</tspan></text>
<text x="235" y="1417" font-size="33.6" fill="#cc0a0a" text-anchor="start" font-weight="bold" >2L-WSe<tspan font-size="24" dy="8">2</tspan><tspan dy="-8">/2L-WS</tspan><tspan font-size="24" dy="8">2</tspan></text>
</svg></body></html>
